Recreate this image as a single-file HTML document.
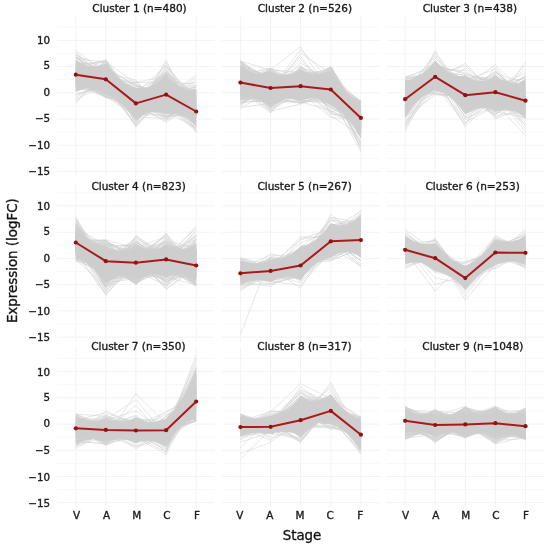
<!DOCTYPE html><html><head><meta charset="utf-8"><style>html,body{margin:0;padding:0;background:#fff;}svg{display:block;}text{font-family:"DejaVu Sans","Liberation Sans",sans-serif;stroke:#1a1a1a;stroke-width:0.35px;}</style></head><body>
<svg width="550" height="547" viewBox="0 0 550 547">
<rect width="550" height="547" fill="#fff"/>
<path d="M57.2 158.3H214.7M57.2 132.1H214.7M57.2 105.9H214.7M57.2 79.6H214.7M57.2 53.4H214.7M57.2 27.2H214.7M221.9 158.3H379.4M221.9 132.1H379.4M221.9 105.9H379.4M221.9 79.6H379.4M221.9 53.4H379.4M221.9 27.2H379.4M386.6 158.3H544M386.6 132.1H544M386.6 105.9H544M386.6 79.6H544M386.6 53.4H544M386.6 27.2H544M57.2 324H214.7M57.2 297.7H214.7M57.2 271.5H214.7M57.2 245.3H214.7M57.2 219.1H214.7M57.2 192.8H214.7M221.9 324H379.4M221.9 297.7H379.4M221.9 271.5H379.4M221.9 245.3H379.4M221.9 219.1H379.4M221.9 192.8H379.4M386.6 324H544M386.6 297.7H544M386.6 271.5H544M386.6 245.3H544M386.6 219.1H544M386.6 192.8H544M57.2 489.6H214.7M57.2 463.4H214.7M57.2 437.2H214.7M57.2 410.9H214.7M57.2 384.7H214.7M57.2 358.5H214.7M221.9 489.6H379.4M221.9 463.4H379.4M221.9 437.2H379.4M221.9 410.9H379.4M221.9 384.7H379.4M221.9 358.5H379.4M386.6 489.6H544M386.6 463.4H544M386.6 437.2H544M386.6 410.9H544M386.6 384.7H544M386.6 358.5H544" stroke="#f8f8f8" stroke-width="1" fill="none"/>
<path d="M57.2 171.4H214.7M57.2 145.2H214.7M57.2 119H214.7M57.2 92.8H214.7M57.2 66.5H214.7M57.2 40.3H214.7M75.8 16V175.7M105.8 16V175.7M135.9 16V175.7M166.1 16V175.7M196.2 16V175.7M221.9 171.4H379.4M221.9 145.2H379.4M221.9 119H379.4M221.9 92.8H379.4M221.9 66.5H379.4M221.9 40.3H379.4M240.4 16V175.7M270.6 16V175.7M300.6 16V175.7M330.8 16V175.7M360.9 16V175.7M386.6 171.4H544M386.6 145.2H544M386.6 119H544M386.6 92.8H544M386.6 66.5H544M386.6 40.3H544M405.1 16V175.7M435.2 16V175.7M465.3 16V175.7M495.4 16V175.7M525.5 16V175.7M57.2 337.1H214.7M57.2 310.9H214.7M57.2 284.6H214.7M57.2 258.4H214.7M57.2 232.2H214.7M57.2 205.9H214.7M75.8 183.5V342M105.8 183.5V342M135.9 183.5V342M166.1 183.5V342M196.2 183.5V342M221.9 337.1H379.4M221.9 310.9H379.4M221.9 284.6H379.4M221.9 258.4H379.4M221.9 232.2H379.4M221.9 205.9H379.4M240.4 183.5V342M270.6 183.5V342M300.6 183.5V342M330.8 183.5V342M360.9 183.5V342M386.6 337.1H544M386.6 310.9H544M386.6 284.6H544M386.6 258.4H544M386.6 232.2H544M386.6 205.9H544M405.1 183.5V342M435.2 183.5V342M465.3 183.5V342M495.4 183.5V342M525.5 183.5V342M57.2 502.7H214.7M57.2 476.5H214.7M57.2 450.3H214.7M57.2 424.1H214.7M57.2 397.8H214.7M57.2 371.6H214.7M75.8 348V507M105.8 348V507M135.9 348V507M166.1 348V507M196.2 348V507M221.9 502.7H379.4M221.9 476.5H379.4M221.9 450.3H379.4M221.9 424.1H379.4M221.9 397.8H379.4M221.9 371.6H379.4M240.4 348V507M270.6 348V507M300.6 348V507M330.8 348V507M360.9 348V507M386.6 502.7H544M386.6 476.5H544M386.6 450.3H544M386.6 424.1H544M386.6 397.8H544M386.6 371.6H544M405.1 348V507M435.2 348V507M465.3 348V507M495.4 348V507M525.5 348V507" stroke="#f2f2f2" stroke-width="1" fill="none"/>
<path d="M75.8 59.6L77.8 61.1L79.8 62.4L81.8 63.5L83.8 64.4L85.8 65.1L87.8 65.7L89.8 66.1L91.8 66.3L93.8 66.4L95.8 66.3L97.8 66L99.8 65.6L101.8 65L103.8 64.2L105.8 63.3L107.9 66.1L109.9 68.7L111.9 71.2L113.9 73.5L115.9 75.6L117.9 77.6L119.9 79.4L121.9 81L123.9 82.4L125.9 83.7L127.9 84.8L129.9 85.7L131.9 86.5L133.9 87L135.9 87.4L138 87.7L140 88L142 88L144 87.9L146 87.8L148 87.2L150 86.5L152 85.7L154 84.7L156 83.4L158 82L160 80.3L162 78.4L164 76.2L166.1 73.8L168.1 76.3L170.1 78.6L172.1 80.7L174.1 82.5L176.1 84.1L178.1 85.5L180.1 86.7L182.1 87.7L184.1 88.5L186.1 89L188.1 89.4L190.1 89.6L192.1 89.5L194.1 89.3L196.2 88.9L196.2 126.6L194.1 124.4L192.1 122.4L190.1 120.5L188.1 118.9L186.1 117.4L184.1 116.2L182.1 115.1L180.1 114.3L178.1 113.7L176.1 113.3L174.1 113.1L172.1 113.1L170.1 113.4L168.1 113.8L166.1 114.5L164 113.4L162 112.6L160 112L158 111.6L156 111.5L154 111.5L152 111.8L150 112.3L148 113L146 113.8L144 114.8L142 115.6L140 117.4L138 118.9L135.9 120.6L133.9 117.6L131.9 114.9L129.9 112.3L127.9 109.9L125.9 107.7L123.9 105.6L121.9 103.8L119.9 102.1L117.9 100.5L115.9 99.2L113.9 98L111.9 97L109.9 96.1L107.9 95.5L105.8 94.9L103.8 93.6L101.8 92.3L99.8 91.3L97.8 90.4L95.8 89.7L93.8 89.1L91.8 88.8L89.8 88.5L87.8 88.5L85.8 88.6L83.8 89L81.8 89.4L79.8 90.1L77.8 90.9L75.8 91.9 Z" fill="#cfcfcf"/>
<path d="M75.8 72.9L105.8 80.8L135.9 102.5L166.1 92.5L196.2 99.3M75.8 95.6L105.8 82.3L135.9 108.8L166.1 97.7L196.2 98.7M75.8 79.4L105.8 76.5L135.9 100.5L166.1 112.7L196.2 116.5M75.8 77.1L105.8 88.5L135.9 118.5L166.1 89.9L196.2 102.8M75.8 71.6L105.8 74.7L135.9 107.5L166.1 104.7L196.2 105.6M75.8 83L105.8 72.1L135.9 111.4L166.1 91.6L196.2 107.1M75.8 71.9L105.8 80.9L135.9 96.8L166.1 85L196.2 98.7M75.8 65.9L105.8 71.4L135.9 110.2L166.1 95.8L196.2 102.9M75.8 67.5L105.8 79.8L135.9 100L166.1 98.1L196.2 103.8M75.8 76L105.8 80.7L135.9 81.1L166.1 110.3L196.2 97.4M75.8 64.6L105.8 62.4L135.9 101.2L166.1 91.1L196.2 100.3M75.8 78.3L105.8 90.6L135.9 97.1L166.1 94.9L196.2 115.3M75.8 71.2L105.8 78.2L135.9 118.4L166.1 101.1L196.2 109.5M75.8 72.9L105.8 71.4L135.9 99.7L166.1 76.2L196.2 120.5M75.8 69.5L105.8 84.4L135.9 94.3L166.1 119.6L196.2 108.4M75.8 81L105.8 85.9L135.9 106.2L166.1 74.2L196.2 98M75.8 72.5L105.8 78L135.9 102.4L166.1 89.5L196.2 100.7M75.8 66.8L105.8 83.2L135.9 98.6L166.1 99.7L196.2 101.3M75.8 82.2L105.8 81.7L135.9 101.8L166.1 93.1L196.2 106.1M75.8 73L105.8 80.6L135.9 99.8L166.1 99.3L196.2 104.1M75.8 89.7L105.8 74.3L135.9 113.7L166.1 90L196.2 107.2M75.8 82.3L105.8 80.7L135.9 106.8L166.1 96.2L196.2 75.3M75.8 78.4L105.8 82.3L135.9 96.7L166.1 105.2L196.2 106.7M75.8 74.4L105.8 78.7L135.9 96.1L166.1 86L196.2 117.4M75.8 70.3L105.8 78.4L135.9 116.5L166.1 100.1L196.2 111.5M75.8 77.1L105.8 97.4L135.9 94L166.1 93.9L196.2 109.2M75.8 76.8L105.8 79.9L135.9 121.1L166.1 91.4L196.2 103.8M75.8 71.3L105.8 78.4L135.9 98.3L166.1 100.3L196.2 101.5M75.8 79L105.8 91.2L135.9 95.9L166.1 102.1L196.2 132.6M75.8 89.3L105.8 90.6L135.9 103L166.1 91.3L196.2 104M75.8 73.5L105.8 94.1L135.9 100.1L166.1 97.9L196.2 114.7M75.8 77.8L105.8 80.1L135.9 107.8L166.1 90.5L196.2 112.5M75.8 56.6L105.8 76.8L135.9 105.6L166.1 97.3L196.2 105.1M75.8 72.5L105.8 75L135.9 105.3L166.1 120.8L196.2 91.7M75.8 77.4L105.8 81.2L135.9 86.4L166.1 93.5L196.2 126.3M75.8 76.8L105.8 75.2L135.9 104.8L166.1 96L196.2 101M75.8 72.7L105.8 60.2L135.9 103L166.1 98.1L196.2 116M75.8 68.5L105.8 72.9L135.9 92.8L166.1 91.8L196.2 109.4M75.8 75.9L105.8 74.4L135.9 120.1L166.1 91L196.2 101.3M75.8 64.6L105.8 84.6L135.9 98.8L166.1 101.1L196.2 89.4M75.8 73.3L105.8 74.8L135.9 108.5L166.1 105.1L196.2 112.3M75.8 76.8L105.8 78L135.9 99.2L166.1 85.7L196.2 113.8M75.8 79.5L105.8 81.4L135.9 100.6L166.1 75.7L196.2 104.2M75.8 79.8L105.8 71.3L135.9 103.6L166.1 100L196.2 108.2M75.8 103.1L105.8 72L135.9 102L166.1 92.9L196.2 112M75.8 66.8L105.8 78.6L135.9 108.8L166.1 89.8L196.2 107.8M75.8 80.1L105.8 77.4L135.9 106.8L166.1 87.4L196.2 98M75.8 81.9L105.8 95.4L135.9 105.6L166.1 93L196.2 98.4M75.8 71.3L105.8 77.7L135.9 110.3L166.1 110.3L196.2 99.6M75.8 73.6L105.8 76.4L135.9 94.1L166.1 79.8L196.2 103.7M75.8 83.7L105.8 74.2L135.9 102.7L166.1 107.2L196.2 102.2M75.8 78L105.8 76.8L135.9 90.4L166.1 104L196.2 101.7M75.8 74.2L105.8 77.6L135.9 102.7L166.1 99.6L196.2 112.4M75.8 76.5L105.8 72.4L135.9 114.2L166.1 93.3L196.2 112.8M75.8 72.8L105.8 84.7L135.9 101L166.1 80.8L196.2 100.9M75.8 76.4L105.8 80.8L135.9 100.6L166.1 99.7L196.2 121.7M75.8 76.6L105.8 85.1L135.9 103.9L166.1 95.9L196.2 103.1M75.8 77.8L105.8 77.7L135.9 98.4L166.1 99.8L196.2 108.8M75.8 71.7L105.8 80.4L135.9 105.6L166.1 104.8L196.2 106.9M75.8 73.6L105.8 82.1L135.9 117.5L166.1 101.3L196.2 100.1M75.8 73.6L105.8 76.6L135.9 106.7L166.1 99.3L196.2 110.6M75.8 83.1L105.8 93.9L135.9 96.6L166.1 96.4L196.2 106M75.8 71.8L105.8 83.3L135.9 105.5L166.1 100.6L196.2 115M75.8 82.4L105.8 62.7L135.9 109.4L166.1 79.5L196.2 107M75.8 80.2L105.8 73.9L135.9 116.4L166.1 82.4L196.2 112M75.8 64.7L105.8 85.9L135.9 109.1L166.1 105.9L196.2 108.8M75.8 76L105.8 86.1L135.9 104.2L166.1 117.3L196.2 95.5M75.8 77.4L105.8 80.1L135.9 112.3L166.1 91L196.2 98.4M75.8 76.7L105.8 78.3L135.9 110.1L166.1 98L196.2 120.6M75.8 88.3L105.8 81.2L135.9 111.9L166.1 92.8L196.2 105.2M75.8 78.6L105.8 87.7L135.9 125L166.1 96.4L196.2 108.2M75.8 72.3L105.8 69.1L135.9 95.9L166.1 97.3L196.2 77.6M75.8 54.3L105.8 74.8L135.9 101.3L166.1 101.5L196.2 111.7M75.8 73.8L105.8 86.3L135.9 106.6L166.1 80.7L196.2 110.2M75.8 84.3L105.8 81.2L135.9 97.1L166.1 88.8L196.2 116.2M75.8 101.2L105.8 74.1L135.9 105L166.1 89.6L196.2 115.3M75.8 80.1L105.8 77L135.9 99L166.1 65.2L196.2 100.6M75.8 70L105.8 78.7L135.9 112.6L166.1 110.5L196.2 115.6M75.8 61.6L105.8 67.9L135.9 104.6L166.1 85.4L196.2 104.7M75.8 75.6L105.8 81.1L135.9 108.9L166.1 99.1L196.2 106.4M75.8 69.7L105.8 74.3L135.9 104.1L166.1 99.5L196.2 91.7M75.8 77.2L105.8 77.1L135.9 100.2L166.1 73.2L196.2 93.1M75.8 71.3L105.8 76.4L135.9 105.2L166.1 78.8L196.2 106.6M75.8 71.7L105.8 76.7L135.9 93.8L166.1 97.3L196.2 105.1M75.8 81.8L105.8 84.4L135.9 95.3L166.1 94.8L196.2 102.9M75.8 77.7L105.8 74.7L135.9 115.8L166.1 86.5L196.2 113M75.8 72.6L105.8 69.8L135.9 98.2L166.1 82.1L196.2 98.5M75.8 69.6L105.8 74L135.9 96.2L166.1 106.9L196.2 95.3M75.8 86.7L105.8 94.5L135.9 105L166.1 95.1L196.2 107.1M75.8 85.7L105.8 79.8L135.9 107.5L166.1 85.3L196.2 107.9M75.8 68.9L105.8 75.6L135.9 99.2L166.1 101.9L196.2 114.2M75.8 75.5L105.8 85L135.9 99L166.1 99.9L196.2 96.2M75.8 72.9L105.8 80.9L135.9 109.1L166.1 107.7L196.2 110.5M75.8 65.5L105.8 83.1L135.9 105.6L166.1 93.6L196.2 112.6M75.8 77L105.8 89.5L135.9 108.3L166.1 92.8L196.2 102.7M75.8 74.7L105.8 83.5L135.9 96L166.1 100.9L196.2 130.6M75.8 75L105.8 84.6L135.9 89.7L166.1 75.7L196.2 107.7M75.8 67.4L105.8 79.8L135.9 104.9L166.1 96.1L196.2 111.2M75.8 80.4L105.8 77.5L135.9 103.1L166.1 80.6L196.2 107.8M75.8 79.7L105.8 66.1L135.9 98.5L166.1 77.3L196.2 113.1M75.8 77.9L105.8 80.2L135.9 100.5L166.1 88.4L196.2 92.4M75.8 74.3L105.8 76.5L135.9 98.2L166.1 88.1L196.2 103.3M75.8 65L105.8 80L135.9 99.6L166.1 96.4L196.2 99.6M75.8 81.5L105.8 81.3L135.9 102.2L166.1 100.6L196.2 100.1M75.8 70.8L105.8 77L135.9 106.7L166.1 101.9L196.2 117.2M75.8 79.5L105.8 75.3L135.9 98.5L166.1 87.5L196.2 113.9M75.8 85.2L105.8 79.9L135.9 104.4L166.1 82L196.2 100.2M75.8 71.3L105.8 87.9L135.9 111.2L166.1 96.3L196.2 112.2M75.8 78.4L105.8 78L135.9 98.8L166.1 113.9L196.2 101.7M75.8 82L105.8 83.7L135.9 108L166.1 86.6L196.2 104.4M75.8 72.6L105.8 82.3L135.9 105.6L166.1 100L196.2 117.4M75.8 88.5L105.8 69.4L135.9 114.9L166.1 90.4L196.2 112.5M75.8 80L105.8 73.4L135.9 107.7L166.1 90.2L196.2 103.1M75.8 74.2L105.8 83.1L135.9 97.9L166.1 103L196.2 111.3M75.8 86.2L105.8 96.9L135.9 109.5L166.1 87.3L196.2 94.7M75.8 78.7L105.8 73.2L135.9 112L166.1 107.4L196.2 108.5M75.8 74.7L105.8 82.3L135.9 117.6L166.1 85.1L196.2 89.6M75.8 79.1L105.8 74L135.9 109.8L166.1 102.7L196.2 117.9M75.8 77.9L105.8 70.2L135.9 108.1L166.1 91.2L196.2 107.7M75.8 64.5L105.8 76.8L135.9 122.8L166.1 87L196.2 91.4M75.8 82.5L105.8 71.2L135.9 108.6L166.1 101.6L196.2 109.7M75.8 76.5L105.8 78.2L135.9 104.8L166.1 98.8L196.2 104.3M75.8 83.1L105.8 81.1L135.9 102.8L166.1 93.7L196.2 101.1M75.8 72.6L105.8 74.3L135.9 105.7L166.1 102.1L196.2 96.7M75.8 74.2L105.8 77.7L135.9 97.9L166.1 80.9L196.2 110.2M75.8 80.4L105.8 98L135.9 95.8L166.1 85.2L196.2 107M75.8 78.3L105.8 74.2L135.9 101.1L166.1 101.1L196.2 111.1M75.8 87.5L105.8 83.8L135.9 102.4L166.1 88.8L196.2 108M75.8 78.1L105.8 75.3L135.9 106.3L166.1 101.1L196.2 106.8M75.8 78.6L105.8 79.2L135.9 99.5L166.1 104.2L196.2 89.4M75.8 88.7L105.8 76.4L135.9 106.4L166.1 89.1L196.2 111.7M75.8 74.9L105.8 79.8L135.9 105.7L166.1 92.4L196.2 92.4M75.8 70L105.8 79.6L135.9 100.1L166.1 84.7L196.2 98.8M75.8 81.7L105.8 71.7L135.9 100.9L166.1 103.4L196.2 110.2M75.8 69.4L105.8 67.9L135.9 85.7L166.1 93L196.2 125.3M75.8 75.8L105.8 96.8L135.9 116.1L166.1 104.3L196.2 109.4M75.8 61.9L105.8 84.5L135.9 103.5L166.1 94.1L196.2 104M75.8 73.5L105.8 74.7L135.9 99L166.1 113.2L196.2 93.2M75.8 81.7L105.8 82.7L135.9 99.4L166.1 93.8L196.2 92.2M75.8 82.2L105.8 81.1L135.9 110.4L166.1 90.2L196.2 111.6M75.8 77.7L105.8 86.1L135.9 109.2L166.1 103.7L196.2 108.6M75.8 80.4L105.8 68.5L135.9 123.9L166.1 99.7L196.2 117.6M75.8 78.1L105.8 73.2L135.9 104L166.1 96.1L196.2 106.4M75.8 71.9L105.8 82.7L135.9 105.9L166.1 100.7L196.2 108M75.8 83.6L105.8 77.1L135.9 105.1L166.1 107.1L196.2 112.7M75.8 61.5L105.8 74.4L135.9 115.6L166.1 76.4L196.2 131.6M75.8 77.4L105.8 73.9L135.9 103L166.1 108.3L196.2 104.4M75.8 77.5L105.8 77.4L135.9 106L166.1 97L196.2 87.6M75.8 65L105.8 84.3L135.9 126.1L166.1 88.2L196.2 102.5M75.8 78.7L105.8 81.7L135.9 107.1L166.1 92.5L196.2 105.4M75.8 77.1L105.8 77.2L135.9 127.2L166.1 92.8L196.2 120M75.8 71.6L105.8 83.9L135.9 108.1L166.1 93.1L196.2 109.1M75.8 76.1L105.8 80.1L135.9 115L166.1 69.9L196.2 111.1M75.8 79.2L105.8 70.7L135.9 99L166.1 87.3L196.2 121.8M75.8 83.5L105.8 96.1L135.9 106.6L166.1 89.9L196.2 99.6M75.8 85.8L105.8 80.9L135.9 102.1L166.1 115.8L196.2 107.1M75.8 67.5L105.8 81.5L135.9 93.2L166.1 93.3L196.2 114M75.8 79L105.8 75L135.9 121.7L166.1 86.4L196.2 102.6M75.8 70.4L105.8 82.8L135.9 109.4L166.1 90.5L196.2 106.7M75.8 90.4L105.8 64.5L135.9 109.6L166.1 98.1L196.2 112.9M75.8 84.7L105.8 80.7L135.9 107.9L166.1 112.6L196.2 108.8M75.8 65.8L105.8 84.9L135.9 99.4L166.1 91.5L196.2 95.8M75.8 82.8L105.8 79.8L135.9 98.1L166.1 79.9L196.2 103.8M75.8 80.2L105.8 76.7L135.9 102.1L166.1 83.1L196.2 114.4M75.8 78.3L105.8 81.5L135.9 103.2L166.1 100.3L196.2 112.5M75.8 77.5L105.8 90.6L135.9 116.4L166.1 110.1L196.2 121.1M75.8 80.8L105.8 79L135.9 103L166.1 92.9L196.2 109.5M75.8 79.2L105.8 64L135.9 101L166.1 100.9L196.2 110.8M75.8 76.3L105.8 82.4L135.9 112.8L166.1 94L196.2 116.8M75.8 91.3L105.8 82.3L135.9 113.3L166.1 96.1L196.2 101.2M75.8 67.4L105.8 77.7L135.9 103.1L166.1 93.9L196.2 113.4M75.8 79L105.8 78.6L135.9 108.9L166.1 85.6L196.2 117.6M75.8 52.1L105.8 80L135.9 88.7L166.1 104.9L196.2 114.2M75.8 71.7L105.8 83.4L135.9 114.4L166.1 94.5L196.2 100.3M75.8 74.9L105.8 85.3L135.9 115.7L166.1 95L196.2 113M75.8 53.6L105.8 87.5L135.9 104.1L166.1 94.8L196.2 107M75.8 74.8L105.8 70.9L135.9 113.6L166.1 78.3L196.2 109.9M75.8 81.4L105.8 70.7L135.9 110.5L166.1 87.2L196.2 91.7M75.8 72.1L105.8 66.7L135.9 103.6L166.1 91.8L196.2 122.1M75.8 55.1L105.8 88.5L135.9 106L166.1 90L196.2 105.6M75.8 69.7L105.8 78.5L135.9 109.1L166.1 99.9L196.2 115.6M75.8 74.1L105.8 67.8L135.9 105.2L166.1 96.1L196.2 114.6M75.8 78.9L105.8 78.9L135.9 102.8L166.1 91.3L196.2 103.8M75.8 75.2L105.8 79L135.9 98.3L166.1 93.4L196.2 113.1M75.8 77L105.8 70.9L135.9 102.1L166.1 91.2L196.2 102.4M75.8 77.1L105.8 67.2L135.9 118.2L166.1 87.3L196.2 112.3M75.8 73.8L105.8 89.4L135.9 102.4L166.1 88.7L196.2 127.2M75.8 72L105.8 74.9L135.9 93.1L166.1 117.3L196.2 105.7M75.8 58.1L105.8 79.4L135.9 104.9L166.1 94.8L196.2 111.9M75.8 86.5L105.8 87L135.9 108.6L166.1 87L196.2 112.9M75.8 73.5L105.8 83.7L135.9 105.2L166.1 94.3L196.2 86.6M75.8 71.1L105.8 84.5L135.9 110.1L166.1 97.2L196.2 112.6M75.8 69.7L105.8 81L135.9 109.7L166.1 113L196.2 119.3M75.8 72.9L105.8 76.6L135.9 113.8L166.1 88.6L196.2 116.2M75.8 81.7L105.8 78.6L135.9 98L166.1 90L196.2 102.4M75.8 72.8L105.8 79.5L135.9 90.1L166.1 89.5L196.2 105.6M75.8 69.2L105.8 76.4L135.9 108.1L166.1 82.8L196.2 100M75.8 80.7L105.8 90.7L135.9 114.4L166.1 60.2L196.2 122.8M75.8 71.6L105.8 72L135.9 107.8L166.1 108.9L196.2 108.7M75.8 70.1L105.8 82.7L135.9 97.5L166.1 94.4L196.2 105.4M75.8 84.1L105.8 76.8L135.9 104.4L166.1 111.3L196.2 110.5M75.8 55.1L105.8 68.3L135.9 113.6L166.1 94.5L196.2 111M75.8 69.7L105.8 79.4L135.9 109.1L166.1 93.5L196.2 116.4M75.8 71.6L105.8 77.7L135.9 91.7L166.1 87.4L196.2 131.5M75.8 78.4L105.8 84.7L135.9 95.7L166.1 95.1L196.2 109.4M75.8 78.7L105.8 79.3L135.9 101.7L166.1 100.6L196.2 105.5M75.8 81L105.8 72.4L135.9 97.1L166.1 90.4L196.2 97.8M75.8 79.9L105.8 90L135.9 82.4L166.1 76.2L196.2 125.7M75.8 67.9L105.8 60L135.9 110L166.1 86L196.2 111.5M75.8 78.4L105.8 86.2L135.9 98.7L166.1 86.1L196.2 106M75.8 87.1L105.8 80.7L135.9 114.6L166.1 106L196.2 106.9M75.8 72L105.8 82.7L135.9 96.1L166.1 93L196.2 105.3M75.8 83.1L105.8 68.3L135.9 103.8L166.1 101.8L196.2 79.9M75.8 77.4L105.8 68.9L135.9 108.8L166.1 82.2L196.2 110.9M75.8 71.6L105.8 80.4L135.9 97.3L166.1 94.7L196.2 106.3M75.8 76.8L105.8 80.5L135.9 100.7L166.1 89.5L196.2 104.3M75.8 76L105.8 73.3L135.9 96.4L166.1 87.5L196.2 113.9M75.8 85.2L105.8 88.6L135.9 95.9L166.1 102.5L196.2 102.3M75.8 80.3L105.8 77.1L135.9 116.7L166.1 97.9L196.2 110.5M75.8 82.4L105.8 76.8L135.9 105.3L166.1 94.9L196.2 113.3M75.8 80.7L105.8 96.4L135.9 104.5L166.1 84.4L196.2 110.7M75.8 80.8L105.8 81.1L135.9 95.1L166.1 104.1L196.2 107.7M75.8 67.9L105.8 90.6L135.9 102.1L166.1 92.1L196.2 119.9M75.8 87.2L105.8 63.8L135.9 108.3L166.1 105.2L196.2 107M75.8 78.2L105.8 95.4L135.9 113.3L166.1 110.2L196.2 113.6M75.8 81.3L105.8 61.5L135.9 83.3L166.1 104.6L196.2 125.1M75.8 70.8L105.8 79.6L135.9 102.1L166.1 92.7L196.2 110.4M75.8 73.6L105.8 77.2L135.9 110L166.1 104L196.2 111.2M75.8 75.2L105.8 78.1L135.9 90.9L166.1 92L196.2 98.8M75.8 74.2L105.8 83.5L135.9 100.5L166.1 82.8L196.2 114.8M75.8 65.2L105.8 70.9L135.9 97.2L166.1 71.6L196.2 98.8M75.8 65.3L105.8 83.5L135.9 102.5L166.1 98.3L196.2 114.6M75.8 75.9L105.8 77.8L135.9 104.9L166.1 95.9L196.2 115.8M75.8 75.3L105.8 72.2L135.9 88.7L166.1 88.1L196.2 107.4M75.8 77.5L105.8 81.1L135.9 96.7L166.1 104.4L196.2 101.7M75.8 76.8L105.8 81.2L135.9 98.8L166.1 99.7L196.2 103.1M75.8 84.1L105.8 72.7L135.9 102.6L166.1 94.3L196.2 102M75.8 76.4L105.8 87.2L135.9 102.8L166.1 92.1L196.2 115.9M75.8 64.6L105.8 77.6L135.9 100.9L166.1 97.5L196.2 115.1M75.8 86.6L105.8 78.5L135.9 101L166.1 95.8L196.2 100.4M75.8 74.9L105.8 78.1L135.9 110.7L166.1 107.9L196.2 99.1M75.8 75.3L105.8 84.5L135.9 105.1L166.1 107.7L196.2 97.2M75.8 72.7L105.8 81.4L135.9 98.7L166.1 98.9L196.2 114.9M75.8 77.5L105.8 82.5L135.9 110.5L166.1 96.8L196.2 111.2M75.8 76.3L105.8 87.7L135.9 108L166.1 95.7L196.2 115.9M75.8 70L105.8 70.7L135.9 108.1L166.1 89L196.2 109.1M75.8 78.8L105.8 69.4L135.9 110.3L166.1 89.2L196.2 119.2M75.8 67L105.8 72.5L135.9 85.7L166.1 92.1L196.2 102.1M75.8 72.6L105.8 87L135.9 100L166.1 96.2L196.2 115.4M75.8 75.7L105.8 86.8L135.9 107.2L166.1 100.9L196.2 121.9M75.8 76.6L105.8 77.3L135.9 101.2L166.1 94.1L196.2 109.5M75.8 65.6L105.8 86.1L135.9 98.3L166.1 81.2L196.2 98M75.8 69L105.8 75.4L135.9 100.3L166.1 86.8L196.2 111.3M75.8 87.6L105.8 74.2L135.9 107.9L166.1 91.6L196.2 110.8M75.8 82.2L105.8 79.1L135.9 109.4L166.1 100.4L196.2 110.6M75.8 78.3L105.8 62.1L135.9 102.2L166.1 100.9L196.2 108.5M75.8 69.9L105.8 94.3L135.9 100.8L166.1 112.3L196.2 127.6M75.8 84.1L105.8 84.4L135.9 94L166.1 91.4L196.2 106.6M75.8 77.2L105.8 88L135.9 99.4L166.1 90.3L196.2 99.5M75.8 83.3L105.8 89.2L135.9 103.9L166.1 72.4L196.2 108.5M75.8 84.7L105.8 79.2L135.9 92.2L166.1 104.4L196.2 105.5M75.8 85.4L105.8 74.2L135.9 90.5L166.1 90.2L196.2 112.1M75.8 84L105.8 76.5L135.9 96.6L166.1 88.7L196.2 112.1M75.8 80.4L105.8 70.8L135.9 96.7L166.1 73.2L196.2 108.1M75.8 82L105.8 83.7L135.9 103.2L166.1 92.2L196.2 121.1M75.8 78.2L105.8 83.9L135.9 100.4L166.1 100.5L196.2 121.5M75.8 73.7L105.8 79.6L135.9 103.3L166.1 88.2L196.2 120.2M75.8 76.8L105.8 80.5L135.9 104L166.1 96.5L196.2 109.8M75.8 76.6L105.8 82.5L135.9 106.4L166.1 82.6L196.2 114.8M75.8 81.7L105.8 79.7L135.9 106.3L166.1 101.9L196.2 128.5M75.8 78.8L105.8 77.4L135.9 83.6L166.1 110.2L196.2 114.9M75.8 84.1L105.8 77.7L135.9 102.2L166.1 90L196.2 120.3M75.8 86L105.8 84.1L135.9 93.1L166.1 97.5L196.2 108.6M75.8 87L105.8 78L135.9 111.4L166.1 78.8L196.2 101.2M75.8 71.8L105.8 77.8L135.9 117.1L166.1 118.3L196.2 98.5M75.8 67.7L105.8 80.8L135.9 102.5L166.1 105.2L196.2 100.4M75.8 80.8L105.8 90.4L135.9 102.1L166.1 119L196.2 95.9M75.8 83.2L105.8 79.4L135.9 106.3L166.1 97.4L196.2 105M75.8 70.3L105.8 86.8L135.9 106.5L166.1 94.2L196.2 106.3M75.8 76.6L105.8 88.2L135.9 94.4L166.1 82.5L196.2 105.6M75.8 72.3L105.8 85.2L135.9 94.2L166.1 98.3L196.2 116.5M75.8 73.5L105.8 79.9L135.9 96.5L166.1 88.8L196.2 110.8M75.8 80.7L105.8 79.2L135.9 98.2L166.1 93.4L196.2 100.1M75.8 68.5L105.8 71L135.9 97.6L166.1 89.7L196.2 111.5M75.8 74.4L105.8 77.4L135.9 104L166.1 88.9L196.2 103.2M75.8 80.5L105.8 85.8L135.9 103.1L166.1 80.8L196.2 105.4M75.8 66.7L105.8 79.1L135.9 105.3L166.1 83.1L196.2 101M75.8 76.7L105.8 69.3L135.9 91L166.1 88.6L196.2 116M75.8 65.6L105.8 73.3L135.9 111.4L166.1 76.1L196.2 106.4M75.8 73.6L105.8 78.4L135.9 99.8L166.1 83.4L196.2 107.7M75.8 71.7L105.8 90.8L135.9 103.4L166.1 97.9L196.2 114.3M75.8 70.5L105.8 78.3L135.9 112.6L166.1 88.7L196.2 97.6M75.8 85.9L105.8 91.7L135.9 109.9L166.1 88.5L196.2 102.1M75.8 66.1L105.8 86.6L135.9 109.3L166.1 83.4L196.2 117.4M75.8 66.1L105.8 92.8L135.9 117.4L166.1 89.6L196.2 117.4M75.8 74.5L105.8 79L135.9 86.1L166.1 104L196.2 93.5M75.8 74.6L105.8 88.5L135.9 113.9L166.1 94.2L196.2 98.6M75.8 72.4L105.8 94L135.9 98.6L166.1 83.7L196.2 97.3M75.8 68.4L105.8 82.3L135.9 103.8L166.1 97L196.2 103.2M75.8 74.1L105.8 75.1L135.9 110.8L166.1 88.1L196.2 108.2M75.8 90.7L105.8 78.6L135.9 100.2L166.1 87.6L196.2 96.1M75.8 75.8L105.8 67L135.9 101.6L166.1 96.9L196.2 113.3M75.8 93.8L105.8 86.5L135.9 106.4L166.1 81.8L196.2 114.5M75.8 79.3L105.8 81.3L135.9 116.5L166.1 99.3L196.2 102.8M75.8 77.8L105.8 89.7L135.9 97.7L166.1 97.8L196.2 106.8M75.8 78.3L105.8 77.4L135.9 102.9L166.1 90L196.2 108.4M75.8 80.9L105.8 68L135.9 105.5L166.1 83.3L196.2 113.8M75.8 80.7L105.8 82.6L135.9 94.4L166.1 82.6L196.2 100.3M75.8 79.5L105.8 65.8L135.9 108.2L166.1 113.2L196.2 97.6M75.8 71.6L105.8 82L135.9 106L166.1 84.5L196.2 104.9M75.8 76.1L105.8 79.2L135.9 104.2L166.1 69.3L196.2 111.9M75.8 81L105.8 96.5L135.9 109.6L166.1 108.3L196.2 118M75.8 69.8L105.8 65.4L135.9 95.2L166.1 92.7L196.2 116.5M75.8 75.5L105.8 90.3L135.9 107L166.1 83.2L196.2 109.8M75.8 79.6L105.8 76.5L135.9 106.9L166.1 87.5L196.2 108.6M75.8 71.2L105.8 80.9L135.9 109.6L166.1 84.8L196.2 100.9M75.8 75.6L105.8 86.6L135.9 103.6L166.1 96.3L196.2 114.6M75.8 58.4L105.8 80.5L135.9 115.1L166.1 99L196.2 113.6M75.8 64.1L105.8 74.3L135.9 103L166.1 100.4L196.2 103.4M75.8 85L105.8 81.1L135.9 104.6L166.1 85L196.2 108.2M75.8 75.2L105.8 77.2L135.9 92.1L166.1 82.8L196.2 108.3M75.8 57.2L105.8 73.8L135.9 105.8L166.1 101.6L196.2 124M75.8 73.9L105.8 80.7L135.9 112.6L166.1 101.8L196.2 110.1M75.8 66.1L105.8 92.4L135.9 102.6L166.1 77.4L196.2 109.4M75.8 75.9L105.8 73.8L135.9 104L166.1 87.4L196.2 82.1M75.8 89.4L105.8 59.6L135.9 99.4L166.1 80.4L196.2 105.6M75.8 64.8L105.8 74.2L135.9 105.4L166.1 91.5L196.2 103.4M75.8 66.6L105.8 74.6L135.9 100.4L166.1 90.4L196.2 107M75.8 77.8L105.8 69.4L135.9 105.3L166.1 93.1L196.2 98.3M75.8 73L105.8 78.9L135.9 110.4L166.1 106.5L196.2 107.6M75.8 70.4L105.8 71.4L135.9 103.7L166.1 91.2L196.2 104.9M75.8 84.5L105.8 91.3L135.9 107.2L166.1 101.1L196.2 104.6M75.8 72.3L105.8 67.9L135.9 95.6L166.1 88.6L196.2 98.2M75.8 72.8L105.8 91L135.9 112.5L166.1 101.3L196.2 111.1M75.8 79.3L105.8 77.4L135.9 114L166.1 100.2L196.2 103.1M75.8 70.4L105.8 78.3L135.9 105.2L166.1 109.5L196.2 111.2M75.8 72.6L105.8 64.5L135.9 107.7L166.1 106.8L196.2 114.7M75.8 88.1L105.8 84.7L135.9 109.7L166.1 89.3L196.2 103.1M75.8 71.6L105.8 76.1L135.9 93.7L166.1 64.8L196.2 117.6M75.8 64.8L105.8 60.9L135.9 114L166.1 107.1L196.2 129.6M75.8 69L105.8 73.3L135.9 108L166.1 94.5L196.2 107.5M75.8 79.5L105.8 84.8L135.9 110L166.1 117.1L196.2 112.2M75.8 71.7L105.8 71.9L135.9 110.5L166.1 85.6L196.2 101.4M75.8 82.1L105.8 72.1L135.9 104L166.1 94.5L196.2 99.1M75.8 57.6L105.8 74.2L135.9 100.7L166.1 100.4L196.2 116.6M75.8 78L105.8 73.3L135.9 104.7L166.1 98.8L196.2 95.2M75.8 89.2L105.8 68.5L135.9 97.3L166.1 101.1L196.2 107.6M75.8 66.8L105.8 93.4L135.9 104.3L166.1 82.9L196.2 111.2M75.8 75.2L105.8 77.3L135.9 102.9L166.1 94.5L196.2 111.7M75.8 80.4L105.8 78.3L135.9 100.1L166.1 88.6L196.2 107.2M75.8 81.6L105.8 88.3L135.9 105.7L166.1 91.2L196.2 110.3M75.8 73.5L105.8 78.7L135.9 100.8L166.1 89L196.2 111.9M75.8 81.2L105.8 84.1L135.9 110.8L166.1 105.1L196.2 91.9M75.8 64.9L105.8 83.7L135.9 110.2L166.1 91.7L196.2 124.1M75.8 81.4L105.8 68.8L135.9 108.9L166.1 95.2L196.2 104.2M75.8 79.1L105.8 72.5L135.9 99.4L166.1 92.6L196.2 96.8M75.8 79.1L105.8 85.6L135.9 107.3L166.1 102.8L196.2 110.4M75.8 67.4L105.8 79.4L135.9 103.4L166.1 90.3L196.2 96.5M75.8 80.9L105.8 82.6L135.9 107.6L166.1 86.8L196.2 118.9M75.8 75.4L105.8 66.6L135.9 97.2L166.1 112.5L196.2 113.7M75.8 88.8L105.8 77.6L135.9 103L166.1 113.4L196.2 106.9M75.8 80L105.8 80L135.9 109.2L166.1 87.3L196.2 104.1M75.8 71.5L105.8 81.2L135.9 105.4L166.1 106.4L196.2 117.4M75.8 73.8L105.8 80.3L135.9 116L166.1 86.4L196.2 92M75.8 76.7L105.8 84.3L135.9 103.1L166.1 86.1L196.2 114.4M75.8 67L105.8 75.7L135.9 111.4L166.1 91L196.2 103.5M75.8 78.3L105.8 79.4L135.9 100.3L166.1 95L196.2 108.1M75.8 63.3L105.8 75.9L135.9 109.4L166.1 90.9L196.2 118.8M75.8 72.3L105.8 73.7L135.9 79.9L166.1 118.1L196.2 101.4M75.8 84.5L105.8 83L135.9 97.7L166.1 93.5L196.2 87M75.8 84.4L105.8 74.8L135.9 98.4L166.1 82.9L196.2 104.8M75.8 83.5L105.8 83.2L135.9 91.4L166.1 88.2L196.2 86.7M75.8 87.6L105.8 83.8L135.9 108.2L166.1 81.2L196.2 84.4M75.8 73.4L105.8 79.4L135.9 96.2L166.1 84.2L196.2 99.2M75.8 68L105.8 74.4L135.9 101L166.1 87.7L196.2 85.4M75.8 77.9L105.8 81.7L135.9 96.7L166.1 103.6L196.2 113.2M75.8 71.6L105.8 84.1L135.9 82.4L166.1 82.3L196.2 116.8M75.8 86.7L105.8 80L135.9 103.7L166.1 99.3L196.2 105.5M75.8 71.5L105.8 85.3L135.9 110.8L166.1 94.7L196.2 126.4M75.8 72.7L105.8 74.5L135.9 104.6L166.1 91.9L196.2 114.8M75.8 84.1L105.8 82.5L135.9 101.7L166.1 93.5L196.2 107.7M75.8 81.9L105.8 86.4L135.9 106.9L166.1 113.2L196.2 105M75.8 76.6L105.8 82.8L135.9 105.5L166.1 82.4L196.2 106.6M75.8 69.2L105.8 65.5L135.9 96.4L166.1 92.1L196.2 109.6M75.8 71.7L105.8 71.3L135.9 106.7L166.1 103.1L196.2 109.1M75.8 73.5L105.8 78L135.9 106.3L166.1 102.9L196.2 103.4M75.8 77.5L105.8 81.6L135.9 110.8L166.1 76.5L196.2 107.7M75.8 72.7L105.8 80.6L135.9 109.1L166.1 90.9L196.2 111M75.8 73.5L105.8 86.9L135.9 94.3L166.1 99.9L196.2 109.9M75.8 65L105.8 88.7L135.9 104.5L166.1 90.9L196.2 107.7M75.8 94.3L105.8 87L135.9 105L166.1 93.4L196.2 119M75.8 73.5L105.8 86L135.9 107.4L166.1 107.6L196.2 96.5M75.8 77.6L105.8 78.6L135.9 90.2L166.1 116.4L196.2 104.5M75.8 77.5L105.8 82.9L135.9 104.5L166.1 110.9L196.2 117.6M75.8 77.1L105.8 68.6L135.9 84.9L166.1 101.4L196.2 114.8M75.8 78.5L105.8 83L135.9 114.5L166.1 81.8L196.2 94.5M75.8 71.6L105.8 77.2L135.9 103.6L166.1 71.4L196.2 109.9M75.8 77.6L105.8 74.1L135.9 118.9L166.1 98.1L196.2 99.5M75.8 76.5L105.8 82.7L135.9 109.2L166.1 85.8L196.2 111.4M75.8 76.1L105.8 80L135.9 112.9L166.1 92.1L196.2 113M75.8 87.3L105.8 80.6L135.9 98.5L166.1 97.6L196.2 96.9M75.8 75.7L105.8 66.5L135.9 111.5L166.1 94.2L196.2 107.7M75.8 76.1L105.8 82.9L135.9 101.5L166.1 86.9L196.2 121.9M75.8 75.4L105.8 95.9L135.9 104.3L166.1 87.6L196.2 118.9M75.8 87L105.8 81.5L135.9 110.1L166.1 96L196.2 108.9M75.8 85.1L105.8 72.2L135.9 114.8L166.1 115.3L196.2 101.7M75.8 81L105.8 87.6L135.9 96L166.1 105.2L196.2 110.4M75.8 73.5L105.8 64.3L135.9 96.9L166.1 103.2L196.2 103M75.8 99.4L105.8 85L135.9 105.3L166.1 79.2L196.2 104.9M75.8 76.2L105.8 78.6L135.9 103.3L166.1 88.3L196.2 105M75.8 80.6L105.8 90.3L135.9 111.2L166.1 90.3L196.2 102.5M75.8 77.8L105.8 82.3L135.9 99L166.1 106.2L196.2 99.2M75.8 76L105.8 79.1L135.9 99.7L166.1 92.2L196.2 100M75.8 82.4L105.8 79.9L135.9 99.8L166.1 86.6L196.2 104.1M75.8 69.7L105.8 86.2L135.9 110.8L166.1 62.5L196.2 110.6M75.8 85.4L105.8 78.9L135.9 102.5L166.1 101.4L196.2 108.9M75.8 80L105.8 84.7L135.9 111.6L166.1 88.4L196.2 114.1M75.8 62L105.8 80.4L135.9 110.7L166.1 89.4L196.2 114M75.8 85.4L105.8 79.3L135.9 109L166.1 99.6L196.2 106.6M75.8 84.4L105.8 89.8L135.9 115.6L166.1 102.4L196.2 95M75.8 78L105.8 74.8L135.9 92.2L166.1 92L196.2 113.4M75.8 74.5L105.8 79.9L135.9 107.2L166.1 94.7L196.2 110.5M75.8 75.8L105.8 73L135.9 98.8L166.1 109.2L196.2 106.2M75.8 75.3L105.8 81L135.9 102.7L166.1 97.3L196.2 99.6M75.8 74.8L105.8 81.6L135.9 97.4L166.1 90.5L196.2 101.7M75.8 77.9L105.8 80.5L135.9 110.2L166.1 93.5L196.2 95.2M75.8 76L105.8 87.1L135.9 108.1L166.1 92.4L196.2 103.7M75.8 72.3L105.8 72.6L135.9 112.9L166.1 91.7L196.2 109.8M75.8 58.1L105.8 62.4L135.9 102.2L166.1 96.2L196.2 109.5M75.8 70.2L105.8 79.5L135.9 112.9L166.1 97.7L196.2 104.6M75.8 74L105.8 82.5L135.9 98.9L166.1 86.8L196.2 111.9M75.8 71.2L105.8 80.6L135.9 102.4L166.1 91.8L196.2 95.3M75.8 71.1L105.8 84.7L135.9 108.1L166.1 72.6L196.2 98.7M75.8 70.1L105.8 89.2L135.9 98L166.1 104.4L196.2 98.1M75.8 67.6L105.8 86.5L135.9 91.5L166.1 103.7L196.2 99M75.8 87.3L105.8 75.5L135.9 112.7L166.1 93.4L196.2 116.7M75.8 73.2L105.8 86.2L135.9 109.5L166.1 101.2L196.2 128.6M75.8 73L105.8 81L135.9 103.9L166.1 92.5L196.2 101M75.8 73.6L105.8 88.1L135.9 97.1L166.1 87.4L196.2 115.1M75.8 72.8L105.8 78.2L135.9 105.5L166.1 122.1L196.2 102.5M75.8 68.1L105.8 79.8L135.9 113.3L166.1 108.7L196.2 111.7M75.8 84.8L105.8 73.3L135.9 106.9L166.1 89.4L196.2 100.3M75.8 63.1L105.8 86.1L135.9 98.9L166.1 116.3L196.2 114M75.8 69.4L105.8 82.3L135.9 101.9L166.1 86.9L196.2 108M75.8 80.7L105.8 76.8L135.9 100.5L166.1 92.4L196.2 107.9M75.8 73.3L105.8 83L135.9 124.6L166.1 73.8L196.2 117.1M75.8 80.1L105.8 78.8L135.9 105.6L166.1 92.5L196.2 105.3M75.8 97.5L105.8 80.8L135.9 107.2L166.1 99.2L196.2 117.7M75.8 75L105.8 75.5L135.9 98.8L166.1 76.2L196.2 105.1M75.8 71.3L105.8 80.8L135.9 103.6L166.1 104.4L196.2 113.8M75.8 75L105.8 85.9L135.9 107.1L166.1 91.3L196.2 102.7M75.8 81.2L105.8 75.8L135.9 108L166.1 96.5L196.2 101.3M75.8 66.8L105.8 83.9L135.9 105.7L166.1 86.9L196.2 110.2M75.8 76.7L105.8 87L135.9 106.5L166.1 67L196.2 113.1M75.8 88.1L105.8 72.1L135.9 102L166.1 86L196.2 115.7M75.8 68.6L105.8 77.8L135.9 101.2L166.1 97.2L196.2 116.5M75.8 83L105.8 86.9L135.9 107.7L166.1 103.7L196.2 91.4M75.8 77.5L105.8 76.1L135.9 117.3L166.1 98.2L196.2 105.8M75.8 75.4L105.8 73.9L135.9 105.2L166.1 91.3L196.2 101.8M75.8 75.6L105.8 72.3L135.9 102.9L166.1 73.4L196.2 114.9M75.8 74.5L105.8 83L135.9 96.8L166.1 101.1L196.2 120.6M75.8 70.4L105.8 71.3L135.9 104.8L166.1 97.1L196.2 102M75.8 67.3L105.8 74.5L135.9 111.5L166.1 66.6L196.2 99.9M75.8 89.3L105.8 81L135.9 95.3L166.1 92.4L196.2 98.2M75.8 50.6L105.8 72.8L135.9 107.9L166.1 87.9L196.2 108.3M75.8 73.2L105.8 82.4L135.9 106.5L166.1 98.9L196.2 118M75.8 83.4L105.8 78.7L135.9 110.1L166.1 96.1L196.2 106.9M75.8 75.8L105.8 73L135.9 102.8L166.1 98.6L196.2 100.3M75.8 75.2L105.8 71.7L135.9 110.5L166.1 89.1L196.2 113.3M75.8 68.1L105.8 69.3L135.9 95.9L166.1 95L196.2 101.4M75.8 79.3L105.8 76L135.9 107.2L166.1 102.1L196.2 103.3M75.8 86.6L105.8 64.1L135.9 98.9L166.1 94.8L196.2 113.9M75.8 65L105.8 68.7L135.9 104.2L166.1 85.3L196.2 123.2M75.8 82.7L105.8 86.5L135.9 100.9L166.1 100.6L196.2 116.7M75.8 67.6L105.8 92.3L135.9 102.3L166.1 100L196.2 104.7M75.8 75.3L105.8 84.9L135.9 101.5L166.1 87.5L196.2 97.3M75.8 67.9L105.8 73.7L135.9 107L166.1 105.2L196.2 103M75.8 78L105.8 80L135.9 104.3L166.1 91.2L196.2 126.4M75.8 74.2L105.8 78.6L135.9 105.3L166.1 75.6L196.2 107.6M75.8 70.6L105.8 89.2L135.9 107.7L166.1 86.9L196.2 117.2" stroke="#cfcfcf" stroke-width="0.5" fill="none" stroke-linejoin="round"/>
<path d="M240.4 64.8L242.5 66.5L244.5 68.1L246.5 69.5L248.5 70.6L250.5 71.6L252.5 72.4L254.5 73L256.5 73.4L258.5 73.6L260.5 73.6L262.5 73.7L264.5 73.1L266.5 72.5L268.5 71.8L270.6 70.8L272.6 72L274.6 73.1L276.6 73.9L278.6 74.5L280.6 74.9L282.6 75.2L284.6 75.2L286.6 75L288.6 74.7L290.6 74.2L292.6 73.6L294.6 72.7L296.6 71.7L298.6 70.6L300.6 69.3L302.7 70.5L304.7 71.5L306.7 72.4L308.7 73.2L310.7 73.7L312.7 74.1L314.7 74.3L316.7 74.4L318.7 74.2L320.7 73.9L322.7 73.4L324.7 72.7L326.7 71.8L328.7 70.6L330.8 69.3L332.8 72.9L334.8 76.2L336.8 79.4L338.8 82.4L340.8 85.2L342.8 87.8L344.8 90.2L346.8 92.6L348.8 94.4L350.8 96.2L352.8 97.9L354.8 99.3L356.8 100.6L358.8 101.6L360.9 102.5L360.9 138.7L358.8 135.1L356.8 131.7L354.8 128.6L352.8 125.6L350.8 122.8L348.8 120.2L346.8 117.8L344.8 115.6L342.8 113.6L340.8 111.7L338.8 110.1L336.8 108.7L334.8 107.4L332.8 106.4L330.8 105.5L328.7 103.9L326.7 102.4L324.7 101.2L322.7 100.2L320.7 99.4L318.7 98.7L316.7 98.3L314.7 98L312.7 98L310.7 98.1L308.7 98.3L306.7 98.7L304.7 99.3L302.7 100.1L300.6 101L298.6 100.2L296.6 99.5L294.6 99L292.6 98.7L290.6 98.6L288.6 98.6L286.6 98.7L284.6 99.1L282.6 99.6L280.6 100.4L278.6 101.3L276.6 102.4L274.6 103.7L272.6 105.3L270.6 107L268.5 105.2L266.5 103.7L264.5 102.3L262.5 101.1L260.5 100.2L258.5 99.4L256.5 98.8L254.5 98.4L252.5 98.2L250.5 98.2L248.5 98.3L246.5 98.7L244.5 99.3L242.5 100L240.4 101 Z" fill="#cfcfcf"/>
<path d="M240.4 78.6L270.6 92L300.6 75.7L330.8 81.8L360.9 126.4M240.4 89.1L270.6 80L300.6 66.1L330.8 86.2L360.9 106.3M240.4 73.4L270.6 72.3L300.6 95.5L330.8 88.1L360.9 124.2M240.4 87.8L270.6 84.2L300.6 85L330.8 96.5L360.9 124.9M240.4 80.2L270.6 95.3L300.6 76.9L330.8 87L360.9 112.2M240.4 87.2L270.6 86.4L300.6 78.7L330.8 92.2L360.9 125.4M240.4 82.5L270.6 101.9L300.6 87.2L330.8 83.4L360.9 121.1M240.4 69.5L270.6 92.9L300.6 82.5L330.8 76.8L360.9 120.6M240.4 81.9L270.6 92.3L300.6 80.7L330.8 97.3L360.9 127.1M240.4 83.8L270.6 88L300.6 81.5L330.8 91.8L360.9 107.2M240.4 77.1L270.6 79.8L300.6 86.2L330.8 83.6L360.9 116.3M240.4 77.2L270.6 107.5L300.6 88.2L330.8 90.3L360.9 125M240.4 79.2L270.6 83.4L300.6 90.6L330.8 82.7L360.9 111.1M240.4 91L270.6 85.1L300.6 80.1L330.8 74.6L360.9 114.2M240.4 81.4L270.6 97.2L300.6 79.5L330.8 72.8L360.9 127.2M240.4 91L270.6 89L300.6 85.9L330.8 81.1L360.9 114.8M240.4 73.7L270.6 90.4L300.6 82.1L330.8 96.4L360.9 120.3M240.4 75.1L270.6 85L300.6 84.1L330.8 78.2L360.9 126M240.4 86.9L270.6 82.9L300.6 92.2L330.8 78.5L360.9 126.7M240.4 82.3L270.6 88L300.6 89.4L330.8 98.6L360.9 128.1M240.4 71.8L270.6 80.9L300.6 85.3L330.8 87.8L360.9 132.8M240.4 62.1L270.6 96.7L300.6 89.7L330.8 79.8L360.9 123.6M240.4 67.6L270.6 101.6L300.6 92.5L330.8 89.9L360.9 128.5M240.4 84.5L270.6 103.7L300.6 87.9L330.8 107.2L360.9 125.1M240.4 82.5L270.6 81.3L300.6 74.2L330.8 69.8L360.9 118M240.4 89L270.6 89.9L300.6 101.8L330.8 110.5L360.9 125.7M240.4 80.9L270.6 93.8L300.6 85.5L330.8 77.2L360.9 117.5M240.4 83.7L270.6 74.5L300.6 81.1L330.8 84.6L360.9 123.5M240.4 89.2L270.6 103.4L300.6 79L330.8 98.4L360.9 116.4M240.4 84.6L270.6 85.8L300.6 90.3L330.8 78.2L360.9 113.2M240.4 75.6L270.6 104.1L300.6 87.7L330.8 84.2L360.9 104.4M240.4 79.5L270.6 86.3L300.6 77.8L330.8 85.9L360.9 131.1M240.4 85.1L270.6 83.7L300.6 81.9L330.8 85.1L360.9 116.1M240.4 79.2L270.6 72L300.6 82L330.8 89.9L360.9 116.8M240.4 92.7L270.6 84.2L300.6 90.1L330.8 83.8L360.9 112.1M240.4 72.2L270.6 97.9L300.6 91.5L330.8 94L360.9 116.2M240.4 65.3L270.6 83.3L300.6 82.5L330.8 81.9L360.9 123.2M240.4 85.7L270.6 73.4L300.6 94.9L330.8 77.4L360.9 118.4M240.4 85L270.6 69.5L300.6 46.7L330.8 96.1L360.9 128.3M240.4 78.8L270.6 82L300.6 69.2L330.8 78.4L360.9 123.9M240.4 84L270.6 88.3L300.6 75.5L330.8 81.9L360.9 114M240.4 75.7L270.6 81.6L300.6 88.6L330.8 99L360.9 124.9M240.4 76L270.6 90.2L300.6 84.9L330.8 81.4L360.9 123.6M240.4 90.7L270.6 87.8L300.6 77.9L330.8 84.5L360.9 124.6M240.4 93.9L270.6 92.5L300.6 82.6L330.8 83.7L360.9 126.2M240.4 86.9L270.6 72.4L300.6 81.2L330.8 74.7L360.9 114.8M240.4 89.9L270.6 88.1L300.6 89.7L330.8 95.7L360.9 118.3M240.4 91.7L270.6 69.1L300.6 85.5L330.8 98.6L360.9 126.2M240.4 80.1L270.6 78.1L300.6 103.1L330.8 74.2L360.9 119.7M240.4 81.4L270.6 85.1L300.6 75.9L330.8 112.4L360.9 101.3M240.4 89.2L270.6 96.7L300.6 90.3L330.8 98.9L360.9 127.6M240.4 60.6L270.6 86.6L300.6 87.9L330.8 88.7L360.9 129.9M240.4 86.7L270.6 96.7L300.6 89.1L330.8 91.7L360.9 121.4M240.4 83.7L270.6 88.9L300.6 76.9L330.8 92.4L360.9 115.7M240.4 84.5L270.6 85.5L300.6 81.1L330.8 79.2L360.9 120.2M240.4 63.5L270.6 78.5L300.6 77.4L330.8 80.4L360.9 120.7M240.4 77L270.6 98L300.6 78.6L330.8 89L360.9 120.2M240.4 87.1L270.6 94.8L300.6 82L330.8 100L360.9 146.4M240.4 92.3L270.6 89.3L300.6 86.1L330.8 85.3L360.9 136.8M240.4 97.6L270.6 75.1L300.6 83L330.8 89.9L360.9 112.4M240.4 86.4L270.6 101.7L300.6 81.5L330.8 88.7L360.9 123.7M240.4 78.2L270.6 97.7L300.6 85L330.8 85.3L360.9 144.5M240.4 90.7L270.6 93L300.6 84.8L330.8 87L360.9 125.5M240.4 71.1L270.6 104.4L300.6 88.5L330.8 84.3L360.9 113.9M240.4 71.8L270.6 90.9L300.6 84.7L330.8 89.4L360.9 131M240.4 86.2L270.6 99.7L300.6 83.1L330.8 89.4L360.9 119.5M240.4 82.6L270.6 84.8L300.6 93.8L330.8 78.3L360.9 115.1M240.4 88.4L270.6 86.1L300.6 87.6L330.8 88.7L360.9 133.4M240.4 73.1L270.6 85.8L300.6 94.9L330.8 86.1L360.9 124.6M240.4 81.6L270.6 92.1L300.6 97.3L330.8 90.6L360.9 127.7M240.4 86.8L270.6 75.7L300.6 100.1L330.8 83.5L360.9 148.4M240.4 86.6L270.6 80.3L300.6 86.1L330.8 91.3L360.9 130.6M240.4 82.8L270.6 85.5L300.6 95.8L330.8 96.2L360.9 113.7M240.4 68.7L270.6 90.3L300.6 84.3L330.8 77.4L360.9 123.7M240.4 89.9L270.6 83.9L300.6 86.5L330.8 88.8L360.9 120.9M240.4 76.4L270.6 91.1L300.6 77.4L330.8 82.4L360.9 128M240.4 78.9L270.6 86.5L300.6 93.6L330.8 89.1L360.9 113.3M240.4 77.5L270.6 96.2L300.6 79.9L330.8 98.1L360.9 131.1M240.4 83.4L270.6 91.2L300.6 78.1L330.8 88.7L360.9 122.4M240.4 86.1L270.6 93.6L300.6 80L330.8 86.2L360.9 129.7M240.4 68.5L270.6 88.6L300.6 92.8L330.8 88.5L360.9 124.4M240.4 90.5L270.6 92.7L300.6 85.9L330.8 91.7L360.9 129.2M240.4 82.9L270.6 88.3L300.6 85.4L330.8 76L360.9 120.7M240.4 87.3L270.6 85.3L300.6 78.6L330.8 95.7L360.9 110M240.4 88.1L270.6 85.8L300.6 87.9L330.8 93.8L360.9 125.6M240.4 92L270.6 87.7L300.6 75L330.8 91.7L360.9 114.6M240.4 79.1L270.6 77.7L300.6 94L330.8 101.3L360.9 116.9M240.4 81.1L270.6 81.5L300.6 83.8L330.8 90.3L360.9 127.6M240.4 79L270.6 83.9L300.6 85.7L330.8 88L360.9 108.6M240.4 81.3L270.6 80.2L300.6 84.1L330.8 78.9L360.9 116.1M240.4 85.5L270.6 86.2L300.6 81.5L330.8 93.4L360.9 101.5M240.4 75.8L270.6 93.3L300.6 95.9L330.8 89.8L360.9 129.6M240.4 79.5L270.6 92.9L300.6 82.2L330.8 87.3L360.9 113.4M240.4 88.5L270.6 81L300.6 82.8L330.8 101.8L360.9 118.8M240.4 87.5L270.6 104.6L300.6 88L330.8 90.7L360.9 121.4M240.4 71.3L270.6 83.1L300.6 89.6L330.8 86.1L360.9 122.1M240.4 83.9L270.6 95.6L300.6 80.2L330.8 88.9L360.9 112.9M240.4 91.1L270.6 82.6L300.6 78.7L330.8 86.1L360.9 121.4M240.4 88.9L270.6 92.1L300.6 85L330.8 92.3L360.9 110M240.4 91L270.6 98L300.6 91.8L330.8 96.8L360.9 142.7M240.4 94.3L270.6 104.3L300.6 86.3L330.8 86.8L360.9 112.4M240.4 82.4L270.6 83.5L300.6 75.4L330.8 87.6L360.9 117.8M240.4 83.3L270.6 97.7L300.6 97.7L330.8 90.5L360.9 103.4M240.4 82.5L270.6 93L300.6 91.9L330.8 89.6L360.9 116.6M240.4 83.7L270.6 97.9L300.6 79.9L330.8 87.9L360.9 115.6M240.4 79.7L270.6 106.8L300.6 67.5L330.8 90L360.9 117.1M240.4 82.7L270.6 70.4L300.6 80.9L330.8 89.7L360.9 132.2M240.4 79.5L270.6 90.9L300.6 80.7L330.8 88.1L360.9 125.5M240.4 84.8L270.6 86.6L300.6 88.7L330.8 98.6L360.9 130.7M240.4 77.6L270.6 84.8L300.6 83.3L330.8 85.7L360.9 110.7M240.4 80.5L270.6 85.9L300.6 77.5L330.8 92.3L360.9 117M240.4 62.8L270.6 95.5L300.6 87.6L330.8 89.9L360.9 118.6M240.4 66.8L270.6 77.2L300.6 80.7L330.8 77.6L360.9 110.6M240.4 85.6L270.6 95.9L300.6 92L330.8 86.2L360.9 123.1M240.4 80.1L270.6 109.6L300.6 92.8L330.8 82.9L360.9 121.1M240.4 76.6L270.6 95.7L300.6 85.9L330.8 84.7L360.9 103.5M240.4 89.9L270.6 92.7L300.6 79.4L330.8 87.3L360.9 119.3M240.4 81.7L270.6 89.4L300.6 70L330.8 113.1L360.9 124.7M240.4 76L270.6 94L300.6 81.9L330.8 84.6L360.9 119M240.4 75.3L270.6 86.3L300.6 82.9L330.8 74.4L360.9 126.1M240.4 84.4L270.6 85.6L300.6 89.8L330.8 88.8L360.9 126.2M240.4 86.6L270.6 87.6L300.6 89.2L330.8 91.2L360.9 115.3M240.4 87.5L270.6 97.8L300.6 82.6L330.8 81.7L360.9 122.2M240.4 68.2L270.6 93.2L300.6 82.4L330.8 87.6L360.9 129.5M240.4 89.6L270.6 89.4L300.6 88L330.8 98.2L360.9 117.3M240.4 80.4L270.6 80L300.6 90.5L330.8 93.5L360.9 115.3M240.4 78.4L270.6 102.4L300.6 82.4L330.8 81.7L360.9 130.4M240.4 95.8L270.6 85.7L300.6 87.4L330.8 95.5L360.9 152.2M240.4 61.8L270.6 86.8L300.6 80.8L330.8 81.9L360.9 120.3M240.4 90.8L270.6 79.8L300.6 93.2L330.8 100.3L360.9 128.6M240.4 103.1L270.6 87.8L300.6 77.9L330.8 84.7L360.9 126.2M240.4 86.4L270.6 92.1L300.6 77.9L330.8 87.9L360.9 125.9M240.4 82.1L270.6 79.7L300.6 78.4L330.8 94.4L360.9 132.8M240.4 94.1L270.6 91.7L300.6 71.1L330.8 89.6L360.9 118M240.4 77.3L270.6 89.5L300.6 75.2L330.8 72.6L360.9 114.5M240.4 70.3L270.6 80.9L300.6 83.9L330.8 76.1L360.9 111M240.4 97.1L270.6 97.4L300.6 74.7L330.8 91L360.9 128.8M240.4 72.6L270.6 95L300.6 53.1L330.8 73.3L360.9 125.4M240.4 72.5L270.6 95.1L300.6 80.8L330.8 84.3L360.9 132.7M240.4 91L270.6 79L300.6 77.6L330.8 91.8L360.9 119.7M240.4 69.6L270.6 107.9L300.6 74.7L330.8 98.5L360.9 127.3M240.4 89.2L270.6 93L300.6 84.6L330.8 86.6L360.9 131.6M240.4 82.4L270.6 99.7L300.6 85.9L330.8 81.2L360.9 107.5M240.4 77.4L270.6 86.4L300.6 81.9L330.8 78L360.9 131.9M240.4 83.7L270.6 82.6L300.6 77.2L330.8 80.9L360.9 115.7M240.4 77.4L270.6 86.8L300.6 92.3L330.8 89L360.9 102.3M240.4 77.8L270.6 79.3L300.6 83.3L330.8 86.2L360.9 114.7M240.4 87.7L270.6 102.3L300.6 95L330.8 75.7L360.9 136.1M240.4 78.6L270.6 75.8L300.6 73.6L330.8 86.7L360.9 113.3M240.4 92.2L270.6 100.6L300.6 89.1L330.8 89.7L360.9 123.2M240.4 78.1L270.6 88.9L300.6 80.4L330.8 107.7L360.9 122.2M240.4 90.9L270.6 94.4L300.6 90.9L330.8 90.5L360.9 114.1M240.4 72.8L270.6 86L300.6 80L330.8 67.3L360.9 110.2M240.4 84.7L270.6 95.5L300.6 90.1L330.8 80.4L360.9 109.3M240.4 70.1L270.6 88.3L300.6 72.7L330.8 80.4L360.9 112.1M240.4 78.1L270.6 89.5L300.6 91.1L330.8 85.6L360.9 116M240.4 89.4L270.6 101.7L300.6 89.9L330.8 91.8L360.9 128.8M240.4 91.2L270.6 87.4L300.6 84L330.8 77.5L360.9 128.1M240.4 83.6L270.6 93.1L300.6 85.9L330.8 82.5L360.9 114.9M240.4 80.9L270.6 87.3L300.6 85.9L330.8 87.4L360.9 113.5M240.4 89.5L270.6 94.6L300.6 81.9L330.8 85L360.9 109.2M240.4 95L270.6 91.4L300.6 91.9L330.8 86.3L360.9 113.3M240.4 78L270.6 102L300.6 80.4L330.8 100.9L360.9 123.8M240.4 81L270.6 91L300.6 84.5L330.8 88.1L360.9 111.7M240.4 75.2L270.6 92.1L300.6 87.8L330.8 75.4L360.9 116.4M240.4 76.4L270.6 93.1L300.6 81.9L330.8 86.1L360.9 103.3M240.4 84.1L270.6 93.8L300.6 82L330.8 82.9L360.9 127.2M240.4 75.7L270.6 79.8L300.6 84.6L330.8 84.4L360.9 102.3M240.4 90.3L270.6 67.8L300.6 100.6L330.8 102.4L360.9 131.3M240.4 65.6L270.6 91.2L300.6 67.6L330.8 79.8L360.9 122.7M240.4 84.9L270.6 76.9L300.6 72.8L330.8 110.7L360.9 124.7M240.4 90.2L270.6 80.3L300.6 89.6L330.8 88.9L360.9 135.7M240.4 87.1L270.6 82.7L300.6 85.5L330.8 88.9L360.9 116.1M240.4 81.3L270.6 90.4L300.6 87.7L330.8 98.6L360.9 120.4M240.4 91.5L270.6 77.2L300.6 87.3L330.8 112.4L360.9 122.1M240.4 88.2L270.6 97.1L300.6 83.1L330.8 85.3L360.9 122.9M240.4 76.7L270.6 92L300.6 88L330.8 84.5L360.9 116.6M240.4 108.5L270.6 90.1L300.6 87.5L330.8 83.7L360.9 115.4M240.4 106.4L270.6 83.6L300.6 88.3L330.8 105.8L360.9 122.3M240.4 93.3L270.6 90.1L300.6 89.5L330.8 83.4L360.9 124.8M240.4 73.6L270.6 94.7L300.6 81.2L330.8 85.7L360.9 124.2M240.4 74.7L270.6 86.1L300.6 76L330.8 79.9L360.9 101.3M240.4 96.3L270.6 75L300.6 84.3L330.8 95.5L360.9 108.3M240.4 93.5L270.6 89.2L300.6 80L330.8 96.1L360.9 111.3M240.4 63.4L270.6 78.4L300.6 87.4L330.8 78L360.9 116.2M240.4 86.4L270.6 69.9L300.6 88L330.8 68L360.9 114.4M240.4 86.2L270.6 87.1L300.6 101.4L330.8 87.2L360.9 129.3M240.4 81.8L270.6 89.1L300.6 82L330.8 75.1L360.9 113.5M240.4 87.2L270.6 100.7L300.6 84.3L330.8 91.8L360.9 132.5M240.4 79L270.6 99.7L300.6 102.3L330.8 94.1L360.9 108.5M240.4 84.5L270.6 91.5L300.6 89.3L330.8 79L360.9 123.3M240.4 86.9L270.6 92.3L300.6 97.7L330.8 75.2L360.9 123.3M240.4 85.3L270.6 83.7L300.6 80.1L330.8 99L360.9 120.1M240.4 85.7L270.6 92.4L300.6 91.1L330.8 83.8L360.9 121.6M240.4 76.6L270.6 91.3L300.6 97.2L330.8 82.9L360.9 101.6M240.4 99.8L270.6 87.7L300.6 90.6L330.8 89.8L360.9 122.1M240.4 71.4L270.6 97.7L300.6 81.8L330.8 85.1L360.9 113M240.4 73.4L270.6 81.7L300.6 79.7L330.8 86.9L360.9 107.3M240.4 84.3L270.6 99.2L300.6 81.2L330.8 96.1L360.9 122.4M240.4 77.1L270.6 94.9L300.6 99L330.8 92.6L360.9 118.5M240.4 86.8L270.6 84.1L300.6 100.3L330.8 103.5L360.9 125.3M240.4 81.5L270.6 102.8L300.6 88.2L330.8 104.8L360.9 131.8M240.4 87.7L270.6 102.8L300.6 78.1L330.8 90.4L360.9 133.2M240.4 89.5L270.6 79.8L300.6 79.5L330.8 91.3L360.9 130.2M240.4 91.2L270.6 88.2L300.6 86.2L330.8 89.8L360.9 121M240.4 92.4L270.6 83.6L300.6 90.8L330.8 90.7L360.9 127.5M240.4 91.5L270.6 96.1L300.6 90.4L330.8 90.7L360.9 115.8M240.4 102L270.6 100.9L300.6 84.1L330.8 80.5L360.9 113M240.4 98.2L270.6 90.4L300.6 93.9L330.8 87.4L360.9 114.1M240.4 86L270.6 87L300.6 95.3L330.8 80.8L360.9 102.9M240.4 88.6L270.6 92.7L300.6 87.3L330.8 76.8L360.9 125.8M240.4 99.1L270.6 101L300.6 91.6L330.8 91L360.9 130.5M240.4 77.1L270.6 93.1L300.6 68.4L330.8 86.9L360.9 121.1M240.4 78.9L270.6 80.6L300.6 86.1L330.8 94.2L360.9 131.2M240.4 86.4L270.6 95.8L300.6 82L330.8 73.3L360.9 109.9M240.4 82.8L270.6 97.2L300.6 90.8L330.8 82.4L360.9 124.4M240.4 82.5L270.6 85.3L300.6 78.8L330.8 82.6L360.9 116.8M240.4 85L270.6 101.2L300.6 88.6L330.8 85.2L360.9 116M240.4 92.9L270.6 90L300.6 85.7L330.8 95.3L360.9 120.2M240.4 75.4L270.6 80.4L300.6 91.2L330.8 81.6L360.9 121.2M240.4 74.5L270.6 94.5L300.6 82.3L330.8 87.9L360.9 108.7M240.4 69.3L270.6 96.2L300.6 95.4L330.8 87.4L360.9 121.2M240.4 66.4L270.6 97.9L300.6 87.5L330.8 80.8L360.9 105.6M240.4 75.6L270.6 108.7L300.6 74.4L330.8 76.6L360.9 107.4M240.4 87.3L270.6 80.7L300.6 91.1L330.8 91.2L360.9 116.5M240.4 76.5L270.6 83.7L300.6 74.5L330.8 86.9L360.9 116.6M240.4 85.8L270.6 95L300.6 88.6L330.8 97.2L360.9 120.5M240.4 73.6L270.6 92.4L300.6 91.4L330.8 73.7L360.9 128.4M240.4 86.2L270.6 87.6L300.6 89.6L330.8 87.8L360.9 117.5M240.4 77.4L270.6 83.9L300.6 77.3L330.8 86.3L360.9 121.8M240.4 81.8L270.6 95.2L300.6 87.7L330.8 91.4L360.9 116.4M240.4 77.5L270.6 86.9L300.6 76.5L330.8 90.2L360.9 113.2M240.4 91.9L270.6 103.5L300.6 92.7L330.8 82.3L360.9 124.3M240.4 84L270.6 92.4L300.6 83.7L330.8 74.8L360.9 110.4M240.4 78.1L270.6 83.6L300.6 87.6L330.8 115.8L360.9 135.2M240.4 81.2L270.6 83.6L300.6 77.2L330.8 94.4L360.9 128.9M240.4 107.4L270.6 103.5L300.6 82.2L330.8 95.1L360.9 105.4M240.4 78.6L270.6 94.3L300.6 91.4L330.8 87.7L360.9 109.4M240.4 60.9L270.6 80.3L300.6 86.2L330.8 85.2L360.9 122.5M240.4 77.6L270.6 87.6L300.6 83.3L330.8 80.5L360.9 129.1M240.4 75.7L270.6 84.5L300.6 86.8L330.8 77.1L360.9 101.4M240.4 93L270.6 94.9L300.6 81.7L330.8 82.2L360.9 123.1M240.4 79.4L270.6 102.8L300.6 66.4L330.8 91.7L360.9 101.2M240.4 79.3L270.6 106.8L300.6 86.8L330.8 77.1L360.9 122.8M240.4 88.4L270.6 85.1L300.6 91.1L330.8 66.6L360.9 117.5M240.4 76.5L270.6 84.3L300.6 83.4L330.8 79.8L360.9 116.8M240.4 82.5L270.6 83.4L300.6 92L330.8 83.3L360.9 125.4M240.4 80.5L270.6 80.6L300.6 94.6L330.8 97.9L360.9 116.9M240.4 84.8L270.6 85.3L300.6 81.5L330.8 87L360.9 115.7M240.4 78.2L270.6 86.6L300.6 82.2L330.8 84.5L360.9 114.5M240.4 95.2L270.6 88.1L300.6 95.6L330.8 78.8L360.9 127.9M240.4 75.3L270.6 81L300.6 96.8L330.8 82.9L360.9 150.3M240.4 82.6L270.6 83.9L300.6 91.1L330.8 94L360.9 123.9M240.4 86.3L270.6 85.4L300.6 92.2L330.8 117.6L360.9 119.3M240.4 87.6L270.6 89.4L300.6 94.9L330.8 70.6L360.9 117.9M240.4 63.5L270.6 93.5L300.6 93.3L330.8 83.2L360.9 101M240.4 88L270.6 93.1L300.6 91.5L330.8 81.4L360.9 108M240.4 87.2L270.6 86.7L300.6 56.4L330.8 96L360.9 120.8M240.4 92.2L270.6 79.1L300.6 88.2L330.8 93.7L360.9 116.8M240.4 81.8L270.6 97.8L300.6 103.2L330.8 98.3L360.9 116.4M240.4 86.8L270.6 97.6L300.6 72.8L330.8 79.9L360.9 134M240.4 76.1L270.6 87.7L300.6 77.6L330.8 88.2L360.9 119.5M240.4 73.9L270.6 86.7L300.6 79.9L330.8 96.5L360.9 112.9M240.4 87.2L270.6 86.8L300.6 83.7L330.8 90.6L360.9 121.3M240.4 74.1L270.6 91.4L300.6 88L330.8 82.1L360.9 121.3M240.4 82.3L270.6 90.8L300.6 84.1L330.8 85L360.9 123.9M240.4 96.6L270.6 95.8L300.6 73.8L330.8 96.5L360.9 118.4M240.4 104.2L270.6 83.2L300.6 90.9L330.8 68.9L360.9 113.1M240.4 93.3L270.6 93L300.6 92.4L330.8 90.4L360.9 107.8M240.4 90.5L270.6 87.8L300.6 80.6L330.8 91.6L360.9 124.4M240.4 77.9L270.6 99.8L300.6 69.8L330.8 91.3L360.9 116.6M240.4 85.9L270.6 87.9L300.6 90.1L330.8 93L360.9 123.2M240.4 92.1L270.6 95.1L300.6 78.1L330.8 84.1L360.9 121.3M240.4 77.7L270.6 94.8L300.6 100.8L330.8 84L360.9 115.5M240.4 88.1L270.6 85.3L300.6 74.8L330.8 78.6L360.9 121.8M240.4 73.7L270.6 96.8L300.6 86.2L330.8 93.4L360.9 101.2M240.4 89.6L270.6 96.8L300.6 81L330.8 80.2L360.9 120.9M240.4 79.3L270.6 91.2L300.6 87.9L330.8 93.7L360.9 122.9M240.4 77.6L270.6 88.1L300.6 87.8L330.8 87.2L360.9 114.5M240.4 65.1L270.6 85.4L300.6 95.7L330.8 95.3L360.9 121.3M240.4 74.3L270.6 93.5L300.6 91.5L330.8 83.3L360.9 121.7M240.4 81.9L270.6 85L300.6 79.1L330.8 93.3L360.9 119.5M240.4 88.9L270.6 96.2L300.6 84.6L330.8 79.9L360.9 120.4M240.4 73.8L270.6 78.4L300.6 93.5L330.8 73.9L360.9 127M240.4 77.7L270.6 90.2L300.6 71.9L330.8 91.3L360.9 121.9M240.4 99.3L270.6 88.7L300.6 83.5L330.8 87.1L360.9 108.6M240.4 84.8L270.6 96.1L300.6 87.1L330.8 101.8L360.9 122.6M240.4 86.1L270.6 83.6L300.6 89.4L330.8 89.2L360.9 120.2M240.4 76.2L270.6 85.1L300.6 79.2L330.8 78.7L360.9 115.6M240.4 72.4L270.6 90.8L300.6 87.6L330.8 81.1L360.9 111.7M240.4 84.4L270.6 86.7L300.6 80.2L330.8 80.6L360.9 120.1M240.4 77.9L270.6 91.3L300.6 91.3L330.8 101.4L360.9 112.6M240.4 69.4L270.6 89.4L300.6 81.5L330.8 101.8L360.9 108.5M240.4 85.5L270.6 84.3L300.6 73.8L330.8 81.7L360.9 120.2M240.4 73.8L270.6 88.9L300.6 81.2L330.8 98.2L360.9 124.9M240.4 90.6L270.6 84.6L300.6 87.2L330.8 95.3L360.9 131.6M240.4 90.1L270.6 85L300.6 94.1L330.8 90.6L360.9 119.5M240.4 60.2L270.6 89L300.6 89.2L330.8 95.5L360.9 123.3M240.4 74.7L270.6 68.2L300.6 83.6L330.8 79.5L360.9 129.2M240.4 65.5L270.6 78.6L300.6 83L330.8 95.1L360.9 117.7M240.4 87.4L270.6 97.9L300.6 79.3L330.8 102.8L360.9 115.1M240.4 89.3L270.6 110.4L300.6 91.4L330.8 74.9L360.9 117.8M240.4 91.6L270.6 82.7L300.6 85.5L330.8 78.2L360.9 120.5M240.4 82.6L270.6 82.5L300.6 76.4L330.8 77L360.9 127M240.4 81.7L270.6 95.3L300.6 82.5L330.8 98.8L360.9 132.4M240.4 73.3L270.6 87.2L300.6 84.7L330.8 100.6L360.9 130.2M240.4 75.1L270.6 68.6L300.6 75.8L330.8 77.8L360.9 119M240.4 86.9L270.6 93L300.6 84.9L330.8 83.8L360.9 114.6M240.4 62.2L270.6 81.8L300.6 97.1L330.8 91.5L360.9 119.6M240.4 67L270.6 84.1L300.6 96.6L330.8 81.6L360.9 127.6M240.4 71.7L270.6 87L300.6 93.4L330.8 88.8L360.9 146.5M240.4 75.6L270.6 87.4L300.6 97.9L330.8 101.5L360.9 119.5M240.4 89.2L270.6 86.4L300.6 86.8L330.8 84.8L360.9 120.1M240.4 77.1L270.6 89.1L300.6 81.9L330.8 70.7L360.9 118M240.4 83L270.6 79.2L300.6 96.7L330.8 79L360.9 118.4M240.4 89.4L270.6 90.9L300.6 73.3L330.8 72.3L360.9 116.7M240.4 94.6L270.6 104L300.6 84.6L330.8 93.6L360.9 114.8M240.4 82.7L270.6 104L300.6 99.4L330.8 95.1L360.9 126.4M240.4 66.3L270.6 88.1L300.6 76.1L330.8 92.3L360.9 117.2M240.4 91.7L270.6 91.6L300.6 81.3L330.8 88.9L360.9 121.4M240.4 90L270.6 96.1L300.6 89.5L330.8 77.8L360.9 124.8M240.4 97.4L270.6 88.3L300.6 88.3L330.8 95.9L360.9 120.1M240.4 78.1L270.6 93.3L300.6 90.4L330.8 88.7L360.9 127.1M240.4 80.2L270.6 110.1L300.6 83.4L330.8 79.7L360.9 114.6M240.4 98.2L270.6 93.1L300.6 81.5L330.8 77L360.9 121.6M240.4 81L270.6 89.2L300.6 93.8L330.8 74.2L360.9 109.7M240.4 83.8L270.6 89.2L300.6 88.8L330.8 97.9L360.9 124.3M240.4 69.6L270.6 89.3L300.6 90.7L330.8 84.5L360.9 112.3M240.4 88.2L270.6 86.8L300.6 73.9L330.8 90.2L360.9 121.4M240.4 76.9L270.6 85.8L300.6 96.5L330.8 89.1L360.9 111.2M240.4 90.2L270.6 101.8L300.6 102.4L330.8 94.6L360.9 127.3M240.4 90.5L270.6 102.7L300.6 94.2L330.8 93.7L360.9 118.8M240.4 85.9L270.6 79.3L300.6 93.4L330.8 101.4L360.9 124.8M240.4 89.5L270.6 90.3L300.6 74.4L330.8 87.2L360.9 118M240.4 70.5L270.6 92.8L300.6 81.4L330.8 78.6L360.9 122.2M240.4 75L270.6 89.3L300.6 85.2L330.8 74.8L360.9 103.1M240.4 87.1L270.6 97.8L300.6 84.3L330.8 79L360.9 112.1M240.4 85.2L270.6 93.4L300.6 62.8L330.8 83L360.9 121.7M240.4 81L270.6 77.2L300.6 79.1L330.8 90.1L360.9 116.2M240.4 78.5L270.6 95.7L300.6 82.6L330.8 88.2L360.9 121.7M240.4 61.5L270.6 86.8L300.6 81.6L330.8 81.6L360.9 133.7M240.4 83.4L270.6 83.8L300.6 82.1L330.8 77.8L360.9 126M240.4 102.5L270.6 100.8L300.6 83L330.8 93.6L360.9 119.1M240.4 83.4L270.6 76.3L300.6 99.1L330.8 66.7L360.9 120.7M240.4 99.9L270.6 90.7L300.6 85L330.8 90.1L360.9 122.6M240.4 83L270.6 78L300.6 88.2L330.8 77L360.9 125.2M240.4 76.7L270.6 89.5L300.6 86.9L330.8 79.9L360.9 112M240.4 75.4L270.6 84.5L300.6 86L330.8 78.5L360.9 129M240.4 82.2L270.6 80.8L300.6 82.5L330.8 84.9L360.9 107.9M240.4 83L270.6 81L300.6 75.7L330.8 73.4L360.9 122.4M240.4 74.2L270.6 94.7L300.6 86.7L330.8 93L360.9 140.6M240.4 80.2L270.6 78.8L300.6 89.8L330.8 83.9L360.9 136.8M240.4 83.9L270.6 75.8L300.6 81.7L330.8 97.8L360.9 124.8M240.4 99.8L270.6 100.2L300.6 88.7L330.8 67.1L360.9 120.7M240.4 89.2L270.6 93.1L300.6 84.4L330.8 99.8L360.9 124M240.4 81.8L270.6 90.1L300.6 83.4L330.8 93.2L360.9 117.3M240.4 71.2L270.6 89.9L300.6 81L330.8 92.1L360.9 117.3M240.4 90.3L270.6 113L300.6 72.6L330.8 91.2L360.9 115.4M240.4 86.5L270.6 94.1L300.6 97.4L330.8 88.7L360.9 127.7M240.4 79.2L270.6 88.6L300.6 81.9L330.8 91.7L360.9 113.9M240.4 90L270.6 82.3L300.6 81L330.8 78.6L360.9 118.9M240.4 72.6L270.6 87.7L300.6 78.5L330.8 86.4L360.9 122.1M240.4 84.9L270.6 86.6L300.6 86.5L330.8 75.4L360.9 120.8M240.4 78.1L270.6 88.8L300.6 83.6L330.8 82.4L360.9 121.6M240.4 86.7L270.6 96.8L300.6 80.3L330.8 83.4L360.9 111.5M240.4 75.8L270.6 96.5L300.6 88.4L330.8 94.3L360.9 121.7M240.4 96L270.6 87.7L300.6 78.4L330.8 90.4L360.9 120.7M240.4 89.4L270.6 81.5L300.6 83.5L330.8 88.2L360.9 115.8M240.4 82.1L270.6 92.2L300.6 76.2L330.8 93.7L360.9 137.3M240.4 80.4L270.6 87.5L300.6 87.9L330.8 73.6L360.9 126.2M240.4 84.9L270.6 88.4L300.6 80.3L330.8 82.9L360.9 124.4M240.4 72.8L270.6 99.8L300.6 90L330.8 92.2L360.9 122.2M240.4 89.6L270.6 100.2L300.6 83.1L330.8 108.9L360.9 118.2M240.4 81.6L270.6 78.4L300.6 89.6L330.8 86L360.9 116.3M240.4 89L270.6 93.4L300.6 95.5L330.8 90.6L360.9 118.2M240.4 73.3L270.6 89.4L300.6 84.8L330.8 114.1L360.9 118.7M240.4 88.7L270.6 79.8L300.6 81.9L330.8 87.7L360.9 117.4M240.4 85.4L270.6 112.2L300.6 83.1L330.8 79L360.9 127M240.4 70.1L270.6 87.6L300.6 89.5L330.8 94.9L360.9 123.6M240.4 87.8L270.6 90.5L300.6 67.5L330.8 76.6L360.9 123.1M240.4 96.7L270.6 83.6L300.6 84.7L330.8 82.8L360.9 122.5M240.4 92L270.6 85.9L300.6 83L330.8 94.5L360.9 116.8M240.4 81.8L270.6 96.6L300.6 84.3L330.8 100.6L360.9 121.8M240.4 78.7L270.6 92.3L300.6 70L330.8 85.8L360.9 121.1M240.4 83.1L270.6 90.6L300.6 90.9L330.8 90L360.9 111.2M240.4 91.6L270.6 88.9L300.6 92.2L330.8 83.8L360.9 119.1M240.4 84.6L270.6 87.4L300.6 85.4L330.8 67.6L360.9 119.3M240.4 79.8L270.6 86.1L300.6 96.2L330.8 73.1L360.9 123.2M240.4 87.3L270.6 84.3L300.6 86.6L330.8 104.7L360.9 115.8M240.4 80.7L270.6 78.9L300.6 82.7L330.8 78.7L360.9 118.1M240.4 89.2L270.6 86.4L300.6 90.2L330.8 97.4L360.9 120.3M240.4 71.2L270.6 96.2L300.6 95.8L330.8 85.3L360.9 109M240.4 92L270.6 87.5L300.6 94.8L330.8 86.5L360.9 102M240.4 90.1L270.6 82.9L300.6 86.2L330.8 81.7L360.9 116.9M240.4 75.3L270.6 89.1L300.6 74.2L330.8 92.4L360.9 118.2M240.4 90L270.6 87.3L300.6 77.7L330.8 82.9L360.9 120.2M240.4 67.7L270.6 89.9L300.6 76.1L330.8 68.4L360.9 121.8M240.4 78.3L270.6 95L300.6 84.8L330.8 91.6L360.9 110.5M240.4 78.8L270.6 79.8L300.6 91.3L330.8 88.8L360.9 116.1M240.4 85L270.6 94.8L300.6 89L330.8 66.3L360.9 117.1M240.4 87.4L270.6 81.9L300.6 82.7L330.8 87.3L360.9 115.6M240.4 96.7L270.6 101.5L300.6 87.2L330.8 85.4L360.9 127.6M240.4 71.1L270.6 79.7L300.6 73L330.8 77.8L360.9 118.9M240.4 91.8L270.6 89.7L300.6 77L330.8 82.6L360.9 121M240.4 75.6L270.6 90.6L300.6 72.7L330.8 78L360.9 116.7M240.4 87L270.6 84L300.6 88.4L330.8 93.2L360.9 131.1M240.4 87.2L270.6 92.9L300.6 80.6L330.8 80.3L360.9 125.1M240.4 83.4L270.6 84.1L300.6 88.3L330.8 86.9L360.9 119.3M240.4 94.5L270.6 87.2L300.6 83.1L330.8 90L360.9 123.9M240.4 76.4L270.6 82.5L300.6 76.4L330.8 93.7L360.9 123.5M240.4 80.2L270.6 93.9L300.6 87.4L330.8 99.6L360.9 119M240.4 87.8L270.6 88.4L300.6 90.9L330.8 80.6L360.9 113.8M240.4 80.4L270.6 89.8L300.6 91.3L330.8 78.3L360.9 123.7M240.4 87.4L270.6 90.6L300.6 78L330.8 80.7L360.9 126.3M240.4 105.3L270.6 81.3L300.6 81.6L330.8 87.6L360.9 109.3M240.4 80.4L270.6 90.1L300.6 92L330.8 92.9L360.9 125.1M240.4 80.1L270.6 108.1L300.6 88.5L330.8 79.5L360.9 130M240.4 72.8L270.6 89L300.6 80.5L330.8 86.5L360.9 110.2M240.4 79.7L270.6 84.7L300.6 94.1L330.8 94.9L360.9 122.2M240.4 84.2L270.6 90.7L300.6 82L330.8 79L360.9 130.9M240.4 87.9L270.6 100.2L300.6 82.7L330.8 100.6L360.9 129.7M240.4 72.3L270.6 90.1L300.6 89.3L330.8 86.5L360.9 119.6M240.4 78.4L270.6 104.5L300.6 89.1L330.8 73.1L360.9 120.9M240.4 76.9L270.6 70L300.6 90.6L330.8 89.2L360.9 119.6M240.4 87L270.6 89.7L300.6 91.5L330.8 77.6L360.9 123.7M240.4 82.2L270.6 90.5L300.6 86.1L330.8 92.5L360.9 114.4M240.4 81.1L270.6 88.5L300.6 87.8L330.8 81.5L360.9 135.1M240.4 80.7L270.6 86.6L300.6 91.7L330.8 76.4L360.9 121.3M240.4 81L270.6 97.8L300.6 102.7L330.8 84.3L360.9 120.5M240.4 80.5L270.6 87.5L300.6 87.8L330.8 80.4L360.9 106.7M240.4 87.1L270.6 83L300.6 84.8L330.8 89.9L360.9 127M240.4 88.5L270.6 93.2L300.6 90.3L330.8 76.8L360.9 115.5M240.4 92.7L270.6 78.5L300.6 98.5L330.8 78.3L360.9 129.1M240.4 83.9L270.6 95.5L300.6 91.4L330.8 98.8L360.9 123.3M240.4 103.2L270.6 88.8L300.6 76.5L330.8 91.5L360.9 118.1M240.4 83.1L270.6 90.5L300.6 82.7L330.8 67.6L360.9 131.3M240.4 90L270.6 87.7L300.6 89.7L330.8 98.2L360.9 117.2M240.4 82.2L270.6 92.8L300.6 82.6L330.8 93.7L360.9 129.1M240.4 76.6L270.6 111.3L300.6 104L330.8 91.9L360.9 112.2M240.4 87.2L270.6 73.4L300.6 85.5L330.8 80.1L360.9 116.4M240.4 87L270.6 91.2L300.6 91.2L330.8 83.7L360.9 112.2M240.4 81.5L270.6 91.5L300.6 77.7L330.8 86.5L360.9 115.1M240.4 81.5L270.6 83.2L300.6 79.7L330.8 82.6L360.9 119.8M240.4 78.8L270.6 97.6L300.6 83.9L330.8 84.7L360.9 122.2M240.4 75.9L270.6 93L300.6 88.9L330.8 91.3L360.9 120.5M240.4 73L270.6 99.5L300.6 87.3L330.8 87.9L360.9 116.6M240.4 86.8L270.6 90.6L300.6 93.8L330.8 80.7L360.9 118.6M240.4 81.2L270.6 82.8L300.6 88.3L330.8 89.9L360.9 120M240.4 76.1L270.6 105.8L300.6 90.5L330.8 83.1L360.9 118.8M240.4 91L270.6 85.9L300.6 59.6L330.8 87.9L360.9 124.6M240.4 85.6L270.6 88L300.6 74.4L330.8 94.4L360.9 122.9M240.4 80.9L270.6 87.1L300.6 87.8L330.8 95.5L360.9 123.1M240.4 102L270.6 88.7L300.6 79.4L330.8 88.1L360.9 109.6M240.4 85L270.6 88.7L300.6 49.9L330.8 79.9L360.9 129M240.4 78.6L270.6 87.1L300.6 82.3L330.8 87.9L360.9 121.1M240.4 78.6L270.6 88.7L300.6 91.1L330.8 87.6L360.9 131.9M240.4 76.4L270.6 100.8L300.6 77.7L330.8 97.4L360.9 122.8M240.4 77.4L270.6 85.3L300.6 84.7L330.8 79.2L360.9 118.1M240.4 62.1L270.6 92.5L300.6 82.9L330.8 84.1L360.9 127.1M240.4 94.7L270.6 87.9L300.6 79.7L330.8 84.2L360.9 124.8M240.4 71.8L270.6 99.1L300.6 85.5L330.8 92.3L360.9 127.4M240.4 80.4L270.6 94.1L300.6 81.9L330.8 91.1L360.9 125.4M240.4 76.8L270.6 83.7L300.6 90.8L330.8 90.4L360.9 118.8M240.4 82L270.6 75.3L300.6 82.8L330.8 84.6L360.9 120.3M240.4 82.3L270.6 89.9L300.6 84.6L330.8 90.6L360.9 113.4M240.4 80.5L270.6 84.1L300.6 103.1L330.8 96L360.9 128.8M240.4 76.2L270.6 94.8L300.6 78.7L330.8 93.8L360.9 122.3M240.4 93L270.6 85.8L300.6 93.1L330.8 80.8L360.9 109.2M240.4 83.9L270.6 94.9L300.6 79.7L330.8 84L360.9 109.5M240.4 82.4L270.6 78.1L300.6 77.3L330.8 91.7L360.9 115.1M240.4 80.9L270.6 91.4L300.6 80.4L330.8 97.7L360.9 123.6M240.4 92.5L270.6 105.4L300.6 89.7L330.8 84.2L360.9 109.3M240.4 79L270.6 87.9L300.6 87.1L330.8 89.1L360.9 130M240.4 82.7L270.6 92.3L300.6 74.8L330.8 86.5L360.9 117.6M240.4 94.9L270.6 101.6L300.6 81.4L330.8 81.7L360.9 107.2M240.4 78.7L270.6 99.5L300.6 81.6L330.8 85.4L360.9 134.2M240.4 84.8L270.6 90.7L300.6 87.5L330.8 91.4L360.9 122M240.4 79.2L270.6 97.5L300.6 82.5L330.8 91.9L360.9 119.2M240.4 79.4L270.6 82.5L300.6 90L330.8 84.2L360.9 129M240.4 82.3L270.6 87.3L300.6 80.6L330.8 92.3L360.9 118.3M240.4 61.1L270.6 69.9L300.6 72.4L330.8 87.9L360.9 121.7M240.4 83L270.6 84.4L300.6 80.9L330.8 89.2L360.9 133.3M240.4 99.3L270.6 89.5L300.6 93.6L330.8 88.8L360.9 128.9M240.4 91.5L270.6 98.7L300.6 84.9L330.8 83.6L360.9 116.6M240.4 74.6L270.6 80.6L300.6 84.9L330.8 86.8L360.9 124.6M240.4 80.2L270.6 91.4L300.6 90.7L330.8 80.6L360.9 120M240.4 90L270.6 102.2L300.6 80.1L330.8 84.4L360.9 102.9M240.4 73.1L270.6 95.2L300.6 103.6L330.8 88.5L360.9 125.4M240.4 79.7L270.6 107.9L300.6 84.7L330.8 82.4L360.9 128M240.4 88.8L270.6 87.7L300.6 77.5L330.8 84.6L360.9 118.2M240.4 85.1L270.6 83.7L300.6 84.6L330.8 93.4L360.9 107.7M240.4 86.8L270.6 86.2L300.6 71.2L330.8 79.6L360.9 124M240.4 84.4L270.6 86.2L300.6 95.2L330.8 90.6L360.9 124.7M240.4 73.8L270.6 100.8L300.6 81L330.8 90.3L360.9 122.6M240.4 98.6L270.6 83.8L300.6 86.6L330.8 91.7L360.9 116.9M240.4 85.4L270.6 86.8L300.6 90.2L330.8 86.1L360.9 118.5M240.4 85.2L270.6 85.1L300.6 89.7L330.8 89.3L360.9 125.1M240.4 83.6L270.6 97.6L300.6 84.2L330.8 89.4L360.9 112.9M240.4 94.7L270.6 86.6L300.6 95.9L330.8 75.1L360.9 129.7M240.4 77.9L270.6 81L300.6 88.6L330.8 83.4L360.9 125.1M240.4 91.8L270.6 93.9L300.6 84.4L330.8 90.3L360.9 132.1M240.4 82.9L270.6 91.1L300.6 93.6L330.8 91.4L360.9 116.3M240.4 85.9L270.6 83.3L300.6 83L330.8 90.2L360.9 125.4M240.4 90.9L270.6 74.5L300.6 78.6L330.8 92.6L360.9 142.6M240.4 91.3L270.6 95.6L300.6 83.6L330.8 82.2L360.9 121.9M240.4 81.8L270.6 83.1L300.6 95.2L330.8 78.8L360.9 124M240.4 88.2L270.6 99.9L300.6 77.7L330.8 93.9L360.9 119.5M240.4 86.7L270.6 96.8L300.6 81L330.8 89.6L360.9 111.5M240.4 81.7L270.6 86.3L300.6 88.6L330.8 83.2L360.9 120M240.4 88.9L270.6 88.5L300.6 76.9L330.8 96.2L360.9 123M240.4 74.5L270.6 79.9L300.6 87.6L330.8 107.1L360.9 110.9M240.4 74.6L270.6 87.3L300.6 93.4L330.8 96.5L360.9 125.3M240.4 86.5L270.6 102.2L300.6 91.4L330.8 80.9L360.9 125.5M240.4 64.1L270.6 94L300.6 88.1L330.8 87.9L360.9 126.8M240.4 79.2L270.6 86.7L300.6 85L330.8 79.9L360.9 114.6M240.4 78.4L270.6 95.5L300.6 76.4L330.8 83.8L360.9 116.9M240.4 82.8L270.6 98.5L300.6 79.1L330.8 81.5L360.9 130.1M240.4 92.9L270.6 77.5L300.6 87.7L330.8 89.8L360.9 122.2M240.4 86.5L270.6 90.9L300.6 88.8L330.8 89.3L360.9 131.1M240.4 79.6L270.6 92.1L300.6 88.3L330.8 94.6L360.9 101.8M240.4 90.1L270.6 77.5L300.6 85.1L330.8 94.9L360.9 120.1M240.4 75.6L270.6 86.8L300.6 90.8L330.8 82.8L360.9 115.9M240.4 104.6L270.6 81.3L300.6 93.5L330.8 94.4L360.9 121.2M240.4 85.5L270.6 84.6L300.6 85.3L330.8 87.5L360.9 116.7M240.4 78.8L270.6 88L300.6 83.5L330.8 91.9L360.9 122M240.4 86L270.6 86L300.6 90.5L330.8 80.7L360.9 116.3" stroke="#cfcfcf" stroke-width="0.5" fill="none" stroke-linejoin="round"/>
<path d="M405.1 79.9L407.2 79.9L409.2 79.8L411.2 79.4L413.2 78.8L415.2 78L417.2 77L419.2 75.8L421.2 74.4L423.2 73L425.2 71.1L427.2 69.3L429.2 67.2L431.2 65L433.2 62.7L435.2 60.2L437.3 62.4L439.3 64.4L441.3 66.3L443.3 68.1L445.3 69.7L447.3 71.1L449.3 72.4L451.3 73.5L453.3 74.4L455.3 75.1L457.3 75.6L459.3 75.9L461.3 76L463.3 75.8L465.3 75.3L467.4 76.8L469.4 78L471.4 79L473.4 79.8L475.4 80.4L477.4 80.8L479.4 81L481.4 80.9L483.4 80.7L485.4 80.3L487.4 79.7L489.4 78.9L491.4 77.9L493.4 76.7L495.4 75.3L497.5 77L499.5 78.5L501.5 79.8L503.5 80.9L505.5 81.8L507.5 82.5L509.5 83.1L511.5 83.4L513.5 83.5L515.5 83.4L517.5 83.2L519.5 82.7L521.5 81.9L523.5 81L525.5 79.9L525.5 119.1L523.5 117.1L521.5 115.4L519.5 113.9L517.5 112.5L515.5 111.5L513.5 110.6L511.5 109.9L509.5 109.4L507.5 109.2L505.5 109.1L503.5 109.2L501.5 109.5L499.5 110L497.5 110.7L495.4 111.5L493.4 110.4L491.4 109.4L489.4 108.6L487.4 108L485.4 107.6L483.4 107.3L481.4 107.3L479.4 107.5L477.4 107.9L475.4 108.4L473.4 109.2L471.4 110.2L469.4 111.4L467.4 112.9L465.3 114.5L463.3 111.5L461.3 108.7L459.3 106.1L457.3 103.8L455.3 101.7L453.3 99.5L451.3 98.1L449.3 96.1L447.3 95.2L445.3 94L443.3 93L441.3 92.2L439.3 91.5L437.3 90.9L435.2 90.4L433.2 91.1L431.2 91.9L429.2 92.8L427.2 93.9L425.2 95.1L423.2 96.5L421.2 98.1L419.2 99.8L417.2 101.7L415.2 103.8L413.2 106.1L411.2 108.7L409.2 111.4L407.2 114.4L405.1 117.6 Z" fill="#cfcfcf"/>
<path d="M405.1 83.6L435.2 67L465.3 83.6L495.4 96L525.5 102.3M405.1 101L435.2 70.1L465.3 93L495.4 86.6L525.5 88.4M405.1 107.2L435.2 74.2L465.3 92.7L495.4 101.3L525.5 90.4M405.1 92.9L435.2 75.2L465.3 106.3L495.4 98.8L525.5 112.9M405.1 94.8L435.2 66.2L465.3 101.4L495.4 99.8L525.5 95.8M405.1 107.5L435.2 70.8L465.3 90.1L495.4 92.6L525.5 104.8M405.1 123L435.2 90.9L465.3 97.3L495.4 98.3L525.5 94.8M405.1 97.6L435.2 88.5L465.3 103.3L495.4 102.8L525.5 106.1M405.1 92.9L435.2 80.5L465.3 109.9L495.4 98.7L525.5 94.9M405.1 84L435.2 70.6L465.3 88.5L495.4 97L525.5 114.1M405.1 96.1L435.2 81.2L465.3 110.7L495.4 96.4L525.5 99.2M405.1 105.1L435.2 78.3L465.3 93.9L495.4 89.6L525.5 91.4M405.1 101.4L435.2 77.4L465.3 86.4L495.4 64.8L525.5 94.8M405.1 109.7L435.2 72.7L465.3 102.6L495.4 88.2L525.5 107.4M405.1 104.7L435.2 71L465.3 75.4L495.4 79.5L525.5 91.5M405.1 100.1L435.2 77L465.3 98.8L495.4 93.6L525.5 65.4M405.1 112.3L435.2 77L465.3 101.5L495.4 100.2L525.5 96.6M405.1 89.5L435.2 86.9L465.3 101.8L495.4 97L525.5 109.7M405.1 92.3L435.2 79.1L465.3 63.3L495.4 95.9L525.5 98.4M405.1 105L435.2 61.8L465.3 105L495.4 89.7L525.5 98.7M405.1 104.2L435.2 78.8L465.3 77.4L495.4 79.4L525.5 109.9M405.1 102L435.2 72.1L465.3 94.5L495.4 89.9L525.5 95.6M405.1 99.1L435.2 77.8L465.3 98.3L495.4 82.7L525.5 91.7M405.1 94.3L435.2 81.8L465.3 93.1L495.4 91.5L525.5 111.4M405.1 101.5L435.2 81L465.3 99.2L495.4 87.1L525.5 89.2M405.1 117L435.2 94.9L465.3 96.4L495.4 91L525.5 77.1M405.1 98.4L435.2 75.6L465.3 95.1L495.4 95L525.5 88.1M405.1 100L435.2 84.4L465.3 89.9L495.4 107L525.5 102.2M405.1 99.3L435.2 74.9L465.3 91.4L495.4 88.6L525.5 111M405.1 105.1L435.2 68.5L465.3 113.5L495.4 101.6L525.5 105.3M405.1 99.5L435.2 70.6L465.3 85.8L495.4 93.1L525.5 98.2M405.1 95.4L435.2 74.3L465.3 65.7L495.4 91.7L525.5 105.7M405.1 101.9L435.2 80.7L465.3 82.3L495.4 97.4L525.5 102.6M405.1 102.8L435.2 72.4L465.3 91.7L495.4 91.9L525.5 101M405.1 93.5L435.2 78.5L465.3 84.2L495.4 108.1L525.5 78.4M405.1 96.5L435.2 66.7L465.3 90.7L495.4 96.1L525.5 90.5M405.1 83.2L435.2 79.3L465.3 89.8L495.4 85.5L525.5 110.6M405.1 77.4L435.2 74.7L465.3 77.1L495.4 84.8L525.5 94.5M405.1 101.7L435.2 68.2L465.3 101.5L495.4 97.6L525.5 95.3M405.1 105.8L435.2 73.5L465.3 98.9L495.4 98.8L525.5 99M405.1 99.2L435.2 63L465.3 93.1L495.4 88.4L525.5 98.2M405.1 92.4L435.2 73.5L465.3 100.3L495.4 92L525.5 103.2M405.1 106.8L435.2 78.3L465.3 87.6L495.4 86.4L525.5 107.7M405.1 101.4L435.2 81.1L465.3 88.5L495.4 96.7L525.5 103.4M405.1 77.3L435.2 72.4L465.3 91.8L495.4 83.5L525.5 85.1M405.1 103.4L435.2 77.1L465.3 94.9L495.4 84.6L525.5 109.1M405.1 93L435.2 77.9L465.3 87.7L495.4 89.6L525.5 122.4M405.1 103.8L435.2 76.8L465.3 99.2L495.4 105.3L525.5 98M405.1 91.9L435.2 73.8L465.3 93L495.4 85.2L525.5 107.8M405.1 95.6L435.2 73.3L465.3 108.9L495.4 96.2L525.5 96M405.1 93.7L435.2 74.4L465.3 92.1L495.4 92.6L525.5 96.3M405.1 105.8L435.2 79L465.3 88.8L495.4 87.8L525.5 93.5M405.1 95.9L435.2 75.4L465.3 96.9L495.4 89.6L525.5 103.4M405.1 98.1L435.2 72.5L465.3 101.3L495.4 81.3L525.5 96M405.1 102.1L435.2 84L465.3 104.1L495.4 85.6L525.5 94.8M405.1 91.7L435.2 83.9L465.3 94.8L495.4 93L525.5 95.6M405.1 101.4L435.2 77.8L465.3 92.7L495.4 90.4L525.5 103.4M405.1 96.5L435.2 82.6L465.3 97.9L495.4 94.6L525.5 96.1M405.1 112.6L435.2 81.4L465.3 88.1L495.4 99.2L525.5 104.3M405.1 84.4L435.2 83.8L465.3 100.5L495.4 98.6L525.5 109.4M405.1 102.3L435.2 66.6L465.3 98.3L495.4 85.8L525.5 105.6M405.1 83.3L435.2 76.9L465.3 90.3L495.4 94.1L525.5 98.7M405.1 98.9L435.2 81.6L465.3 92.2L495.4 90.1L525.5 114M405.1 90.4L435.2 76.9L465.3 104.8L495.4 84.1L525.5 106.8M405.1 95.1L435.2 74.3L465.3 95.8L495.4 91.1L525.5 90.3M405.1 92.2L435.2 70.4L465.3 109.7L495.4 85.7L525.5 100M405.1 107.4L435.2 77.4L465.3 96.6L495.4 94.7L525.5 93M405.1 99.2L435.2 73.5L465.3 100.9L495.4 78.1L525.5 89.7M405.1 90.4L435.2 70.6L465.3 94.8L495.4 93.3L525.5 103.5M405.1 105.1L435.2 75.2L465.3 101.7L495.4 101.5L525.5 100.5M405.1 83.3L435.2 72.8L465.3 100.6L495.4 93.5L525.5 80.8M405.1 100.5L435.2 75.3L465.3 87.5L495.4 99L525.5 113.6M405.1 101.5L435.2 74.7L465.3 103L495.4 97.5L525.5 100.4M405.1 97.4L435.2 74.9L465.3 89.8L495.4 88.3L525.5 72.6M405.1 114.2L435.2 50.6L465.3 103.4L495.4 84.9L525.5 99.4M405.1 96.6L435.2 87.7L465.3 68.1L495.4 90.6L525.5 91.4M405.1 103L435.2 75.9L465.3 92.9L495.4 94L525.5 101.5M405.1 98.1L435.2 79.5L465.3 94.2L495.4 114.9L525.5 92.4M405.1 104.3L435.2 73.6L465.3 93.1L495.4 88.7L525.5 101.7M405.1 88L435.2 82.6L465.3 101.2L495.4 92L525.5 108.5M405.1 105.6L435.2 94L465.3 96.1L495.4 94.6L525.5 97.1M405.1 90.2L435.2 80.5L465.3 84.9L495.4 91.5L525.5 97.6M405.1 102.5L435.2 71.7L465.3 105.3L495.4 83.3L525.5 100.1M405.1 103.7L435.2 79.6L465.3 87.9L495.4 100.5L525.5 79M405.1 94L435.2 69.5L465.3 91.4L495.4 96.6L525.5 100.9M405.1 89.8L435.2 82.4L465.3 81L495.4 84.3L525.5 100.1M405.1 97.2L435.2 76L465.3 127.2L495.4 94.2L525.5 69M405.1 97.8L435.2 92.2L465.3 82.6L495.4 94.5L525.5 95.9M405.1 95.8L435.2 73.3L465.3 101.3L495.4 100.3L525.5 99.9M405.1 105.8L435.2 69.8L465.3 104.2L495.4 85.8L525.5 105.2M405.1 100.8L435.2 80.2L465.3 90.6L495.4 100.5L525.5 102.9M405.1 103.3L435.2 73.6L465.3 96.4L495.4 102.5L525.5 101.3M405.1 103.2L435.2 68.9L465.3 98.6L495.4 91.3L525.5 76.2M405.1 92.6L435.2 74.1L465.3 107.8L495.4 66.9L525.5 103.7M405.1 92L435.2 68.6L465.3 91.2L495.4 98.1L525.5 100.1M405.1 98.2L435.2 78.2L465.3 108.4L495.4 92.2L525.5 90.2M405.1 98.9L435.2 73.8L465.3 85.3L495.4 92.2L525.5 105.3M405.1 101.3L435.2 76.4L465.3 96.2L495.4 113L525.5 97M405.1 97.5L435.2 69.4L465.3 101.8L495.4 99L525.5 103.4M405.1 101.6L435.2 73.4L465.3 96L495.4 84.9L525.5 103.2M405.1 100L435.2 70.4L465.3 99.3L495.4 82.8L525.5 92.2M405.1 102.7L435.2 74.3L465.3 103.8L495.4 101.3L525.5 107.2M405.1 110.4L435.2 73.9L465.3 98.4L495.4 87.3L525.5 101.5M405.1 99.8L435.2 73L465.3 96.9L495.4 99.7L525.5 105.1M405.1 95.4L435.2 93.7L465.3 98L495.4 81.2L525.5 97.7M405.1 103.3L435.2 77.9L465.3 87.3L495.4 111.5L525.5 117.8M405.1 102.5L435.2 76.9L465.3 87.1L495.4 80.8L525.5 99.5M405.1 96.9L435.2 82.4L465.3 96.8L495.4 95.1L525.5 98.6M405.1 125.7L435.2 78.8L465.3 98.7L495.4 94.5L525.5 103.7M405.1 97.1L435.2 77.8L465.3 85.6L495.4 102.3L525.5 118.7M405.1 92.1L435.2 78.5L465.3 94.9L495.4 96.9L525.5 98M405.1 124.4L435.2 67.1L465.3 93.6L495.4 71.6L525.5 97.1M405.1 98.4L435.2 76.6L465.3 105.8L495.4 87.5L525.5 90.5M405.1 107.7L435.2 62.9L465.3 91.8L495.4 88.7L525.5 106.1M405.1 104.7L435.2 79.5L465.3 91L495.4 83.6L525.5 107.7M405.1 89.7L435.2 56.4L465.3 85.9L495.4 95.6L525.5 110.8M405.1 106.5L435.2 75.9L465.3 89.7L495.4 89.4L525.5 102.5M405.1 101.6L435.2 79.5L465.3 88.1L495.4 92L525.5 108.8M405.1 96.1L435.2 73L465.3 97.8L495.4 89L525.5 108.9M405.1 110.3L435.2 63.5L465.3 79.9L495.4 95.5L525.5 95.8M405.1 105.3L435.2 72.6L465.3 104.5L495.4 109.5L525.5 93.4M405.1 102.8L435.2 68.6L465.3 97.9L495.4 96.5L525.5 87.6M405.1 103.4L435.2 80.4L465.3 92.5L495.4 86.8L525.5 95.2M405.1 109.5L435.2 79.2L465.3 92L495.4 84.5L525.5 102.4M405.1 96.5L435.2 86.3L465.3 107.4L495.4 94.6L525.5 76.7M405.1 110.6L435.2 79.5L465.3 104.4L495.4 80.6L525.5 109M405.1 89.7L435.2 68.1L465.3 88.3L495.4 96L525.5 106.4M405.1 96.8L435.2 79.1L465.3 104.9L495.4 95.8L525.5 115.4M405.1 100.3L435.2 73.4L465.3 85.2L495.4 97.3L525.5 102.6M405.1 84.9L435.2 75.6L465.3 99.9L495.4 84.2L525.5 99.2M405.1 87.3L435.2 84.2L465.3 98.3L495.4 87.8L525.5 94.4M405.1 95.5L435.2 77.5L465.3 94.7L495.4 89.3L525.5 103.3M405.1 106.1L435.2 80.4L465.3 80.5L495.4 95.5L525.5 89.1M405.1 106L435.2 74.3L465.3 91L495.4 98.1L525.5 84M405.1 84.8L435.2 76.1L465.3 87.1L495.4 87L525.5 108.2M405.1 103.2L435.2 69.1L465.3 87.5L495.4 94.4L525.5 105.4M405.1 91.2L435.2 68.7L465.3 104.2L495.4 92.8L525.5 103.8M405.1 105.7L435.2 75.9L465.3 109.6L495.4 106.4L525.5 101.6M405.1 93.6L435.2 70.1L465.3 118.2L495.4 106.5L525.5 95.2M405.1 102.9L435.2 76.3L465.3 96.6L495.4 92.3L525.5 106.2M405.1 113.3L435.2 66.6L465.3 99.1L495.4 85.6L525.5 111.1M405.1 100L435.2 75L465.3 104.3L495.4 81.5L525.5 114.5M405.1 95.4L435.2 75.9L465.3 98.2L495.4 91.9L525.5 113.4M405.1 101.2L435.2 81.1L465.3 99L495.4 90.5L525.5 90.9M405.1 101L435.2 61.6L465.3 95.4L495.4 79.7L525.5 108.2M405.1 108.2L435.2 80.3L465.3 96.7L495.4 80.7L525.5 92M405.1 110.2L435.2 74.7L465.3 95.7L495.4 98.3L525.5 94.7M405.1 108.3L435.2 77.4L465.3 84.4L495.4 93.2L525.5 99.1M405.1 94.2L435.2 81.7L465.3 99.4L495.4 96.7L525.5 97.5M405.1 106.8L435.2 77.3L465.3 106.6L495.4 91.7L525.5 98.8M405.1 97L435.2 86.5L465.3 97.8L495.4 102.9L525.5 104.3M405.1 82.2L435.2 73.1L465.3 86L495.4 93.6L525.5 95.5M405.1 95.6L435.2 80.3L465.3 99.7L495.4 102.6L525.5 100.2M405.1 91.4L435.2 68.9L465.3 70.5L495.4 94.7L525.5 97M405.1 95.3L435.2 77.7L465.3 102L495.4 91.1L525.5 98.7M405.1 91L435.2 74.8L465.3 111.2L495.4 102.3L525.5 106.7M405.1 97L435.2 68.4L465.3 95.5L495.4 90.9L525.5 95.9M405.1 107.6L435.2 69.6L465.3 104.8L495.4 78.3L525.5 90.7M405.1 95.1L435.2 78.6L465.3 90.5L495.4 92L525.5 98.7M405.1 102.8L435.2 66.5L465.3 88.8L495.4 80.6L525.5 88.8M405.1 99.1L435.2 75L465.3 107.6L495.4 94.9L525.5 114M405.1 103.1L435.2 78L465.3 91.8L495.4 91.9L525.5 102M405.1 106.9L435.2 82.9L465.3 106.2L495.4 89.5L525.5 97.9M405.1 100.3L435.2 80.8L465.3 92.9L495.4 89.9L525.5 82.6M405.1 97.6L435.2 77.7L465.3 97.3L495.4 97.9L525.5 94.9M405.1 103.4L435.2 72.5L465.3 86.5L495.4 92.5L525.5 98.4M405.1 101.6L435.2 80.5L465.3 93.3L495.4 84.1L525.5 110M405.1 101.8L435.2 74.3L465.3 100L495.4 111.8L525.5 88.8M405.1 110.6L435.2 71L465.3 89.8L495.4 88.2L525.5 103.8M405.1 108L435.2 67.8L465.3 100.9L495.4 102.7L525.5 107M405.1 99L435.2 70.3L465.3 105.1L495.4 93.1L525.5 108.6M405.1 95.5L435.2 73L465.3 117.1L495.4 87.9L525.5 107.4M405.1 105.7L435.2 76.3L465.3 101.7L495.4 101.8L525.5 96.8M405.1 107.1L435.2 74.9L465.3 89.8L495.4 91.5L525.5 95.7M405.1 98.9L435.2 68.7L465.3 101.1L495.4 96.6L525.5 125M405.1 102.2L435.2 83.1L465.3 92.1L495.4 86.4L525.5 107.1M405.1 78L435.2 78.9L465.3 99.2L495.4 95.8L525.5 100.9M405.1 100.8L435.2 77.7L465.3 94.9L495.4 87.5L525.5 97.1M405.1 100.2L435.2 74.1L465.3 103.4L495.4 90.3L525.5 103.3M405.1 93.9L435.2 73.3L465.3 86.2L495.4 89.9L525.5 100.3M405.1 94.3L435.2 77L465.3 94.3L495.4 87L525.5 95.1M405.1 99.5L435.2 77.9L465.3 90.2L495.4 110.7L525.5 107.9M405.1 94.1L435.2 65.7L465.3 72.9L495.4 83.7L525.5 100.7M405.1 91L435.2 64.8L465.3 92.4L495.4 101.5L525.5 112.6M405.1 92.4L435.2 76.7L465.3 95L495.4 91.9L525.5 94.7M405.1 93.5L435.2 68.9L465.3 93.5L495.4 100.3L525.5 95.3M405.1 99L435.2 75.8L465.3 107.8L495.4 90.7L525.5 100.6M405.1 109L435.2 70.6L465.3 91.9L495.4 88.9L525.5 86M405.1 95L435.2 75.2L465.3 96.7L495.4 86.3L525.5 88.4M405.1 92.1L435.2 84.1L465.3 85.1L495.4 103.7L525.5 112.5M405.1 91.9L435.2 67.2L465.3 97.4L495.4 88.7L525.5 103M405.1 97.3L435.2 69L465.3 103.2L495.4 92.9L525.5 98.9M405.1 102.4L435.2 67.1L465.3 90.3L495.4 87.4L525.5 93.9M405.1 97.9L435.2 69.8L465.3 78.5L495.4 87.4L525.5 93.7M405.1 100.6L435.2 92.9L465.3 103.6L495.4 96.4L525.5 105M405.1 96.9L435.2 78.1L465.3 82.8L495.4 89.2L525.5 102.1M405.1 105.6L435.2 70.4L465.3 92L495.4 87.3L525.5 96.9M405.1 111.1L435.2 79.8L465.3 84.5L495.4 101L525.5 84.5M405.1 103.1L435.2 77L465.3 86.2L495.4 98.3L525.5 108.2M405.1 107.3L435.2 82.1L465.3 93.2L495.4 103.4L525.5 91.2M405.1 94.4L435.2 80.1L465.3 90.7L495.4 88.8L525.5 93.1M405.1 99.2L435.2 76L465.3 77.9L495.4 100.5L525.5 74.5M405.1 106L435.2 73.7L465.3 89.5L495.4 84.7L525.5 98.1M405.1 95.7L435.2 75.3L465.3 93.3L495.4 87.4L525.5 106M405.1 98.1L435.2 71.1L465.3 98.7L495.4 89.4L525.5 113.4M405.1 103.5L435.2 77.9L465.3 96.1L495.4 80.6L525.5 106.1M405.1 98.7L435.2 71.9L465.3 99L495.4 88L525.5 117.9M405.1 117.5L435.2 79.2L465.3 93.5L495.4 87.2L525.5 101.3M405.1 107.7L435.2 80.5L465.3 89.9L495.4 109.8L525.5 110.4M405.1 97.5L435.2 70.9L465.3 102.2L495.4 90.4L525.5 117.5M405.1 98.5L435.2 71.8L465.3 88.4L495.4 79.5L525.5 84.2M405.1 111.1L435.2 69.8L465.3 92.2L495.4 82.1L525.5 99.6M405.1 89.7L435.2 70.7L465.3 103.5L495.4 100.9L525.5 95M405.1 108.5L435.2 71.1L465.3 87.6L495.4 103L525.5 101M405.1 99.9L435.2 75.4L465.3 113.6L495.4 96L525.5 106.2M405.1 87.2L435.2 71.8L465.3 98.1L495.4 88.5L525.5 103.2M405.1 96L435.2 69.8L465.3 107.8L495.4 91.7L525.5 82M405.1 84.8L435.2 70.7L465.3 75.2L495.4 99.8L525.5 108.8M405.1 89.9L435.2 85.4L465.3 93.1L495.4 106L525.5 61.8M405.1 81.7L435.2 71.5L465.3 100.2L495.4 90.2L525.5 104.7M405.1 102L435.2 75.8L465.3 96.8L495.4 91.2L525.5 98M405.1 95.4L435.2 73.3L465.3 93.7L495.4 93.7L525.5 104.2M405.1 84.6L435.2 66.3L465.3 93L495.4 87.7L525.5 102.7M405.1 93.9L435.2 74.6L465.3 86.9L495.4 110.3L525.5 109.7M405.1 97.2L435.2 73L465.3 83.8L495.4 92.9L525.5 111.1M405.1 102.3L435.2 69.8L465.3 96.8L495.4 86.4L525.5 96.9M405.1 79.3L435.2 72.5L465.3 99.3L495.4 105.5L525.5 108.5M405.1 96.4L435.2 66.9L465.3 87.8L495.4 95.1L525.5 114.3M405.1 97.8L435.2 73.1L465.3 122.1L495.4 106.6L525.5 113.4M405.1 83.2L435.2 66.2L465.3 113.6L495.4 101.8L525.5 114.7M405.1 92.9L435.2 70.7L465.3 95.7L495.4 89.7L525.5 96.7M405.1 95.2L435.2 72.5L465.3 100.9L495.4 95.2L525.5 90.3M405.1 87.7L435.2 72.4L465.3 84.1L495.4 101.3L525.5 98.6M405.1 99.9L435.2 71.9L465.3 87.2L495.4 82.2L525.5 107.2M405.1 95.5L435.2 81.7L465.3 97.7L495.4 106.6L525.5 85.3M405.1 97.5L435.2 76.6L465.3 100.8L495.4 101.9L525.5 104.3M405.1 85.6L435.2 79.6L465.3 94.3L495.4 81.3L525.5 105.3M405.1 131.1L435.2 76.7L465.3 87.6L495.4 96.9L525.5 111.5M405.1 93.6L435.2 81.2L465.3 97L495.4 98.3L525.5 107.5M405.1 89.9L435.2 71.9L465.3 108.7L495.4 93L525.5 106M405.1 91L435.2 72.7L465.3 94.1L495.4 92.2L525.5 102.2M405.1 126.5L435.2 84.9L465.3 98.4L495.4 87L525.5 91M405.1 104.1L435.2 76.1L465.3 102.2L495.4 100.6L525.5 99.9M405.1 112.7L435.2 77L465.3 108L495.4 106.3L525.5 96.4M405.1 105.2L435.2 69.9L465.3 108.1L495.4 81.9L525.5 105.9M405.1 100L435.2 77.3L465.3 96.3L495.4 88.4L525.5 106.2M405.1 93.2L435.2 70.7L465.3 94.7L495.4 94.3L525.5 85.3M405.1 86.9L435.2 93.1L465.3 97.3L495.4 97.6L525.5 102.6M405.1 96.1L435.2 69.6L465.3 104.8L495.4 83.8L525.5 96M405.1 87.2L435.2 77.5L465.3 88.5L495.4 111.5L525.5 93M405.1 91.3L435.2 76L465.3 91.8L495.4 97.9L525.5 104.7M405.1 89.5L435.2 75.8L465.3 100.6L495.4 114.5L525.5 94.5M405.1 98.9L435.2 75.5L465.3 99.2L495.4 89.4L525.5 105.6M405.1 96.1L435.2 82.1L465.3 96.3L495.4 96.7L525.5 109M405.1 95.7L435.2 64L465.3 92.8L495.4 86.2L525.5 114.4M405.1 89.2L435.2 78.9L465.3 104L495.4 80.8L525.5 101.3M405.1 101.1L435.2 85.3L465.3 100.1L495.4 101.2L525.5 101.6M405.1 107L435.2 68.2L465.3 104.2L495.4 108.8L525.5 111.2M405.1 97.3L435.2 83.5L465.3 101.3L495.4 91.7L525.5 111.6M405.1 94.9L435.2 74.3L465.3 84L495.4 88.1L525.5 85.3M405.1 102.3L435.2 79.4L465.3 105.5L495.4 99L525.5 96.2M405.1 102.4L435.2 68.5L465.3 111.9L495.4 99.4L525.5 100.5M405.1 88.1L435.2 68.3L465.3 83.1L495.4 101.4L525.5 91.7M405.1 95.3L435.2 83.5L465.3 76.9L495.4 94.6L525.5 92.7M405.1 85.6L435.2 72.5L465.3 94.4L495.4 89.3L525.5 93.3M405.1 95.3L435.2 84.5L465.3 81.9L495.4 78.2L525.5 111.9M405.1 102.1L435.2 63.9L465.3 90.1L495.4 93.2L525.5 98.1M405.1 95.7L435.2 78L465.3 111.5L495.4 98.2L525.5 90.1M405.1 86L435.2 70.5L465.3 83.4L495.4 90.6L525.5 92.5M405.1 94.2L435.2 69.2L465.3 96.9L495.4 91.8L525.5 102.9M405.1 101.5L435.2 54.5L465.3 104.2L495.4 88.4L525.5 96.7M405.1 102.7L435.2 73.5L465.3 105.3L495.4 97.5L525.5 91.3M405.1 93.9L435.2 70.8L465.3 95.5L495.4 94.8L525.5 99.9M405.1 100.6L435.2 75.9L465.3 99.5L495.4 91.5L525.5 114.5M405.1 95L435.2 66.5L465.3 91.9L495.4 92L525.5 95.9M405.1 91.4L435.2 66.5L465.3 95.4L495.4 86.1L525.5 109.3M405.1 108.5L435.2 79.7L465.3 88.7L495.4 116.1L525.5 111.5M405.1 86.4L435.2 70.2L465.3 89.2L495.4 103L525.5 135.7M405.1 78.6L435.2 63.6L465.3 97.9L495.4 92.2L525.5 93.1M405.1 112.2L435.2 75.9L465.3 78.7L495.4 92.4L525.5 107.3M405.1 96.2L435.2 83.5L465.3 103.5L495.4 80.3L525.5 85.1M405.1 111.4L435.2 76.6L465.3 85.8L495.4 106.9L525.5 109.7M405.1 104.6L435.2 63.6L465.3 101.1L495.4 95.1L525.5 110.4M405.1 109L435.2 83.4L465.3 94.1L495.4 85.3L525.5 93.7M405.1 89.5L435.2 79L465.3 105.3L495.4 86.9L525.5 92.8M405.1 102.2L435.2 70.1L465.3 96.9L495.4 90.4L525.5 103.9M405.1 93.7L435.2 77.5L465.3 98.4L495.4 94.3L525.5 98.1M405.1 97L435.2 67.7L465.3 103L495.4 99.3L525.5 107.6M405.1 104.4L435.2 67.7L465.3 95.9L495.4 87.5L525.5 82.7M405.1 106.2L435.2 75.5L465.3 85.9L495.4 82.2L525.5 106.7M405.1 106.6L435.2 78.9L465.3 103.4L495.4 94.8L525.5 101.2M405.1 94.4L435.2 86.8L465.3 95.2L495.4 89.2L525.5 95M405.1 115L435.2 71.6L465.3 82.8L495.4 93.2L525.5 95.1M405.1 96.5L435.2 62.5L465.3 91.1L495.4 87.7L525.5 95.5M405.1 83.6L435.2 83.6L465.3 101.4L495.4 75L525.5 92M405.1 102.7L435.2 72L465.3 86.6L495.4 82.3L525.5 106M405.1 86.7L435.2 79.4L465.3 92.1L495.4 89.6L525.5 103.2M405.1 101.5L435.2 73.9L465.3 98.9L495.4 89.9L525.5 97.1M405.1 107.7L435.2 74.2L465.3 87.4L495.4 98.4L525.5 97.3M405.1 106L435.2 76.5L465.3 85.5L495.4 90.1L525.5 108.2M405.1 79.6L435.2 73.4L465.3 93.9L495.4 93.4L525.5 92.1M405.1 109.5L435.2 75.2L465.3 101.9L495.4 89L525.5 101.2M405.1 95.6L435.2 69.6L465.3 106.8L495.4 106.5L525.5 96.6M405.1 99.9L435.2 73.1L465.3 96.6L495.4 82.7L525.5 93.4M405.1 91.4L435.2 75.1L465.3 82.7L495.4 91.7L525.5 110.1M405.1 96.8L435.2 75.1L465.3 103.6L495.4 84.2L525.5 107.3M405.1 90.7L435.2 79.1L465.3 80.4L495.4 92.2L525.5 108.3M405.1 111.7L435.2 85.6L465.3 101.9L495.4 93.6L525.5 107M405.1 95.7L435.2 70.3L465.3 90L495.4 87.3L525.5 104M405.1 94.6L435.2 63.3L465.3 94.7L495.4 95.5L525.5 103.4M405.1 85L435.2 77.8L465.3 83.8L495.4 102.5L525.5 98.3M405.1 101L435.2 86.5L465.3 123.9L495.4 90.4L525.5 96.8M405.1 96.5L435.2 72.8L465.3 104L495.4 94.1L525.5 105.5M405.1 95.7L435.2 74L465.3 84.8L495.4 74.6L525.5 98M405.1 99.2L435.2 83.3L465.3 99.4L495.4 95.6L525.5 98.8M405.1 98.2L435.2 76.4L465.3 112.7L495.4 102.3L525.5 103.3M405.1 101.6L435.2 64.9L465.3 74.2L495.4 82.4L525.5 98.1M405.1 101.3L435.2 81.6L465.3 106.3L495.4 86L525.5 97.4M405.1 128.4L435.2 71.6L465.3 84.5L495.4 95.4L525.5 90.7M405.1 100.9L435.2 88.7L465.3 89.6L495.4 100.4L525.5 90.6M405.1 99.3L435.2 73.8L465.3 82.9L495.4 98.1L525.5 102.8M405.1 93.7L435.2 83.4L465.3 87.7L495.4 89.3L525.5 96.1M405.1 94L435.2 71.2L465.3 90.5L495.4 92.6L525.5 90.8M405.1 91.5L435.2 80.5L465.3 84.7L495.4 92.8L525.5 100.1M405.1 106.9L435.2 73.1L465.3 87.1L495.4 87.6L525.5 125.7M405.1 99.1L435.2 82.1L465.3 86.3L495.4 114.2L525.5 94.5M405.1 97.2L435.2 91.3L465.3 95.1L495.4 93L525.5 132.3M405.1 102.3L435.2 74.3L465.3 103L495.4 90.8L525.5 105M405.1 99L435.2 77.1L465.3 88.2L495.4 101.2L525.5 94.3M405.1 99.6L435.2 58.3L465.3 87.4L495.4 78L525.5 95.1M405.1 104.5L435.2 78.9L465.3 124.7L495.4 73.2L525.5 83.2M405.1 92.9L435.2 80.9L465.3 85.6L495.4 93.5L525.5 93.6M405.1 93.4L435.2 72.9L465.3 91.1L495.4 93.6L525.5 113.5M405.1 95.6L435.2 72.8L465.3 85.1L495.4 83.3L525.5 102.6M405.1 115.6L435.2 88.4L465.3 103.7L495.4 88.6L525.5 95.3M405.1 110.7L435.2 82.3L465.3 94.6L495.4 88.4L525.5 95.7M405.1 103.6L435.2 79.1L465.3 98.6L495.4 78.2L525.5 86.7M405.1 76.8L435.2 67.4L465.3 101L495.4 95.3L525.5 92.7M405.1 91.1L435.2 86.1L465.3 96.1L495.4 98.6L525.5 94.6M405.1 114L435.2 73.1L465.3 96.5L495.4 91.1L525.5 109.7M405.1 98.7L435.2 69.4L465.3 92.3L495.4 97.1L525.5 99.5M405.1 112.7L435.2 70.4L465.3 98.5L495.4 107.4L525.5 97.6M405.1 101.8L435.2 78L465.3 87.3L495.4 92.9L525.5 97.6M405.1 89L435.2 77.2L465.3 93.1L495.4 93.7L525.5 102.2M405.1 99.1L435.2 78.1L465.3 111.9L495.4 87.8L525.5 93.5M405.1 101.7L435.2 66.6L465.3 106.5L495.4 82.6L525.5 98.4M405.1 106L435.2 67.3L465.3 92L495.4 98.7L525.5 101.7M405.1 95.2L435.2 68.1L465.3 117.2L495.4 97.9L525.5 97.9M405.1 101.9L435.2 79L465.3 111.4L495.4 97L525.5 100.8M405.1 99.2L435.2 73.7L465.3 93L495.4 104.8L525.5 105.7M405.1 103.7L435.2 82.7L465.3 92.8L495.4 93.1L525.5 96.6M405.1 94.4L435.2 76.6L465.3 91L495.4 99.2L525.5 79.7M405.1 105.2L435.2 82.8L465.3 93L495.4 99L525.5 97.1M405.1 91.9L435.2 77.8L465.3 92.8L495.4 82.2L525.5 97M405.1 94.6L435.2 72.3L465.3 86.6L495.4 105.6L525.5 78.5M405.1 82.6L435.2 68.4L465.3 83.8L495.4 85.9L525.5 110.3M405.1 90L435.2 73.6L465.3 79L495.4 79.4L525.5 112M405.1 100.4L435.2 68.8L465.3 91.1L495.4 98.2L525.5 100.7M405.1 102.6L435.2 76.3L465.3 86.5L495.4 98.2L525.5 97.5M405.1 103.1L435.2 74.9L465.3 100.5L495.4 92.6L525.5 106.8M405.1 93.4L435.2 77L465.3 96.6L495.4 90.6L525.5 107M405.1 107.1L435.2 85.9L465.3 89.8L495.4 89.9L525.5 100.7M405.1 100.2L435.2 70.2L465.3 96.3L495.4 93.8L525.5 96.2M405.1 97.5L435.2 71.8L465.3 82L495.4 82.7L525.5 109.1M405.1 107.6L435.2 62.7L465.3 103.6L495.4 94.1L525.5 97.3M405.1 104.3L435.2 75.8L465.3 96.2L495.4 89.2L525.5 105.7M405.1 93.9L435.2 80.3L465.3 93.4L495.4 101.2L525.5 91.6M405.1 99.1L435.2 76.9L465.3 93L495.4 101.3L525.5 113.1M405.1 94.2L435.2 72.4L465.3 85.1L495.4 119.1L525.5 105.7M405.1 100.8L435.2 74.9L465.3 86.5L495.4 102.3L525.5 95.1M405.1 95L435.2 85.2L465.3 78.6L495.4 76.5L525.5 106M405.1 91.1L435.2 86L465.3 99.5L495.4 106.8L525.5 103.7M405.1 103.8L435.2 84.5L465.3 102.9L495.4 100.8L525.5 114.2M405.1 98.5L435.2 76.2L465.3 109L495.4 93.2L525.5 114.9M405.1 121.9L435.2 83.9L465.3 95.5L495.4 88.6L525.5 129M405.1 102L435.2 74.8L465.3 85.2L495.4 117.6L525.5 99.8M405.1 91.8L435.2 74.8L465.3 95.2L495.4 91.5L525.5 87.4M405.1 106.1L435.2 86L465.3 94.1L495.4 91.3L525.5 93.2M405.1 86.4L435.2 73L465.3 80.6L495.4 91.4L525.5 91.9M405.1 106L435.2 71.6L465.3 103.9L495.4 86.5L525.5 104.8M405.1 95L435.2 52.5L465.3 91.5L495.4 92L525.5 96.3M405.1 99.8L435.2 71L465.3 93.5L495.4 86.5L525.5 115.4M405.1 82.7L435.2 80.4L465.3 95.7L495.4 94.9L525.5 100.4M405.1 98.4L435.2 74.7L465.3 99.3L495.4 92.6L525.5 102.8M405.1 106.1L435.2 71.8L465.3 88.3L495.4 89.6L525.5 92.9M405.1 102.2L435.2 79.3L465.3 87L495.4 101.5L525.5 100.4M405.1 95.4L435.2 77.7L465.3 97.2L495.4 101L525.5 83.3M405.1 87.9L435.2 81.6L465.3 101.9L495.4 94.8L525.5 104.4M405.1 89.2L435.2 72.7L465.3 86.9L495.4 89.6L525.5 95.7M405.1 86.5L435.2 72.9L465.3 98.5L495.4 96.8L525.5 103.3M405.1 104L435.2 84L465.3 100.8L495.4 96.8L525.5 92.6M405.1 96.9L435.2 82.8L465.3 94.9L495.4 89.2L525.5 102.2M405.1 89.2L435.2 79.9L465.3 96.6L495.4 97.3L525.5 100.9M405.1 91.6L435.2 75.4L465.3 93L495.4 80L525.5 99.3M405.1 79.3L435.2 73.3L465.3 97.9L495.4 90.5L525.5 97.4M405.1 114.9L435.2 74.4L465.3 93L495.4 86.7L525.5 109.2M405.1 90.4L435.2 76.5L465.3 90L495.4 98.8L525.5 80M405.1 90.5L435.2 65.4L465.3 89.1L495.4 87.7L525.5 107.1M405.1 108L435.2 71.6L465.3 90.6L495.4 90.6L525.5 103.2M405.1 98.9L435.2 81.7L465.3 100.2L495.4 103.3L525.5 104.2M405.1 107.7L435.2 81.4L465.3 80.2L495.4 69L525.5 107.5M405.1 92L435.2 77.4L465.3 93L495.4 89.2L525.5 106.9M405.1 99.2L435.2 82.9L465.3 93.9L495.4 96.5L525.5 89.9M405.1 102.2L435.2 79.7L465.3 98.5L495.4 82.9L525.5 78.4M405.1 105.4L435.2 73.6L465.3 109.7L495.4 72L525.5 95.3M405.1 86.8L435.2 73.5L465.3 80.5L495.4 87.5L525.5 103.1M405.1 94.8L435.2 70L465.3 99.4L495.4 91.6L525.5 92.6M405.1 99.1L435.2 69.9L465.3 99L495.4 99.1L525.5 108.8M405.1 99.4L435.2 72.7L465.3 79.8L495.4 91.1L525.5 90.3M405.1 95.7L435.2 84.5L465.3 119.6L495.4 100.8L525.5 99M405.1 88.5L435.2 84.1L465.3 92.7L495.4 106.9L525.5 101.9M405.1 100.8L435.2 81L465.3 98L495.4 91L525.5 105.9M405.1 94.8L435.2 72.6L465.3 103.4L495.4 99L525.5 106.6M405.1 104.2L435.2 64L465.3 98.9L495.4 90.8L525.5 91.9M405.1 120.3L435.2 65.5L465.3 86.9L495.4 92.6L525.5 86.6M405.1 110.3L435.2 72.7L465.3 91.2L495.4 90.5L525.5 111M405.1 87.3L435.2 79.9L465.3 77.7L495.4 93.4L525.5 92.4M405.1 99.6L435.2 75.1L465.3 103.9L495.4 96.4L525.5 98.8M405.1 89.6L435.2 72.9L465.3 89L495.4 83L525.5 100.7M405.1 96.8L435.2 78.7L465.3 95L495.4 99.1L525.5 111.1M405.1 98.8L435.2 72.2L465.3 86.2L495.4 90.2L525.5 100.1M405.1 99.8L435.2 74.1L465.3 92.9L495.4 93.8L525.5 93M405.1 99.1L435.2 78.1L465.3 81.5L495.4 96.9L525.5 91.7M405.1 94.8L435.2 86.1L465.3 88.2L495.4 90.5L525.5 95.2M405.1 99.8L435.2 75.9L465.3 93.7L495.4 106.5L525.5 109.1M405.1 96.9L435.2 85.1L465.3 79.4L495.4 109.5L525.5 95.1M405.1 106.3L435.2 73.2L465.3 103.2L495.4 92.3L525.5 97.2M405.1 105.4L435.2 85.2L465.3 92.2L495.4 102.6L525.5 97.4M405.1 105.8L435.2 84L465.3 94.7L495.4 102.1L525.5 98M405.1 100.6L435.2 67.9L465.3 99.7L495.4 82.5L525.5 97.7M405.1 103.6L435.2 81.6L465.3 84.5L495.4 102.6L525.5 93.6M405.1 82.3L435.2 81.5L465.3 100.5L495.4 89.4L525.5 99.6M405.1 95.5L435.2 68.4L465.3 86.3L495.4 109.7L525.5 96.2M405.1 102L435.2 68.4L465.3 98.7L495.4 91.1L525.5 100.9M405.1 103.8L435.2 76.6L465.3 103.4L495.4 100.3L525.5 90M405.1 91.2L435.2 72L465.3 94L495.4 71.1L525.5 99.5M405.1 89.8L435.2 80.8L465.3 99.6L495.4 100.3L525.5 100.4M405.1 99.6L435.2 71.1L465.3 87.4L495.4 97L525.5 91.4" stroke="#cfcfcf" stroke-width="0.5" fill="none" stroke-linejoin="round"/>
<path d="M75.8 226.2L77.8 228.8L79.8 231.1L81.8 233.3L83.8 235.4L85.8 237.3L87.8 239.1L89.8 240.6L91.8 241.9L93.8 243.1L95.8 244.1L97.8 244.9L99.8 245.4L101.8 245.8L103.8 245.9L105.8 245.9L107.9 247.3L109.9 248.4L111.9 249.4L113.9 250.2L115.9 250.7L117.9 251.1L119.9 251.3L121.9 251.2L123.9 251L125.9 250.6L127.9 250L129.9 249.2L131.9 248.3L133.9 247.2L135.9 245.9L138 247L140 248L142 248.9L144 249.5L146 249.9L148 250.2L150 250.2L152 250.1L154 249.8L156 249.3L158 248.7L160 247.9L162 246.9L164 245.7L166.1 244.3L168.1 245.6L170.1 246.7L172.1 247.6L174.1 248.4L176.1 249L178.1 249.4L180.1 249.6L182.1 249.7L184.1 249.5L186.1 249.2L188.1 248.6L190.1 247.9L192.1 246.9L194.1 245.7L196.2 244.3L196.2 282.1L194.1 280.4L192.1 278.9L190.1 277.6L188.1 276.6L186.1 275.7L184.1 275.1L182.1 274.6L180.1 274.4L178.1 274.3L176.1 274.4L174.1 274.7L172.1 275.2L170.1 275.8L168.1 276.6L166.1 277.5L164 276.5L162 275.6L160 274.9L158 274.4L156 274L154 273.9L152 273.9L150 274.1L148 274.4L146 275L144 275.7L142 276.6L140 277.7L138 279.1L135.9 280.5L133.9 279.4L131.9 278.5L129.9 277.8L127.9 277.2L125.9 276.8L123.9 276.1L121.9 276L119.9 276.6L117.9 277.1L115.9 277.7L113.9 278.4L111.9 279.4L109.9 280.6L107.9 282L105.8 283.6L103.8 280.5L101.8 277.6L99.8 274.9L97.8 272.5L95.8 270.3L93.8 268.2L91.8 266.4L89.8 264.7L87.8 263.3L85.8 262L83.8 260.9L81.8 259.9L79.8 259.1L77.8 258.4L75.8 257.9 Z" fill="#cfcfcf"/>
<path d="M75.8 246.1L105.8 270.8L135.9 273.6L166.1 249.1L196.2 257.9M75.8 236.9L105.8 251.1L135.9 263.4L166.1 257.1L196.2 262M75.8 241.3L105.8 260.2L135.9 259.9L166.1 250.1L196.2 255.1M75.8 250.6L105.8 264.5L135.9 267.5L166.1 263L196.2 268.7M75.8 236L105.8 261L135.9 253.8L166.1 263.9L196.2 259.8M75.8 250.2L105.8 270.2L135.9 274.5L166.1 257.9L196.2 257.7M75.8 242.5L105.8 263.6L135.9 250.5L166.1 285.3L196.2 263.7M75.8 230.1L105.8 260.9L135.9 268.2L166.1 259.4L196.2 270.8M75.8 248.3L105.8 267.2L135.9 263L166.1 268.6L196.2 256.9M75.8 241.5L105.8 240.4L135.9 270.6L166.1 264.6L196.2 253.3M75.8 240.8L105.8 259.5L135.9 253.8L166.1 254.3L196.2 264.7M75.8 235.5L105.8 269.2L135.9 263.3L166.1 242.1L196.2 262.7M75.8 246.3L105.8 255.7L135.9 242.7L166.1 256.6L196.2 267M75.8 245.4L105.8 270.7L135.9 254.5L166.1 257.1L196.2 256.3M75.8 245.9L105.8 257.3L135.9 261.9L166.1 252.4L196.2 265.2M75.8 232.2L105.8 268.3L135.9 268.3L166.1 246.9L196.2 285.7M75.8 240.3L105.8 256L135.9 254L166.1 258.7L196.2 253.1M75.8 248.6L105.8 255L135.9 256.6L166.1 263L196.2 256.8M75.8 228.2L105.8 276.3L135.9 263.6L166.1 248.1L196.2 257.1M75.8 219L105.8 275.2L135.9 271.6L166.1 258.8L196.2 271.9M75.8 239L105.8 260.5L135.9 264.5L166.1 262.7L196.2 262.8M75.8 245L105.8 258.7L135.9 271.6L166.1 259.6L196.2 283.4M75.8 243.1L105.8 264.9L135.9 263.5L166.1 258.3L196.2 260.3M75.8 234.1L105.8 270L135.9 261L166.1 263.7L196.2 257.1M75.8 251.1L105.8 276.1L135.9 264.8L166.1 263.9L196.2 268.5M75.8 234.4L105.8 252.8L135.9 265.2L166.1 253L196.2 276.5M75.8 241.8L105.8 250.4L135.9 261.8L166.1 255.7L196.2 252.1M75.8 244.3L105.8 268.5L135.9 258.1L166.1 251.8L196.2 250.5M75.8 242.4L105.8 271.9L135.9 251.2L166.1 254.3L196.2 255.5M75.8 246L105.8 269.1L135.9 263L166.1 267.1L196.2 261.9M75.8 235.2L105.8 262.5L135.9 252.3L166.1 266.9L196.2 256.7M75.8 249.4L105.8 254.8L135.9 252.1L166.1 256L196.2 269.3M75.8 246L105.8 264.7L135.9 281L166.1 254.2L196.2 253M75.8 240.4L105.8 256.7L135.9 260.7L166.1 252.9L196.2 266.7M75.8 246.8L105.8 251.4L135.9 255L166.1 261.5L196.2 254.7M75.8 242.2L105.8 271L135.9 254L166.1 242.7L196.2 262.4M75.8 233.6L105.8 263.4L135.9 249.6L166.1 265.1L196.2 266M75.8 247.4L105.8 245.3L135.9 261L166.1 261L196.2 253.6M75.8 242.5L105.8 271.7L135.9 256.5L166.1 248.2L196.2 262.2M75.8 238.7L105.8 271L135.9 259.8L166.1 257.8L196.2 261.4M75.8 244.5L105.8 271L135.9 264.3L166.1 251.8L196.2 270.8M75.8 242.1L105.8 279.7L135.9 262.3L166.1 255.7L196.2 250.4M75.8 250.4L105.8 260.7L135.9 269.1L166.1 264.6L196.2 256.3M75.8 240.7L105.8 257.9L135.9 261.6L166.1 259.7L196.2 267M75.8 241.7L105.8 248.6L135.9 252L166.1 271.7L196.2 273.5M75.8 241.9L105.8 276L135.9 268.6L166.1 265.1L196.2 265.7M75.8 243.5L105.8 254.7L135.9 274.2L166.1 255.4L196.2 262.7M75.8 237.1L105.8 260.3L135.9 263.3L166.1 253.6L196.2 264.5M75.8 242.1L105.8 244.9L135.9 262.8L166.1 258.4L196.2 264.7M75.8 238.9L105.8 255.4L135.9 239.5L166.1 271.4L196.2 267.2M75.8 250.4L105.8 258.2L135.9 262L166.1 257.7L196.2 256.1M75.8 250.5L105.8 269.5L135.9 258.4L166.1 267.4L196.2 263.8M75.8 246.4L105.8 264L135.9 249.8L166.1 263.9L196.2 255M75.8 246.8L105.8 269.5L135.9 258.4L166.1 255.2L196.2 265.7M75.8 231.7L105.8 270.2L135.9 262.3L166.1 260.2L196.2 269.3M75.8 244.1L105.8 273.8L135.9 251L166.1 272.7L196.2 264.2M75.8 247.3L105.8 260.7L135.9 267L166.1 262.3L196.2 256.9M75.8 245.4L105.8 271L135.9 280.3L166.1 260.1L196.2 265.1M75.8 243.7L105.8 268L135.9 261.1L166.1 268.3L196.2 262.4M75.8 239.6L105.8 252.4L135.9 256.1L166.1 259.1L196.2 258.7M75.8 247.4L105.8 272L135.9 261.8L166.1 272.8L196.2 265M75.8 239.8L105.8 284.8L135.9 260.4L166.1 263.7L196.2 257.6M75.8 251.9L105.8 249.3L135.9 263.8L166.1 253.6L196.2 264.2M75.8 224.3L105.8 262L135.9 264.2L166.1 260.9L196.2 254.7M75.8 241.5L105.8 272.7L135.9 264.3L166.1 261.6L196.2 282.7M75.8 244.1L105.8 259.4L135.9 272L166.1 256.1L196.2 265.7M75.8 231.1L105.8 260.5L135.9 265.6L166.1 255.3L196.2 262.4M75.8 241.9L105.8 270.4L135.9 249.5L166.1 258.4L196.2 264.1M75.8 241.1L105.8 271.3L135.9 265.9L166.1 250.1L196.2 252.3M75.8 242.6L105.8 265.6L135.9 252.1L166.1 252.6L196.2 278.8M75.8 236L105.8 277.3L135.9 270.6L166.1 266.1L196.2 271.8M75.8 232L105.8 264.9L135.9 247.8L166.1 236.3L196.2 264.9M75.8 240.5L105.8 254.3L135.9 252.7L166.1 262.9L196.2 265.3M75.8 247.2L105.8 249.5L135.9 270.6L166.1 258.5L196.2 269.8M75.8 241.3L105.8 252.7L135.9 264.3L166.1 277.2L196.2 284.8M75.8 247.5L105.8 274.6L135.9 276.1L166.1 274.3L196.2 275.2M75.8 242.6L105.8 271.7L135.9 265.5L166.1 270L196.2 276.7M75.8 238.1L105.8 269.7L135.9 268.9L166.1 262.7L196.2 248.1M75.8 252.2L105.8 265.7L135.9 261L166.1 234L196.2 261.1M75.8 250.2L105.8 261.8L135.9 267L166.1 259.2L196.2 254.7M75.8 246.6L105.8 275.8L135.9 261.9L166.1 263L196.2 266M75.8 247.2L105.8 280.7L135.9 262.7L166.1 262.4L196.2 252.6M75.8 240.4L105.8 267.2L135.9 256.2L166.1 251.3L196.2 247.6M75.8 236.5L105.8 265.9L135.9 261.4L166.1 259.6L196.2 271.2M75.8 249.6L105.8 271.6L135.9 264.8L166.1 251.3L196.2 266.1M75.8 243.9L105.8 270.7L135.9 259.2L166.1 258L196.2 256.8M75.8 245L105.8 290.8L135.9 262.9L166.1 263.7L196.2 282.5M75.8 245.5L105.8 260.3L135.9 268.6L166.1 255.8L196.2 265.5M75.8 240.2L105.8 258.2L135.9 266.3L166.1 268.6L196.2 265M75.8 239L105.8 274.1L135.9 256.7L166.1 253.4L196.2 259.5M75.8 250.6L105.8 252.8L135.9 269.7L166.1 249.3L196.2 265.2M75.8 239.8L105.8 268.1L135.9 260.7L166.1 259.6L196.2 262.7M75.8 237.9L105.8 270.7L135.9 255.3L166.1 261.9L196.2 257.9M75.8 230.8L105.8 268L135.9 261.7L166.1 262.3L196.2 262.8M75.8 239.1L105.8 276.6L135.9 259.7L166.1 255L196.2 268.3M75.8 242.5L105.8 264.8L135.9 270.7L166.1 259.8L196.2 263.4M75.8 239.7L105.8 267.9L135.9 251.2L166.1 250.9L196.2 262.4M75.8 238.8L105.8 270.6L135.9 251.2L166.1 266.4L196.2 245.5M75.8 236.7L105.8 270.2L135.9 252.1L166.1 258.8L196.2 266.3M75.8 260.6L105.8 272.8L135.9 258.6L166.1 243.2L196.2 254.1M75.8 247.3L105.8 262.5L135.9 255.6L166.1 250L196.2 269.4M75.8 236.9L105.8 260.5L135.9 270.3L166.1 265L196.2 261M75.8 252L105.8 269.3L135.9 258.8L166.1 259.1L196.2 268M75.8 245.6L105.8 271.9L135.9 267.2L166.1 253.6L196.2 262.5M75.8 240.4L105.8 267.4L135.9 267.9L166.1 254.9L196.2 261.8M75.8 232.1L105.8 272.6L135.9 267.9L166.1 253.8L196.2 266.6M75.8 252.2L105.8 256L135.9 263.3L166.1 263.3L196.2 260.8M75.8 244L105.8 260.4L135.9 265.7L166.1 254.2L196.2 271.1M75.8 219.9L105.8 259.3L135.9 264.3L166.1 260L196.2 262.7M75.8 243.5L105.8 268.8L135.9 259.7L166.1 262.9L196.2 251.3M75.8 256.5L105.8 269.9L135.9 273.8L166.1 250.8L196.2 256.6M75.8 244.6L105.8 256L135.9 266.2L166.1 248.1L196.2 277.5M75.8 242.3L105.8 279.9L135.9 261.4L166.1 256.1L196.2 254.5M75.8 240.2L105.8 249.8L135.9 269.4L166.1 254.1L196.2 273.4M75.8 238.3L105.8 270.4L135.9 263.4L166.1 248.7L196.2 258.2M75.8 240.7L105.8 262.8L135.9 267.9L166.1 269.8L196.2 285.2M75.8 239.4L105.8 254.9L135.9 258L166.1 247.4L196.2 269.2M75.8 245.3L105.8 262.7L135.9 250.8L166.1 259.6L196.2 261.7M75.8 244.1L105.8 265.6L135.9 269.5L166.1 264.4L196.2 260.8M75.8 240.2L105.8 242.8L135.9 257.5L166.1 264.5L196.2 264.5M75.8 250.2L105.8 264.1L135.9 279.5L166.1 268L196.2 264.3M75.8 234.5L105.8 277.5L135.9 273.9L166.1 278.7L196.2 264.3M75.8 238.5L105.8 274.4L135.9 263L166.1 258.8L196.2 260.6M75.8 242.1L105.8 262.4L135.9 262.3L166.1 242L196.2 261.9M75.8 238.7L105.8 268.6L135.9 250.5L166.1 268.7L196.2 265.5M75.8 249.3L105.8 263L135.9 261.9L166.1 253.4L196.2 261.4M75.8 253.8L105.8 261.6L135.9 270.6L166.1 265.7L196.2 269.1M75.8 237.7L105.8 271.5L135.9 261.8L166.1 260.4L196.2 267.8M75.8 241L105.8 267.9L135.9 266.9L166.1 264L196.2 254.6M75.8 242.3L105.8 267.6L135.9 257L166.1 254.5L196.2 267.6M75.8 235.7L105.8 262.2L135.9 268.3L166.1 260.4L196.2 255.1M75.8 237.1L105.8 254.2L135.9 269.8L166.1 269L196.2 256M75.8 246.4L105.8 267.3L135.9 265.2L166.1 250L196.2 259.9M75.8 230.2L105.8 265.6L135.9 270.9L166.1 267.4L196.2 260.5M75.8 240.4L105.8 260.9L135.9 272.1L166.1 260L196.2 268M75.8 237.4L105.8 270.1L135.9 252L166.1 249L196.2 270.4M75.8 245.3L105.8 274.8L135.9 267L166.1 261.1L196.2 256.3M75.8 241.1L105.8 263.7L135.9 248.8L166.1 265.7L196.2 276.2M75.8 239.3L105.8 261.5L135.9 264.4L166.1 257.1L196.2 252.2M75.8 232.6L105.8 259L135.9 241.6L166.1 270.1L196.2 238.9M75.8 250.9L105.8 251.8L135.9 269.9L166.1 262.5L196.2 265.7M75.8 236.4L105.8 254.3L135.9 260.6L166.1 259.6L196.2 269.5M75.8 245.9L105.8 259.5L135.9 270.4L166.1 258.3L196.2 266.9M75.8 236.4L105.8 274.5L135.9 270.5L166.1 253.5L196.2 279.4M75.8 243.6L105.8 265.3L135.9 260.9L166.1 286L196.2 263.6M75.8 240.6L105.8 254.7L135.9 268.4L166.1 271.1L196.2 264M75.8 229.3L105.8 263.2L135.9 263.6L166.1 255.6L196.2 253.7M75.8 253.1L105.8 251.9L135.9 260.7L166.1 262.8L196.2 255.5M75.8 240.4L105.8 253.8L135.9 263.1L166.1 271L196.2 258.2M75.8 245.2L105.8 257.4L135.9 266.5L166.1 265.1L196.2 261.5M75.8 239.7L105.8 266.2L135.9 273.1L166.1 263.7L196.2 268.7M75.8 249.1L105.8 264.7L135.9 274.9L166.1 276L196.2 269.4M75.8 234.4L105.8 255.2L135.9 259L166.1 253.9L196.2 252.5M75.8 248.4L105.8 263.3L135.9 258.8L166.1 263L196.2 242.5M75.8 241.2L105.8 263.5L135.9 267.6L166.1 268.7L196.2 275.5M75.8 247L105.8 256.9L135.9 247.4L166.1 253.6L196.2 254.5M75.8 235.6L105.8 268.5L135.9 266.3L166.1 255.5L196.2 245.3M75.8 223.6L105.8 273.6L135.9 261.9L166.1 259.8L196.2 246.7M75.8 241.1L105.8 255.6L135.9 252.7L166.1 246.2L196.2 265.1M75.8 242.7L105.8 255.2L135.9 262.9L166.1 266.8L196.2 249.3M75.8 246.2L105.8 275.5L135.9 265.8L166.1 276.8L196.2 256.3M75.8 249.3L105.8 241L135.9 268.8L166.1 260.2L196.2 257.2M75.8 242.8L105.8 267.9L135.9 266.3L166.1 250.5L196.2 264.2M75.8 237.8L105.8 277.1L135.9 262.1L166.1 261.9L196.2 273.4M75.8 237.5L105.8 254.6L135.9 261.4L166.1 263.4L196.2 263.6M75.8 248.8L105.8 267.4L135.9 278.3L166.1 262.2L196.2 265.6M75.8 250.8L105.8 266.4L135.9 252.5L166.1 255.7L196.2 251.3M75.8 236.2L105.8 256.8L135.9 251.8L166.1 267.9L196.2 251.7M75.8 231.6L105.8 255.5L135.9 285.1L166.1 246.8L196.2 259.7M75.8 231L105.8 256.7L135.9 256.9L166.1 261.3L196.2 249.8M75.8 235L105.8 259.9L135.9 269.6L166.1 259.6L196.2 249.9M75.8 240.1L105.8 262.9L135.9 259.9L166.1 254.1L196.2 258.9M75.8 240.6L105.8 262.6L135.9 259.8L166.1 258.2L196.2 261.1M75.8 239.7L105.8 268L135.9 261.4L166.1 254.7L196.2 264.7M75.8 243.3L105.8 271.8L135.9 268.8L166.1 238.6L196.2 264.7M75.8 240.8L105.8 254.9L135.9 270.3L166.1 262.9L196.2 262.3M75.8 241.1L105.8 272.5L135.9 271.8L166.1 255.5L196.2 258.4M75.8 250.3L105.8 261.5L135.9 259.4L166.1 252.4L196.2 263.7M75.8 242.3L105.8 258.8L135.9 266.4L166.1 267.4L196.2 260M75.8 241.9L105.8 267.4L135.9 264L166.1 254L196.2 272.2M75.8 243.5L105.8 261.2L135.9 270.8L166.1 265.1L196.2 259M75.8 244.2L105.8 254.1L135.9 253L166.1 260.7L196.2 258.8M75.8 241.1L105.8 272.4L135.9 264.9L166.1 255.1L196.2 274.3M75.8 249.1L105.8 267L135.9 281.5L166.1 270.8L196.2 270.9M75.8 241L105.8 281.9L135.9 247.1L166.1 257L196.2 278.4M75.8 231.2L105.8 264.7L135.9 264.2L166.1 258.8L196.2 270.6M75.8 241.6L105.8 265L135.9 271.8L166.1 271.2L196.2 267M75.8 234L105.8 261.9L135.9 264.9L166.1 255.6L196.2 252.6M75.8 244.6L105.8 260.5L135.9 262.5L166.1 282.3L196.2 259.9M75.8 251.1L105.8 269.2L135.9 253.9L166.1 258.7L196.2 268.1M75.8 235.5L105.8 286L135.9 254.5L166.1 237.1L196.2 265.7M75.8 240L105.8 267.8L135.9 262L166.1 264.6L196.2 269.4M75.8 247.3L105.8 262.5L135.9 269.7L166.1 260L196.2 257.3M75.8 244.3L105.8 268.8L135.9 265.9L166.1 245.2L196.2 264.3M75.8 245.2L105.8 271.6L135.9 265.3L166.1 256.6L196.2 277.1M75.8 245.7L105.8 269.9L135.9 269.2L166.1 265.1L196.2 268.9M75.8 240.4L105.8 280L135.9 274.5L166.1 267L196.2 237.1M75.8 243.4L105.8 267.5L135.9 257.9L166.1 258.2L196.2 266.8M75.8 240.7L105.8 269.8L135.9 263.2L166.1 257.6L196.2 259.3M75.8 242.2L105.8 269L135.9 261.8L166.1 256L196.2 266.1M75.8 253.3L105.8 260.7L135.9 262L166.1 256.8L196.2 267.4M75.8 242.1L105.8 253.9L135.9 258.8L166.1 256.3L196.2 253.8M75.8 253L105.8 253L135.9 259.6L166.1 259.2L196.2 262.4M75.8 231.9L105.8 255.2L135.9 259.3L166.1 240.9L196.2 263.1M75.8 242.1L105.8 261.9L135.9 267.7L166.1 258.6L196.2 259.3M75.8 255.5L105.8 270.1L135.9 263.5L166.1 267L196.2 267.6M75.8 251.8L105.8 259L135.9 270.4L166.1 262.8L196.2 265.3M75.8 236.7L105.8 263.5L135.9 259.1L166.1 258.7L196.2 252.5M75.8 235.4L105.8 262.3L135.9 267.2L166.1 259.5L196.2 256.2M75.8 233.6L105.8 259.5L135.9 258.9L166.1 263.4L196.2 258.4M75.8 234.9L105.8 259.3L135.9 250.4L166.1 249.8L196.2 268.5M75.8 248.2L105.8 260.4L135.9 269.3L166.1 257.2L196.2 276.7M75.8 239.7L105.8 249.7L135.9 267L166.1 266.5L196.2 266.9M75.8 221.7L105.8 289.6L135.9 267.2L166.1 257.8L196.2 270.7M75.8 246.5L105.8 266.2L135.9 243.7L166.1 275.5L196.2 247.7M75.8 237.1L105.8 269L135.9 262.5L166.1 262.8L196.2 267.3M75.8 245.8L105.8 278.3L135.9 258.8L166.1 264.8L196.2 260.4M75.8 243.6L105.8 256.4L135.9 263.5L166.1 255.3L196.2 252.2M75.8 241.6L105.8 253.5L135.9 265.7L166.1 260.3L196.2 281.3M75.8 243.3L105.8 265.1L135.9 260.7L166.1 274.4L196.2 259.7M75.8 247.8L105.8 261.7L135.9 268.9L166.1 262.7L196.2 265.8M75.8 241.5L105.8 253.5L135.9 253.4L166.1 260.3L196.2 260.9M75.8 229.3L105.8 255.8L135.9 264.7L166.1 257.6L196.2 261.3M75.8 235.7L105.8 276L135.9 270.7L166.1 259.9L196.2 276.2M75.8 240.4L105.8 267.9L135.9 268.4L166.1 275.8L196.2 267.7M75.8 253.3L105.8 255.4L135.9 253.5L166.1 266L196.2 256.8M75.8 237.3L105.8 266L135.9 262.5L166.1 260.5L196.2 272.9M75.8 236.2L105.8 273.3L135.9 256.7L166.1 269.6L196.2 260.4M75.8 238.2L105.8 259.7L135.9 244.3L166.1 261.4L196.2 268.6M75.8 242.8L105.8 261.4L135.9 270.3L166.1 271.4L196.2 262.6M75.8 241.6L105.8 267.2L135.9 264.2L166.1 264L196.2 259.7M75.8 244.9L105.8 275.3L135.9 257.4L166.1 260.1L196.2 269.8M75.8 244.7L105.8 273.2L135.9 262.7L166.1 264.8L196.2 257M75.8 237.2L105.8 241.6L135.9 254L166.1 258.1L196.2 243.1M75.8 234.7L105.8 257.9L135.9 263.9L166.1 261.5L196.2 259.8M75.8 233.8L105.8 284.2L135.9 257L166.1 252.1L196.2 266.9M75.8 247.1L105.8 274.5L135.9 258.7L166.1 262.6L196.2 270.1M75.8 241.2L105.8 254.1L135.9 261.1L166.1 265.3L196.2 262.7M75.8 251.1L105.8 265.6L135.9 252.5L166.1 260.2L196.2 261.9M75.8 250.6L105.8 269.1L135.9 271.1L166.1 263.7L196.2 245M75.8 246.9L105.8 255.6L135.9 253.1L166.1 261.1L196.2 265.6M75.8 236.8L105.8 268.1L135.9 257.3L166.1 261.3L196.2 266.9M75.8 241.1L105.8 269.2L135.9 266.7L166.1 252.7L196.2 263.9M75.8 240.4L105.8 246.6L135.9 262.7L166.1 263.4L196.2 267.5M75.8 251L105.8 263.8L135.9 265.1L166.1 265.4L196.2 265.7M75.8 246.6L105.8 267.3L135.9 260.6L166.1 265.9L196.2 257.5M75.8 246.6L105.8 253.2L135.9 269L166.1 252.1L196.2 259.7M75.8 247.8L105.8 282.4L135.9 260.5L166.1 255.3L196.2 259M75.8 232.7L105.8 259.9L135.9 266.2L166.1 266.1L196.2 261M75.8 245.1L105.8 273.2L135.9 261.2L166.1 258.5L196.2 252.3M75.8 244.1L105.8 263.6L135.9 245.4L166.1 253.7L196.2 256.8M75.8 244.5L105.8 262.2L135.9 263.5L166.1 258.9L196.2 284.1M75.8 255.9L105.8 271.5L135.9 266.5L166.1 263.5L196.2 267.8M75.8 241.1L105.8 274L135.9 254L166.1 283.6L196.2 255.6M75.8 255.9L105.8 262.6L135.9 257.6L166.1 256.1L196.2 269.8M75.8 229.2L105.8 276L135.9 259.9L166.1 263.9L196.2 267.1M75.8 252.9L105.8 263.6L135.9 256.6L166.1 259.3L196.2 256.3M75.8 247L105.8 271.5L135.9 256.9L166.1 264.6L196.2 263.2M75.8 249.5L105.8 254.1L135.9 266.8L166.1 262.1L196.2 268.9M75.8 236.4L105.8 273.4L135.9 252.4L166.1 253.1L196.2 255.1M75.8 233.1L105.8 268.1L135.9 264.3L166.1 254L196.2 270.1M75.8 249.6L105.8 259.4L135.9 263.1L166.1 260.4L196.2 269.1M75.8 234L105.8 275L135.9 260.9L166.1 266.5L196.2 252.3M75.8 244.6L105.8 278.6L135.9 263.1L166.1 253.7L196.2 259.1M75.8 241.8L105.8 275.1L135.9 267.9L166.1 257.4L196.2 268.2M75.8 229L105.8 263.4L135.9 260.2L166.1 267L196.2 264.3M75.8 241.6L105.8 257.9L135.9 260.7L166.1 260.3L196.2 273.4M75.8 243.8L105.8 260.7L135.9 256.2L166.1 275.6L196.2 267.6M75.8 244.8L105.8 267.7L135.9 261.3L166.1 253.8L196.2 264.2M75.8 242.6L105.8 262.8L135.9 257.8L166.1 261.4L196.2 269.9M75.8 244.1L105.8 262.6L135.9 270.7L166.1 260.5L196.2 264.8M75.8 236L105.8 269L135.9 274L166.1 263L196.2 270.4M75.8 239.7L105.8 264.6L135.9 245.1L166.1 255.6L196.2 267.5M75.8 238.9L105.8 253.2L135.9 261.4L166.1 263.3L196.2 275.4M75.8 233.9L105.8 264.7L135.9 270.6L166.1 273.5L196.2 275.1M75.8 237L105.8 272.2L135.9 270.2L166.1 262.4L196.2 264M75.8 241.7L105.8 263.7L135.9 270.3L166.1 254L196.2 261.9M75.8 245.3L105.8 267.2L135.9 281.4L166.1 260.2L196.2 236M75.8 250.4L105.8 243.1L135.9 257.4L166.1 269.3L196.2 251.7M75.8 236.4L105.8 268L135.9 252.4L166.1 258.8L196.2 268.6M75.8 238L105.8 252.6L135.9 265.5L166.1 251.1L196.2 262.5M75.8 244L105.8 260.8L135.9 254.1L166.1 266.4L196.2 240.7M75.8 232.3L105.8 263.8L135.9 265.2L166.1 279.9L196.2 265.3M75.8 245.3L105.8 268L135.9 265.6L166.1 272.9L196.2 278.6M75.8 254.2L105.8 271.7L135.9 266.3L166.1 257.8L196.2 254.5M75.8 233.9L105.8 254.2L135.9 264.9L166.1 259L196.2 272M75.8 244.5L105.8 258.2L135.9 258.3L166.1 251L196.2 262.3M75.8 229.1L105.8 259L135.9 261.1L166.1 279.6L196.2 274.3M75.8 242.6L105.8 261.4L135.9 266.5L166.1 265.5L196.2 272.7M75.8 243.6L105.8 267.1L135.9 260.3L166.1 260L196.2 261M75.8 234.9L105.8 263.4L135.9 266.8L166.1 257.9L196.2 254.5M75.8 240L105.8 266.7L135.9 257.8L166.1 259.8L196.2 270.8M75.8 239.1L105.8 257.4L135.9 269.7L166.1 244.6L196.2 267M75.8 239.3L105.8 265.8L135.9 260.6L166.1 252.7L196.2 250.2M75.8 223.3L105.8 253.2L135.9 268.5L166.1 265.2L196.2 275.4M75.8 224.1L105.8 259.6L135.9 264.1L166.1 265.3L196.2 264.2M75.8 231.4L105.8 275.4L135.9 272L166.1 262.5L196.2 262.4M75.8 250.1L105.8 259.8L135.9 274.8L166.1 258.8L196.2 266.7M75.8 228.9L105.8 278.5L135.9 252.1L166.1 261.1L196.2 261.4M75.8 240.2L105.8 272.5L135.9 260.1L166.1 264.2L196.2 274.1M75.8 253.2L105.8 255.9L135.9 258L166.1 258.6L196.2 274.7M75.8 243.1L105.8 261.2L135.9 260.9L166.1 251.8L196.2 269.2M75.8 242.8L105.8 259.2L135.9 252L166.1 256.6L196.2 248.7M75.8 254.8L105.8 259.1L135.9 266.9L166.1 251.7L196.2 264.7M75.8 228.8L105.8 272L135.9 258.8L166.1 256.9L196.2 262.5M75.8 244.7L105.8 282.3L135.9 263.2L166.1 255.9L196.2 262.3M75.8 232.6L105.8 262.2L135.9 249.1L166.1 254.5L196.2 271M75.8 248.2L105.8 268.1L135.9 268.5L166.1 267.8L196.2 276.4M75.8 232.6L105.8 268.5L135.9 256L166.1 257.1L196.2 272.6M75.8 237.3L105.8 255.5L135.9 264.5L166.1 275.6L196.2 265.9M75.8 247L105.8 267L135.9 265.4L166.1 281.1L196.2 264M75.8 236.1L105.8 261.1L135.9 280.5L166.1 249.2L196.2 274.4M75.8 244L105.8 259.4L135.9 258.2L166.1 261.7L196.2 263.1M75.8 237.2L105.8 273.3L135.9 263.1L166.1 258.2L196.2 259.7M75.8 252.1L105.8 256.6L135.9 260.4L166.1 281.9L196.2 270.6M75.8 241L105.8 272.1L135.9 245.5L166.1 261.1L196.2 256.3M75.8 241.9L105.8 252.7L135.9 272.5L166.1 259.7L196.2 261.3M75.8 238.1L105.8 265.6L135.9 268.2L166.1 250.5L196.2 257.7M75.8 246.9L105.8 264.7L135.9 283.3L166.1 259.9L196.2 254.7M75.8 241.7L105.8 270.3L135.9 257.4L166.1 259.3L196.2 249M75.8 236.7L105.8 251.9L135.9 253.7L166.1 260.2L196.2 275.7M75.8 245.3L105.8 262.8L135.9 266.2L166.1 255.2L196.2 258.8M75.8 227.7L105.8 273.6L135.9 260.7L166.1 257.6L196.2 283.5M75.8 233.4L105.8 262.5L135.9 263.3L166.1 256.7L196.2 272.4M75.8 231.6L105.8 260.6L135.9 259.8L166.1 262.6L196.2 250.6M75.8 244.5L105.8 268.9L135.9 261.2L166.1 262.3L196.2 267.4M75.8 246.5L105.8 256.4L135.9 245.2L166.1 262.8L196.2 258.2M75.8 237L105.8 263.1L135.9 267.8L166.1 266.2L196.2 257.6M75.8 224.2L105.8 277.3L135.9 259.8L166.1 263.1L196.2 270.7M75.8 255.8L105.8 266.5L135.9 263.7L166.1 257.7L196.2 261.5M75.8 238.6L105.8 265.7L135.9 243.9L166.1 269.3L196.2 264.8M75.8 242.2L105.8 243.4L135.9 265.4L166.1 254.4L196.2 255.6M75.8 237.9L105.8 254.9L135.9 261.9L166.1 265.4L196.2 262M75.8 260.9L105.8 265.9L135.9 259.7L166.1 263.7L196.2 254.6M75.8 243L105.8 263L135.9 284.2L166.1 260L196.2 252.8M75.8 248.5L105.8 267L135.9 260.5L166.1 261.3L196.2 269M75.8 255.6L105.8 240.8L135.9 258.9L166.1 257L196.2 261M75.8 239.6L105.8 258.5L135.9 269.4L166.1 267.1L196.2 268.2M75.8 248.4L105.8 272.6L135.9 261.6L166.1 262L196.2 263.7M75.8 240L105.8 254.5L135.9 262.5L166.1 263.9L196.2 270.8M75.8 244.6L105.8 270.1L135.9 258.8L166.1 263.1L196.2 255.9M75.8 236.8L105.8 268.3L135.9 261.4L166.1 262.3L196.2 252M75.8 254.6L105.8 263L135.9 267.7L166.1 263.4L196.2 268.4M75.8 234.9L105.8 261.7L135.9 280.6L166.1 259.8L196.2 248M75.8 248.7L105.8 272.6L135.9 247.8L166.1 265L196.2 244.9M75.8 250L105.8 273.4L135.9 270.8L166.1 245.4L196.2 252.9M75.8 236.3L105.8 273.5L135.9 258L166.1 259L196.2 261M75.8 237.7L105.8 263.6L135.9 264.8L166.1 265.2L196.2 258.9M75.8 233.9L105.8 267.7L135.9 265.1L166.1 261.9L196.2 278.4M75.8 245.2L105.8 260.7L135.9 257.2L166.1 275.7L196.2 253.9M75.8 237.6L105.8 270.3L135.9 250.9L166.1 254.1L196.2 272.7M75.8 225.9L105.8 277L135.9 243.9L166.1 261.9L196.2 267.5M75.8 235.2L105.8 263.2L135.9 246.5L166.1 255.7L196.2 271.1M75.8 244L105.8 273L135.9 261.9L166.1 256.6L196.2 261.2M75.8 235.2L105.8 267L135.9 257.3L166.1 250.9L196.2 273.3M75.8 232.9L105.8 259.2L135.9 269.6L166.1 269.8L196.2 262.1M75.8 231.6L105.8 260.2L135.9 261.3L166.1 262.1L196.2 268.6M75.8 244.1L105.8 271.3L135.9 251.9L166.1 254.9L196.2 252.6M75.8 259.7L105.8 286.7L135.9 273.7L166.1 259.9L196.2 268.1M75.8 224.4L105.8 263.4L135.9 252.8L166.1 273.2L196.2 276.4M75.8 243.1L105.8 275.3L135.9 257.8L166.1 266.3L196.2 258.2M75.8 243.8L105.8 294.4L135.9 264.1L166.1 265.9L196.2 265.2M75.8 228.5L105.8 244.8L135.9 264.4L166.1 262L196.2 265.5M75.8 254.2L105.8 263.1L135.9 265.2L166.1 255L196.2 266.3M75.8 232.9L105.8 262.4L135.9 257L166.1 251.1L196.2 266.1M75.8 240.5L105.8 262.4L135.9 256.7L166.1 264.2L196.2 259.3M75.8 237L105.8 254.9L135.9 264.6L166.1 265.9L196.2 260.5M75.8 240.7L105.8 272.9L135.9 262.6L166.1 261.1L196.2 260.9M75.8 242.1L105.8 266.6L135.9 264.9L166.1 256.1L196.2 277M75.8 234.3L105.8 263.9L135.9 257.9L166.1 247.2L196.2 261.6M75.8 236.5L105.8 263.9L135.9 249L166.1 266.6L196.2 260.2M75.8 240.8L105.8 280L135.9 276.3L166.1 264.5L196.2 254.5M75.8 247.9L105.8 267.6L135.9 257L166.1 262.3L196.2 267.2M75.8 240.2L105.8 268.7L135.9 262.7L166.1 269L196.2 269.7M75.8 236.2L105.8 268.7L135.9 256.8L166.1 266.8L196.2 273M75.8 239.2L105.8 268.7L135.9 260L166.1 249.5L196.2 261.1M75.8 247.4L105.8 260.5L135.9 269.5L166.1 254.4L196.2 258.8M75.8 247.6L105.8 286.6L135.9 268.1L166.1 263.5L196.2 254.6M75.8 240.6L105.8 256.5L135.9 261.7L166.1 253.3L196.2 266.2M75.8 237.4L105.8 264.7L135.9 266L166.1 258.2L196.2 269M75.8 246.7L105.8 263.7L135.9 256.3L166.1 262L196.2 254.4M75.8 220.8L105.8 271.1L135.9 252.9L166.1 264.6L196.2 267.2M75.8 241.2L105.8 263.2L135.9 258.6L166.1 264.2L196.2 274.5M75.8 256.5L105.8 269.2L135.9 263.9L166.1 264.1L196.2 273.3M75.8 244L105.8 259.6L135.9 266.3L166.1 265.4L196.2 260.5M75.8 237.5L105.8 259.8L135.9 268.5L166.1 265.6L196.2 261.1M75.8 243.3L105.8 262.5L135.9 279.4L166.1 262.7L196.2 271.3M75.8 257L105.8 269.7L135.9 275.9L166.1 277.5L196.2 257.3M75.8 239.3L105.8 264.8L135.9 256.6L166.1 273.5L196.2 249.1M75.8 248.7L105.8 274.1L135.9 262.9L166.1 267.4L196.2 254.8M75.8 245.5L105.8 261.3L135.9 279.2L166.1 255L196.2 257.6M75.8 242.6L105.8 250.6L135.9 264.5L166.1 258.8L196.2 236.5M75.8 229.5L105.8 276.7L135.9 268.9L166.1 256.6L196.2 262.6M75.8 241.1L105.8 259.6L135.9 259.7L166.1 255.5L196.2 269M75.8 237L105.8 264L135.9 262.9L166.1 258.1L196.2 259.7M75.8 236.4L105.8 256L135.9 264.1L166.1 264.1L196.2 255.4M75.8 248.3L105.8 260.6L135.9 273.7L166.1 256.5L196.2 259.4M75.8 242.6L105.8 267.9L135.9 281.1L166.1 252.5L196.2 277.3M75.8 230.9L105.8 266.4L135.9 265L166.1 253.4L196.2 266.1M75.8 236.6L105.8 258.3L135.9 267.5L166.1 262.9L196.2 262.4M75.8 236.4L105.8 262.6L135.9 267.9L166.1 265.5L196.2 286.6M75.8 243.1L105.8 262.9L135.9 284.6L166.1 257.8L196.2 286.1M75.8 238.5L105.8 265.3L135.9 255.2L166.1 254.2L196.2 266.8M75.8 250.2L105.8 258.9L135.9 263.4L166.1 255.8L196.2 265.3M75.8 238.5L105.8 264L135.9 266.1L166.1 263.2L196.2 257M75.8 247.2L105.8 270.8L135.9 270.3L166.1 270L196.2 259M75.8 240.9L105.8 276.6L135.9 252.2L166.1 255.7L196.2 266M75.8 253.6L105.8 270.1L135.9 259.2L166.1 269L196.2 269.5M75.8 234L105.8 260.5L135.9 255.9L166.1 289.6L196.2 266.8M75.8 246.8L105.8 270.4L135.9 261.2L166.1 270L196.2 256.8M75.8 237.5L105.8 270.8L135.9 253.6L166.1 255.1L196.2 256.8M75.8 228L105.8 272.1L135.9 275.6L166.1 256.2L196.2 253.3M75.8 246.8L105.8 276.6L135.9 254.9L166.1 261.6L196.2 263M75.8 246.8L105.8 262.9L135.9 264.2L166.1 245L196.2 265.7M75.8 232.6L105.8 263.7L135.9 274.7L166.1 261.8L196.2 262.5M75.8 236.1L105.8 263.1L135.9 270.7L166.1 270.9L196.2 268.9M75.8 249.3L105.8 256L135.9 261.2L166.1 263.5L196.2 265.3M75.8 242.8L105.8 260.1L135.9 275.8L166.1 264.1L196.2 268.2M75.8 238.2L105.8 264.2L135.9 261.9L166.1 253.7L196.2 257.7M75.8 243.1L105.8 274.3L135.9 276.7L166.1 267.7L196.2 263.7M75.8 245.8L105.8 258.4L135.9 261.4L166.1 256.7L196.2 276.4M75.8 244.1L105.8 265.1L135.9 260.1L166.1 258.2L196.2 231.7M75.8 247.5L105.8 269.4L135.9 265.7L166.1 266.2L196.2 252.1M75.8 235.4L105.8 259.7L135.9 252.4L166.1 263.7L196.2 257.8M75.8 243L105.8 269.5L135.9 272.6L166.1 260.1L196.2 267M75.8 259.4L105.8 264.4L135.9 255.6L166.1 265.5L196.2 249.3M75.8 244.1L105.8 265L135.9 255.2L166.1 267.8L196.2 251.4M75.8 240.7L105.8 275.9L135.9 265.4L166.1 277.4L196.2 252.8M75.8 248.9L105.8 255.7L135.9 257.6L166.1 259.9L196.2 258.2M75.8 246.3L105.8 268.6L135.9 258.3L166.1 259.5L196.2 263.8M75.8 238.6L105.8 262.9L135.9 257.9L166.1 265.7L196.2 272.9M75.8 243.8L105.8 255.4L135.9 252.9L166.1 262.8L196.2 257.9M75.8 242.6L105.8 270.6L135.9 262.3L166.1 260.4L196.2 262.9M75.8 237.8L105.8 247.5L135.9 268.8L166.1 253.5L196.2 258.6M75.8 231.9L105.8 263.4L135.9 279.1L166.1 262.8L196.2 256.7M75.8 230.7L105.8 265.8L135.9 252.3L166.1 255.7L196.2 253.1M75.8 240.2L105.8 258.2L135.9 263.6L166.1 268.4L196.2 260.5M75.8 238L105.8 267L135.9 255.9L166.1 257.3L196.2 274.5M75.8 242.6L105.8 265.7L135.9 269.8L166.1 255.4L196.2 265.2M75.8 240.5L105.8 261.6L135.9 264.8L166.1 271.4L196.2 262.4M75.8 237.6L105.8 267.5L135.9 269.3L166.1 256.3L196.2 228.1M75.8 242.9L105.8 266.9L135.9 267L166.1 259.6L196.2 262.3M75.8 235.6L105.8 273.4L135.9 258L166.1 256.4L196.2 257.6M75.8 255.8L105.8 256.2L135.9 269.5L166.1 246.3L196.2 270M75.8 243.1L105.8 259.5L135.9 270.9L166.1 253.9L196.2 263.1M75.8 231.7L105.8 261.1L135.9 268.1L166.1 259.1L196.2 243.8M75.8 226.4L105.8 258.3L135.9 271.2L166.1 269.6L196.2 243M75.8 250.5L105.8 264.4L135.9 258.5L166.1 260.5L196.2 257.2M75.8 240.4L105.8 263.3L135.9 260.2L166.1 254.3L196.2 264.3M75.8 246.4L105.8 266.9L135.9 270.5L166.1 257.6L196.2 268.2M75.8 244.4L105.8 278.3L135.9 262L166.1 256.3L196.2 263.7M75.8 252.3L105.8 267.6L135.9 267.3L166.1 265.4L196.2 264.7M75.8 230.6L105.8 287.2L135.9 258.4L166.1 266.1L196.2 261.2M75.8 239.3L105.8 278.9L135.9 264L166.1 269.4L196.2 280.8M75.8 247.6L105.8 261.1L135.9 266.5L166.1 268.3L196.2 265.7M75.8 243.2L105.8 282.2L135.9 255.6L166.1 266.1L196.2 256.9M75.8 245.1L105.8 259.1L135.9 264.1L166.1 257.9L196.2 258.7M75.8 241.7L105.8 266L135.9 271.3L166.1 275.1L196.2 267.9M75.8 239.8L105.8 265.2L135.9 237.4L166.1 260.1L196.2 270.7M75.8 240.4L105.8 259.9L135.9 269.4L166.1 257.5L196.2 261.2M75.8 246.6L105.8 273.2L135.9 263.9L166.1 260.4L196.2 268.5M75.8 236.5L105.8 264.5L135.9 271.9L166.1 265.7L196.2 274.5M75.8 237.5L105.8 286.7L135.9 262.4L166.1 260.6L196.2 273.1M75.8 251.1L105.8 272.6L135.9 272.7L166.1 259.8L196.2 255.5M75.8 238.3L105.8 261L135.9 282.4L166.1 241.9L196.2 266.6M75.8 229.9L105.8 268.8L135.9 264.2L166.1 265.3L196.2 264.2M75.8 232.9L105.8 266.6L135.9 259.7L166.1 271.5L196.2 262.1M75.8 237.7L105.8 274.5L135.9 264L166.1 255L196.2 258.7M75.8 237.7L105.8 270L135.9 272.8L166.1 260.9L196.2 256.9M75.8 238.5L105.8 259.4L135.9 259.8L166.1 247.9L196.2 262.3M75.8 244.2L105.8 254.4L135.9 266.7L166.1 264.2L196.2 251M75.8 240.8L105.8 239.8L135.9 248.3L166.1 249.8L196.2 264.2M75.8 238L105.8 266.9L135.9 259L166.1 256.1L196.2 255.7M75.8 244.6L105.8 276.2L135.9 255.3L166.1 263.7L196.2 275.1M75.8 242.2L105.8 277L135.9 265.1L166.1 265.8L196.2 253.3M75.8 237.7L105.8 274.7L135.9 258.6L166.1 272.1L196.2 270.2M75.8 236L105.8 258.4L135.9 255.6L166.1 260.2L196.2 275.7M75.8 236.4L105.8 262.4L135.9 272L166.1 271.6L196.2 252.4M75.8 244.7L105.8 251.2L135.9 270.5L166.1 248.8L196.2 269.4M75.8 241.4L105.8 276.7L135.9 271.2L166.1 266.6L196.2 260.2M75.8 229.7L105.8 255.1L135.9 266L166.1 260.5L196.2 268.7M75.8 249L105.8 267.7L135.9 270.8L166.1 269L196.2 268.2M75.8 245.6L105.8 263L135.9 283.7L166.1 268L196.2 273.9M75.8 240.9L105.8 240.2L135.9 275.1L166.1 249.5L196.2 260M75.8 235.1L105.8 246.3L135.9 244.8L166.1 259.5L196.2 254.8M75.8 225.3L105.8 262.2L135.9 264.1L166.1 272.5L196.2 264.7M75.8 233.1L105.8 258.7L135.9 266.1L166.1 244.5L196.2 258.9M75.8 252.1L105.8 264.7L135.9 263.8L166.1 270.3L196.2 257.6M75.8 247.6L105.8 264L135.9 269.5L166.1 255L196.2 268.2M75.8 238.9L105.8 251.6L135.9 255.3L166.1 269L196.2 239.4M75.8 244.8L105.8 268.2L135.9 261L166.1 264.7L196.2 264.6M75.8 245.8L105.8 252.5L135.9 262.1L166.1 254.8L196.2 254.4M75.8 237.2L105.8 246.2L135.9 269L166.1 266.9L196.2 267.5M75.8 260.3L105.8 250.2L135.9 266L166.1 261.8L196.2 263.2M75.8 245.6L105.8 267.3L135.9 259L166.1 265.9L196.2 260.8M75.8 234L105.8 256.6L135.9 263.4L166.1 261.4L196.2 265.2M75.8 231.6L105.8 268.9L135.9 271.3L166.1 261.4L196.2 263M75.8 239.2L105.8 260.2L135.9 261.4L166.1 269.8L196.2 265.1M75.8 241.4L105.8 268.9L135.9 271.8L166.1 261.1L196.2 246.5M75.8 239.7L105.8 262.6L135.9 256.1L166.1 257.3L196.2 272.5M75.8 238L105.8 271.8L135.9 271.6L166.1 266.1L196.2 268.2M75.8 234.4L105.8 272.9L135.9 265.3L166.1 267.6L196.2 244.1M75.8 245.6L105.8 263.3L135.9 240.6L166.1 254.9L196.2 258.5M75.8 258.2L105.8 251L135.9 275.2L166.1 261.7L196.2 262.7M75.8 242.8L105.8 257L135.9 270.4L166.1 270.1L196.2 270.9M75.8 240.8L105.8 261.5L135.9 265.6L166.1 262.8L196.2 256.9M75.8 239.3L105.8 249L135.9 261.9L166.1 254L196.2 257.6M75.8 245L105.8 283.1L135.9 278.4L166.1 260.6L196.2 274.1M75.8 236.8L105.8 268.6L135.9 269.5L166.1 272L196.2 252.6M75.8 242.1L105.8 267L135.9 261.3L166.1 269.6L196.2 258.7M75.8 258.2L105.8 259.8L135.9 269.5L166.1 263L196.2 260.5M75.8 235.4L105.8 264.5L135.9 254.3L166.1 262.8L196.2 268.8M75.8 249.3L105.8 254.2L135.9 264L166.1 262.1L196.2 256.7M75.8 255.9L105.8 271.9L135.9 261.7L166.1 259.9L196.2 274.5M75.8 232.1L105.8 263.7L135.9 267.5L166.1 265.2L196.2 251M75.8 240.7L105.8 253.8L135.9 260.9L166.1 265.9L196.2 254.4M75.8 251.2L105.8 253.1L135.9 256.2L166.1 261.7L196.2 262.7M75.8 242.4L105.8 279L135.9 262L166.1 258.3L196.2 262.8M75.8 245.2L105.8 265.6L135.9 263.4L166.1 260.9L196.2 263.4M75.8 230.3L105.8 269.3L135.9 236.4L166.1 253.6L196.2 270.2M75.8 246.8L105.8 272.1L135.9 267.8L166.1 254.7L196.2 269.6M75.8 247.4L105.8 279L135.9 263.3L166.1 239.8L196.2 262.2M75.8 258.6L105.8 265.7L135.9 255.5L166.1 262.6L196.2 272.8M75.8 250.8L105.8 263.7L135.9 265.6L166.1 262.7L196.2 267.8M75.8 243.4L105.8 249.1L135.9 257.4L166.1 262.2L196.2 268.1M75.8 238.9L105.8 261.3L135.9 262.3L166.1 260.4L196.2 262.3M75.8 240.6L105.8 257.7L135.9 252.5L166.1 253.9L196.2 252.7M75.8 239L105.8 266.4L135.9 269.4L166.1 270.8L196.2 266.3M75.8 246.4L105.8 259.3L135.9 254.1L166.1 257.8L196.2 255.4M75.8 247.9L105.8 269.2L135.9 271.6L166.1 269.2L196.2 255.8M75.8 248.1L105.8 258.7L135.9 249.4L166.1 254.2L196.2 260.7M75.8 245.5L105.8 266.2L135.9 264L166.1 256.5L196.2 253.2M75.8 248.3L105.8 264.2L135.9 266.5L166.1 263.8L196.2 258.5M75.8 259.1L105.8 274.1L135.9 266.8L166.1 255.3L196.2 266.4M75.8 243.1L105.8 266.4L135.9 241.5L166.1 261L196.2 262.6M75.8 238.5L105.8 263.8L135.9 258.8L166.1 262.6L196.2 249.7M75.8 242.5L105.8 257.4L135.9 262.6L166.1 260L196.2 269.5M75.8 242.8L105.8 259.8L135.9 252.1L166.1 268.9L196.2 262.5M75.8 237.9L105.8 256L135.9 265.3L166.1 247.8L196.2 259.4M75.8 245.3L105.8 268.6L135.9 254.5L166.1 255.8L196.2 262.9M75.8 249.2L105.8 253.5L135.9 257L166.1 271.3L196.2 258.1M75.8 240.7L105.8 256.8L135.9 273.7L166.1 262.3L196.2 266M75.8 229.7L105.8 253.1L135.9 255.3L166.1 266L196.2 262.7M75.8 242.8L105.8 268.6L135.9 262.9L166.1 261.1L196.2 277.5M75.8 245.6L105.8 258.9L135.9 256.5L166.1 262.5L196.2 252.4M75.8 241.1L105.8 258.4L135.9 260.8L166.1 250.2L196.2 264.5M75.8 229.8L105.8 261.6L135.9 279.7L166.1 266.1L196.2 256.2M75.8 246.2L105.8 263.9L135.9 261L166.1 258.7L196.2 253M75.8 247.4L105.8 249.3L135.9 252.2L166.1 266.3L196.2 270.9M75.8 241.2L105.8 265.2L135.9 266.9L166.1 257.4L196.2 275M75.8 236L105.8 262.4L135.9 269.1L166.1 257.9L196.2 265.1M75.8 254.3L105.8 268.5L135.9 262.6L166.1 263.6L196.2 262.3M75.8 240.1L105.8 268.9L135.9 249.1L166.1 262L196.2 258.7M75.8 247.3L105.8 276.7L135.9 268.7L166.1 266L196.2 274.3M75.8 233.9L105.8 266.1L135.9 259.1L166.1 270.3L196.2 247M75.8 227.1L105.8 264.3L135.9 276.5L166.1 252L196.2 269.5M75.8 254.7L105.8 258.9L135.9 254.9L166.1 261.5L196.2 260.8M75.8 245.2L105.8 257.4L135.9 266.5L166.1 259.2L196.2 262.8M75.8 243.5L105.8 273.2L135.9 254.9L166.1 263.8L196.2 265.5M75.8 241.2L105.8 274.8L135.9 264.3L166.1 266.7L196.2 255.2M75.8 231.8L105.8 262L135.9 250.9L166.1 264.9L196.2 265.5M75.8 247.5L105.8 267.4L135.9 255.5L166.1 264.8L196.2 253.3M75.8 246.1L105.8 270.4L135.9 253.4L166.1 260.3L196.2 263.1M75.8 243.7L105.8 262.1L135.9 267.5L166.1 257.7L196.2 277.9M75.8 240.7L105.8 267.8L135.9 266L166.1 255.4L196.2 250.1M75.8 242.3L105.8 268.5L135.9 263.7L166.1 267L196.2 248.2M75.8 240.5L105.8 266.7L135.9 255.2L166.1 268.2L196.2 284M75.8 230.2L105.8 276.2L135.9 269.8L166.1 270.5L196.2 257.7M75.8 258.5L105.8 275.4L135.9 269.5L166.1 258.5L196.2 262M75.8 241.2L105.8 267.8L135.9 267.9L166.1 267.2L196.2 271.3M75.8 241.3L105.8 260.6L135.9 256.1L166.1 271.2L196.2 271.1M75.8 251.6L105.8 295.6L135.9 254.8L166.1 269.4L196.2 267.4M75.8 250.2L105.8 271.7L135.9 270.8L166.1 267.2L196.2 261M75.8 235.1L105.8 260.3L135.9 258.4L166.1 265.2L196.2 256.7M75.8 241L105.8 273.4L135.9 266.9L166.1 261.8L196.2 249.2M75.8 242.1L105.8 263L135.9 264.1L166.1 264.6L196.2 265.9M75.8 242.4L105.8 259.7L135.9 261.9L166.1 259.5L196.2 261.3M75.8 240.6L105.8 264.8L135.9 268.1L166.1 253.9L196.2 257.8M75.8 243.2L105.8 266.7L135.9 253.1L166.1 270.9L196.2 268.8M75.8 244.8L105.8 275.6L135.9 258.4L166.1 265.3L196.2 253.9M75.8 237L105.8 255L135.9 277.1L166.1 249.2L196.2 269.9M75.8 255L105.8 258.8L135.9 262.8L166.1 268.3L196.2 257M75.8 247.9L105.8 265.4L135.9 262.2L166.1 259.8L196.2 261.1M75.8 234.8L105.8 262.5L135.9 262.3L166.1 267.8L196.2 256.7M75.8 249.6L105.8 272.3L135.9 259.8L166.1 264.5L196.2 250.8M75.8 241.2L105.8 263.2L135.9 258.6L166.1 257.2L196.2 269.4M75.8 237.8L105.8 265.6L135.9 261.3L166.1 262.5L196.2 269.1M75.8 246.8L105.8 270L135.9 264.3L166.1 254.1L196.2 263.7M75.8 239.6L105.8 268.4L135.9 260.5L166.1 287.2L196.2 239.1M75.8 237.8L105.8 264.9L135.9 254L166.1 261.3L196.2 281M75.8 240.5L105.8 265.8L135.9 267.6L166.1 260.3L196.2 263.3M75.8 241.5L105.8 274.7L135.9 267.3L166.1 266.6L196.2 256.6M75.8 242L105.8 277.9L135.9 261.9L166.1 265.9L196.2 255.6M75.8 240.4L105.8 259.1L135.9 261.1L166.1 263.3L196.2 258.7M75.8 239.9L105.8 275.9L135.9 264L166.1 255.6L196.2 257.6M75.8 238.9L105.8 264.9L135.9 262.9L166.1 260.4L196.2 259.7M75.8 243L105.8 266.1L135.9 258.9L166.1 262.9L196.2 256.9M75.8 244.8L105.8 276.1L135.9 264.4L166.1 263.6L196.2 273.3M75.8 229.7L105.8 269.9L135.9 273.5L166.1 267.7L196.2 268.7M75.8 243.7L105.8 253.2L135.9 266.3L166.1 260.9L196.2 257.7M75.8 244.3L105.8 259.8L135.9 260.2L166.1 252.4L196.2 259.3M75.8 243.2L105.8 267.4L135.9 258.8L166.1 250L196.2 261.5M75.8 249L105.8 277.9L135.9 255.7L166.1 258.2L196.2 240.6M75.8 242.5L105.8 266.7L135.9 272.8L166.1 259.2L196.2 272M75.8 244.3L105.8 275.9L135.9 253.3L166.1 263.9L196.2 261.3M75.8 238.4L105.8 265.9L135.9 283.4L166.1 263.8L196.2 250.9M75.8 258.8L105.8 264.7L135.9 263.5L166.1 249L196.2 273.5M75.8 243.7L105.8 270.5L135.9 268.4L166.1 261.9L196.2 267.5M75.8 243.1L105.8 260.7L135.9 282.8L166.1 252.4L196.2 260.8M75.8 253.3L105.8 259.4L135.9 258.9L166.1 261.1L196.2 254.8M75.8 250.7L105.8 274.9L135.9 263.8L166.1 268.8L196.2 245M75.8 244.4L105.8 270L135.9 264.7L166.1 252.4L196.2 270.7M75.8 235.3L105.8 260.5L135.9 264.4L166.1 269.9L196.2 271M75.8 239.1L105.8 270.4L135.9 259.6L166.1 265.3L196.2 243.2M75.8 239.5L105.8 271.3L135.9 269.5L166.1 257.8L196.2 251.9M75.8 245.8L105.8 242.2L135.9 255.5L166.1 274.1L196.2 277.9M75.8 239.8L105.8 262.9L135.9 265.9L166.1 267.4L196.2 257.1M75.8 243.8L105.8 257.8L135.9 257.2L166.1 275.3L196.2 259.7M75.8 236.1L105.8 264.5L135.9 266.1L166.1 257.9L196.2 253.5M75.8 250.1L105.8 261.1L135.9 254.9L166.1 262.1L196.2 250.4M75.8 241.6L105.8 257L135.9 274.2L166.1 253.2L196.2 254.4M75.8 256.8L105.8 259.7L135.9 254.4L166.1 261.5L196.2 275.4M75.8 245.6L105.8 265.1L135.9 259.1L166.1 256.1L196.2 271.8M75.8 240.2L105.8 265.7L135.9 262.3L166.1 257.2L196.2 265.7M75.8 245.6L105.8 278.6L135.9 270.5L166.1 261.1L196.2 270.3M75.8 241.1L105.8 261L135.9 260.7L166.1 263.3L196.2 255.3M75.8 249.4L105.8 252.5L135.9 261.2L166.1 267.7L196.2 253M75.8 239.2L105.8 271.4L135.9 265.6L166.1 267.8L196.2 259.6M75.8 239.1L105.8 267.6L135.9 271.8L166.1 284.8L196.2 254.1M75.8 251L105.8 262.3L135.9 264.2L166.1 269.4L196.2 283M75.8 246.3L105.8 254.6L135.9 281.4L166.1 263.9L196.2 269.8M75.8 237.9L105.8 267.6L135.9 263.1L166.1 257.8L196.2 272.3M75.8 248.9L105.8 269L135.9 255.4L166.1 267.8L196.2 268.8M75.8 241.5L105.8 269L135.9 271.4L166.1 269.4L196.2 261.9M75.8 233.6L105.8 270.3L135.9 257L166.1 258.3L196.2 262.5M75.8 239.1L105.8 266.3L135.9 260L166.1 257.5L196.2 268.2M75.8 257.4L105.8 272.8L135.9 268.1L166.1 262.5L196.2 248.8M75.8 243.6L105.8 265.8L135.9 262.9L166.1 261.2L196.2 256.2M75.8 246.7L105.8 270.7L135.9 269L166.1 248.3L196.2 261.7M75.8 237.5L105.8 255.4L135.9 254.9L166.1 256.7L196.2 272.9M75.8 252.2L105.8 271.2L135.9 271.4L166.1 253.3L196.2 260.8M75.8 234.1L105.8 262.9L135.9 250.7L166.1 269.9L196.2 273.9M75.8 234.3L105.8 267.2L135.9 256L166.1 267.8L196.2 265.1M75.8 232.6L105.8 272.6L135.9 270.7L166.1 260.5L196.2 263.3M75.8 248L105.8 264.9L135.9 262.3L166.1 269.4L196.2 261.2M75.8 252.7L105.8 248.3L135.9 254.7L166.1 275.2L196.2 258M75.8 241.3L105.8 273L135.9 255.2L166.1 260.9L196.2 266.7M75.8 249.1L105.8 277.2L135.9 273.1L166.1 257.9L196.2 262.1M75.8 242.2L105.8 270.6L135.9 250.6L166.1 264.4L196.2 251.1M75.8 236.8L105.8 265.2L135.9 270.1L166.1 262.5L196.2 277.7M75.8 241.3L105.8 266.2L135.9 259L166.1 268.7L196.2 257.5M75.8 225.2L105.8 266.4L135.9 268.8L166.1 256.5L196.2 235.3M75.8 249.1L105.8 281L135.9 253.2L166.1 264.9L196.2 260.7M75.8 249.7L105.8 266.4L135.9 269.3L166.1 280.4L196.2 257.8M75.8 241.9L105.8 267.7L135.9 264.2L166.1 272.2L196.2 273.6M75.8 243.6L105.8 252.8L135.9 256.6L166.1 272.7L196.2 255.7M75.8 247.8L105.8 257.9L135.9 277.4L166.1 272.2L196.2 256.7M75.8 234.3L105.8 269.5L135.9 266.3L166.1 257.8L196.2 251.4M75.8 241.9L105.8 254.8L135.9 247.3L166.1 258.5L196.2 260.7M75.8 244.8L105.8 271.7L135.9 261.7L166.1 260.5L196.2 277M75.8 222.6L105.8 263.2L135.9 258L166.1 261.2L196.2 250.6M75.8 244.2L105.8 265.1L135.9 268.4L166.1 263.7L196.2 255.1M75.8 242L105.8 260.3L135.9 269.8L166.1 255.2L196.2 263.9M75.8 254.9L105.8 261.9L135.9 263L166.1 272.1L196.2 265.2M75.8 236.5L105.8 266L135.9 266.5L166.1 250.1L196.2 265.7M75.8 243.6L105.8 266.4L135.9 262.2L166.1 261.6L196.2 268.2M75.8 251.3L105.8 262.8L135.9 261.4L166.1 262.5L196.2 269.5M75.8 244.6L105.8 261.6L135.9 263.9L166.1 263.8L196.2 263.7M75.8 260L105.8 244L135.9 269.9L166.1 258.3L196.2 262.8M75.8 245.9L105.8 257.3L135.9 273.1L166.1 252.4L196.2 260.5M75.8 239.4L105.8 270.8L135.9 275.5L166.1 262.1L196.2 274.2M75.8 231.9L105.8 292L135.9 250.3L166.1 260.5L196.2 271.6M75.8 254.5L105.8 269.9L135.9 260.2L166.1 277.2L196.2 262.5M75.8 234L105.8 288.4L135.9 259.1L166.1 263.9L196.2 257M75.8 230.5L105.8 268L135.9 272.7L166.1 274L196.2 263.3M75.8 243.5L105.8 269.6L135.9 265L166.1 260.3L196.2 273.7M75.8 240.6L105.8 265.9L135.9 281.4L166.1 263.2L196.2 260M75.8 244.3L105.8 263.5L135.9 266.5L166.1 257.1L196.2 270.4M75.8 240.6L105.8 265L135.9 259.7L166.1 258.3L196.2 256.5M75.8 245.2L105.8 256.9L135.9 245.2L166.1 261.7L196.2 261.2M75.8 231.6L105.8 257.7L135.9 265.7L166.1 273.8L196.2 270.9M75.8 243.7L105.8 269.1L135.9 275.7L166.1 253.6L196.2 269.1M75.8 247.4L105.8 262.5L135.9 273.6L166.1 260.4L196.2 274.7M75.8 246.6L105.8 271.8L135.9 257.4L166.1 257.8L196.2 264.4M75.8 239.4L105.8 276.5L135.9 259.5L166.1 261.7L196.2 265.9M75.8 230.1L105.8 272.1L135.9 260.5L166.1 255.6L196.2 265.3M75.8 251.8L105.8 276.1L135.9 270.7L166.1 262.6L196.2 270.5M75.8 241.1L105.8 255.5L135.9 269.3L166.1 260.4L196.2 269.3M75.8 244.1L105.8 271.4L135.9 266.5L166.1 258.5L196.2 260.2M75.8 245.3L105.8 261.7L135.9 261.9L166.1 251.8L196.2 261.1M75.8 224.9L105.8 261.8L135.9 253.7L166.1 251L196.2 264.2M75.8 240L105.8 273.3L135.9 258.4L166.1 272.4L196.2 266.8M75.8 239.5L105.8 264.1L135.9 264.4L166.1 262.6L196.2 265.5M75.8 241.8L105.8 262.9L135.9 270.9L166.1 264.4L196.2 260.4M75.8 231.4L105.8 259.7L135.9 262.4L166.1 252.5L196.2 253.6M75.8 248.9L105.8 261.6L135.9 274.5L166.1 260L196.2 283.4M75.8 237.3L105.8 277.5L135.9 264.7L166.1 266.8L196.2 273.6M75.8 237.5L105.8 250.6L135.9 264.9L166.1 266L196.2 258.9M75.8 241.1L105.8 268.1L135.9 253.4L166.1 255.5L196.2 271.1M75.8 236.1L105.8 274.4L135.9 256.9L166.1 256.3L196.2 263.2M75.8 242.9L105.8 271.3L135.9 281.9L166.1 250.3L196.2 269.7M75.8 245.6L105.8 257.9L135.9 263.8L166.1 272.6L196.2 254.5M75.8 247.5L105.8 276.5L135.9 256.8L166.1 246.7L196.2 246.5M75.8 237.1L105.8 264.9L135.9 264.6L166.1 271.1L196.2 266.8M75.8 247.5L105.8 268.4L135.9 263.4L166.1 259.8L196.2 253.9M75.8 231.7L105.8 273.8L135.9 261.4L166.1 259.1L196.2 271.9M75.8 248.9L105.8 251.2L135.9 276.5L166.1 264.1L196.2 261.9M75.8 235.1L105.8 264.9L135.9 269.7L166.1 256.7L196.2 265.4M75.8 244L105.8 266.3L135.9 262.4L166.1 262.2L196.2 277.1M75.8 250L105.8 261.2L135.9 266.8L166.1 265.3L196.2 229.9M75.8 240.7L105.8 277.7L135.9 262.5L166.1 261.2L196.2 264.9M75.8 235.4L105.8 272.7L135.9 268.3L166.1 260.3L196.2 258.3M75.8 245.1L105.8 267.8L135.9 270.9L166.1 244.3L196.2 259.3M75.8 228.9L105.8 261.7L135.9 252.6L166.1 252.8L196.2 281.2M75.8 249.4L105.8 274L135.9 257.6L166.1 259.1L196.2 260.9M75.8 244.3L105.8 262.8L135.9 266.4L166.1 250.2L196.2 263.6M75.8 249L105.8 260.7L135.9 275.6L166.1 270.5L196.2 273.9M75.8 237.8L105.8 247.3L135.9 270.9L166.1 260.7L196.2 250.1M75.8 227.1L105.8 264.4L135.9 249.8L166.1 261.6L196.2 268.9M75.8 244L105.8 263.7L135.9 254.6L166.1 240.9L196.2 267.3M75.8 242.3L105.8 262.2L135.9 259.9L166.1 264.3L196.2 284.5M75.8 242.9L105.8 269.3L135.9 267.2L166.1 266.6L196.2 285.4M75.8 237.5L105.8 264.9L135.9 261.6L166.1 263.6L196.2 257.8M75.8 241.3L105.8 267.4L135.9 272.6L166.1 255.5L196.2 253M75.8 244.8L105.8 268L135.9 258.6L166.1 269.1L196.2 251.2M75.8 234L105.8 267.1L135.9 263.9L166.1 265.2L196.2 271M75.8 239.3L105.8 263.4L135.9 269.8L166.1 237.5L196.2 281M75.8 230.5L105.8 267L135.9 267.8L166.1 267.5L196.2 250.4M75.8 241.3L105.8 259.4L135.9 257.7L166.1 255.4L196.2 251.6M75.8 242.6L105.8 281.3L135.9 267L166.1 276.8L196.2 276.6M75.8 240.7L105.8 275.6L135.9 267.6L166.1 244.2L196.2 253.9M75.8 242.6L105.8 270.5L135.9 256.1L166.1 259.2L196.2 248.3M75.8 241.8L105.8 256.6L135.9 264.3L166.1 261.2L196.2 268M75.8 242.7L105.8 267.8L135.9 258.1L166.1 255.4L196.2 263.8M75.8 252.9L105.8 280.1L135.9 259.2L166.1 254.6L196.2 250.2M75.8 238.5L105.8 274.4L135.9 258L166.1 263.1L196.2 269.2M75.8 254L105.8 277.5L135.9 263.6L166.1 259.8L196.2 284.6M75.8 244.7L105.8 248.5L135.9 258.8L166.1 259.3L196.2 263.9M75.8 243.2L105.8 270.3L135.9 278.2L166.1 261.9L196.2 257.9M75.8 245.8L105.8 270.4L135.9 268.2L166.1 254.8L196.2 254.9M75.8 241.6L105.8 247.6L135.9 268.4L166.1 253.8L196.2 265.7M75.8 247.4L105.8 267.3L135.9 256.2L166.1 268.4L196.2 272.4M75.8 245.5L105.8 263.1L135.9 269.9L166.1 255.9L196.2 268.6M75.8 243.1L105.8 257.1L135.9 259L166.1 259.5L196.2 265.8M75.8 234.7L105.8 279.2L135.9 264.5L166.1 268L196.2 274.8M75.8 239.7L105.8 262.3L135.9 264.8L166.1 265.1L196.2 267.9M75.8 243.2L105.8 263.5L135.9 268.4L166.1 254.7L196.2 269.8M75.8 248L105.8 260L135.9 282.8L166.1 260.5L196.2 245.1M75.8 237.3L105.8 252.8L135.9 268.2L166.1 255.2L196.2 261.8M75.8 253.2L105.8 293.2L135.9 265.9L166.1 269.3L196.2 273.7M75.8 246.7L105.8 266.5L135.9 264.9L166.1 259.3L196.2 255.8M75.8 238.3L105.8 261.3L135.9 262.2L166.1 257.3L196.2 254.4M75.8 236.7L105.8 259.1L135.9 266.4L166.1 265.8L196.2 271.2M75.8 235.4L105.8 270.2L135.9 265.6L166.1 255.3L196.2 271.7M75.8 223.5L105.8 258.3L135.9 257.5L166.1 256.3L196.2 260.6M75.8 244.4L105.8 256.8L135.9 261.9L166.1 264.1L196.2 233.5M75.8 246.1L105.8 259.5L135.9 278.7L166.1 262.1L196.2 258.4M75.8 234.8L105.8 256L135.9 262.1L166.1 255.5L196.2 256.6M75.8 248L105.8 258.2L135.9 261.3L166.1 254.3L196.2 267.2M75.8 242.8L105.8 287.3L135.9 235.3L166.1 258.8L196.2 268M75.8 233.7L105.8 268.3L135.9 256.5L166.1 258L196.2 275.4M75.8 239.9L105.8 259.6L135.9 259.2L166.1 257.8L196.2 261.9M75.8 257.5L105.8 271.6L135.9 269.3L166.1 267.3L196.2 259.8M75.8 246.5L105.8 259.9L135.9 259.9L166.1 245.8L196.2 254.4M75.8 242.4L105.8 260.2L135.9 262L166.1 272.3L196.2 273.3M75.8 241.9L105.8 284.8L135.9 258.2L166.1 265.9L196.2 264.2M75.8 248.5L105.8 274.1L135.9 252.9L166.1 263.7L196.2 269.8M75.8 252.2L105.8 264.7L135.9 266.1L166.1 263.8L196.2 271.5M75.8 247.4L105.8 262.9L135.9 260L166.1 265.5L196.2 258.9M75.8 238.1L105.8 264.4L135.9 265.2L166.1 257.2L196.2 260.9M75.8 241.3L105.8 278.9L135.9 238.5L166.1 254.4L196.2 261.3M75.8 249.3L105.8 261.9L135.9 268.9L166.1 251.5L196.2 250.9M75.8 256.2L105.8 275.2L135.9 268.4L166.1 266.1L196.2 263.2M75.8 237.1L105.8 274.1L135.9 247.7L166.1 282.4L196.2 264.9M75.8 242L105.8 263.3L135.9 242.8L166.1 255.6L196.2 274.1M75.8 236L105.8 257.5L135.9 254.6L166.1 251.1L196.2 262M75.8 240.7L105.8 257.5L135.9 247.8L166.1 255.9L196.2 254.3M75.8 253.3L105.8 272.7L135.9 257.2L166.1 235.2L196.2 265.2M75.8 240.2L105.8 270.7L135.9 258.8L166.1 253.7L196.2 239.1M75.8 238L105.8 255.4L135.9 266.8L166.1 257.2L196.2 273M75.8 237.8L105.8 262.7L135.9 264.4L166.1 266.7L196.2 263.2M75.8 234.6L105.8 251.5L135.9 268.3L166.1 261.4L196.2 260.3M75.8 239.6L105.8 267.6L135.9 264.4L166.1 257.8L196.2 285.6M75.8 245.3L105.8 265.5L135.9 264.3L166.1 232.9L196.2 283.9M75.8 250.2L105.8 268.4L135.9 262.3L166.1 261.1L196.2 267.1M75.8 244.6L105.8 261.2L135.9 268.9L166.1 266.2L196.2 272.1M75.8 244.9L105.8 244.6L135.9 246.9L166.1 261L196.2 263.1M75.8 241.5L105.8 255.3L135.9 265.1L166.1 259.4L196.2 226.2M75.8 242.7L105.8 274.8L135.9 252.2L166.1 258.7L196.2 253.6M75.8 243L105.8 261.9L135.9 260.6L166.1 256.1L196.2 253.5M75.8 244.2L105.8 240.6L135.9 259.2L166.1 261.2L196.2 267.6M75.8 248.2L105.8 263.6L135.9 250.9L166.1 267.4L196.2 275.8M75.8 229.3L105.8 273.6L135.9 257.2L166.1 257.4L196.2 245.6M75.8 217.2L105.8 269.6L135.9 253.3L166.1 255.7L196.2 265M75.8 240.8L105.8 261.1L135.9 278.9L166.1 258.5L196.2 273.3M75.8 249.6L105.8 265.8L135.9 264.8L166.1 258.8L196.2 269.8M75.8 243.8L105.8 250.6L135.9 261.5L166.1 255.5L196.2 267.4M75.8 243.6L105.8 268.3L135.9 266.7L166.1 269.2L196.2 269.5M75.8 238L105.8 275.3L135.9 251.8L166.1 263.8L196.2 263.4M75.8 235.5L105.8 249.8L135.9 257L166.1 255.3L196.2 272.2M75.8 241.8L105.8 252.4L135.9 256.7L166.1 276L196.2 265.1M75.8 236L105.8 256.4L135.9 270.8L166.1 264.9L196.2 284.3M75.8 230.6L105.8 255.3L135.9 274.3L166.1 246.5L196.2 251.8M75.8 243.5L105.8 264.3L135.9 260.4L166.1 262.1L196.2 273.7M75.8 245.2L105.8 281.6L135.9 252.1L166.1 270.8L196.2 278.3M75.8 246.9L105.8 269.9L135.9 255.2L166.1 262.5L196.2 277M75.8 238L105.8 254.7L135.9 269.7L166.1 263.8L196.2 262.1M75.8 243.7L105.8 269L135.9 266.1L166.1 270.3L196.2 254.7M75.8 226.4L105.8 271.8L135.9 265.8L166.1 258.7L196.2 272.1M75.8 245.5L105.8 269.8L135.9 266.8L166.1 264L196.2 261.5M75.8 246.3L105.8 258.3L135.9 265.6L166.1 250.5L196.2 267.8M75.8 242.1L105.8 244.6L135.9 251.5L166.1 241.4L196.2 247.5M75.8 254.5L105.8 277.5L135.9 271.6L166.1 267.8L196.2 273.5M75.8 234.7L105.8 269.4L135.9 263.1L166.1 253.8L196.2 270.2M75.8 244.8L105.8 269.9L135.9 270.2L166.1 260.3L196.2 260.8M75.8 241.2L105.8 270L135.9 258.2L166.1 288.4L196.2 266.5M75.8 246L105.8 274.7L135.9 269.7L166.1 257.8L196.2 263.4M75.8 250.4L105.8 275.8L135.9 268.9L166.1 252.1L196.2 253.4M75.8 236.7L105.8 271.6L135.9 255.3L166.1 260.1L196.2 283.8M75.8 218.1L105.8 272.5L135.9 256.2L166.1 269.1L196.2 254.6M75.8 239.2L105.8 280.6L135.9 253L166.1 258.1L196.2 265.3M75.8 244.7L105.8 257.1L135.9 258L166.1 260.1L196.2 264.4M75.8 245.7L105.8 265.2L135.9 267.5L166.1 253.8L196.2 254.6" stroke="#cfcfcf" stroke-width="0.5" fill="none" stroke-linejoin="round"/>
<path d="M240.4 260.9L242.5 261.7L244.5 262.4L246.5 262.9L248.5 263.3L250.5 263.6L252.5 263.7L254.5 263.7L256.5 263.6L258.5 263.4L260.5 263L262.5 262.5L264.5 261.9L266.5 261.2L268.5 260.4L270.6 259.4L272.6 259.4L274.6 259.3L276.6 259.1L278.6 258.8L280.6 258.5L282.6 258L284.6 257.3L286.6 256.5L288.6 255.6L290.6 254.5L292.6 253.2L294.6 251.7L296.6 250L298.6 248L300.6 245.9L302.7 245.6L304.7 245.2L306.7 244.7L308.7 243.9L310.7 242.9L312.7 241.8L314.7 240.5L316.7 239L318.7 237.3L320.7 235.4L322.7 233.3L324.7 231.1L326.7 228.7L328.7 226L330.8 223.2L332.8 223.9L334.8 224.5L336.8 224.9L338.8 225.2L340.8 225.2L342.8 225.1L344.8 224.8L346.8 224.3L348.8 223.6L350.8 222.6L352.8 221.4L354.8 220L356.8 218.3L358.8 216.4L360.9 214.2L360.9 257.9L358.8 256.3L356.8 255L354.8 253.9L352.8 253.1L350.8 252.5L348.8 252.1L346.8 252L344.8 252.1L342.8 252.4L340.8 252.9L338.8 253.6L336.8 254.4L334.8 255.4L332.8 256.6L330.8 257.9L328.7 258.1L326.7 258.5L324.7 259.1L322.7 259.9L320.7 260.8L318.7 262L316.7 263.1L314.7 264.8L312.7 266.5L310.7 268.4L308.7 270.4L306.7 272.7L304.7 275.1L302.7 277.7L300.6 280.5L298.6 279.4L296.6 278.5L294.6 277.7L292.6 277.3L290.6 277L288.6 276.8L286.6 276.9L284.6 277.1L282.6 277.5L280.6 278L278.6 278.6L276.6 279.3L274.6 280.2L272.6 281.1L270.6 282.1L268.5 281.4L266.5 280.9L264.5 280.5L262.5 280.2L260.5 280L258.5 279.9L256.5 280L254.5 280.2L252.5 280.5L250.5 280.9L248.5 281.5L246.5 282.2L244.5 283L242.5 284L240.4 285.1 Z" fill="#cfcfcf"/>
<path d="M240.4 268.4L270.6 261.5L300.6 258.8L330.8 238.3L360.9 225.1M240.4 274.3L270.6 277.2L300.6 268.9L330.8 251.8L360.9 240.4M240.4 278.6L270.6 274.1L300.6 264.8L330.8 248.2L360.9 265.7M240.4 280.4L270.6 274.6L300.6 265.8L330.8 237.8L360.9 238.2M240.4 277.6L270.6 268L300.6 251.5L330.8 233.1L360.9 246.3M240.4 271.9L270.6 271.9L300.6 259.1L330.8 254.4L360.9 221.7M240.4 276.8L270.6 260.3L300.6 254.9L330.8 227.2L360.9 238.2M240.4 271L270.6 269.6L300.6 259.4L330.8 229L360.9 231.6M240.4 275.8L270.6 274.2L300.6 264L330.8 242.3L360.9 241.4M240.4 267.8L270.6 271.3L300.6 264.8L330.8 231.1L360.9 238.4M240.4 268.2L270.6 271.1L300.6 274.2L330.8 238L360.9 236M240.4 275.5L270.6 268.5L300.6 272.1L330.8 235.5L360.9 244.6M240.4 276.8L270.6 272.2L300.6 266.9L330.8 250.7L360.9 236.1M240.4 258L270.6 267.6L300.6 260.5L330.8 228.6L360.9 233.6M240.4 271.6L270.6 268.9L300.6 268.1L330.8 248L360.9 239.8M240.4 272.4L270.6 269.1L300.6 276L330.8 237.5L360.9 243.8M240.4 275.6L270.6 272.5L300.6 263L330.8 238.4L360.9 236.8M240.4 282.1L270.6 267.9L300.6 236.8L330.8 237.8L360.9 234.7M240.4 268.5L270.6 270.5L300.6 261.7L330.8 236.4L360.9 251.4M240.4 275.8L270.6 262.9L300.6 249L330.8 235.7L360.9 230.1M240.4 268.7L270.6 268.4L300.6 256.7L330.8 225.3L360.9 218.9M240.4 283.8L270.6 268.3L300.6 257L330.8 234L360.9 234.9M240.4 278.7L270.6 272.9L300.6 267.5L330.8 242.2L360.9 224.4M240.4 263.4L270.6 266.4L300.6 260.9L330.8 237.5L360.9 232.5M240.4 274.4L270.6 270.1L300.6 252.5L330.8 233.6L360.9 233.3M240.4 280.1L270.6 264.7L300.6 252.9L330.8 232.1L360.9 242.5M240.4 272.9L270.6 272.2L300.6 266.9L330.8 224.5L360.9 223.3M240.4 261.7L270.6 266.7L300.6 266.6L330.8 227.5L360.9 219M240.4 271.2L270.6 271.8L300.6 264.7L330.8 242.8L360.9 240.9M240.4 274.9L270.6 271.7L300.6 253.6L330.8 248.3L360.9 233.9M240.4 265.9L270.6 280.2L300.6 258.9L330.8 242.6L360.9 238.1M240.4 268L270.6 276L300.6 265.6L330.8 242.9L360.9 209.7M240.4 277.2L270.6 253.4L300.6 262.5L330.8 242.5L360.9 234.3M240.4 274.1L270.6 275.6L300.6 264.3L330.8 243.3L360.9 246.2M240.4 268.5L270.6 259.7L300.6 261.3L330.8 243.5L360.9 236.3M240.4 272.6L270.6 272.1L300.6 259.3L330.8 239L360.9 241.7M240.4 268.8L270.6 265.9L300.6 250.5L330.8 253.7L360.9 241.8M240.4 276.8L270.6 270.1L300.6 267.1L330.8 244L360.9 238.5M240.4 283.9L270.6 275.4L300.6 266L330.8 238.7L360.9 251.9M240.4 277.7L270.6 276.1L300.6 276.6L330.8 241.5L360.9 241.9M240.4 289L270.6 275.1L300.6 272.1L330.8 236L360.9 245.8M240.4 271.1L270.6 270.9L300.6 251.2L330.8 249.6L360.9 237.2M240.4 265.9L270.6 263.7L300.6 263.9L330.8 248.5L360.9 238.1M240.4 279.6L270.6 271.7L300.6 266.5L330.8 240L360.9 240.7M240.4 270.6L270.6 258.1L300.6 259.2L330.8 240.5L360.9 243.4M240.4 270.8L270.6 273.4L300.6 263.5L330.8 230.9L360.9 244.9M240.4 270.9L270.6 266.4L300.6 269.7L330.8 237.9L360.9 241.4M240.4 273.3L270.6 267.9L300.6 266.8L330.8 233.6L360.9 236M240.4 269.4L270.6 273.3L300.6 247.8L330.8 223.7L360.9 232.9M240.4 272.5L270.6 264.7L300.6 265.7L330.8 239.4L360.9 236.9M240.4 278L270.6 281.1L300.6 285.6L330.8 251.5L360.9 243.7M240.4 268.7L270.6 273.2L300.6 254.8L330.8 245.2L360.9 250.3M240.4 278.8L270.6 274.4L300.6 261.5L330.8 235.3L360.9 226.4M240.4 269.4L270.6 272.5L300.6 271.2L330.8 245.4L360.9 218.6M240.4 277.2L270.6 272.7L300.6 266.2L330.8 235.7L360.9 250.6M240.4 266.6L270.6 281L300.6 267.7L330.8 232.2L360.9 243.8M240.4 289.1L270.6 270.7L300.6 271L330.8 248.7L360.9 240.9M240.4 276.6L270.6 270.4L300.6 262.7L330.8 232.6L360.9 234.8M240.4 265L270.6 269.9L300.6 253.2L330.8 236.8L360.9 239M240.4 269.8L270.6 271.3L300.6 266.3L330.8 234.3L360.9 238.7M240.4 281.4L270.6 274.9L300.6 269.1L330.8 238L360.9 231M240.4 260.5L270.6 275.2L300.6 238.7L330.8 229.4L360.9 233.9M240.4 267.6L270.6 273.4L300.6 265.4L330.8 232.7L360.9 238.5M240.4 266.1L270.6 266L300.6 271.9L330.8 243.1L360.9 231.1M240.4 277.9L270.6 257.4L300.6 271.5L330.8 243.9L360.9 231.7M240.4 269.1L270.6 267.1L300.6 251.2L330.8 248.9L360.9 255.2M240.4 276.8L270.6 268.9L300.6 288.1L330.8 240.9L360.9 229.3M240.4 275.2L270.6 264.1L300.6 261.9L330.8 234L360.9 226.2M240.4 276.4L270.6 266.1L300.6 257.2L330.8 217.7L360.9 233.1M240.4 259.8L270.6 281L300.6 274.1L330.8 217.2L360.9 223M240.4 267.8L270.6 268.4L300.6 254.5L330.8 237.4L360.9 248.3M240.4 280L270.6 263.2L300.6 263.6L330.8 260.9L360.9 248M240.4 285.2L270.6 274.6L300.6 271.3L330.8 214.2L360.9 239.1M240.4 274.4L270.6 275.5L300.6 260.9L330.8 247.3L360.9 236.1M240.4 271.7L270.6 263.9L300.6 259.9L330.8 239.6L360.9 233.4M240.4 266.5L270.6 268.5L300.6 261.7L330.8 232.6L360.9 233.1M240.4 268.3L270.6 265.8L300.6 253.7L330.8 226.7L360.9 233.8M240.4 269.5L270.6 283.6L300.6 274.3L330.8 238L360.9 222M240.4 274.7L270.6 270.2L300.6 267.7L330.8 232.6L360.9 240.3M240.4 261.2L270.6 268.6L300.6 263.1L330.8 246.5L360.9 242.6M240.4 272.4L270.6 268.9L300.6 266.4L330.8 233L360.9 243.3M240.4 281.6L270.6 286.6L300.6 261.6L330.8 239.1L360.9 230.6M240.4 259L270.6 272.8L300.6 266.1L330.8 246.7L360.9 225.1M240.4 272.9L270.6 268L300.6 269L330.8 246.5L360.9 233.5M240.4 275.5L270.6 269.3L300.6 256.1L330.8 240.6L360.9 236.3M240.4 264.4L270.6 265.4L300.6 277.4L330.8 234L360.9 219.8M240.4 279.3L270.6 268L300.6 260.1L330.8 227.8L360.9 244.1M240.4 280.7L270.6 268.5L300.6 255.7L330.8 242.9L360.9 221M240.4 270.7L270.6 269.6L300.6 263.9L330.8 244.4L360.9 240.1M240.4 273.8L270.6 273.2L300.6 263.5L330.8 237.9L360.9 229.6M240.4 273.3L270.6 270.4L300.6 266.7L330.8 226.9L360.9 227.6M240.4 271.2L270.6 271.2L300.6 255.7L330.8 231.7L360.9 235.8M240.4 279.6L270.6 268.8L300.6 261.1L330.8 246.8L360.9 225.3M240.4 258.9L270.6 267.2L300.6 258L330.8 235.6L360.9 239.9M240.4 273.7L270.6 261.8L300.6 259.9L330.8 242.7L360.9 243.1M240.4 278.3L270.6 266.1L300.6 260.9L330.8 227.2L360.9 227.4M240.4 284.2L270.6 262.6L300.6 263.4L330.8 246.5L360.9 226.1M240.4 275.8L270.6 273.1L300.6 261.1L330.8 252.6L360.9 232.3M240.4 273.3L270.6 262.3L300.6 254.1L330.8 239.8L360.9 226.2M240.4 275L270.6 272.2L300.6 266.1L330.8 248.4L360.9 240.4M240.4 270.7L270.6 268.6L300.6 257L330.8 238.5L360.9 213.2M240.4 276.2L270.6 285.1L300.6 274.1L330.8 244.9L360.9 239.4M240.4 261.2L270.6 265.8L300.6 263.5L330.8 236.4L360.9 243.9M240.4 277.1L270.6 267.3L300.6 249.3L330.8 231.5L360.9 227.5M240.4 276.5L270.6 273.6L300.6 255.2L330.8 245.4L360.9 235.7M240.4 270.6L270.6 265.8L300.6 258.2L330.8 230.8L360.9 235.3M240.4 277.9L270.6 273.5L300.6 269.4L330.8 232.5L360.9 245.3M240.4 262.2L270.6 269.5L300.6 265.9L330.8 240.4L360.9 227.4M240.4 272.1L270.6 270.7L300.6 254.7L330.8 236.3L360.9 237.9M240.4 275.1L270.6 266L300.6 257.8L330.8 238.9L360.9 241M240.4 273L270.6 271.1L300.6 263.3L330.8 244.7L360.9 237.1M240.4 263.1L270.6 281.7L300.6 257.9L330.8 232.9L360.9 242M240.4 270.8L270.6 278.2L300.6 264.4L330.8 236.6L360.9 222.7M240.4 265.8L270.6 264.8L300.6 262.4L330.8 236.2L360.9 235.2M240.4 278.8L270.6 269.6L300.6 259.7L330.8 237.1L360.9 234.6M240.4 278.9L270.6 275.3L300.6 262.5L330.8 240.7L360.9 227.7M240.4 275.2L270.6 274.7L300.6 263.2L330.8 246.1L360.9 237.9M240.4 281.4L270.6 271.5L300.6 260.7L330.8 243.4L360.9 249.4M240.4 272.5L270.6 266.8L300.6 264.5L330.8 251.6L360.9 238.1M240.4 273L270.6 263.2L300.6 259.9L330.8 259.9L360.9 249.4M240.4 272.8L270.6 264.4L300.6 265.1L330.8 247.5L360.9 217.6M240.4 269.9L270.6 274.2L300.6 261.8L330.8 239.3L360.9 242.5M240.4 273.6L270.6 275.5L300.6 263.4L330.8 239.2L360.9 260.8M240.4 273.6L270.6 269.1L300.6 255.8L330.8 235.9L360.9 235.9M240.4 268.3L270.6 270.3L300.6 261.6L330.8 243L360.9 235M240.4 274.8L270.6 277.9L300.6 265.4L330.8 245.8L360.9 240.2M240.4 270.6L270.6 264.9L300.6 239.8L330.8 233.7L360.9 237.4M240.4 269.8L270.6 273.2L300.6 265.4L330.8 228.6L360.9 243.5M240.4 260.9L270.6 276.5L300.6 271.8L330.8 236.6L360.9 248.7M240.4 268.2L270.6 266.6L300.6 253.1L330.8 246.7L360.9 236.5M240.4 278.4L270.6 267.5L300.6 263.6L330.8 226.2L360.9 240.1M240.4 268.3L270.6 269.3L300.6 260.5L330.8 229.6L360.9 211.2M240.4 272.4L270.6 270.9L300.6 259.3L330.8 243.1L360.9 227.1M240.4 271.1L270.6 274.4L300.6 262.9L330.8 252.1L360.9 246.8M240.4 276.8L270.6 269.5L300.6 257.6L330.8 243.3L360.9 227.6M240.4 269.4L270.6 273.2L300.6 265.6L330.8 236.1L360.9 231.9M240.4 277.9L270.6 272.5L300.6 269.9L330.8 245.1L360.9 244.7M240.4 275.2L270.6 271.7L300.6 256.6L330.8 241L360.9 239.9M240.4 263L270.6 272.6L300.6 264.8L330.8 252L360.9 233.5M240.4 279.9L270.6 276.8L300.6 258.2L330.8 238.4L360.9 235.4M240.4 277.5L270.6 270.2L300.6 252.6L330.8 235.4L360.9 240.1M240.4 279.6L270.6 268.3L300.6 263.7L330.8 244.7L360.9 229.6M240.4 263.7L270.6 267.5L300.6 256.9L330.8 236.3L360.9 230.4M240.4 279.7L270.6 275.8L300.6 256.6L330.8 242.3L360.9 219.6M240.4 266.6L270.6 278L300.6 263.2L330.8 250.5L360.9 239.5M240.4 272.7L270.6 269.9L300.6 255.1L330.8 249.6L360.9 245.2M240.4 275.2L270.6 273.8L300.6 271.2L330.8 242.8L360.9 229.6M240.4 271L270.6 270.9L300.6 266.1L330.8 237.1L360.9 237.4M240.4 278.6L270.6 278.3L300.6 259.9L330.8 249.8L360.9 219.7M240.4 274.5L270.6 270.7L300.6 266.7L330.8 242.7L360.9 221.2M240.4 268.8L270.6 270.9L300.6 255.4L330.8 232.7L360.9 234.4M240.4 269.2L270.6 266.4L300.6 263.3L330.8 233.7L360.9 232.4M240.4 277.7L270.6 269.7L300.6 265L330.8 236.4L360.9 240.9M240.4 271.9L270.6 275L300.6 269L330.8 236.9L360.9 221.9M240.4 266.3L270.6 265.6L300.6 265.5L330.8 243.8L360.9 237.6M240.4 264.9L270.6 270.8L300.6 249.1L330.8 253.5L360.9 233.4M240.4 267.3L270.6 263.2L300.6 250.7L330.8 241.3L360.9 222M240.4 266.4L270.6 273L300.6 269.2L330.8 235.6L360.9 238M240.4 268.9L270.6 261.6L300.6 267.5L330.8 239.4L360.9 234.5M240.4 278.9L270.6 263.9L300.6 281.5L330.8 247L360.9 242.1M240.4 270.9L270.6 267.9L300.6 264L330.8 257.2L360.9 246.9M240.4 274.3L270.6 273.8L300.6 254.6L330.8 243.1L360.9 252.6M240.4 271L270.6 276.5L300.6 253.2L330.8 238L360.9 225.6M240.4 272.4L270.6 261.8L300.6 264.6L330.8 247.4L360.9 235.2M240.4 279.3L270.6 273.5L300.6 270.3L330.8 238.7L360.9 229.5M240.4 268.1L270.6 268.7L300.6 259.8L330.8 244.2L360.9 235.9M240.4 276L270.6 271.6L300.6 276.5L330.8 243.6L360.9 237.3M240.4 269.7L270.6 280L300.6 254.4L330.8 244.9L360.9 237.7M240.4 270.1L270.6 272.8L300.6 262.1L330.8 243.1L360.9 241.2M240.4 275.6L270.6 257.4L300.6 262L330.8 237.9L360.9 237.7M240.4 280.1L270.6 268.8L300.6 273.7L330.8 238.2L360.9 249.4M240.4 274.5L270.6 272.3L300.6 261.6L330.8 251.6L360.9 230.5M240.4 287.1L270.6 272L300.6 250.6L330.8 248.8L360.9 237.2M240.4 270.7L270.6 262.6L300.6 276.5L330.8 237.8L360.9 229.7M240.4 275.3L270.6 270L300.6 249.2L330.8 255L360.9 231.5M240.4 271.7L270.6 273.6L300.6 266.7L330.8 239.7L360.9 246.1M240.4 284.9L270.6 283.6L300.6 276.5L330.8 237.6L360.9 250.2M240.4 272.4L270.6 269.9L300.6 251.3L330.8 240.7L360.9 267M240.4 267.4L270.6 269.6L300.6 253.3L330.8 250.6L360.9 220.5M240.4 272.5L270.6 272.3L300.6 271.8L330.8 232.5L360.9 240.1M240.4 276.4L270.6 271.1L300.6 255.2L330.8 233.5L360.9 228.8M240.4 271.3L270.6 269L300.6 266.3L330.8 239.5L360.9 237.6M240.4 270.6L270.6 266.6L300.6 263.5L330.8 225.9L360.9 227.7M240.4 275.3L270.6 273.2L300.6 272.1L330.8 242.4L360.9 222.3M240.4 263.6L270.6 274.5L300.6 261.6L330.8 236L360.9 260.9M240.4 274.1L270.6 269.9L300.6 261.7L330.8 249.8L360.9 234.6M240.4 281.1L270.6 280.6L300.6 268.1L330.8 243.3L360.9 226.4M240.4 267.7L270.6 255.4L300.6 254.8L330.8 227.5L360.9 230.9M240.4 273.6L270.6 272.5L300.6 276.8L330.8 255.1L360.9 231.6M240.4 269.5L270.6 274.3L300.6 261.7L330.8 228.8L360.9 233M240.4 269.6L270.6 262.2L300.6 270.3L330.8 237.9L360.9 229.7M240.4 277.7L270.6 278.6L300.6 268L330.8 231.2L360.9 237.8M240.4 283.8L270.6 266.4L300.6 263.8L330.8 246.2L360.9 244.6M240.4 281.2L270.6 272.9L300.6 256.9L330.8 240.4L360.9 265.2M240.4 264L270.6 267.6L300.6 253.8L330.8 231.5L360.9 241.4M240.4 276.5L270.6 274.6L300.6 267.2L330.8 245.2L360.9 226.8M240.4 271.4L270.6 279.2L300.6 278.1L330.8 238.5L360.9 239.6M240.4 274.2L270.6 276.6L300.6 266.7L330.8 241.2L360.9 233.5M240.4 263.7L270.6 263.4L300.6 259.2L330.8 255.1L360.9 221.4M240.4 261.9L270.6 269.6L300.6 265.1L330.8 240.9L360.9 229.9M240.4 272.3L270.6 276.9L300.6 277.9L330.8 246.9L360.9 236.1M240.4 270.9L270.6 278.4L300.6 267.5L330.8 240.9L360.9 234.8M240.4 275.6L270.6 270.9L300.6 256.7L330.8 241.4L360.9 232.4M240.4 271.6L270.6 271.7L300.6 254.2L330.8 238.5L360.9 260.8M240.4 275.5L270.6 273.4L300.6 283.1L330.8 249.9L360.9 229.4M240.4 273.5L270.6 269.5L300.6 265.3L330.8 239.1L360.9 236.6M240.4 275.6L270.6 275.1L300.6 263L330.8 229.4L360.9 242.5M240.4 270.3L270.6 272.9L300.6 266.8L330.8 240.1L360.9 222.4M240.4 269.3L270.6 264.9L300.6 272L330.8 227.1L360.9 231.1M240.4 267.8L270.6 272.3L300.6 263L330.8 243.5L360.9 229.1M240.4 270.2L270.6 263.2L300.6 261.9L330.8 246.7L360.9 221.2M240.4 272.1L270.6 275.2L300.6 261.7L330.8 242.5L360.9 235M240.4 278.3L270.6 274.7L300.6 263.1L330.8 241.2L360.9 228.3M240.4 277.1L270.6 274.1L300.6 260L330.8 247.8L360.9 231.7M240.4 263.8L270.6 266.1L300.6 249.6L330.8 241.1L360.9 231.1M240.4 269.9L270.6 265.4L300.6 266.7L330.8 231.4L360.9 240.2M240.4 270L270.6 276L300.6 263.2L330.8 244.4L360.9 215M240.4 275.5L270.6 268.6L300.6 257.4L330.8 251.2L360.9 225.7M240.4 262.8L270.6 275.7L300.6 256.5L330.8 230.7L360.9 220.9M240.4 271.3L270.6 276.2L300.6 265.9L330.8 244.8L360.9 235.8M240.4 278.2L270.6 268.9L300.6 263.3L330.8 224.5L360.9 237.9M240.4 271L270.6 273.4L300.6 265.4L330.8 243.5L360.9 242.5M240.4 269.5L270.6 272.4L300.6 258.2L330.8 230.9L360.9 242.4M240.4 272L270.6 264.2L300.6 256.9L330.8 228.5L360.9 228.2M240.4 268.7L270.6 274.7L300.6 273L330.8 254.5L360.9 240.1M240.4 274.9L270.6 272.4L300.6 265.2L330.8 248.3L360.9 226.2M240.4 275.5L270.6 271.4L300.6 255.8L330.8 243.6L360.9 224.9M240.4 271.6L270.6 270.1L300.6 259.3L330.8 244.5L360.9 232.4M240.4 271.8L270.6 278.1L300.6 269.7L330.8 240.2L360.9 247.3M240.4 279.5L270.6 260.9L300.6 267.9L330.8 233.8L360.9 241.8M240.4 262.4L270.6 276.6L300.6 257.9L330.8 240.1L360.9 241M240.4 269.5L270.6 273L300.6 260.2L330.8 235.4L360.9 248.2M240.4 283.4L270.6 269.2L300.6 265.9L330.8 238.9L360.9 223.9M240.4 271.1L270.6 272L300.6 262.2L330.8 241.2L360.9 236.9M240.4 259.9L270.6 269.1L300.6 266.9L330.8 254L360.9 244.1M240.4 257.9L270.6 264.8L300.6 269.5L330.8 239.5L360.9 238.1M240.4 271.6L270.6 263.4L300.6 248.1L330.8 235.9L360.9 222.3M240.4 269.7L270.6 261.2L300.6 264.9L330.8 252L360.9 240.2M240.4 270.2L270.6 270.8L300.6 268.8L330.8 242.2L360.9 243.6M240.4 266.3L270.6 277.2L300.6 270.1L330.8 242.3L360.9 252.2M240.4 260.9L270.6 268.9L300.6 257.3L330.8 235.8L360.9 241M240.4 278.2L270.6 277.6L300.6 272.7L330.8 231.9L360.9 234.6M240.4 270.4L270.6 271L300.6 269.1L330.8 240.3L360.9 243.2M240.4 279.1L270.6 271.4L300.6 260.4L330.8 247.9L360.9 242.4M240.4 271.1L270.6 261.8L300.6 271.8L330.8 235.1L360.9 264M240.4 278L270.6 267.3L300.6 268.2L330.8 244.7L360.9 234.9M240.4 270.7L270.6 271.4L300.6 247.3L330.8 247.5L360.9 235.8M240.4 280.7L270.6 266.4L300.6 253.5L330.8 233.1L360.9 245.1M240.4 269.3L270.6 258.9L300.6 259.7L330.8 238.3L360.9 234.3M240.4 275.8L270.6 275.5L300.6 264.7L330.8 244.6L360.9 240.6M240.4 275L270.6 272.7L300.6 263.9L330.8 242.2L360.9 229.8M240.4 274.9L270.6 268.5L300.6 272.1L330.8 245.1L360.9 237.9M240.4 286.9L270.6 261.5L300.6 260.2L330.8 251.6L360.9 212.7M240.4 270.4L270.6 270.5L300.6 278.5L330.8 245L360.9 241.4M240.4 268.9L270.6 272.8L300.6 264.3L330.8 236.9L360.9 226.6M240.4 268L270.6 273L300.6 254L330.8 246.1L360.9 233.2M240.4 276.8L270.6 275.4L300.6 262.7L330.8 220.6L360.9 229.1M240.4 278L270.6 270.3L300.6 253.2L330.8 220.2L360.9 223.3M240.4 273.2L270.6 268.6L300.6 260.9L330.8 258.9L360.9 244.9M240.4 263.8L270.6 271.5L300.6 242.8L330.8 231.6L360.9 229.6M240.4 271.7L270.6 278.5L300.6 260.2L330.8 234.5L360.9 222.1M240.4 278.7L270.6 263.1L300.6 271.3L330.8 237.9L360.9 222.2M240.4 272.5L270.6 271.8L300.6 260.6L330.8 259.4L360.9 244.1M240.4 291.1L270.6 270.4L300.6 266.5L330.8 238.4L360.9 236.1M240.4 280.4L270.6 276.4L300.6 264.8L330.8 234.3L360.9 239.7M240.4 275.2L270.6 269.6L300.6 279.5L330.8 238.2L360.9 236.1M240.4 273.7L270.6 279.7L300.6 254L330.8 245.4L360.9 227.1M240.5 334.4L270.6 256L300.7 262.4L330.8 240.3L360.9 242.3" stroke="#cfcfcf" stroke-width="0.5" fill="none" stroke-linejoin="round"/>
<path d="M405.1 235.3L407.2 236.9L409.2 238.3L411.2 239.6L413.2 240.7L415.2 241.6L417.2 242.4L419.2 243.1L421.2 243.9L423.2 243.9L425.2 244.1L427.2 244.2L429.2 244.1L431.2 243.8L433.2 243.4L435.2 242.8L437.3 245.4L439.3 247.8L441.3 250L443.3 252.1L445.3 254L447.3 255.8L449.3 257.4L451.3 259L453.3 260.8L455.3 261.4L457.3 262.4L459.3 263.3L461.3 264.2L463.3 264.9L465.3 265.5L467.4 264.7L469.4 263.7L471.4 262.7L473.4 261.5L475.4 260.2L477.4 258.8L479.4 257.2L481.4 255.5L483.4 253.7L485.4 251.7L487.4 249.6L489.4 247.4L491.4 245L493.4 242.5L495.4 239.8L497.5 240.5L499.5 241L501.5 241.5L503.5 241.8L505.5 241.9L507.5 242L509.5 241.9L511.5 241.6L513.5 241.2L515.5 240.6L517.5 239.9L519.5 239L521.5 237.9L523.5 236.7L525.5 235.3L525.5 265.5L523.5 264.3L521.5 263.4L519.5 262.7L517.5 262.1L515.5 261.6L513.5 261.2L511.5 260.8L509.5 261L507.5 260.8L505.5 261.8L503.5 262.3L501.5 262.8L499.5 263.1L497.5 264L495.4 264.7L493.4 266.1L491.4 266.9L489.4 267.9L487.4 268.9L485.4 270.2L483.4 271.5L481.4 273L479.4 274.6L477.4 276.4L475.4 278.3L473.4 280.3L471.4 282.4L469.4 284.7L467.4 287.1L465.3 289.6L463.3 287.5L461.3 285.5L459.3 283.6L457.3 281.8L455.3 280.1L453.3 278.6L451.3 277.1L449.3 276L447.3 274.9L445.3 273.9L443.3 273.1L441.3 272.4L439.3 272L437.3 271.6L435.2 271.5L433.2 269.9L431.2 268.5L429.2 267.2L427.2 266.1L425.2 264.7L423.2 263.1L421.2 262.2L419.2 262.4L417.2 262.2L415.2 262.6L413.2 262.4L411.2 262.7L409.2 263L407.2 263.4L405.1 264 Z" fill="#cfcfcf"/>
<path d="M405.1 250.5L435.2 259.9L465.3 284.1L495.4 254.6L525.5 257M405.1 249L435.2 252.6L465.3 277.3L495.4 251.5L525.5 248.9M405.1 247.6L435.2 261.8L465.3 273.6L495.4 251.2L525.5 252.4M405.1 262.2L435.2 253.3L465.3 277.4L495.4 263.5L525.5 251M405.1 250.6L435.2 250.2L465.3 277.3L495.4 249.6L525.5 253M405.1 264.1L435.2 257.9L465.3 277.2L495.4 260.2L525.5 250.5M405.1 251.2L435.2 254.2L465.3 279.7L495.4 247L525.5 242.5M405.1 246.8L435.2 247.8L465.3 275L495.4 251.2L525.5 259.8M405.1 243.1L435.2 241L465.3 284.5L495.4 249.1L525.5 247.3M405.1 257.3L435.2 259.4L465.3 283.7L495.4 248.3L525.5 248.6M405.1 244.1L435.2 253.7L465.3 268.6L495.4 258.4L525.5 251.9M405.1 254.3L435.2 256L465.3 274.6L495.4 263.5L525.5 259.9M405.1 240.2L435.2 250.5L465.3 277.9L495.4 257.5L525.5 243.7M405.1 247.1L435.2 260.8L465.3 264L495.4 251.7L525.5 242.6M405.1 253.6L435.2 259.2L465.3 279L495.4 249.2L525.5 264.5M405.1 248.4L435.2 258.6L465.3 281.3L495.4 264L525.5 249.2M405.1 248.4L435.2 256.7L465.3 277L495.4 254.9L525.5 251.5M405.1 249.1L435.2 272.5L465.3 276.6L495.4 252.2L525.5 253.6M405.1 250.8L435.2 256.8L465.3 281.8L495.4 267.5L525.5 250.7M405.1 259L435.2 248.2L465.3 274.2L495.4 253.7L525.5 255.6M405.1 245.6L435.2 254.2L465.3 274.6L495.4 256.2L525.5 243.4M405.1 261.1L435.2 261.8L465.3 284.2L495.4 255.1L525.5 256.4M405.1 248.7L435.2 261.9L465.3 280.5L495.4 243.5L525.5 245.6M405.1 247.4L435.2 265.1L465.3 275L495.4 254.3L525.5 249.8M405.1 252.5L435.2 261.2L465.3 277.5L495.4 257.3L525.5 249.4M405.1 252.7L435.2 256.2L465.3 273.7L495.4 251.6L525.5 249.7M405.1 246.6L435.2 261.2L465.3 281.1L495.4 254.5L525.5 243.3M405.1 247L435.2 249.5L465.3 270.1L495.4 255.5L525.5 244.9M405.1 248.3L435.2 257.4L465.3 270.6L495.4 258.1L525.5 250.1M405.1 251.6L435.2 259.9L465.3 274.2L495.4 248.6L525.5 253.1M405.1 260.1L435.2 256.1L465.3 274.3L495.4 238.8L525.5 250.4M405.1 248L435.2 257L465.3 284.7L495.4 254.4L525.5 244M405.1 244.6L435.2 252.5L465.3 280.3L495.4 264.5L525.5 247.6M405.1 246.3L435.2 262.9L465.3 279.4L495.4 255.1L525.5 254.6M405.1 253.6L435.2 243.8L465.3 281.2L495.4 248.6L525.5 245.1M405.1 252.5L435.2 256.7L465.3 276.7L495.4 258.3L525.5 253.2M405.1 243.1L435.2 261.6L465.3 272.4L495.4 245.6L525.5 261.8M405.1 244.4L435.2 269L465.3 276.9L495.4 249.9L525.5 249.4M405.1 255.1L435.2 260.6L465.3 268.9L495.4 254.1L525.5 258.9M405.1 247.6L435.2 265.6L465.3 277.4L495.4 252.2L525.5 237.2M405.1 259.2L435.2 238.3L465.3 280.7L495.4 235.3L525.5 251.9M405.1 250.7L435.2 256.6L465.3 277.1L495.4 253.9L525.5 251.6M405.1 248.7L435.2 260.9L465.3 271.1L495.4 256L525.5 258.5M405.1 248.4L435.2 259.1L465.3 262.6L495.4 250.4L525.5 248.3M405.1 249.5L435.2 255.7L465.3 276.3L495.4 250.6L525.5 244.6M405.1 239.6L435.2 254.4L465.3 279.8L495.4 253.1L525.5 250.8M405.1 249.2L435.2 250L465.3 282.2L495.4 249.3L525.5 249.2M405.1 248.6L435.2 243.8L465.3 272.3L495.4 255L525.5 251.6M405.1 242L435.2 250.9L465.3 273.1L495.4 268.5L525.5 251.9M405.1 256.6L435.2 256.3L465.3 277.1L495.4 256L525.5 267.1M405.1 255.6L435.2 260.6L465.3 269.1L495.4 248L525.5 253.2M405.1 251.8L435.2 254.5L465.3 271.8L495.4 257.6L525.5 255.6M405.1 247.3L435.2 259.9L465.3 270.3L495.4 236.8L525.5 250M405.1 252.3L435.2 260.2L465.3 276.1L495.4 250.5L525.5 242.7M405.1 259.6L435.2 249.1L465.3 278.5L495.4 249.5L525.5 266.5M405.1 252.3L435.2 260.1L465.3 271.8L495.4 257.2L525.5 253.1M405.1 254.5L435.2 250.3L465.3 278.3L495.4 253.5L525.5 243.9M405.1 249.6L435.2 259.9L465.3 275L495.4 254.8L525.5 250M405.1 239.1L435.2 257.7L465.3 281.8L495.4 253.4L525.5 242.5M405.1 250.5L435.2 252.2L465.3 286.3L495.4 249.5L525.5 249.6M405.1 245.4L435.2 262.5L465.3 278.9L495.4 250.3L525.5 237.4M405.1 248.3L435.2 254.4L465.3 273.9L495.4 248.9L525.5 253.6M405.1 251.4L435.2 261.1L465.3 271.2L495.4 245.4L525.5 240.6M405.1 243.7L435.2 253.1L465.3 272.3L495.4 256.3L525.5 243.5M405.1 244.8L435.2 256.5L465.3 275.5L495.4 240L525.5 246.9M405.1 250.5L435.2 259.1L465.3 275.3L495.4 252.8L525.5 246.4M405.1 251.3L435.2 291.1L465.3 260.9L495.4 255.3L525.5 242.1M405.1 250.2L435.2 254L465.3 287.1L495.4 249.3L525.5 253.8M405.1 249.7L435.2 251L465.3 300.1L495.4 264L525.5 244.1M405.1 251.1L435.2 259.7L465.3 275.5L495.4 247L525.5 251.2M405.1 268.5L435.2 255.6L465.3 279L495.4 255.7L525.5 241M405.1 236.1L435.2 263.3L465.3 276.2L495.4 238.3L525.5 253.8M405.1 234.7L435.2 252.3L465.3 276L495.4 254.5L525.5 245.1M405.1 249.8L435.2 270.4L465.3 283L495.4 244.6L525.5 241.1M405.1 255.3L435.2 259.1L465.3 276L495.4 258.4L525.5 251.6M405.1 256.6L435.2 253.1L465.3 284.3L495.4 252.5L525.5 252.8M405.1 241.3L435.2 256.9L465.3 282.8L495.4 247.5L525.5 247.8M405.1 254.9L435.2 241.3L465.3 279.5L495.4 248.2L525.5 254.3M405.1 243.3L435.2 260L465.3 273.5L495.4 258.4L525.5 248.4M405.1 251.9L435.2 256L465.3 276.8L495.4 251.7L525.5 249M405.1 247.2L435.2 266.2L465.3 270.9L495.4 257.5L525.5 252.6M405.1 252.9L435.2 262.7L465.3 283.3L495.4 259.4L525.5 257.2M405.1 253.2L435.2 269.6L465.3 274.1L495.4 256.8L525.5 253.9M405.1 249.8L435.2 250.8L465.3 280.9L495.4 245.2L525.5 235.5M405.1 253.8L435.2 255.1L465.3 279.8L495.4 251.5L525.5 259.3M405.1 245.5L435.2 284.6L465.3 275.4L495.4 252.5L525.5 245.5M405.1 251.5L435.2 256.1L465.3 281L495.4 256.5L525.5 257.9M405.1 243.2L435.2 256.5L465.3 278.1L495.4 242.6L525.5 243M405.1 254.3L435.2 253.9L465.3 276.2L495.4 253.1L525.5 251M405.1 251.6L435.2 250.9L465.3 275.1L495.4 260.6L525.5 255.9M405.1 244.4L435.2 255.4L465.3 278.5L495.4 258.3L525.5 258M405.1 242.7L435.2 259.2L465.3 284.1L495.4 256.3L525.5 267.5M405.1 231.3L435.2 258.8L465.3 273.4L495.4 252.9L525.5 251.5M405.1 245.5L435.2 258.9L465.3 282.8L495.4 238.5L525.5 247M405.1 248.3L435.2 247.4L465.3 281L495.4 246.7L525.5 256.7M405.1 260.9L435.2 263.7L465.3 279.7L495.4 249.4L525.5 257.9M405.1 258.6L435.2 260.5L465.3 275.2L495.4 245.9L525.5 242.8M405.1 256.5L435.2 264.3L465.3 274.8L495.4 252.6L525.5 255M405.1 259.5L435.2 246.1L465.3 281.8L495.4 255.3L525.5 259.7M405.1 251.1L435.2 256.5L465.3 281.3L495.4 240.1L525.5 244.1M405.1 247.8L435.2 270.7L465.3 276.6L495.4 247L525.5 242.5M405.1 254.5L435.2 264.4L465.3 278.2L495.4 257.4L525.5 247.3M405.1 253.1L435.2 250.2L465.3 267.8L495.4 254.4L525.5 252.1M405.1 252.5L435.2 258L465.3 293.1L495.4 259.1L525.5 249.8M405.1 247.7L435.2 256.2L465.3 275.6L495.4 252.9L525.5 250.8M405.1 243.1L435.2 257L465.3 280.5L495.4 256.3L525.5 248.1M405.1 253.3L435.2 252.6L465.3 276.6L495.4 249.8L525.5 253.2M405.1 260.7L435.2 262.2L465.3 280.4L495.4 240.6L525.5 247.2M405.1 243.2L435.2 264.5L465.3 277.9L495.4 248.4L525.5 255.7M405.1 243.3L435.2 258.4L465.3 281.2L495.4 256.7L525.5 257.2M405.1 246.1L435.2 262.2L465.3 283.4L495.4 255.8L525.5 251M405.1 252.2L435.2 239.8L465.3 281.5L495.4 254L525.5 248.6M405.1 247.7L435.2 254.8L465.3 279.4L495.4 251.2L525.5 239.6M405.1 249.9L435.2 260L465.3 280.5L495.4 254L525.5 262.2M405.1 249.4L435.2 261L465.3 276.9L495.4 254.7L525.5 252M405.1 262.3L435.2 257.4L465.3 278.8L495.4 246.8L525.5 241.2M405.1 248.5L435.2 260.4L465.3 268.3L495.4 242.8L525.5 254.4M405.1 243.2L435.2 249.6L465.3 267L495.4 254.2L525.5 245.6M405.1 265.5L435.2 258.9L465.3 277.8L495.4 256.9L525.5 252M405.1 254.3L435.2 267.4L465.3 279.5L495.4 258.9L525.5 248.5M405.1 252.8L435.2 250.4L465.3 282.5L495.4 264.3L525.5 236.3M405.1 250.3L435.2 261.8L465.3 274.2L495.4 259.3L525.5 252.3M405.1 252.6L435.2 255.3L465.3 278.5L495.4 247L525.5 255M405.1 254.8L435.2 250.4L465.3 282.5L495.4 254.7L525.5 229.3M405.1 246.6L435.2 250.2L465.3 271L495.4 253.5L525.5 266.2M405.1 254.2L435.2 246.5L465.3 276.4L495.4 247L525.5 252.7M405.1 243.8L435.2 253.3L465.3 283.7L495.4 251L525.5 247.9M405.1 260.3L435.2 250.4L465.3 277.6L495.4 255.5L525.5 248M405.1 244.6L435.2 254.8L465.3 280.7L495.4 247.8L525.5 252.6M405.1 248L435.2 247.2L465.3 289.3L495.4 260.6L525.5 259.4M405.1 254.2L435.2 253.3L465.3 277.4L495.4 250.5L525.5 249.9M405.1 246.9L435.2 261.6L465.3 272L495.4 247.1L525.5 247.3M405.1 247.3L435.2 261.4L465.3 262.4L495.4 254.2L525.5 257.7M405.1 252.8L435.2 251.2L465.3 274.8L495.4 254.3L525.5 241M405.1 248.1L435.2 250.8L465.3 281.3L495.4 259.5L525.5 255.3M405.1 247.4L435.2 252.6L465.3 283.8L495.4 253.3L525.5 261.5M405.1 251.8L435.2 253.1L465.3 279.1L495.4 257.1L525.5 231.3M405.1 238.2L435.2 255.5L465.3 274.9L495.4 251.2L525.5 249.9M405.1 249.5L435.2 251.6L465.3 270L495.4 257.7L525.5 248.2M405.1 245.9L435.2 264.9L465.3 272.1L495.4 257.2L525.5 263.9M405.1 251.9L435.2 264.3L465.3 280.6L495.4 251.8L525.5 244.7M405.1 247.7L435.2 255.1L465.3 278L495.4 252.4L525.5 249M405.1 241.4L435.2 251.9L465.3 279L495.4 254L525.5 259.1M405.1 248.1L435.2 254.6L465.3 282L495.4 242.7L525.5 240.1M405.1 248.8L435.2 268.2L465.3 283.3L495.4 247.1L525.5 268.5M405.1 253.5L435.2 252.2L465.3 286L495.4 255.2L525.5 249M405.1 245.4L435.2 256L465.3 278.1L495.4 252.9L525.5 254M405.1 241.8L435.2 254.8L465.3 282.7L495.4 249L525.5 251.3M405.1 233.3L435.2 253.8L465.3 285.3L495.4 253.7L525.5 233.3M405.1 250L435.2 256L465.3 282.2L495.4 255.1L525.5 248.7M405.1 249.5L435.2 266.1L465.3 273.1L495.4 258.3L525.5 250.9M405.1 262.9L435.2 256.4L465.3 271.8L495.4 247.4L525.5 258.5M405.1 252.2L435.2 266.6L465.3 272.8L495.4 252.8L525.5 247.1M405.1 241.1L435.2 246.3L465.3 275.1L495.4 251.9L525.5 243.3M405.1 248.5L435.2 261.2L465.3 272.5L495.4 256.4L525.5 253.8M405.1 253.9L435.2 256.1L465.3 284.1L495.4 258.5L525.5 245.4M405.1 256.6L435.2 261.4L465.3 284.9L495.4 242.3L525.5 251.3M405.1 251.1L435.2 257.3L465.3 278.8L495.4 258L525.5 243.5M405.1 244.2L435.2 278L465.3 283.6L495.4 248L525.5 243.2M405.1 246.3L435.2 259.6L465.3 274.8L495.4 247.9L525.5 253.1M405.1 259.1L435.2 256.4L465.3 277.5L495.4 252.5L525.5 250.5M405.1 258.1L435.2 258.8L465.3 280.8L495.4 260.9L525.5 255.3M405.1 247.6L435.2 257.4L465.3 273.6L495.4 253.4L525.5 250.6M405.1 258.3L435.2 260.4L465.3 272.1L495.4 249.1L525.5 248M405.1 250.9L435.2 266.1L465.3 271L495.4 249.1L525.5 246.7M405.1 245.7L435.2 257.9L465.3 276.9L495.4 255.5L525.5 249.6M405.1 247.2L435.2 259.9L465.3 282.2L495.4 256L525.5 252.3M405.1 249.2L435.2 257.9L465.3 275.6L495.4 246.4L525.5 245.6M405.1 267L435.2 255L465.3 280.3L495.4 252.7L525.5 240.5M405.1 244.8L435.2 257.1L465.3 271.4L495.4 254L525.5 245.4M405.1 248.4L435.2 258.1L465.3 279.6L495.4 252.7L525.5 251M405.1 245.3L435.2 251.4L465.3 284.2L495.4 257.2L525.5 256M405.1 250.3L435.2 257.2L465.3 276.4L495.4 246.2L525.5 244.3M405.1 243.3L435.2 256.3L465.3 274.8L495.4 247.3L525.5 261.3M405.1 255.6L435.2 258.9L465.3 280.4L495.4 259.9L525.5 247.7M405.1 250.9L435.2 259.7L465.3 274.8L495.4 257.7L525.5 256.4M405.1 256.1L435.2 252L465.3 279L495.4 264.5L525.5 257M405.1 251.4L435.2 257.1L465.3 275.3L495.4 247.2L525.5 245.3M405.1 252.1L435.2 265.1L465.3 272.2L495.4 251.3L525.5 254M405.1 253.2L435.2 261.7L465.3 281L495.4 257.4L525.5 253.2M405.1 255.8L435.2 249.4L465.3 296.6L495.4 255.7L525.5 248.7M405.1 257L435.2 253.6L465.3 277L495.4 250.2L525.5 251.4M405.1 255.1L435.2 245.8L465.3 280.6L495.4 264.7L525.5 246.2M405.1 256.8L435.2 260.1L465.3 290.5L495.4 256.4L525.5 235.2M405.1 252.1L435.2 259.5L465.3 278.1L495.4 245.9L525.5 261.5M405.1 243.6L435.2 245.5L465.3 267.4L495.4 252.4L525.5 247.3M405.1 256.7L435.2 255L465.3 277.9L495.4 251.1L525.5 243.4M405.1 247.7L435.2 255.3L465.3 272.3L495.4 256.4L525.5 254.6M405.1 248.1L435.2 257.1L465.3 273.1L495.4 248.1L525.5 253.7M405.1 251.9L435.2 247.9L465.3 280.4L495.4 249.3L525.5 250.6M405.1 256.1L435.2 257.8L465.3 279.7L495.4 253.6L525.5 251.8M405.1 244.9L435.2 266.3L465.3 281.2L495.4 258.4L525.5 251.5M405.1 248.6L435.2 260.5L465.3 278.6L495.4 255.1L525.5 254.1M405.1 259.4L435.2 260.2L465.3 276.8L495.4 252.6L525.5 251.6M405.1 246.7L435.2 262.1L465.3 277.2L495.4 250.5L525.5 250.6M405.1 249.4L435.2 247.8L465.3 290.1L495.4 254.7L525.5 236.6M405.1 247.4L435.2 264.3L465.3 273L495.4 253.8L525.5 244.6M405.1 255.1L435.2 261.1L465.3 282.7L495.4 246.7L525.5 248.1M405.1 252.6L435.2 262.4L465.3 274.6L495.4 249.1L525.5 256.2M405.1 251.2L435.2 255.5L465.3 278.1L495.4 264.5L525.5 250.6M405.1 249.7L435.2 250.6L465.3 281.9L495.4 261.1L525.5 254.5M405.1 238.4L435.2 248.8L465.3 271L495.4 253.3L525.5 258.4M405.1 244.8L435.2 254.4L465.3 271L495.4 248.7L525.5 233.3M405.1 256.1L435.2 265L465.3 280.1L495.4 258.1L525.5 255.2M405.1 251.4L435.2 255.5L465.3 272.3L495.4 262.3L525.5 258.3M405.1 252.5L435.2 261L465.3 270.8L495.4 244.4L525.5 248.7M405.1 249.4L435.2 264.8L465.3 271.8L495.4 258.4L525.5 248.6M405.1 245.7L435.2 255.5L465.3 280.7L495.4 242.3L525.5 253.9M405.1 246.7L435.2 249.6L465.3 284.1L495.4 250.5L525.5 244.7M405.1 251.3L435.2 260.9L465.3 277.9L495.4 245L525.5 242.8M405.1 242.9L435.2 254.1L465.3 282L495.4 252.1L525.5 251.8M405.1 251L435.2 260.8L465.3 280.1L495.4 240L525.5 257.6M405.1 252.8L435.2 269.8L465.3 279.1L495.4 255.6L525.5 242.9M405.1 248L435.2 250L465.3 272.4L495.4 266.5L525.5 241.4M405.1 260.3L435.2 261.6L465.3 272.1L495.4 256.2L525.5 260.7M405.1 249L435.2 252L465.3 270.9L495.4 247.1L525.5 253.7M405.1 251.4L435.2 254.9L465.3 277.2L495.4 244.5L525.5 261.6M405.1 255.4L435.2 267.9L465.3 273.9L495.4 247.2L525.5 253.7M405.1 254.3L435.2 262.5L465.3 284.5L495.4 255L525.5 239.6M405.1 229.3L435.2 251.7L465.3 275.3L495.4 259.8L525.5 240.1M405.1 256.2L435.2 264.5L465.3 283L495.4 255.7L525.5 245.3M405.1 244.7L435.2 258.4L465.3 273.6L495.4 251.6L525.5 258.8M405.1 248L435.2 258.4L465.3 286.6L495.4 251.6L525.5 253.1M405.1 256.1L435.2 252.1L465.3 280L495.4 251.3L525.5 246.6M405.1 241.8L435.2 254.9L465.3 276.6L495.4 252.4L525.5 239.8M405.1 252.5L435.2 256.6L465.3 277L495.4 260.2L525.5 259.4M405.1 240.9L435.2 255.3L465.3 277.1L495.4 248.6L525.5 251.8M405.1 251.1L435.2 263L465.3 277.1L495.4 254.8L525.5 264.3M405.1 241L435.2 263.6L465.3 278.7L495.4 257.2L525.5 243.2M405.1 241.5L435.2 250.1L465.3 282.3L495.4 258.3L525.5 253.5M405.1 245.8L435.2 262.1L465.3 271.4L495.4 249.8L525.5 241.6M405.1 253.2L435.2 247.8L465.3 282.8L495.4 248.4L525.5 256.6M405.1 244.5L435.2 266.6L465.3 276L495.4 254.1L525.5 258.5M405.1 260.7L435.2 253.6L465.3 274L495.4 247.9L525.5 255.4M405.1 248.8L435.2 267.6L465.3 284.2L495.4 260.8L525.5 256.6M405.1 251.7L435.2 261.6L465.3 274.9L495.4 252.7L525.5 255.2M405.1 249.8L435.2 257L465.3 281.2L495.4 247.5L525.5 253.3M405.1 253L435.2 260.3L465.3 288.4L495.4 248.1L525.5 249.9M405.1 260.7L435.2 249L465.3 274.2L495.4 246.6L525.5 254.1M405.1 260.9L435.2 262.3L465.3 277.9L495.4 251.5L525.5 254M405.1 246.6L435.2 250.6L465.3 274.1L495.4 250.1L525.5 244.5M405.1 248.8L435.2 253L465.3 283.9L495.4 258.5L525.5 249.5M405.1 243.2L435.2 255.4L465.3 270.8L495.4 251.5L525.5 254.8M405.1 245.1L435.2 257.8L465.3 273.5L495.4 249.1L525.5 254.4M405.1 255.7L435.2 263L465.3 283.4L495.4 254.7L525.5 249.9M405.1 238.5L435.2 263.8L465.3 277L495.4 254.7L525.5 252.9M405.1 251.4L435.2 244.9L465.3 283.2L495.4 260.7L525.5 256.1M405.1 252L435.2 260.2L465.3 275.2L495.4 251L525.5 243.5M405.1 248.6L435.2 239.8L465.3 277.4L495.4 256.6L525.5 250.7M405.1 236.6L435.2 255.7L465.3 282.9L495.4 246L525.5 248.4M405.1 246L435.2 253.2L465.3 273.5L495.4 255.8L525.5 248.1M405.1 246.4L435.2 258L465.3 277.2L495.4 247L525.5 249.2M405.1 251.2L435.2 258.4L465.3 273.6L495.4 258.3L525.5 241" stroke="#cfcfcf" stroke-width="0.5" fill="none" stroke-linejoin="round"/>
<path d="M75.8 415.4L77.8 416.6L79.8 417.7L81.8 418.6L83.8 419.4L85.8 420L87.8 420.5L89.8 420.8L91.8 420.9L93.8 420.9L95.8 420.8L97.8 420.6L99.8 420.2L101.8 419.7L103.8 419.1L105.8 418.4L107.9 419.2L109.9 419.9L111.9 420.5L113.9 420.9L115.9 421.2L117.9 421.4L119.9 421.5L121.9 421.4L123.9 421.2L125.9 420.9L127.9 420.4L129.9 419.7L131.9 418.9L133.9 418L135.9 416.9L138 418L140 419L142 419.8L144 420.5L146 421.1L148 421.5L150 421.7L152 421.9L154 421.8L156 421.6L158 421.3L160 420.8L162 420.2L164 419.4L166.1 418.4L168.1 416.3L170.1 414.1L172.1 411.9L174.1 410.2L176.1 407.1L178.1 404.4L180.1 401.6L182.1 398.6L184.1 395.4L186.1 391.9L188.1 388.2L190.1 384.2L192.1 379.8L194.1 375.2L196.2 370.1L196.2 419.9L194.1 419.9L192.1 420.3L190.1 421L188.1 422L186.1 423.3L184.1 424.7L182.1 425.3L180.1 427.4L178.1 430.1L176.1 431.7L174.1 435.1L172.1 438L170.1 441.2L168.1 444.1L166.1 447.1L164 445.8L162 444.7L160 443.7L158 442.9L156 442.3L154 441.5L152 441.5L150 441.3L148 441.1L146 441.3L144 441.6L142 441L140 441.6L138 442.2L135.9 443.1L133.9 442.2L131.9 441.4L129.9 440.5L127.9 439.8L125.9 439.4L123.9 439.5L121.9 439.1L119.9 439L117.9 439.5L115.9 439.6L113.9 440L111.9 440.5L109.9 441L107.9 441.7L105.8 442.5L103.8 441.7L101.8 441L99.8 440.4L97.8 440L95.8 439.6L93.8 438.8L91.8 439L89.8 439.4L87.8 439.6L85.8 439.9L83.8 440.4L81.8 441.1L79.8 441.9L77.8 442.9L75.8 444 Z" fill="#cfcfcf"/>
<path d="M75.8 442.1L105.8 424.9L135.9 439.9L166.1 432.3L196.2 389.6M75.8 431.3L105.8 419.8L135.9 423.4L166.1 440.5L196.2 396.7M75.8 432.7L105.8 439.8L135.9 427.5L166.1 427.1L196.2 402.5M75.8 440.7L105.8 423.7L135.9 424.9L166.1 432.4L196.2 392.4M75.8 426.9L105.8 438.2L135.9 432.2L166.1 426.6L196.2 393.6M75.8 438.8L105.8 429.1L135.9 435.9L166.1 437.5L196.2 406.5M75.8 439.5L105.8 433.2L135.9 436.6L166.1 438L196.2 412M75.8 426.3L105.8 430.1L135.9 427.8L166.1 442.1L196.2 393.6M75.8 414.4L105.8 427.1L135.9 426.4L166.1 423.2L196.2 390.4M75.8 423.9L105.8 426.5L135.9 432L166.1 443.2L196.2 402.2M75.8 430.9L105.8 426.7L135.9 432.1L166.1 430.1L196.2 402.1M75.8 427.5L105.8 428.9L135.9 427.5L166.1 434.3L196.2 402M75.8 434.9L105.8 425.6L135.9 434.1L166.1 427.5L196.2 402.8M75.8 435.6L105.8 430.1L135.9 405.3L166.1 439.5L196.2 390.1M75.8 431.5L105.8 431L135.9 427.3L166.1 433L196.2 400.7M75.8 423.6L105.8 425.7L135.9 427.3L166.1 437.7L196.2 378.8M75.8 432.2L105.8 420.2L135.9 433.5L166.1 429.6L196.2 379.5M75.8 428.2L105.8 438.1L135.9 428.3L166.1 435.3L196.2 391.3M75.8 430.9L105.8 429.1L135.9 423.9L166.1 439.1L196.2 395.8M75.8 426.1L105.8 442L135.9 432.3L166.1 444.3L196.2 400.2M75.8 425.3L105.8 437.5L135.9 425.7L166.1 429L196.2 383.3M75.8 418.6L105.8 436.1L135.9 435.2L166.1 429.7L196.2 393.1M75.8 438.4L105.8 428.8L135.9 433.9L166.1 429.5L196.2 370.2M75.8 433.5L105.8 439.4L135.9 439.9L166.1 435.1L196.2 390.3M75.8 433.3L105.8 425.5L135.9 434L166.1 433.9L196.2 386.9M75.8 435.2L105.8 425.7L135.9 427.3L166.1 440.3L196.2 385.4M75.8 426.8L105.8 435.3L135.9 434.7L166.1 434.7L196.2 406.3M75.8 428.7L105.8 427.9L135.9 419.2L166.1 420.2L196.2 402.3M75.8 420.1L105.8 417.8L135.9 422L166.1 432.9L196.2 384.4M75.8 423.7L105.8 425.2L135.9 420.2L166.1 430.2L196.2 421M75.8 429L105.8 429.6L135.9 421.9L166.1 430.8L196.2 405.3M75.8 433.5L105.8 428.8L135.9 424.7L166.1 432.7L196.2 420.7M75.8 427.6L105.8 427.6L135.9 427.3L166.1 427.5L196.2 400.4M75.8 440.6L105.8 433.6L135.9 440.3L166.1 432.9L196.2 400.3M75.8 436.2L105.8 430L135.9 428.5L166.1 434.1L196.2 386.7M75.8 421.6L105.8 427.4L135.9 432.8L166.1 434.1L196.2 404M75.8 424.7L105.8 435.1L135.9 427.1L166.1 427.8L196.2 396.9M75.8 423.8L105.8 432.1L135.9 437.1L166.1 428L196.2 386.7M75.8 429.5L105.8 425.4L135.9 433.3L166.1 435.5L196.2 405.7M75.8 425.9L105.8 430L135.9 420.3L166.1 426.9L196.2 392.4M75.8 433.9L105.8 435.9L135.9 429.9L166.1 429.5L196.2 377.9M75.8 421.5L105.8 434.7L135.9 422.8L166.1 431.9L196.2 411.1M75.8 418.3L105.8 430.9L135.9 427.6L166.1 431.4L196.2 397.3M75.8 429.7L105.8 434.8L135.9 432.9L166.1 431.4L196.2 383.1M75.8 428.8L105.8 433.8L135.9 428.3L166.1 432.3L196.2 406.5M75.8 430.1L105.8 421.1L135.9 430.7L166.1 436.5L196.2 384.6M75.8 440.7L105.8 426.1L135.9 436.7L166.1 436.2L196.2 411.7M75.8 432.6L105.8 423.3L135.9 426.2L166.1 433.2L196.2 410.2M75.8 438.5L105.8 433.2L135.9 438.5L166.1 426.7L196.2 393.5M75.8 440.9L105.8 444L135.9 429.4L166.1 435.7L196.2 376.2M75.8 432.4L105.8 434.5L135.9 429.1L166.1 433.6L196.2 396.8M75.8 437.7L105.8 429.6L135.9 425.1L166.1 435.5L196.2 387M75.8 436.7L105.8 427.7L135.9 431.4L166.1 435L196.2 386.4M75.8 429.1L105.8 425.6L135.9 424.2L166.1 428.5L196.2 362.6M75.8 431.1L105.8 431.2L135.9 425.7L166.1 430.2L196.2 382.2M75.8 436.6L105.8 428.2L135.9 427.4L166.1 429.2L196.2 390.9M75.8 434.9L105.8 438.8L135.9 432.3L166.1 429.1L196.2 393.6M75.8 433.2L105.8 428.1L135.9 422.2L166.1 433.2L196.2 405.2M75.8 424.2L105.8 430.8L135.9 424.6L166.1 412.7L196.2 393.2M75.8 429.1L105.8 421.8L135.9 433.9L166.1 433.2L196.2 390.3M75.8 422.7L105.8 423.1L135.9 430.5L166.1 439.1L196.2 380.5M75.8 428.4L105.8 431.8L135.9 430.8L166.1 432.3L196.2 402.8M75.8 430.2L105.8 425.5L135.9 435.2L166.1 427.3L196.2 395.5M75.8 432.7L105.8 438.2L135.9 438L166.1 440.3L196.2 397.4M75.8 431.6L105.8 427.2L135.9 429.1L166.1 432L196.2 399.8M75.8 415.9L105.8 434.4L135.9 418.4L166.1 422.9L196.2 387.7M75.8 414.1L105.8 425.6L135.9 421.2L166.1 429.8L196.2 381M75.8 433.9L105.8 438.2L135.9 436.9L166.1 429.8L196.2 389.1M75.8 427.7L105.8 427.4L135.9 426.6L166.1 442.6L196.2 392.2M75.8 429.8L105.8 423.2L135.9 428.5L166.1 440L196.2 399.8M75.8 420L105.8 432.8L135.9 427.5L166.1 430.2L196.2 420.3M75.8 430.1L105.8 431.8L135.9 425.2L166.1 438.4L196.2 391.3M75.8 431.9L105.8 436.3L135.9 439L166.1 434.6L196.2 405.7M75.8 435L105.8 430L135.9 424.9L166.1 432.4L196.2 401.2M75.8 427.9L105.8 429.3L135.9 448.6L166.1 433.7L196.2 408.2M75.8 435.8L105.8 432.8L135.9 422.8L166.1 438.3L196.2 413.9M75.8 432.5L105.8 418.5L135.9 428.5L166.1 436.8L196.2 382.5M75.8 428.1L105.8 422L135.9 427.5L166.1 437.9L196.2 391.1M75.8 420.5L105.8 428.6L135.9 432.3L166.1 426.2L196.2 386.9M75.8 424.8L105.8 424L135.9 427.1L166.1 432L196.2 397.8M75.8 434.7L105.8 432.4L135.9 428.3L166.1 433.7L196.2 381.2M75.8 427.9L105.8 420.7L135.9 433.1L166.1 431.9L196.2 383.1M75.8 436.4L105.8 433.6L135.9 436.9L166.1 435.2L196.2 395.5M75.8 432.4L105.8 435.6L135.9 438.8L166.1 439.3L196.2 380.4M75.8 429.3L105.8 436.6L135.9 423.4L166.1 444.3L196.2 396.9M75.8 425.4L105.8 435.2L135.9 424.8L166.1 452.7L196.2 373.8M75.8 443.6L105.8 434.8L135.9 431.3L166.1 444.4L196.2 392.8M75.8 426.9L105.8 420.8L135.9 425.2L166.1 426.8L196.2 385.1M75.8 431.1L105.8 433.1L135.9 430.5L166.1 425.7L196.2 384M75.8 437.5L105.8 428.5L135.9 428.6L166.1 430.5L196.2 390.4M75.8 414.2L105.8 432.4L135.9 434.8L166.1 438.9L196.2 386.3M75.8 424.3L105.8 432.8L135.9 430.4L166.1 433.7L196.2 397M75.8 432.7L105.8 426L135.9 425.8L166.1 439.8L196.2 400.1M75.8 425.3L105.8 429.2L135.9 432.8L166.1 432L196.2 388.1M75.8 427.6L105.8 434.4L135.9 424.6L166.1 432.5L196.2 398.6M75.8 442L105.8 430.3L135.9 432.1L166.1 435.1L196.2 375.1M75.8 429.5L105.8 423.1L135.9 436L166.1 429.7L196.2 408.9M75.8 417.9L105.8 425.7L135.9 431.2L166.1 440.7L196.2 407.3M75.8 431.8L105.8 420L135.9 411.1L166.1 432.2L196.2 394.3M75.8 436.4L105.8 434.1L135.9 427.2L166.1 428.5L196.2 417.8M75.8 427.1L105.8 433.4L135.9 440.4L166.1 428.3L196.2 391.2M75.8 430.2L105.8 418.6L135.9 430.9L166.1 440.6L196.2 407.8M75.8 425.1L105.8 427.4L135.9 434L166.1 410.9L196.2 400.6M75.8 420L105.8 434L135.9 439.9L166.1 430.3L196.2 421M75.8 424.1L105.8 429.1L135.9 434L166.1 428.2L196.2 388.5M75.8 422L105.8 435.4L135.9 434L166.1 444.6L196.2 393.9M75.8 435.4L105.8 431.2L135.9 435.5L166.1 442L196.2 398.2M75.8 423.4L105.8 433.6L135.9 426.9L166.1 433.8L196.2 398.9M75.8 431L105.8 430.5L135.9 439.2L166.1 435.1L196.2 390.3M75.8 428.8L105.8 430.6L135.9 433.2L166.1 438.5L196.2 378.2M75.8 423.4L105.8 429.1L135.9 438.8L166.1 434.1L196.2 386.5M75.8 422.3L105.8 436.6L135.9 437L166.1 428.3L196.2 366.4M75.8 427.2L105.8 434.5L135.9 419.5L166.1 428.5L196.2 387.4M75.8 419.9L105.8 431.7L135.9 428.3L166.1 431.4L196.2 395.1M75.8 433.1L105.8 423.2L135.9 426.9L166.1 429.2L196.2 399.3M75.8 439.3L105.8 431.7L135.9 429.9L166.1 433.7L196.2 403M75.8 425.3L105.8 424.5L135.9 427.9L166.1 414.6L196.2 401M75.8 427.5L105.8 427.3L135.9 438.6L166.1 420.7L196.2 396.8M75.8 437L105.8 424.7L135.9 429.5L166.1 430.8L196.2 404.8M75.8 423.1L105.8 423.2L135.9 438.7L166.1 416.5L196.2 398.3M75.8 427L105.8 444.7L135.9 429.7L166.1 418.7L196.2 375.3M75.8 430.1L105.8 430.1L135.9 419.8L166.1 430.9L196.2 411.6M75.8 423.8L105.8 433.4L135.9 426.7L166.1 432.4L196.2 413.9M75.8 430.1L105.8 430.1L135.9 432.4L166.1 424.2L196.2 411.9M75.8 423L105.8 432.6L135.9 429.7L166.1 431.6L196.2 386.9M75.8 431.4L105.8 431.7L135.9 420.9L166.1 432L196.2 415.3M75.8 423.4L105.8 440.4L135.9 432.9L166.1 427.6L196.2 401.3M75.8 437.2L105.8 417.9L135.9 426.3L166.1 437.3L196.2 409.9M75.8 423.5L105.8 425.1L135.9 426L166.1 428.2L196.2 404.3M75.8 436.4L105.8 410.9L135.9 424.3L166.1 426.1L196.2 376.8M75.8 429.6L105.8 430.6L135.9 429.2L166.1 438.6L196.2 391.6M75.8 420.3L105.8 429L135.9 433.1L166.1 431.4L196.2 375.7M75.8 430L105.8 429.6L135.9 442.3L166.1 430.6L196.2 399.5M75.8 424L105.8 429.9L135.9 434L166.1 446L196.2 406.2M75.8 445.6L105.8 436.9L135.9 440.6L166.1 431.1L196.2 397.3M75.8 427.8L105.8 414.8L135.9 434L166.1 427.4L196.2 391.6M75.8 448.6L105.8 431.2L135.9 436.9L166.1 430.5L196.2 389M75.8 430.4L105.8 433.1L135.9 434.5L166.1 430.9L196.2 404.9M75.8 427.4L105.8 431.5L135.9 427.3L166.1 425.6L196.2 393M75.8 431.5L105.8 423.2L135.9 427.5L166.1 428.6L196.2 377.2M75.8 428.3L105.8 430.4L135.9 430.6L166.1 423.2L196.2 386M75.8 446.3L105.8 430.9L135.9 433.7L166.1 434.2L196.2 378M75.8 419.9L105.8 424L135.9 420.6L166.1 428.2L196.2 390.5M75.8 430.4L105.8 430.1L135.9 428.5L166.1 430L196.2 393.2M75.8 431.8L105.8 425.2L135.9 423.8L166.1 428.5L196.2 395.2M75.8 423.5L105.8 433.5L135.9 436.4L166.1 424.5L196.2 408.4M75.8 422.9L105.8 434.6L135.9 433.6L166.1 425.2L196.2 392.2M75.8 436.3L105.8 425L135.9 434.6L166.1 436L196.2 391.9M75.8 434.9L105.8 426.2L135.9 429.4L166.1 425.2L196.2 406.5M75.8 431.2L105.8 431.1L135.9 436.8L166.1 431.4L196.2 377.3M75.8 430.5L105.8 420.4L135.9 432.5L166.1 429.2L196.2 376.2M75.8 429.2L105.8 434.1L135.9 431.3L166.1 424.4L196.2 399.9M75.8 422.7L105.8 435.9L135.9 432.5L166.1 437L196.2 390.1M75.8 427.7L105.8 429.3L135.9 441.8L166.1 429.7L196.2 407.1M75.8 413.9L105.8 416.5L135.9 439.6L166.1 434L196.2 392.1M75.8 435.4L105.8 427.6L135.9 447.4L166.1 431.5L196.2 400.6M75.8 431.8L105.8 431.6L135.9 432.8L166.1 437.1L196.2 407.1M75.8 436.1L105.8 434L135.9 434.3L166.1 434.3L196.2 404.2M75.8 437.2L105.8 438.8L135.9 431.2L166.1 428.9L196.2 393.6M75.8 430.5L105.8 429.9L135.9 433.4L166.1 435.9L196.2 388.3M75.8 431L105.8 433.9L135.9 432L166.1 429.3L196.2 407.2M75.8 433.8L105.8 432.7L135.9 436.2L166.1 430.4L196.2 405.4M75.8 444.3L105.8 428.6L135.9 431.5L166.1 425.4L196.2 387.6M75.8 434.2L105.8 432.5L135.9 427.1L166.1 427.2L196.2 387M75.8 433.4L105.8 424.9L135.9 419.8L166.1 432.7L196.2 394.2M75.8 428.5L105.8 430.4L135.9 426.1L166.1 429.1L196.2 368.9M75.8 445.2L105.8 421.5L135.9 423L166.1 434.1L196.2 377.6M75.8 426.8L105.8 433L135.9 434.8L166.1 420.7L196.2 396.5M75.8 429.4L105.8 424.6L135.9 435L166.1 433.4L196.2 407.6M75.8 422.2L105.8 427.1L135.9 427.8L166.1 442.2L196.2 388M75.8 447.4L105.8 414.6L135.9 430.6L166.1 429.8L196.2 413.3M75.8 425.8L105.8 430.7L135.9 436.3L166.1 431.3L196.2 398M75.8 426.9L105.8 429.6L135.9 427L166.1 432.5L196.2 396.8M75.8 438.1L105.8 429.4L135.9 442.8L166.1 433.8L196.2 398.1M75.8 423.3L105.8 431.5L135.9 428.7L166.1 424.6L196.2 385.5M75.8 436.1L105.8 426.9L135.9 439.7L166.1 429.8L196.2 404.8M75.8 430L105.8 430L135.9 443.1L166.1 426.1L196.2 388M75.8 422.5L105.8 432.6L135.9 429.2L166.1 440.9L196.2 403.6M75.8 431.9L105.8 435.4L135.9 430.9L166.1 433.6L196.2 399.9M75.8 427.8L105.8 433.2L135.9 429.5L166.1 443.1L196.2 396.3M75.8 426.7L105.8 422.3L135.9 433.4L166.1 432.1L196.2 398.1M75.8 418.2L105.8 424.6L135.9 427L166.1 431.7L196.2 387.9M75.8 423.5L105.8 431.9L135.9 433.7L166.1 435.5L196.2 405.8M75.8 434L105.8 430.2L135.9 427.7L166.1 444.5L196.2 405.9M75.8 423.9L105.8 423.6L135.9 426L166.1 426.9L196.2 375.1M75.8 434.1L105.8 427.6L135.9 434.2L166.1 436.9L196.2 379.5M75.8 430.7L105.8 435.4L135.9 433.8L166.1 438.3L196.2 370.7M75.8 425.2L105.8 424.6L135.9 436.1L166.1 431.7L196.2 400.7M75.8 432.4L105.8 436.3L135.9 424.6L166.1 429.8L196.2 374.6M75.8 425.9L105.8 430.6L135.9 431.2L166.1 435.8L196.2 387.4M75.8 435.6L105.8 436L135.9 421.8L166.1 444.4L196.2 377.2M75.8 430.6L105.8 444.8L135.9 434.1L166.1 430L196.2 398.9M75.8 432.2L105.8 427L135.9 438.4L166.1 437L196.2 420.1M75.8 418L105.8 443.5L135.9 437.3L166.1 454.6L196.2 395.1M75.8 425.5L105.8 423.8L135.9 430.8L166.1 429.4L196.2 392.3M75.8 435.7L105.8 435.8L135.9 424.7L166.1 432.4L196.2 410.4M75.8 433.2L105.8 429.7L135.9 435.1L166.1 437.4L196.2 384.8M75.8 426.9L105.8 429.8L135.9 433.8L166.1 434.3L196.2 410.6M75.8 422.4L105.8 424.2L135.9 429.6L166.1 421.9L196.2 402.5M75.8 433.4L105.8 424.7L135.9 432.9L166.1 433.8L196.2 396.5M75.8 431.4L105.8 438.5L135.9 430L166.1 428.4L196.2 385.5M75.8 423.9L105.8 428L135.9 427L166.1 440.2L196.2 387.3M75.8 435.4L105.8 428.8L135.9 429L166.1 434.8L196.2 358.8M75.8 425L105.8 430L135.9 437.5L166.1 436.2L196.2 397.5M75.8 428.8L105.8 422.1L135.9 424.8L166.1 431.6L196.2 384.9M75.8 416.9L105.8 433.1L135.9 439.6L166.1 425.9L196.2 398.9M75.8 429.7L105.8 425.5L135.9 438.8L166.1 440.6L196.2 397M75.8 422.4L105.8 431.6L135.9 438.2L166.1 421.4L196.2 379.4M75.8 432.9L105.8 423.6L135.9 426.5L166.1 431.2L196.2 403.7M75.8 442L105.8 443.3L135.9 427.8L166.1 447.2L196.2 410.3M75.8 426.7L105.8 426.6L135.9 434.9L166.1 448.9L196.2 397.1M75.8 419.6L105.8 436L135.9 446.3L166.1 438.2L196.2 400.3M75.8 420.1L105.8 412.7L135.9 423.3L166.1 438.3L196.2 367.6M75.8 426.2L105.8 430.6L135.9 436.7L166.1 429.7L196.2 377.7M75.8 428.4L105.8 429.1L135.9 434.9L166.1 436.8L196.2 393.2M75.8 426.9L105.8 426.8L135.9 431.8L166.1 432.3L196.2 377.8M75.8 431.9L105.8 430.5L135.9 431.7L166.1 426.4L196.2 402.9M75.8 426.9L105.8 419.6L135.9 399.5L166.1 435L196.2 377.1M75.8 422.2L105.8 431.8L135.9 431.3L166.1 427.3L196.2 413.3M75.8 436.1L105.8 429.7L135.9 427.1L166.1 422.4L196.2 406.5M75.8 439.7L105.8 427L135.9 420.7L166.1 432.4L196.2 396.9M75.8 429.5L105.8 420.1L135.9 429.2L166.1 434.4L196.2 381.3M75.8 433.9L105.8 431.9L135.9 433L166.1 434.9L196.2 392M75.8 424.1L105.8 432.5L135.9 433.5L166.1 426.7L196.2 394.2M75.8 418.5L105.8 427.7L135.9 431.5L166.1 433.7L196.2 388.2M75.8 422.8L105.8 433.9L135.9 438.6L166.1 429.2L196.2 399.9M75.8 434.8L105.8 437.4L135.9 423.6L166.1 427.7L196.2 405.2M75.8 427.7L105.8 433.7L135.9 425.8L166.1 432.8L196.2 388.8M75.8 427.6L105.8 434.6L135.9 433.1L166.1 433.3L196.2 397.2M75.8 424.2L105.8 426.5L135.9 427.5L166.1 434.9L196.2 396.2M75.8 427.8L105.8 420.7L135.9 436.9L166.1 438.5L196.2 401.1M75.8 432.5L105.8 436L135.9 420L166.1 432.6L196.2 411.7M75.8 422.5L105.8 433.8L135.9 425.2L166.1 443.5L196.2 392.3M75.8 432.2L105.8 443L135.9 424.4L166.1 431.3L196.2 396.4M75.8 428.5L105.8 430L135.9 426.2L166.1 424.1L196.2 382.2M75.8 431.7L105.8 443.6L135.9 418.7L166.1 432.9L196.2 404.2M75.8 430.3L105.8 431.5L135.9 431.5L166.1 436.5L196.2 407.7M75.8 432.4L105.8 431.7L135.9 426.1L166.1 424.7L196.2 406M75.8 425.2L105.8 430.5L135.9 431.7L166.1 440.7L196.2 383.3M75.8 427.8L105.8 428.7L135.9 434.9L166.1 425.4L196.2 384M75.8 422.1L105.8 433.9L135.9 422.2L166.1 433.3L196.2 396.7M75.8 426.8L105.8 433.9L135.9 431.2L166.1 442.6L196.2 395.3M75.8 430.8L105.8 426.7L135.9 428.7L166.1 431.7L196.2 396.6M75.8 430.4L105.8 433.9L135.9 428.5L166.1 437.2L196.2 402.2M75.8 430.2L105.8 433.5L135.9 435.7L166.1 429.4L196.2 391.6M75.8 430.6L105.8 427.9L135.9 428L166.1 427.1L196.2 392.5M75.8 432.9L105.8 436.1L135.9 421.2L166.1 425.7L196.2 396.6M75.8 423.5L105.8 429.4L135.9 435.8L166.1 439L196.2 400.8M75.8 436.1L105.8 439.9L135.9 429.9L166.1 438.4L196.2 390.5M75.8 437.8L105.8 432.4L135.9 434.6L166.1 424.8L196.2 390.1M75.8 436L105.8 428.6L135.9 425.3L166.1 441.5L196.2 388.7M75.8 427.3L105.8 427.2L135.9 436.4L166.1 427.9L196.2 390.6M75.8 427.7L105.8 433.9L135.9 440.5L166.1 416L196.2 396M75.8 431L105.8 426.7L135.9 432.4L166.1 437.3L196.2 391.3M75.8 433.2L105.8 431.2L135.9 428L166.1 432.2L196.2 395.3M75.8 427.3L105.8 421.7L135.9 432.7L166.1 431.7L196.2 385.7M75.8 430.1L105.8 425.4L135.9 426.8L166.1 448.8L196.2 391.6M75.8 423.9L105.8 432.2L135.9 427.7L166.1 431.1L196.2 391.9M75.8 441.6L105.8 435.2L135.9 436.4L166.1 427.2L196.2 376.4M75.8 430.7L105.8 436.9L135.9 430.5L166.1 442.7L196.2 380.7M75.8 435L105.8 434.9L135.9 434.6L166.1 430.5L196.2 386.5M75.8 435L105.8 416.5L135.9 421.2L166.1 433.9L196.2 399.9M75.8 429L105.8 417.1L135.9 436.3L166.1 427L196.2 405.8M75.8 430.5L105.8 435.2L135.9 431.4L166.1 429.4L196.2 408.7M75.8 428.3L105.8 427.9L135.9 436.1L166.1 435L196.2 398.1M75.8 425.1L105.8 428.4L135.9 427.8L166.1 434.6L196.2 395.5M75.8 429.1L105.8 434.7L135.9 428.7L166.1 429.5L196.2 380.5M75.8 416.5L105.8 429.1L135.9 420.8L166.1 434.4L196.2 408.3M75.8 440.2L105.8 425.9L135.9 426.2L166.1 430L196.2 395.9M75.8 442.2L105.8 436.2L135.9 426.6L166.1 444.5L196.2 387.2M75.8 434.2L105.8 428.6L135.9 432L166.1 440.2L196.2 394.2M75.8 422.4L105.8 434.4L135.9 436.1L166.1 431.5L196.2 401.3M75.8 440.8L105.8 433.3L135.9 431.9L166.1 439.7L196.2 409.6M75.8 421.4L105.8 425.4L135.9 425.3L166.1 428.7L196.2 399.7M75.8 430.9L105.8 428.9L135.9 425.7L166.1 439.7L196.2 392.6M75.8 425L105.8 428.6L135.9 433.1L166.1 450.8L196.2 402.2M75.8 428.8L105.8 442.1L135.9 427.4L166.1 428.8L196.2 393.2M75.8 424.1L105.8 428.5L135.9 432.7L166.1 444.2L196.2 388.7M75.8 418.6L105.8 420L135.9 425.7L166.1 425.8L196.2 387M75.8 432.6L105.8 429.9L135.9 429.3L166.1 433.7L196.2 389.7M75.8 423L105.8 425.4L135.9 435.7L166.1 452.4L196.2 368M75.8 432.4L105.8 434.1L135.9 425.9L166.1 441.8L196.2 401.7M75.8 427.9L105.8 432.6L135.9 424.4L166.1 433.7L196.2 397.3M75.8 431.3L105.8 435L135.9 429.4L166.1 430.8L196.2 401.3M75.8 429L105.8 430.8L135.9 427.7L166.1 429.9L196.2 399.4M75.8 427.2L105.8 434.8L135.9 429.3L166.1 436.1L196.2 376M75.8 422.3L105.8 437.6L135.9 393.7L166.1 423.3L196.2 399M75.8 429.1L105.8 438.1L135.9 438.7L166.1 428.8L196.2 381.6M75.8 425.2L105.8 445.5L135.9 431.5L166.1 441.9L196.2 405.2M75.8 438.7L105.8 432.5L135.9 419.8L166.1 438.6L196.2 399.7M75.8 426.6L105.8 437.8L135.9 426.4L166.1 432.9L196.2 391.5M75.8 435.2L105.8 425.6L135.9 424.8L166.1 434.7L196.2 392.5M75.8 424.1L105.8 426.8L135.9 433.3L166.1 432.7L196.2 393M75.8 427L105.8 427.9L135.9 414.9L166.1 436.7L196.2 374.7M75.8 427.2L105.8 425.9L135.9 429.1L166.1 436.2L196.2 372M75.8 425.7L105.8 443L135.9 423L166.1 436.2L196.2 391.3M75.8 428.7L105.8 434.8L135.9 427.7L166.1 437.1L196.2 407.9M75.8 432.6L105.8 426.1L135.9 422.6L166.1 437.8L196.2 387.7M75.8 434.1L105.8 434.2L135.9 424L166.1 434.1L196.2 392.9M75.8 428.4L105.8 426L135.9 432.9L166.1 426.8L196.2 390.4M75.8 426.3L105.8 436.2L135.9 424.6L166.1 433.2L196.2 408.6M75.8 437L105.8 434.4L135.9 433.9L166.1 424.6L196.2 391.7M75.8 434.6L105.8 431.8L135.9 426.3L166.1 440.5L196.2 399.6M75.8 436.9L105.8 432.6L135.9 435.1L166.1 434.6L196.2 419.6M75.8 429.6L105.8 426.1L135.9 429.5L166.1 431.4L196.2 404.3M75.8 418.7L105.8 429.9L135.9 424L166.1 430.6L196.2 396.3M75.8 425.7L105.8 426.1L135.9 428.8L166.1 435.6L196.2 395M75.8 429.5L105.8 424.9L135.9 426.8L166.1 428L196.2 399.7M75.8 434.2L105.8 429.1L135.9 435.2L166.1 422.7L196.2 421.4M75.8 419.1L105.8 421.2L135.9 419.7L166.1 430.1L196.2 400.8M75.8 423.7L105.8 436.7L135.9 425.1L166.1 430L196.2 385M75.8 433.6L105.8 438.2L135.9 425L166.1 435.2L196.2 386.6M75.8 433.5L105.8 432.8L135.9 425.9L166.1 436.6L196.2 389M75.8 415L105.8 438.3L135.9 428.8L166.1 436.7L196.2 393.6M75.8 430L105.8 432.5L135.9 425.3L166.1 429.1L196.2 401.4M75.8 429.7L105.8 422.3L135.9 428.9L166.1 434.1L196.2 396.8M75.8 425L105.8 429.7L135.9 430.3L166.1 434.7L196.2 416.5M75.8 428.1L105.8 434.8L135.9 427.9L166.1 434.3L196.2 391.3M75.8 435.5L105.8 429.7L135.9 429.6L166.1 440.7L196.2 397.9M75.8 424.3L105.8 435.8L135.9 418.7L166.1 428.6L196.2 392.4M75.8 445.2L105.8 428L135.9 427.6L166.1 435.6L196.2 397.7M75.8 420.9L105.8 425.6L135.9 430.1L166.1 434.1L196.2 396.1M75.8 436.9L105.8 425.5L135.9 431.1L166.1 430.5L196.2 409.2M75.8 430.4L105.8 440.3L135.9 428.9L166.1 436.2L196.2 400.7M75.8 422.7L105.8 424.2L135.9 416.2L166.1 438.2L196.2 389.1M75.8 435.3L105.8 429.8L135.9 425.8L166.1 431.7L196.2 400.2M75.8 414.6L105.8 428.8L135.9 432.4L166.1 432.9L196.2 400.7M75.8 425.4L105.8 432.2L135.9 425.2L166.1 428.1L196.2 404.1M75.8 424.6L105.8 431.8L135.9 436.1L166.1 427.4L196.2 398.1M75.8 432.4L105.8 421.4L135.9 436.3L166.1 434.4L196.2 406.9M75.8 428.3L105.8 427.7L135.9 437.2L166.1 432.2L196.2 411M75.8 433L105.8 421.5L135.9 439.8L166.1 423L196.2 397.2M75.8 430.7L105.8 435.4L135.9 438.4L166.1 429.9L196.2 405M75.8 435.4L105.8 428.1L135.9 424.2L166.1 436L196.2 399.1M75.8 435.4L105.8 425.9L135.9 429.4L166.1 429.1L196.2 398M75.8 440L105.8 418.1L135.9 431.2L166.1 429.8L196.2 399.6M75.8 425L105.8 430.9L135.9 431L166.1 441.3L196.2 380.9M75.8 427L105.8 431.4L135.9 437.5L166.1 422L196.2 379.5M75.8 426.7L105.8 424.6L135.9 421.6L166.1 426.9L196.2 393M75.8 431.4L105.8 439L135.9 427.8L166.1 433.7L196.2 380.8M75.8 420L105.8 433L135.9 429.3L166.1 429.3L196.2 419.8M75.8 435.4L105.8 430.1L135.9 428.3L166.1 436.4L196.2 395.9M75.8 431.1L105.8 432.1L135.9 430L166.1 437.8L196.2 379.4M75.8 428.8L105.8 425.8L135.9 445.2L166.1 432.2L196.2 391.7M75.8 435.6L105.8 424.2L135.9 442.3L166.1 432.8L196.2 355M75.8 429.1L105.8 430.5L135.9 439.2L166.1 439.7L196.2 387.9M75.8 427.5L105.8 422.1L135.9 422.1L166.1 435.3L196.2 414.4M75.8 428L105.8 431.6L135.9 431.6L166.1 433.3L196.2 395.8M75.8 437.8L105.8 434.3L135.9 440.3L166.1 435.9L196.2 390M75.8 437.2L105.8 434.9L135.9 438.3L166.1 434.7L196.2 373.7" stroke="#cfcfcf" stroke-width="0.5" fill="none" stroke-linejoin="round"/>
<path d="M240.4 415.4L242.5 416.2L244.5 416.8L246.5 417.4L248.5 417.8L250.5 418.3L252.5 419.1L254.5 418.9L256.5 418.7L258.5 418.4L260.5 418.1L262.5 417.7L264.5 417.3L266.5 416.8L268.5 416.1L270.6 415.4L272.6 414.9L274.6 414.3L276.6 413.8L278.6 413.2L280.6 412.5L282.6 411.7L284.6 410.7L286.6 409.7L288.6 408.4L290.6 406.9L292.6 405.2L294.6 403.3L296.6 401.1L298.6 398.6L300.6 395.8L302.7 397.2L304.7 398.4L306.7 399.3L308.7 399.9L310.7 400.4L312.7 400.6L314.7 400.5L316.7 400.3L318.7 399.9L320.7 399.3L322.7 398.6L324.7 397.7L326.7 396.7L328.7 395.5L330.8 394.3L332.8 397L334.8 399.6L336.8 402L338.8 404.3L340.8 406.4L342.8 408.3L344.8 410.1L346.8 411.8L348.8 413.2L350.8 414.5L352.8 415.6L354.8 416.6L356.8 417.4L358.8 418L360.9 418.4L360.9 450.1L358.8 447.2L356.8 444.5L354.8 441.9L352.8 439.6L350.8 437.4L348.8 435.1L346.8 433L344.8 431.8L342.8 430.3L340.8 428.9L338.8 427.7L336.8 426.6L334.8 425.7L332.8 425L330.8 424.4L328.7 424.2L326.7 424L324.7 424L322.7 424.1L320.7 423.5L318.7 422.6L316.7 424.5L314.7 425.5L312.7 426.2L310.7 428.4L308.7 429.8L306.7 431.5L304.7 433.4L302.7 435.6L300.6 438L298.6 436.3L296.6 434.9L294.6 433.8L292.6 433L290.6 432.4L288.6 432L286.6 431.9L284.6 431.9L282.6 432.1L280.6 431.8L278.6 432.7L276.6 432.1L274.6 432.5L272.6 433.7L270.6 433.7L268.5 433.2L266.5 433.6L264.5 433.4L262.5 433L260.5 432.8L258.5 432.7L256.5 432.7L254.5 432.7L252.5 432.9L250.5 433.2L248.5 433.7L246.5 434.2L244.5 434.8L242.5 435.6L240.4 436.5 Z" fill="#cfcfcf"/>
<path d="M240.4 426.7L270.6 424.9L300.6 415.6L330.8 414.5L360.9 428.3M240.4 427.8L270.6 422.1L300.6 421.5L330.8 403.4L360.9 441M240.4 434.9L270.6 427.9L300.6 422.1L330.8 399.8L360.9 439.1M240.4 432.8L270.6 417.2L300.6 407.2L330.8 408L360.9 432.5M240.4 426.2L270.6 432.4L300.6 401L330.8 405.1L360.9 440.4M240.4 423.4L270.6 431.3L300.6 424.1L330.8 415.7L360.9 422.2M240.4 433.4L270.6 429.5L300.6 407.8L330.8 414.8L360.9 437.1M240.4 432L270.6 420.9L300.6 419.7L330.8 385.2L360.9 438.3M240.4 428L270.6 428.3L300.6 426.5L330.8 411.4L360.9 435.6M240.4 422L270.6 423.1L300.6 426.2L330.8 405L360.9 437.6M240.4 425.8L270.6 422.8L300.6 417.6L330.8 412.5L360.9 440.2M240.4 432.3L270.6 426L300.6 409.9L330.8 406.8L360.9 433.7M240.4 420.4L270.6 422L300.6 392.7L330.8 409.6L360.9 433.7M240.4 425.1L270.6 431.5L300.6 425.3L330.8 417.2L360.9 438.1M240.4 427.1L270.6 428.4L300.6 409.1L330.8 410.8L360.9 437M240.4 422.4L270.6 426.2L300.6 425.7L330.8 407.3L360.9 422.7M240.4 423.2L270.6 426.6L300.6 417.4L330.8 402.8L360.9 428.1M240.4 430.4L270.6 422.2L300.6 416.9L330.8 422L360.9 435.7M240.4 420.8L270.6 426.6L300.6 405.4L330.8 400.3L360.9 440.2M240.4 425.6L270.6 424.5L300.6 415.4L330.8 409.9L360.9 431.6M240.4 419.8L270.6 425.2L300.6 426.8L330.8 405.1L360.9 438.6M240.4 423.3L270.6 426.6L300.6 410.7L330.8 388.2L360.9 440.7M240.4 425.7L270.6 430.9L300.6 416.6L330.8 411.5L360.9 426.5M240.4 421L270.6 426.4L300.6 406.9L330.8 414.5L360.9 423.8M240.4 426.8L270.6 414.6L300.6 413.8L330.8 407.1L360.9 428M240.4 426.4L270.6 423L300.6 402.9L330.8 409.3L360.9 436.5M240.4 420.6L270.6 425L300.6 434.2L330.8 397.8L360.9 426M240.4 428.2L270.6 423.8L300.6 421.4L330.8 412.3L360.9 427.8M240.4 426.6L270.6 431.9L300.6 426L330.8 406.5L360.9 428M240.4 419.6L270.6 425.2L300.6 392.8L330.8 406.3L360.9 437.7M240.4 424L270.6 419.5L300.6 391.1L330.8 404.9L360.9 425.7M240.4 418.7L270.6 426.2L300.6 427.7L330.8 417L360.9 438.9M240.4 429.7L270.6 430.7L300.6 417.2L330.8 407.6L360.9 432.5M240.4 428.6L270.6 425.9L300.6 419.1L330.8 400.6L360.9 433.7M240.4 419.5L270.6 424.6L300.6 413.9L330.8 412.2L360.9 422.4M240.4 423L270.6 433L300.6 427.9L330.8 406.5L360.9 437.1M240.4 423.2L270.6 421L300.6 419.9L330.8 421.6L360.9 427.2M240.4 428.3L270.6 427.7L300.6 401L330.8 415.1L360.9 431.2M240.4 425.3L270.6 420.7L300.6 417L330.8 411L360.9 430.6M240.4 435.6L270.6 427.1L300.6 416.4L330.8 411.7L360.9 441.3M240.4 426.2L270.6 433.7L300.6 422.1L330.8 403L360.9 434.6M240.4 432.2L270.6 421.3L300.6 422.3L330.8 409.4L360.9 434.8M240.4 426.9L270.6 427.8L300.6 427.7L330.8 401.7L360.9 440.6M240.4 430.7L270.6 419.5L300.6 425L330.8 411.8L360.9 434.6M240.4 424.5L270.6 425.8L300.6 404.9L330.8 409.3L360.9 431.6M240.4 425.9L270.6 426.2L300.6 439.1L330.8 404.8L360.9 430.9M240.4 414.6L270.6 425.7L300.6 420.3L330.8 409.6L360.9 440.3M240.4 426.5L270.6 423.1L300.6 417.3L330.8 410.3L360.9 428M240.4 426.1L270.6 420.7L300.6 410.7L330.8 413.6L360.9 426.5M240.4 425L270.6 425.3L300.6 425.2L330.8 405.5L360.9 437.9M240.4 429L270.6 430.2L300.6 411.7L330.8 416.2L360.9 434.9M240.4 427L270.6 431.4L300.6 403.1L330.8 411.9L360.9 429.6M240.4 424.7L270.6 423.9L300.6 414.2L330.8 413.6L360.9 442.6M240.4 426.4L270.6 421.7L300.6 424.1L330.8 400.6L360.9 426.2M240.4 423.5L270.6 426.8L300.6 401.9L330.8 407.1L360.9 432.9M240.4 430.4L270.6 413.1L300.6 412.9L330.8 399.3L360.9 449.9M240.4 427.5L270.6 427.2L300.6 411.5L330.8 423.1L360.9 426.5M240.4 429.1L270.6 427.9L300.6 403.7L330.8 401.2L360.9 433.4M240.4 431.5L270.6 426.9L300.6 415.7L330.8 408.4L360.9 433.9M240.4 430.1L270.6 421.5L300.6 423.7L330.8 402.9L360.9 445.5M240.4 426.3L270.6 431.2L300.6 422.5L330.8 411.7L360.9 426.1M240.4 431.1L270.6 422.2L300.6 412.5L330.8 429L360.9 428.9M240.4 422.5L270.6 428.2L300.6 428.1L330.8 413.3L360.9 434.8M240.4 424.5L270.6 422.3L300.6 410.8L330.8 407.6L360.9 433.7M240.4 423.5L270.6 421.3L300.6 427.3L330.8 414.6L360.9 448.6M240.4 424.3L270.6 428L300.6 423.3L330.8 414.8L360.9 439M240.4 429.7L270.6 425.8L300.6 416.4L330.8 416L360.9 421.7M240.4 424.8L270.6 419.3L300.6 422.6L330.8 402.5L360.9 442.6M240.4 423L270.6 422.1L300.6 392.9L330.8 411L360.9 434.6M240.4 431L270.6 429.5L300.6 415L330.8 414.2L360.9 431.8M240.4 428L270.6 429.5L300.6 441.4L330.8 403.3L360.9 439.6M240.4 427.2L270.6 420.6L300.6 422.8L330.8 413.8L360.9 435.4M240.4 427.1L270.6 424.5L300.6 412.3L330.8 410.7L360.9 444.6M240.4 424.4L270.6 422.3L300.6 415.5L330.8 409.6L360.9 439.9M240.4 419.4L270.6 425.3L300.6 408.1L330.8 416.2L360.9 428.9M240.4 439.6L270.6 422.3L300.6 420.7L330.8 407.6L360.9 449.1M240.4 425L270.6 424L300.6 406.9L330.8 408.5L360.9 439.1M240.4 426.9L270.6 425.5L300.6 425.1L330.8 404.6L360.9 440.1M240.4 432.2L270.6 424.3L300.6 414.1L330.8 410.8L360.9 439.3M240.4 426.4L270.6 423L300.6 427.6L330.8 418.7L360.9 431.3M240.4 422.8L270.6 429.9L300.6 416.9L330.8 415.9L360.9 428.5M240.4 423.5L270.6 424L300.6 417.7L330.8 414.7L360.9 437.7M240.4 424.6L270.6 431L300.6 421.3L330.8 417L360.9 430.4M240.4 426.5L270.6 431.5L300.6 401L330.8 409.5L360.9 437.7M240.4 433.2L270.6 425.8L300.6 420.2L330.8 408.1L360.9 423.1M240.4 430.4L270.6 428.5L300.6 421.5L330.8 403.3L360.9 436.5M240.4 423.8L270.6 417.4L300.6 419.3L330.8 396.1L360.9 447.6M240.4 432.7L270.6 426.2L300.6 426.7L330.8 395.1L360.9 443.2M240.4 428L270.6 422L300.6 423.5L330.8 406.9L360.9 435.9M240.4 424.3L270.6 426.4L300.6 429.5L330.8 412.2L360.9 431.3M240.4 421.1L270.6 420.8L300.6 416.6L330.8 395.1L360.9 419.7M240.4 422.2L270.6 421.6L300.6 412.9L330.8 415.5L360.9 424.7M240.4 425.8L270.6 427.5L300.6 408.8L330.8 411.1L360.9 441.9M240.4 459.1L270.6 429.3L300.6 422.3L330.8 413.6L360.9 438.6M240.4 427.4L270.6 427.5L300.6 418.7L330.8 403.1L360.9 432.2M240.4 419.8L270.6 423.2L300.6 414.4L330.8 399.7L360.9 437M240.4 427.6L270.6 422.8L300.6 412.2L330.8 409L360.9 429.8M240.4 426.5L270.6 427.2L300.6 408.5L330.8 414.7L360.9 434.2M240.4 429.1L270.6 412L300.6 383.7L330.8 398.7L360.9 438.2M240.4 427.3L270.6 419.5L300.6 407.3L330.8 420L360.9 436.8M240.4 422.1L270.6 425.4L300.6 417.1L330.8 403.7L360.9 425.5M240.4 431.7L270.6 422.6L300.6 401.3L330.8 407.9L360.9 429.1M240.4 431.8L270.6 421.1L300.6 409.7L330.8 402.9L360.9 437.2M240.4 429L270.6 430L300.6 404.8L330.8 425.1L360.9 426.4M240.4 425.9L270.6 418.8L300.6 415.7L330.8 406.7L360.9 431.3M240.4 423.7L270.6 427.7L300.6 421.1L330.8 406.2L360.9 432M240.4 422.9L270.6 427.8L300.6 419.5L330.8 421.8L360.9 439.1M240.4 422.4L270.6 426.1L300.6 424.2L330.8 417.4L360.9 436.1M240.4 425.9L270.6 426L300.6 418.9L330.8 404.6L360.9 435.9M240.4 428.7L270.6 423.3L300.6 424.5L330.8 419.2L360.9 451.2M240.4 425.1L270.6 421.8L300.6 406.4L330.8 406.9L360.9 431M240.4 428L270.6 428.8L300.6 424.8L330.8 411.8L360.9 426.7M240.4 427.2L270.6 429.9L300.6 414.2L330.8 416.2L360.9 434M240.4 418.5L270.6 432.9L300.6 422.1L330.8 411.2L360.9 434M240.4 430.9L270.6 429.2L300.6 427.7L330.8 402.2L360.9 452.3M240.4 420L270.6 436.9L300.6 404.2L330.8 409.9L360.9 445.1M240.4 428.7L270.6 427.3L300.6 405.4L330.8 409.7L360.9 436.9M240.4 422.7L270.6 428.2L300.6 422.4L330.8 382.2L360.9 436.3M240.4 420.2L270.6 423.6L300.6 413.9L330.8 398.7L360.9 416.9M240.4 432.1L270.6 427.9L300.6 433.2L330.8 409.8L360.9 437.7M240.4 421.1L270.6 417.5L300.6 426L330.8 402.3L360.9 432.8M240.4 453.5L270.6 442.5L300.6 418.7L330.8 391.2L360.9 434.2M240.4 436.2L270.6 419.3L300.6 413.6L330.8 412.8L360.9 434.6M240.4 423.7L270.6 423L300.6 420.3L330.8 411.4L360.9 433.8M240.4 414.8L270.6 425.7L300.6 412.7L330.8 421.8L360.9 428.6M240.4 425.3L270.6 429.6L300.6 416.1L330.8 398.8L360.9 435M240.4 422.7L270.6 425.5L300.6 422.4L330.8 406L360.9 436M240.4 428.1L270.6 430.6L300.6 428.8L330.8 402.8L360.9 431.4M240.4 419.4L270.6 424.1L300.6 407.2L330.8 412.7L360.9 428.2M240.4 424.6L270.6 422.1L300.6 412.3L330.8 412.6L360.9 431.9M240.4 421.3L270.6 428L300.6 417.9L330.8 411.1L360.9 438.5M240.4 427.5L270.6 427.3L300.6 421.8L330.8 419L360.9 423.3M240.4 426.1L270.6 425.7L300.6 419.9L330.8 412.9L360.9 436.6M240.4 431.3L270.6 421.1L300.6 421.2L330.8 400.7L360.9 428.8M240.4 423.6L270.6 425.8L300.6 407.1L330.8 405.6L360.9 425.7M240.4 428L270.6 421.1L300.6 417.7L330.8 397.2L360.9 436.8M240.4 420.1L270.6 422.4L300.6 424.9L330.8 409.7L360.9 443.6M240.4 422.2L270.6 420.6L300.6 407.3L330.8 409.2L360.9 426.6M240.4 434.2L270.6 421L300.6 423.6L330.8 407L360.9 434M240.4 423.7L270.6 428.7L300.6 410.8L330.8 427.3L360.9 418M240.4 435.2L270.6 432.9L300.6 418.2L330.8 409.6L360.9 428.1M240.4 421.1L270.6 416.6L300.6 418.3L330.8 413.8L360.9 436.2M240.4 420.8L270.6 420.9L300.6 418.2L330.8 404.7L360.9 446.6M240.4 436.8L270.6 428.3L300.6 398.5L330.8 399.8L360.9 431.9M240.4 425.1L270.6 429L300.6 420.7L330.8 418.8L360.9 451.5M240.4 431.2L270.6 419.9L300.6 399.8L330.8 407.4L360.9 437.3M240.4 434.4L270.6 423.9L300.6 402.2L330.8 416.3L360.9 436.6M240.4 419.8L270.6 420.3L300.6 413.6L330.8 406.7L360.9 428.6M240.4 423.8L270.6 418.1L300.6 417.6L330.8 417.4L360.9 438.9M240.4 427L270.6 431.5L300.6 419L330.8 411.7L360.9 436.5M240.4 423.2L270.6 424.4L300.6 420.5L330.8 407.9L360.9 432M240.4 422.1L270.6 426.8L300.6 423.5L330.8 396.7L360.9 438.1M240.4 424.1L270.6 427L300.6 410.3L330.8 410.9L360.9 426.9M240.4 421.3L270.6 419.8L300.6 415.6L330.8 402.5L360.9 441.8M240.4 424.1L270.6 425.6L300.6 413.6L330.8 409.9L360.9 435.1M240.4 430.8L270.6 430.8L300.6 407L330.8 406.6L360.9 423.6M240.4 418.6L270.6 421.8L300.6 413.8L330.8 426.9L360.9 438M240.4 429.7L270.6 419.9L300.6 421.7L330.8 407.5L360.9 437.6M240.4 426.7L270.6 420.5L300.6 427.1L330.8 427.8L360.9 417.5M240.4 422.6L270.6 426.3L300.6 411.9L330.8 416.3L360.9 440M240.4 428.4L270.6 429.1L300.6 425.4L330.8 409.6L360.9 432.5M240.4 419.6L270.6 422.5L300.6 389.7L330.8 402.2L360.9 433.8M240.4 431.2L270.6 426.1L300.6 411.5L330.8 411.3L360.9 434M240.4 424.6L270.6 424L300.6 397.1L330.8 417L360.9 426.2M240.4 426.4L270.6 423.7L300.6 419.5L330.8 418.3L360.9 434.2M240.4 422.2L270.6 419.5L300.6 418L330.8 410.9L360.9 434.5M240.4 422.7L270.6 414.2L300.6 407.8L330.8 413.4L360.9 430.8M240.4 422.1L270.6 426.6L300.6 427.1L330.8 394.4L360.9 432.9M240.4 430.7L270.6 423.7L300.6 420.8L330.8 413L360.9 441.3M240.4 426.9L270.6 428.9L300.6 414.6L330.8 400.7L360.9 434.1M240.4 418.3L270.6 421.4L300.6 403.8L330.8 410L360.9 440.4M240.4 427.9L270.6 426.1L300.6 421.6L330.8 428.3L360.9 429.1M240.4 433.1L270.6 431L300.6 418.1L330.8 408L360.9 444.8M240.4 447.8L270.6 418.4L300.6 414.9L330.8 411.4L360.9 437.3M240.4 426.9L270.6 430.9L300.6 406L330.8 409.9L360.9 421.8M240.4 429.1L270.6 428.5L300.6 418.3L330.8 401.3L360.9 450.2M240.4 417.9L270.6 431.6L300.6 425.3L330.8 418.8L360.9 431.2M240.4 423.7L270.6 428L300.6 401.6L330.8 406.7L360.9 441M240.4 420.7L270.6 422.3L300.6 422.9L330.8 404.5L360.9 425.6M240.4 423.1L270.6 428.3L300.6 423.8L330.8 404.4L360.9 436.5M240.4 428.2L270.6 418.7L300.6 411.9L330.8 407.9L360.9 430.7M240.4 424.6L270.6 430L300.6 414.3L330.8 402.1L360.9 436M240.4 425.4L270.6 425.1L300.6 405.4L330.8 408.4L360.9 445.5M240.4 425.5L270.6 422L300.6 419.6L330.8 401.5L360.9 441.6M240.4 427.2L270.6 427.9L300.6 399.2L330.8 401.4L360.9 433.1M240.4 427.3L270.6 430.8L300.6 421.8L330.8 399.1L360.9 429.1M240.4 427L270.6 440.6L300.6 411.2L330.8 406.7L360.9 433.7M240.4 426.9L270.6 421.7L300.6 402.9L330.8 409L360.9 432.8M240.4 426.9L270.6 416.7L300.6 419.8L330.8 402.3L360.9 430.1M240.4 425.2L270.6 422.8L300.6 407.6L330.8 403.2L360.9 430.6M240.4 427.1L270.6 424.1L300.6 406.4L330.8 412.3L360.9 450.3M240.4 430.3L270.6 423.9L300.6 424.3L330.8 407.5L360.9 435M240.4 422.3L270.6 427.5L300.6 440.3L330.8 404.5L360.9 436.9M240.4 432.5L270.6 421L300.6 413.3L330.8 414.6L360.9 430.3M240.4 417.6L270.6 421.5L300.6 422L330.8 410.8L360.9 435.4M240.4 427.3L270.6 410.9L300.6 414.3L330.8 417.3L360.9 432.1M240.4 425.6L270.6 426.7L300.6 427.5L330.8 414.5L360.9 428.9M240.4 427.9L270.6 428.1L300.6 422.7L330.8 416L360.9 432.3M240.4 427.3L270.6 423.1L300.6 417.4L330.8 410.8L360.9 445.5M240.4 422L270.6 426.2L300.6 426.4L330.8 414.2L360.9 435.2M240.4 434.6L270.6 421.4L300.6 419.1L330.8 414.9L360.9 433.4M240.4 425L270.6 425.7L300.6 403.9L330.8 406.5L360.9 432.5M240.4 434.5L270.6 426.7L300.6 423.8L330.8 401.1L360.9 431.6M240.4 431.4L270.6 423.4L300.6 430.2L330.8 416L360.9 428.4M240.4 428L270.6 423.1L300.6 425.3L330.8 406.7L360.9 438.5M240.4 426.9L270.6 425.6L300.6 406.8L330.8 416.7L360.9 431.2M240.4 432.2L270.6 418.1L300.6 414.4L330.8 416.5L360.9 440.3M240.4 422.8L270.6 421.3L300.6 413.5L330.8 413.5L360.9 437.5M240.4 421.1L270.6 426.4L300.6 416.5L330.8 397.7L360.9 430.4M240.4 429.2L270.6 423L300.6 413.5L330.8 408.9L360.9 435.9M240.4 425.3L270.6 424.4L300.6 414.2L330.8 411.2L360.9 429.1M240.4 414.2L270.6 422.7L300.6 427.3L330.8 409.6L360.9 453.5M240.4 421.6L270.6 423.2L300.6 424L330.8 411.3L360.9 421.6M240.4 425L270.6 416.4L300.6 413.9L330.8 420.9L360.9 433.6M240.4 428.2L270.6 424.1L300.6 417.4L330.8 399.4L360.9 445.1M240.4 423.6L270.6 428.4L300.6 432L330.8 407.1L360.9 434.9M240.4 429.6L270.6 424L300.6 406.2L330.8 406.1L360.9 428.4M240.4 424.8L270.6 429.5L300.6 386.7L330.8 410.2L360.9 428.5M240.4 423.8L270.6 427L300.6 424.4L330.8 398.5L360.9 436.6M240.4 430.2L270.6 429.6L300.6 428.8L330.8 411.1L360.9 426.7M240.4 416.1L270.6 422.1L300.6 419.8L330.8 411.1L360.9 436.7M240.4 413.9L270.6 431L300.6 427.3L330.8 410.3L360.9 437.8M240.4 428.1L270.6 424.7L300.6 423.1L330.8 412.2L360.9 427.5M240.4 428.1L270.6 428.6L300.6 418.1L330.8 407.5L360.9 439.8M240.4 418.8L270.6 426.5L300.6 428.7L330.8 410.9L360.9 437.5M240.4 421.6L270.6 432.9L300.6 415.9L330.8 412.2L360.9 429M240.4 425.4L270.6 424.3L300.6 428.3L330.8 405L360.9 417.6M240.4 424L270.6 424.5L300.6 423L330.8 413.2L360.9 430.7M240.4 420L270.6 429.6L300.6 421.7L330.8 402.9L360.9 429.2M240.4 442.1L270.6 432.3L300.6 428.1L330.8 404.7L360.9 438M240.4 424.8L270.6 429.6L300.6 430.5L330.8 410.6L360.9 432.5M240.4 429.5L270.6 422L300.6 442.5L330.8 402.1L360.9 427.8M240.4 436.7L270.6 424.9L300.6 405.7L330.8 408.9L360.9 438M240.4 427.3L270.6 417.1L300.6 415.2L330.8 399.7L360.9 432.5M240.4 428L270.6 431.3L300.6 412.9L330.8 408.7L360.9 427.1M240.4 425.7L270.6 426.8L300.6 421.2L330.8 402.3L360.9 438.3M240.4 429L270.6 431.4L300.6 422.7L330.8 407.6L360.9 436.1M240.4 432.7L270.6 419.5L300.6 428.8L330.8 416.8L360.9 435.5M240.4 422.1L270.6 429.8L300.6 401L330.8 407.5L360.9 429.3M240.4 418.4L270.6 423.5L300.6 410.5L330.8 402.3L360.9 435.5M240.4 423.6L270.6 425.2L300.6 420.4L330.8 415.1L360.9 439.4M240.4 438.8L270.6 428.5L300.6 417.2L330.8 414L360.9 448.9M240.4 421L270.6 438.8L300.6 426.8L330.8 409.6L360.9 443.9M240.4 426.4L270.6 425.9L300.6 422.2L330.8 409.4L360.9 440.3M240.4 423.4L270.6 429L300.6 407.1L330.8 423.7L360.9 436M240.4 423.7L270.6 424L300.6 413.4L330.8 409.2L360.9 417.6M240.4 422L270.6 422.3L300.6 407.7L330.8 411.2L360.9 431.5M240.4 431.6L270.6 420.9L300.6 421.4L330.8 421.1L360.9 437.5M240.4 422.9L270.6 427.9L300.6 415.1L330.8 417.6L360.9 430.3M240.4 428L270.6 429.6L300.6 404.4L330.8 414.6L360.9 434.8M240.4 426L270.6 428.6L300.6 427.8L330.8 407.2L360.9 435.2M240.4 426.6L270.6 423.6L300.6 440.3L330.8 410.8L360.9 445.4M240.4 431.4L270.6 427.4L300.6 413.1L330.8 414.4L360.9 434.9M240.4 434.4L270.6 422.3L300.6 426.3L330.8 415L360.9 425.4M240.4 425.5L270.6 433.6L300.6 402.6L330.8 411.1L360.9 429.8M240.4 422.3L270.6 427L300.6 418.9L330.8 411.2L360.9 437.5M240.4 427.2L270.6 426L300.6 414.1L330.8 421.4L360.9 439.3M240.4 421.7L270.6 411.4L300.6 412.1L330.8 398.2L360.9 427.3M240.4 423.6L270.6 432.7L300.6 429.7L330.8 408.1L360.9 434.4M240.4 421.3L270.6 417.9L300.6 414L330.8 422.5L360.9 429.8M240.4 426.4L270.6 423.5L300.6 401.1L330.8 407.6L360.9 429.5M240.4 432.7L270.6 424L300.6 396L330.8 399.5L360.9 435.8M240.4 428.2L270.6 416.1L300.6 428.3L330.8 415.6L360.9 440.1M240.4 426.1L270.6 424.9L300.6 413.5L330.8 410.2L360.9 434.4M240.4 427.6L270.6 426L300.6 411.6L330.8 403.3L360.9 438.4M240.4 427.5L270.6 420L300.6 415.6L330.8 408.8L360.9 418.9M240.4 423L270.6 428.7L300.6 420.2L330.8 408.7L360.9 438.2M240.4 426.7L270.6 426.6L300.6 428.8L330.8 406.2L360.9 434.7M240.4 431.5L270.6 425.9L300.6 416.4L330.8 418.5L360.9 432.2M240.4 432.3L270.6 419.5L300.6 411.8L330.8 405.5L360.9 421.6M240.4 420.5L270.6 426.9L300.6 412L330.8 410L360.9 432.9M240.4 424.7L270.6 417.6L300.6 442.1L330.8 406.4L360.9 450.1M240.4 418.1L270.6 421.8L300.6 418.8L330.8 413.6L360.9 424.2M240.4 423.1L270.6 418.6L300.6 408.6L330.8 407.9L360.9 437.4M240.4 422.3L270.6 425.6L300.6 421.7L330.8 415.4L360.9 433.8M240.4 428.1L270.6 427.1L300.6 419.7L330.8 422.2L360.9 439.3M240.4 428.7L270.6 422.5L300.6 403.3L330.8 413.7L360.9 437.4M240.4 430.5L270.6 427.7L300.6 396.9L330.8 405.1L360.9 430.1M240.4 428.6L270.6 426.7L300.6 405.7L330.8 405.8L360.9 438M240.4 428.2L270.6 427L300.6 428.5L330.8 407.9L360.9 422.1M240.4 427.5L270.6 431L300.6 425.6L330.8 402.5L360.9 443.4M240.4 424.7L270.6 418.2L300.6 423.7L330.8 399.8L360.9 431.1M240.4 418.8L270.6 429.5L300.6 423.1L330.8 398.2L360.9 432.1M240.4 428.8L270.6 419.1L300.6 408.9L330.8 410.3L360.9 433.6M240.4 435.6L270.6 420.7L300.6 422.4L330.8 411.9L360.9 431.4M240.4 420.8L270.6 423.7L300.6 418.3L330.8 411L360.9 439.8M240.4 424L270.6 424.3L300.6 395.7L330.8 409.8L360.9 433.9M240.4 427.7L270.6 428.9L300.6 424.4L330.8 407.3L360.9 430.5M240.4 429L270.6 421.2L300.6 414L330.8 403.7L360.9 432.5M240.4 430.8L270.6 426.4L300.6 424.6L330.8 416.7L360.9 454.6M240.4 427.6L270.6 419L300.6 418.7L330.8 409.4L360.9 432.8M240.4 424.2L270.6 426.5L300.6 413.5L330.8 415.2L360.9 436.7M240.4 421.5L270.6 432.3L300.6 422.1L330.8 410.4L360.9 432.4M240.4 426L270.6 423.9L300.6 426.7L330.8 425.6L360.9 439.5M240.4 422.9L270.6 433.4L300.6 437.8L330.8 404.3L360.9 437.9M240.4 419.9L270.6 424.3L300.6 422L330.8 411.8L360.9 416.9M240.4 434.3L270.6 418.7L300.6 406.7L330.8 409.8L360.9 438.8M240.4 424.5L270.6 419.3L300.6 418.9L330.8 404L360.9 427.1M240.4 423.9L270.6 426.2L300.6 413L330.8 406.9L360.9 417.3M240.4 419.3L270.6 424L300.6 408.1L330.8 409.2L360.9 424.4M240.4 427.2L270.6 425.4L300.6 408.7L330.8 415.4L360.9 436.9M240.4 423.9L270.6 426.4L300.6 423.3L330.8 402.4L360.9 425.9M240.4 428.2L270.6 431.3L300.6 417.2L330.8 407.7L360.9 433.1M240.4 415L270.6 425.7L300.6 419.2L330.8 410.2L360.9 421.3M240.4 428.6L270.6 417.5L300.6 421.2L330.8 407.7L360.9 439.7M240.4 434.8L270.6 422.2L300.6 416.3L330.8 403L360.9 435.4M240.4 426.9L270.6 419.7L300.6 416.8L330.8 411L360.9 436.8M240.4 430.8L270.6 418.5L300.6 405.9L330.8 409.3L360.9 431M240.4 424.1L270.6 422.3L300.6 414.7L330.8 412.4L360.9 434.4M240.4 420.7L270.6 426.3L300.6 409.7L330.8 409.6L360.9 428.6M240.4 417.9L270.6 423.7L300.6 425.8L330.8 426.7L360.9 432.6M240.4 434.9L270.6 418L300.6 427.3L330.8 407.5L360.9 448M240.4 414.6L270.6 427.4L300.6 420.6L330.8 417.3L360.9 423.5M240.4 427.7L270.6 419.7L300.6 419.1L330.8 415.6L360.9 432.4M240.4 429.5L270.6 420.3L300.6 417.1L330.8 413.7L360.9 436.3M240.4 427.1L270.6 424.4L300.6 399.5L330.8 409L360.9 441.7M240.4 424.2L270.6 428.4L300.6 414.3L330.8 414.8L360.9 423.7" stroke="#cfcfcf" stroke-width="0.5" fill="none" stroke-linejoin="round"/>
<path d="M405.1 409.3L407.2 410.5L409.2 411.6L411.2 412.5L413.2 413.3L415.2 414L417.2 414.7L419.2 415L421.2 415.2L423.2 415.4L425.2 415.4L427.2 415.4L429.2 415.2L431.2 414.8L433.2 414.4L435.2 413.9L437.3 414.5L439.3 415.1L441.3 415.5L443.3 415.8L445.3 415.9L447.3 416L449.3 415.9L451.3 415.8L453.3 415.4L455.3 415L457.3 414.4L459.3 413.7L461.3 412.9L463.3 412L465.3 410.9L467.4 411.8L469.4 412.6L471.4 413.2L473.4 413.8L475.4 414.2L477.4 414.5L479.4 414.7L481.4 414.7L483.4 414.6L485.4 414.3L487.4 413.9L489.4 413.4L491.4 412.7L493.4 411.9L495.4 410.9L497.5 412L499.5 412.9L501.5 413.7L503.5 414.4L505.5 414.9L507.5 415.3L509.5 415.5L511.5 415.6L513.5 415.5L515.5 415.3L517.5 415L519.5 414.6L521.5 414L523.5 413.2L525.5 412.4L525.5 438L523.5 437L521.5 436.2L519.5 435.5L517.5 434.9L515.5 434.5L513.5 434.2L511.5 434.1L509.5 434.1L507.5 434.2L505.5 434.4L503.5 434.9L501.5 435.4L499.5 436.1L497.5 437L495.4 438L493.4 436.8L491.4 435.7L489.4 434.9L487.4 434.1L485.4 433.5L483.4 432.7L481.4 432.1L479.4 432.1L477.4 432L475.4 432.1L473.4 432.6L471.4 433.2L469.4 433.7L467.4 434.3L465.3 435L463.3 434.2L461.3 433.5L459.3 433L457.3 432.6L455.3 431.9L453.3 431.3L451.3 431.4L449.3 432.1L447.3 432.5L445.3 432.9L443.3 433.4L441.3 434L439.3 434.7L437.3 435.5L435.2 436.5L433.2 435.4L431.2 434.5L429.2 433.7L427.2 433L425.2 432.4L423.2 431.9L421.2 431.6L419.2 431.4L417.2 431.3L415.2 431.3L413.2 431.5L411.2 431.8L409.2 432.2L407.2 432.8L405.1 433.5 Z" fill="#cfcfcf"/>
<path d="M405.1 421.3L435.2 419.4L465.3 423.9L495.4 417.5L525.5 420.3M405.1 408.6L435.2 424.3L465.3 429.7L495.4 421.7L525.5 423.5M405.1 428L435.2 423.3L465.3 422.7L495.4 425.8L525.5 423.5M405.1 416.4L435.2 425.8L465.3 416L495.4 425.2L525.5 425.6M405.1 422.7L435.2 419.5L465.3 416.6L495.4 416.7L525.5 430.5M405.1 424.4L435.2 425.1L465.3 423.2L495.4 424.3L525.5 422.9M405.1 426.6L435.2 418.8L465.3 425.3L495.4 428.2L525.5 416.6M405.1 423.6L435.2 433.4L465.3 417.5L495.4 424.8L525.5 425.5M405.1 418L435.2 427.3L465.3 420.8L495.4 421.6L525.5 421.9M405.1 415.4L435.2 423.2L465.3 423.6L495.4 426.9L525.5 425.7M405.1 422.4L435.2 433.7L465.3 407.4L495.4 426.7L525.5 428M405.1 422L435.2 423.8L465.3 423.6L495.4 420.4L525.5 426.8M405.1 416.6L435.2 425.9L465.3 424.4L495.4 429.5L525.5 432.9M405.1 423L435.2 430.4L465.3 418.2L495.4 427.8L525.5 425.8M405.1 417.3L435.2 427.1L465.3 421.8L495.4 422.1L525.5 427.8M405.1 429.7L435.2 426L465.3 415.2L495.4 417.4L525.5 427.2M405.1 423L435.2 424.1L465.3 421.9L495.4 422.9L525.5 422.8M405.1 410.3L435.2 427.9L465.3 426.5L495.4 418.9L525.5 427M405.1 421.7L435.2 426.7L465.3 423.2L495.4 426.4L525.5 420.3M405.1 418.7L435.2 428L465.3 421.8L495.4 419.9L525.5 420.2M405.1 413.2L435.2 428.3L465.3 425.5L495.4 427.8L525.5 407.8M405.1 422.8L435.2 425.3L465.3 419.2L495.4 419.6L525.5 422.1M405.1 429.4L435.2 423.5L465.3 425.1L495.4 429.3L525.5 424M405.1 427.1L435.2 425.6L465.3 422.3L495.4 417.6L525.5 431.2M405.1 411.9L435.2 426.8L465.3 414.7L495.4 434.1L525.5 423M405.1 418.7L435.2 431.4L465.3 417.1L495.4 418.8L525.5 421.8M405.1 423.2L435.2 428.5L465.3 432.7L495.4 421.1L525.5 421.5M405.1 417.7L435.2 429.3L465.3 424.7L495.4 433.7L525.5 419.6M405.1 419.9L435.2 425.7L465.3 426.2L495.4 429.8L525.5 425.3M405.1 418.5L435.2 423.4L465.3 423.7L495.4 419.6L525.5 421.7M405.1 413.1L435.2 427.9L465.3 421.3L495.4 421.9L525.5 422.3M405.1 419.1L435.2 439.7L465.3 426.4L495.4 422.4L525.5 417.8M405.1 415.6L435.2 423.8L465.3 423.2L495.4 431.3L525.5 428.3M405.1 421.5L435.2 426.2L465.3 423.9L495.4 420.7L525.5 433M405.1 417.5L435.2 426.4L465.3 421.7L495.4 430.4L525.5 427.9M405.1 420.9L435.2 431.9L465.3 420.4L495.4 417.7L525.5 425.2M405.1 418L435.2 435.1L465.3 423.5L495.4 434L525.5 433.1M405.1 414.8L435.2 429.6L465.3 426.2L495.4 425.9L525.5 415.3M405.1 420.7L435.2 425.9L465.3 422.4L495.4 419.3L525.5 434.3M405.1 419.4L435.2 420.7L465.3 427.9L495.4 418.7L525.5 426M405.1 416.6L435.2 421.5L465.3 423.6L495.4 422.1L525.5 430.9M405.1 438.6L435.2 433.9L465.3 418.2L495.4 417.9L525.5 439.2M405.1 425.4L435.2 432.2L465.3 424.1L495.4 428.2L525.5 421.6M405.1 422.9L435.2 419.1L465.3 415.5L495.4 430.2L525.5 428.9M405.1 421.2L435.2 426.4L465.3 426.2L495.4 415L525.5 424.6M405.1 420.4L435.2 426.6L465.3 420.8L495.4 428.1L525.5 419.9M405.1 418.4L435.2 414.7L465.3 426.3L495.4 427L525.5 420.5M405.1 420.1L435.2 430.1L465.3 423L495.4 424.2L525.5 439.1M405.1 415.4L435.2 428.2L465.3 419.9L495.4 420.9L525.5 426.6M405.1 428.8L435.2 421.7L465.3 422L495.4 430.3L525.5 426.7M405.1 421.8L435.2 424.2L465.3 425.8L495.4 433.6L525.5 421.2M405.1 420.9L435.2 421.4L465.3 422.7L495.4 420.8L525.5 417.7M405.1 423.3L435.2 421.6L465.3 425.7L495.4 408.7L525.5 424.2M405.1 421.2L435.2 427.9L465.3 427.7L495.4 420.1L525.5 426.4M405.1 437.7L435.2 425.2L465.3 421.1L495.4 429.3L525.5 428.4M405.1 407.9L435.2 431.5L465.3 425.5L495.4 420.9L525.5 431.4M405.1 428L435.2 429.7L465.3 421.2L495.4 423.6L525.5 425.8M405.1 429.2L435.2 421.6L465.3 424.6L495.4 426.2L525.5 421.7M405.1 415.5L435.2 426.7L465.3 429.3L495.4 426L525.5 422.9M405.1 406.8L435.2 421.4L465.3 437.3L495.4 426.6L525.5 424.7M405.1 413.6L435.2 426.9L465.3 415.2L495.4 429.6L525.5 438.3M405.1 437.2L435.2 428L465.3 419.8L495.4 418.9L525.5 420.8M405.1 418.9L435.2 426.9L465.3 422.4L495.4 417.8L525.5 417.1M405.1 421.2L435.2 431.1L465.3 423.7L495.4 435.2L525.5 423.7M405.1 416.9L435.2 423.5L465.3 417.7L495.4 421.1L525.5 419.4M405.1 418.5L435.2 429.3L465.3 427.1L495.4 428L525.5 426.9M405.1 420.7L435.2 426.7L465.3 422.3L495.4 407.2L525.5 430.4M405.1 427L435.2 427.1L465.3 418.6L495.4 428.6L525.5 431.1M405.1 417.2L435.2 416.7L465.3 414.4L495.4 412.9L525.5 429.6M405.1 418.9L435.2 429.5L465.3 418L495.4 426.9L525.5 421.1M405.1 412L435.2 417.9L465.3 422.9L495.4 426.9L525.5 426.9M405.1 417L435.2 426.8L465.3 412.9L495.4 419.4L525.5 420.1M405.1 435L435.2 424.4L465.3 427.3L495.4 422.7L525.5 425.7M405.1 415.2L435.2 415.6L465.3 419.1L495.4 423.3L525.5 430.1M405.1 425.4L435.2 423.8L465.3 427.5L495.4 428.3L525.5 426.3M405.1 422L435.2 419.6L465.3 427.4L495.4 424.3L525.5 419.9M405.1 421.8L435.2 422L465.3 421.1L495.4 431.1L525.5 433.2M405.1 422.8L435.2 429.4L465.3 423.1L495.4 421.5L525.5 425.7M405.1 417.7L435.2 428.9L465.3 423.3L495.4 426.2L525.5 426.4M405.1 421L435.2 425.7L465.3 419.2L495.4 416.7L525.5 427.7M405.1 424.4L435.2 416.8L465.3 416.7L495.4 418.3L525.5 438.6M405.1 432.6L435.2 410.4L465.3 422L495.4 418.7L525.5 418.1M405.1 416.2L435.2 428L465.3 418L495.4 423.9L525.5 427.4M405.1 424L435.2 422.8L465.3 424.6L495.4 421.8L525.5 428M405.1 414.5L435.2 419.3L465.3 417.6L495.4 422.2L525.5 427.6M405.1 420.5L435.2 430.7L465.3 428.2L495.4 418.7L525.5 426M405.1 411.5L435.2 426.2L465.3 424.4L495.4 417.5L525.5 421.4M405.1 418.4L435.2 420.5L465.3 432.8L495.4 415.6L525.5 418.5M405.1 428.4L435.2 420.3L465.3 408.8L495.4 421.4L525.5 423.6M405.1 426.1L435.2 422.1L465.3 423.8L495.4 423.8L525.5 421.2M405.1 431L435.2 429.7L465.3 431.5L495.4 420.1L525.5 426.6M405.1 422.6L435.2 422L465.3 418.3L495.4 424.4L525.5 431.1M405.1 416.6L435.2 422.3L465.3 427.3L495.4 425.1L525.5 422.3M405.1 426.5L435.2 430.8L465.3 427.1L495.4 416L525.5 426.9M405.1 423.6L435.2 429.8L465.3 429.3L495.4 425.7L525.5 427.7M405.1 417.4L435.2 425.6L465.3 431.2L495.4 425.1L525.5 422.3M405.1 411.6L435.2 428.5L465.3 408.5L495.4 422.1L525.5 425.3M405.1 426.2L435.2 425.2L465.3 422.1L495.4 421.9L525.5 427.3M405.1 431.4L435.2 426.1L465.3 419.3L495.4 425L525.5 428.4M405.1 422.8L435.2 421.4L465.3 420.6L495.4 429.2L525.5 421.1M405.1 412.9L435.2 423.4L465.3 421.3L495.4 419.2L525.5 423.9M405.1 422.2L435.2 417.3L465.3 422.5L495.4 425.8L525.5 429.3M405.1 432.5L435.2 421L465.3 422.9L495.4 423.6L525.5 432.6M405.1 431.8L435.2 423.2L465.3 420.7L495.4 427.3L525.5 429.2M405.1 422.3L435.2 430L465.3 416.8L495.4 424.1L525.5 434.2M405.1 424.6L435.2 422.7L465.3 422.2L495.4 418.4L525.5 424.3M405.1 423.9L435.2 416.5L465.3 425.5L495.4 434.2L525.5 433.2M405.1 421.4L435.2 426.5L465.3 424.4L495.4 419.8L525.5 425.1M405.1 417.9L435.2 424.9L465.3 420.1L495.4 422.3L525.5 415.7M405.1 421.2L435.2 430.6L465.3 427.8L495.4 428.3L525.5 423.7M405.1 422.3L435.2 428.5L465.3 430.7L495.4 429.1L525.5 434.5M405.1 420.3L435.2 421.8L465.3 429.5L495.4 418.1L525.5 420.7M405.1 425L435.2 420L465.3 428.8L495.4 406.7L525.5 417.5M405.1 414.8L435.2 426L465.3 419.3L495.4 427L525.5 432.1M405.1 419.2L435.2 424.8L465.3 423.2L495.4 427L525.5 414.4M405.1 422.5L435.2 422.4L465.3 421.6L495.4 426.7L525.5 423.6M405.1 420L435.2 419.4L465.3 421.4L495.4 426L525.5 431.8M405.1 420.7L435.2 439.3L465.3 420L495.4 419.6L525.5 409.9M405.1 417.6L435.2 428.6L465.3 429L495.4 424.8L525.5 422.8M405.1 428.9L435.2 414.5L465.3 425.1L495.4 432L525.5 416.6M405.1 416.9L435.2 431.7L465.3 425.7L495.4 419.2L525.5 437.2M405.1 424.5L435.2 425.3L465.3 432.8L495.4 410.3L525.5 429.5M405.1 426.9L435.2 431.5L465.3 421.7L495.4 423.1L525.5 421.2M405.1 421.1L435.2 434L465.3 420.3L495.4 417.3L525.5 418.4M405.1 424.3L435.2 424.4L465.3 418.6L495.4 432.2L525.5 433.3M405.1 422.5L435.2 428.5L465.3 408.2L495.4 428.4L525.5 427.5M405.1 424.8L435.2 426.8L465.3 424.2L495.4 420.8L525.5 422.6M405.1 416.5L435.2 415.3L465.3 421L495.4 431.1L525.5 419.7M405.1 418.3L435.2 423.7L465.3 425.4L495.4 423.9L525.5 425.2M405.1 422.5L435.2 424.5L465.3 424.1L495.4 428.2L525.5 428.1M405.1 421.4L435.2 423.2L465.3 421.3L495.4 434.2L525.5 426.4M405.1 419.3L435.2 425.7L465.3 425.9L495.4 422.2L525.5 425M405.1 411.4L435.2 428.4L465.3 421L495.4 431.1L525.5 423.2M405.1 420.7L435.2 431.7L465.3 423L495.4 416.8L525.5 424M405.1 421.7L435.2 412.8L465.3 424.7L495.4 428.1L525.5 425.9M405.1 413.4L435.2 423.1L465.3 422.6L495.4 419.8L525.5 416.6M405.1 434.8L435.2 412.1L465.3 425.2L495.4 427L525.5 421.3M405.1 422.6L435.2 434.4L465.3 420.7L495.4 426.2L525.5 421.2M405.1 423.1L435.2 425.5L465.3 417.2L495.4 420.2L525.5 431.7M405.1 424.9L435.2 421.7L465.3 422.6L495.4 424.9L525.5 432.1M405.1 427.2L435.2 409.3L465.3 436.1L495.4 422.7L525.5 419.8M405.1 418.6L435.2 423.6L465.3 434.6L495.4 427L525.5 408.2M405.1 419.9L435.2 423.2L465.3 421.3L495.4 417.4L525.5 420.6M405.1 412.2L435.2 424.8L465.3 418.6L495.4 427.2L525.5 421.9M405.1 407L435.2 428.3L465.3 414.1L495.4 428.3L525.5 426.4M405.1 415L435.2 430L465.3 416.8L495.4 424.8L525.5 421.7M405.1 422.8L435.2 425.6L465.3 407L495.4 416.9L525.5 421.4M405.1 407.7L435.2 429.3L465.3 428.7L495.4 414.8L525.5 416.7M405.1 423L435.2 429.8L465.3 431.9L495.4 432L525.5 424.6M405.1 427.3L435.2 412.3L465.3 418.4L495.4 424.4L525.5 436.6M405.1 436.7L435.2 427.1L465.3 418.9L495.4 409.8L525.5 424.3M405.1 419.8L435.2 421.6L465.3 418.7L495.4 429.6L525.5 424.4M405.1 425.1L435.2 422.8L465.3 420.6L495.4 430.9L525.5 427.3M405.1 419.2L435.2 426.8L465.3 424.8L495.4 420L525.5 438.8M405.1 422.2L435.2 422.7L465.3 425.4L495.4 429.1L525.5 427.9M405.1 413.1L435.2 421.5L465.3 421.1L495.4 426.7L525.5 422.4M405.1 413.9L435.2 422.1L465.3 421.8L495.4 416.2L525.5 419M405.1 422.5L435.2 422.4L465.3 418.1L495.4 424L525.5 424.4M405.1 428.7L435.2 423.2L465.3 423L495.4 421.2L525.5 431.1M405.1 414.5L435.2 421.5L465.3 417.9L495.4 426.8L525.5 432.1M405.1 420.1L435.2 418.9L465.3 412.4L495.4 424L525.5 420.6M405.1 427.3L435.2 421.7L465.3 424.1L495.4 424.9L525.5 428M405.1 421.3L435.2 428.7L465.3 427.2L495.4 426L525.5 424.7M405.1 420.8L435.2 421.3L465.3 421.8L495.4 418.7L525.5 426.2M405.1 422.1L435.2 430.3L465.3 420L495.4 422.1L525.5 426.4M405.1 421.1L435.2 429.2L465.3 423.9L495.4 428.4L525.5 419.9M405.1 425.5L435.2 429.5L465.3 429.3L495.4 434.6L525.5 433.1M405.1 421L435.2 421.4L465.3 424.1L495.4 426.5L525.5 420.2M405.1 427L435.2 422.8L465.3 431.4L495.4 423.7L525.5 431.9M405.1 417.8L435.2 422.6L465.3 420.2L495.4 422.4L525.5 422.5M405.1 420.9L435.2 425.7L465.3 420.2L495.4 427.4L525.5 429M405.1 424.6L435.2 429.8L465.3 428.7L495.4 418L525.5 435M405.1 432L435.2 428.4L465.3 416.4L495.4 428.7L525.5 427.4M405.1 419.8L435.2 427.2L465.3 426.2L495.4 432.5L525.5 421M405.1 422.1L435.2 430.8L465.3 419.7L495.4 432.5L525.5 417.6M405.1 425.9L435.2 426.1L465.3 428.2L495.4 429.6L525.5 430.1M405.1 420.9L435.2 425.7L465.3 423.6L495.4 419.5L525.5 418.3M405.1 426.3L435.2 424.9L465.3 437.1L495.4 423.5L525.5 409.2M405.1 413.6L435.2 421.1L465.3 426L495.4 432.8L525.5 428.7M405.1 417.4L435.2 424.6L465.3 422L495.4 419.2L525.5 410.3M405.1 427.5L435.2 417.3L465.3 416.1L495.4 426.2L525.5 423.3M405.1 423.5L435.2 417.9L465.3 422.4L495.4 425.9L525.5 420.3M405.1 425.1L435.2 418.8L465.3 427.5L495.4 412.7L525.5 425.8M405.1 419.6L435.2 423.3L465.3 418.3L495.4 416.9L525.5 421.9M405.1 420.8L435.2 418.2L465.3 424.3L495.4 424.3L525.5 418.5M405.1 419.1L435.2 426.3L465.3 437.5L495.4 427.2L525.5 427.5M405.1 424.6L435.2 424.4L465.3 420.4L495.4 416.7L525.5 408.9M405.1 422.2L435.2 423.9L465.3 416.3L495.4 426.8L525.5 419.4M405.1 434.1L435.2 427.9L465.3 424.4L495.4 421.7L525.5 425.9M405.1 408.1L435.2 434L465.3 423.5L495.4 427.8L525.5 422.9M405.1 423.8L435.2 432.2L465.3 425.8L495.4 423L525.5 434.4M405.1 414.4L435.2 421.3L465.3 421.2L495.4 424.4L525.5 422.4M405.1 439L435.2 425.6L465.3 422L495.4 422.1L525.5 428.8M405.1 418.8L435.2 428.1L465.3 425.4L495.4 428.6L525.5 428.7M405.1 416.1L435.2 425.9L465.3 418.7L495.4 426.8L525.5 426M405.1 424.9L435.2 422.2L465.3 426.2L495.4 429.6L525.5 427.7M405.1 417.4L435.2 423.5L465.3 428.4L495.4 426.8L525.5 419.3M405.1 419L435.2 424.6L465.3 419.2L495.4 423.7L525.5 422.6M405.1 415.5L435.2 426.1L465.3 412.4L495.4 410.1L525.5 423.3M405.1 421.4L435.2 425.3L465.3 419.2L495.4 428L525.5 419.2M405.1 427.5L435.2 431L465.3 420L495.4 442.6L525.5 411.7M405.1 416.8L435.2 430.7L465.3 421.2L495.4 422.5L525.5 422.9M405.1 421.6L435.2 425.3L465.3 422.1L495.4 430.8L525.5 424.7M405.1 416.5L435.2 425.1L465.3 423.4L495.4 424.2L525.5 428.3M405.1 420L435.2 434.4L465.3 425.2L495.4 419.8L525.5 419.3M405.1 424.8L435.2 424.7L465.3 422.6L495.4 431.8L525.5 428.6M405.1 411.5L435.2 422.7L465.3 416.4L495.4 427.6L525.5 428.1M405.1 416.7L435.2 418.5L465.3 423.8L495.4 427.2L525.5 427.6M405.1 432.9L435.2 425.7L465.3 422.8L495.4 427.1L525.5 428.9M405.1 419.6L435.2 431.6L465.3 428.3L495.4 432.2L525.5 420.6M405.1 417.1L435.2 425.5L465.3 425.1L495.4 424.1L525.5 418.2M405.1 421.2L435.2 418.6L465.3 426.3L495.4 431.2L525.5 434M405.1 422.6L435.2 428.7L465.3 409.8L495.4 431.7L525.5 427.3M405.1 428L435.2 427.3L465.3 429.1L495.4 433.5L525.5 413.3M405.1 420.8L435.2 424L465.3 420.6L495.4 433L525.5 429M405.1 419.9L435.2 421.3L465.3 428.9L495.4 427.5L525.5 425.5M405.1 417.5L435.2 424.6L465.3 421.6L495.4 419.4L525.5 425M405.1 422.6L435.2 417.7L465.3 419.8L495.4 417.8L525.5 425.1M405.1 421.7L435.2 423.3L465.3 428.5L495.4 424.6L525.5 421.8M405.1 424.4L435.2 420.2L465.3 425.8L495.4 428.3L525.5 426.4M405.1 425.8L435.2 424.1L465.3 420.5L495.4 427.1L525.5 421M405.1 416.6L435.2 418L465.3 426L495.4 422.9L525.5 420.6M405.1 422.2L435.2 426.4L465.3 421.9L495.4 439.3L525.5 424.2M405.1 416L435.2 426.8L465.3 416L495.4 420.7L525.5 436.4M405.1 420.2L435.2 425.7L465.3 425.6L495.4 426.7L525.5 414.8M405.1 422.8L435.2 422.7L465.3 420.6L495.4 418.7L525.5 418.8M405.1 421.6L435.2 425.9L465.3 428.7L495.4 419L525.5 431.4M405.1 416L435.2 427.8L465.3 422.6L495.4 428.3L525.5 425.8M405.1 416.1L435.2 415.3L465.3 427.2L495.4 424.6L525.5 424.4M405.1 428.9L435.2 424.3L465.3 421.6L495.4 431.4L525.5 409.2M405.1 417.6L435.2 423.1L465.3 421.9L495.4 412.3L525.5 414.5M405.1 417.1L435.2 421.1L465.3 421.2L495.4 426L525.5 424.5M405.1 428.6L435.2 418.8L465.3 426.5L495.4 436L525.5 429.5M405.1 421.1L435.2 423.3L465.3 414.6L495.4 426.1L525.5 419.5M405.1 418.1L435.2 423.4L465.3 422L495.4 424.5L525.5 431.8M405.1 426.4L435.2 423.8L465.3 420.6L495.4 420.8L525.5 426.7M405.1 417.2L435.2 423.6L465.3 429.6L495.4 430.1L525.5 427.6M405.1 422.4L435.2 410L465.3 429.9L495.4 418.1L525.5 421.3M405.1 424.1L435.2 422.1L465.3 423.6L495.4 419.3L525.5 433M405.1 423.7L435.2 425.2L465.3 427.5L495.4 424.1L525.5 435.3M405.1 420.3L435.2 427.5L465.3 421.6L495.4 419.6L525.5 420.9M405.1 419.1L435.2 421.6L465.3 420.7L495.4 421.8L525.5 428.4M405.1 431L435.2 424.9L465.3 419.8L495.4 423.4L525.5 423.7M405.1 415.8L435.2 420.2L465.3 425.5L495.4 424.7L525.5 423.5M405.1 422.1L435.2 426.5L465.3 423.6L495.4 427.8L525.5 420.3M405.1 424.1L435.2 432.6L465.3 422.4L495.4 426.8L525.5 424.5M405.1 417.1L435.2 419.9L465.3 423.1L495.4 423.6L525.5 425.2M405.1 418.2L435.2 419.7L465.3 423.6L495.4 426.1L525.5 422.6M405.1 424.3L435.2 414.4L465.3 425.8L495.4 415.9L525.5 431.5M405.1 418.3L435.2 441.6L465.3 423.8L495.4 427.6L525.5 423.1M405.1 419.7L435.2 425.7L465.3 427.6L495.4 423.5L525.5 429.2M405.1 425.2L435.2 420.9L465.3 423.1L495.4 421.9L525.5 430.4M405.1 418.6L435.2 421.1L465.3 422.9L495.4 425.1L525.5 424.5M405.1 419.6L435.2 420.3L465.3 420.4L495.4 419.2L525.5 415.1M405.1 422.7L435.2 428.3L465.3 425.8L495.4 430.5L525.5 431.3M405.1 438L435.2 427.6L465.3 408.4L495.4 422.5L525.5 431.3M405.1 417.6L435.2 428.5L465.3 423.5L495.4 422.1L525.5 421.3M405.1 421.4L435.2 426.1L465.3 421.8L495.4 422L525.5 422.7M405.1 421.8L435.2 433.6L465.3 422.8L495.4 418.1L525.5 421.7M405.1 417L435.2 425.3L465.3 419.7L495.4 435.2L525.5 427.8M405.1 420.4L435.2 426.2L465.3 417.2L495.4 423.5L525.5 429.1M405.1 417.2L435.2 420.3L465.3 424.6L495.4 424.3L525.5 424.6M405.1 417.1L435.2 434.5L465.3 423.5L495.4 422.7L525.5 429.1M405.1 418.8L435.2 437L465.3 421.3L495.4 428.4L525.5 433.4M405.1 417.8L435.2 429.7L465.3 416.9L495.4 420.1L525.5 420.6M405.1 426.5L435.2 423.2L465.3 423L495.4 428.1L525.5 424.8M405.1 412.5L435.2 427.6L465.3 415.8L495.4 416.5L525.5 426M405.1 418.7L435.2 424L465.3 409.1L495.4 428.6L525.5 424.2M405.1 419.7L435.2 425.8L465.3 417.1L495.4 431.1L525.5 417.8M405.1 419.2L435.2 432.7L465.3 418.3L495.4 415.9L525.5 419.6M405.1 424.9L435.2 428.4L465.3 419.6L495.4 421.8L525.5 422.8M405.1 426.2L435.2 416.9L465.3 423.9L495.4 419.6L525.5 419.3M405.1 416.6L435.2 421.8L465.3 423L495.4 431.6L525.5 421M405.1 424.3L435.2 426.3L465.3 429.3L495.4 425.3L525.5 439.4M405.1 425L435.2 422.1L465.3 411.8L495.4 432.6L525.5 418M405.1 419.5L435.2 429L465.3 425.6L495.4 427.6L525.5 424.4M405.1 417.1L435.2 417.8L465.3 433L495.4 428.3L525.5 424.1M405.1 421.9L435.2 424.5L465.3 424.4L495.4 426.4L525.5 424.5M405.1 421.3L435.2 423.2L465.3 416.3L495.4 426.4L525.5 425.7M405.1 425.9L435.2 418.6L465.3 433.9L495.4 426.5L525.5 423.3M405.1 423L435.2 420.3L465.3 426.1L495.4 433.5L525.5 417.7M405.1 411.1L435.2 421.5L465.3 418.5L495.4 425.9L525.5 420.9M405.1 422.9L435.2 427.7L465.3 426.4L495.4 424.8L525.5 418.6M405.1 419.5L435.2 428.5L465.3 425.4L495.4 432.3L525.5 427.7M405.1 418.7L435.2 423.8L465.3 415.8L495.4 425.7L525.5 421.8M405.1 418.1L435.2 430.8L465.3 417.1L495.4 426.5L525.5 430.6M405.1 427.2L435.2 421.4L465.3 428L495.4 423.3L525.5 427.1M405.1 422L435.2 417.7L465.3 432.5L495.4 426.5L525.5 418.5M405.1 419.4L435.2 428L465.3 420.6L495.4 427.3L525.5 427M405.1 423.9L435.2 420.5L465.3 421.2L495.4 418.2L525.5 418.5M405.1 426.4L435.2 430.1L465.3 425.7L495.4 423.7L525.5 420.8M405.1 422.5L435.2 422.2L465.3 414.1L495.4 425.1L525.5 423.8M405.1 419.5L435.2 428L465.3 415.2L495.4 411.2L525.5 422.1M405.1 422.6L435.2 429.9L465.3 421.8L495.4 413L525.5 434.5M405.1 426.4L435.2 427L465.3 424.6L495.4 426.8L525.5 424.4M405.1 420.3L435.2 427.4L465.3 424.7L495.4 425.7L525.5 419M405.1 420.6L435.2 427.7L465.3 421.1L495.4 428.1L525.5 424.6M405.1 420.7L435.2 422.5L465.3 423.6L495.4 424.6L525.5 415.3M405.1 415.5L435.2 417.2L465.3 424.8L495.4 421.8L525.5 429.4M405.1 421.1L435.2 431.4L465.3 414.5L495.4 425.8L525.5 421.1M405.1 427.6L435.2 424.6L465.3 423.3L495.4 420.9L525.5 427.5M405.1 425.1L435.2 438.8L465.3 423.5L495.4 427.3L525.5 422.6M405.1 427.4L435.2 421L465.3 435.4L495.4 422L525.5 412.2M405.1 428.4L435.2 426.8L465.3 423.2L495.4 428.8L525.5 414.5M405.1 431.3L435.2 432.3L465.3 419.8L495.4 423.8L525.5 422.9M405.1 415.4L435.2 418.7L465.3 427.3L495.4 427.6L525.5 421.2M405.1 426.2L435.2 424.7L465.3 425.3L495.4 423.4L525.5 423.7M405.1 422.4L435.2 422.5L465.3 416.4L495.4 434.2L525.5 424M405.1 425.3L435.2 428.1L465.3 421.3L495.4 423.5L525.5 425.1M405.1 427.5L435.2 437.9L465.3 418L495.4 415.3L525.5 413.1M405.1 425.1L435.2 425.9L465.3 425.8L495.4 423.1L525.5 430.2M405.1 417.3L435.2 422.3L465.3 422.7L495.4 423L525.5 428.9M405.1 415.1L435.2 423.3L465.3 418.7L495.4 430.6L525.5 421.3M405.1 412.9L435.2 423.5L465.3 416.3L495.4 419.8L525.5 423.1M405.1 423.9L435.2 430.4L465.3 420.8L495.4 426.6L525.5 438.8M405.1 424.9L435.2 411.1L465.3 413.4L495.4 430.7L525.5 430.3M405.1 419.8L435.2 422.9L465.3 426.6L495.4 426.2L525.5 432.7M405.1 422.2L435.2 418.2L465.3 427.4L495.4 427.9L525.5 419.8M405.1 421.8L435.2 427.2L465.3 423L495.4 430.4L525.5 428M405.1 421.8L435.2 425.2L465.3 419.2L495.4 421.7L525.5 422.7M405.1 419.3L435.2 419.9L465.3 423.4L495.4 421.7L525.5 428.2M405.1 422.4L435.2 427.7L465.3 413.8L495.4 422.2L525.5 419M405.1 424.8L435.2 420.9L465.3 422.3L495.4 425.9L525.5 415.7M405.1 415.1L435.2 422.6L465.3 423.8L495.4 425.9L525.5 423.7M405.1 412.2L435.2 427.6L465.3 431.6L495.4 417.3L525.5 418.1M405.1 427.6L435.2 426.5L465.3 423.3L495.4 427.1L525.5 431.3M405.1 414.1L435.2 425.4L465.3 417L495.4 426.9L525.5 417.4M405.1 421.5L435.2 427.3L465.3 426.1L495.4 423.8L525.5 430.4M405.1 417.6L435.2 430.4L465.3 430L495.4 419.4L525.5 425.8M405.1 423.3L435.2 429L465.3 426.7L495.4 426L525.5 432M405.1 426.4L435.2 412.5L465.3 427.4L495.4 425.2L525.5 423.3M405.1 419.3L435.2 430.1L465.3 425.1L495.4 421.2L525.5 423.7M405.1 417.4L435.2 420.1L465.3 426L495.4 422.1L525.5 421.9M405.1 432.6L435.2 425.4L465.3 421.6L495.4 427.3L525.5 425M405.1 414.7L435.2 425L465.3 425.1L495.4 427.7L525.5 418.6M405.1 420.6L435.2 431L465.3 422.2L495.4 423.8L525.5 424.2M405.1 424.5L435.2 417.3L465.3 426.6L495.4 420.3L525.5 426.4M405.1 413.5L435.2 421.7L465.3 419L495.4 421.3L525.5 427.5M405.1 422.8L435.2 421.9L465.3 435.2L495.4 428.1L525.5 422.7M405.1 425.7L435.2 426.7L465.3 422L495.4 409.1L525.5 423.5M405.1 419.2L435.2 418L465.3 425.7L495.4 430.1L525.5 430M405.1 426.6L435.2 426.9L465.3 423.8L495.4 427.7L525.5 431.4M405.1 420.5L435.2 432.7L465.3 414.6L495.4 420.2L525.5 438.8M405.1 419.2L435.2 420.7L465.3 424.1L495.4 416.8L525.5 425.5M405.1 428.1L435.2 425.3L465.3 424.7L495.4 417.8L525.5 429.9M405.1 419.4L435.2 418.4L465.3 424.6L495.4 423.6L525.5 423.5M405.1 419.6L435.2 421.3L465.3 422.1L495.4 414.6L525.5 428M405.1 420.9L435.2 424.9L465.3 425.3L495.4 421.4L525.5 427.5M405.1 417.7L435.2 434.1L465.3 428.7L495.4 427.6L525.5 421.1M405.1 423.7L435.2 414.7L465.3 422.9L495.4 419.4L525.5 428.8M405.1 420L435.2 430L465.3 419.6L495.4 422.5L525.5 425.8M405.1 414.6L435.2 427.2L465.3 413.5L495.4 418.8L525.5 415.9M405.1 414.8L435.2 421.4L465.3 421L495.4 421.7L525.5 424.8M405.1 416.4L435.2 430.5L465.3 416.5L495.4 427.6L525.5 422.5M405.1 425.3L435.2 427.1L465.3 421L495.4 424.8L525.5 421.7M405.1 418.2L435.2 432.3L465.3 430.6L495.4 431.7L525.5 423.6M405.1 426.5L435.2 425.9L465.3 415.2L495.4 429L525.5 431.5M405.1 423.1L435.2 429L465.3 418.8L495.4 428.5L525.5 428.2M405.1 417.9L435.2 421.2L465.3 435.1L495.4 429.1L525.5 418.7M405.1 428.3L435.2 428.4L465.3 420.3L495.4 419.6L525.5 424.5M405.1 426.1L435.2 426.2L465.3 424.6L495.4 425.1L525.5 412.6M405.1 413.4L435.2 424.1L465.3 420.4L495.4 419L525.5 424.4M405.1 429.1L435.2 424.1L465.3 422L495.4 428.4L525.5 423.3M405.1 417.4L435.2 419.7L465.3 427.3L495.4 425.6L525.5 424.9M405.1 421.3L435.2 423.9L465.3 421.6L495.4 420.9L525.5 424.9M405.1 419.6L435.2 428L465.3 415.9L495.4 425.8L525.5 427.3M405.1 423.2L435.2 431.2L465.3 416.1L495.4 422.3L525.5 418.5M405.1 419.9L435.2 426L465.3 415.5L495.4 419.5L525.5 431.4M405.1 423.1L435.2 427.2L465.3 425.4L495.4 409.5L525.5 429.3M405.1 406.3L435.2 422L465.3 426.3L495.4 426.4L525.5 420.2M405.1 421.6L435.2 417.7L465.3 424.3L495.4 425.8L525.5 420.4M405.1 418.8L435.2 426.4L465.3 421.8L495.4 417.9L525.5 422.5M405.1 418.7L435.2 419.6L465.3 425.3L495.4 419.4L525.5 425.9M405.1 419.3L435.2 422.2L465.3 420.6L495.4 428.1L525.5 424.2M405.1 412.2L435.2 427.1L465.3 423.9L495.4 430.2L525.5 425M405.1 422.6L435.2 425.2L465.3 429.1L495.4 417.6L525.5 420.4M405.1 423.4L435.2 426.6L465.3 417L495.4 420.3L525.5 435.2M405.1 423.8L435.2 426.7L465.3 412.3L495.4 421.3L525.5 430.5M405.1 416.3L435.2 425.7L465.3 419L495.4 429.9L525.5 415.8M405.1 419.8L435.2 426.8L465.3 420.6L495.4 422.1L525.5 421.1M405.1 422.7L435.2 426.2L465.3 421.4L495.4 426.6L525.5 425.2M405.1 415.2L435.2 420.6L465.3 426.6L495.4 423.2L525.5 426.4M405.1 438.1L435.2 428L465.3 427.6L495.4 432.5L525.5 427.9M405.1 422.1L435.2 427.5L465.3 424.4L495.4 420.1L525.5 427M405.1 424.5L435.2 420.2L465.3 429.1L495.4 429.7L525.5 423.9M405.1 423.6L435.2 428.9L465.3 414.9L495.4 420.3L525.5 434.7M405.1 410.4L435.2 411.4L465.3 426.2L495.4 422.6L525.5 424.9M405.1 418.7L435.2 419.4L465.3 419.1L495.4 436.2L525.5 422.9M405.1 425.1L435.2 425.8L465.3 421.5L495.4 433.3L525.5 428.3M405.1 419.6L435.2 427.8L465.3 426.7L495.4 425.4L525.5 436.9M405.1 417.5L435.2 424.8L465.3 430.9L495.4 423.6L525.5 438.2M405.1 423.1L435.2 426.4L465.3 427.9L495.4 424.4L525.5 437.2M405.1 422.5L435.2 421L465.3 419.4L495.4 416.9L525.5 425.3M405.1 416.2L435.2 416.1L465.3 427.7L495.4 425.6L525.5 422.1M405.1 422.4L435.2 434.1L465.3 431.8L495.4 432.4L525.5 418.6M405.1 429.2L435.2 427.4L465.3 422.9L495.4 437.6L525.5 423.8M405.1 422.2L435.2 421.2L465.3 425.8L495.4 432.1L525.5 432M405.1 423.7L435.2 428.2L465.3 425.6L495.4 423.4L525.5 423.2M405.1 427.1L435.2 426L465.3 424.1L495.4 419.4L525.5 421.7M405.1 424.2L435.2 422.5L465.3 416.7L495.4 428.5L525.5 421.9M405.1 415.7L435.2 425.3L465.3 408.1L495.4 433.8L525.5 427.2M405.1 422.1L435.2 427.2L465.3 413.9L495.4 417.7L525.5 424.9M405.1 430.8L435.2 430.4L465.3 420.6L495.4 427.4L525.5 423.7M405.1 425.4L435.2 429.5L465.3 427.2L495.4 418.3L525.5 420.6M405.1 430.1L435.2 425.9L465.3 427.2L495.4 429.6L525.5 419.8M405.1 417.6L435.2 427.5L465.3 424.2L495.4 418L525.5 425M405.1 420.9L435.2 422.3L465.3 426.3L495.4 421.6L525.5 418.9M405.1 436.4L435.2 421.7L465.3 430.9L495.4 422.4L525.5 424.8M405.1 423.3L435.2 423.9L465.3 421.4L495.4 423.9L525.5 426.5M405.1 425.4L435.2 423.1L465.3 418.9L495.4 425.2L525.5 427.5M405.1 421.4L435.2 411.6L465.3 424.3L495.4 436.1L525.5 420.1M405.1 427L435.2 413.5L465.3 430L495.4 431.6L525.5 426.7M405.1 426.3L435.2 432.9L465.3 420.1L495.4 429.6L525.5 431.7M405.1 422L435.2 416L465.3 422L495.4 424.5L525.5 424.3M405.1 418.7L435.2 425.3L465.3 419L495.4 423.1L525.5 416.6M405.1 407.2L435.2 427.5L465.3 410.7L495.4 420.3L525.5 425.2M405.1 417.6L435.2 418.4L465.3 417.8L495.4 410.2L525.5 421.2M405.1 422.9L435.2 423.3L465.3 425.8L495.4 430.1L525.5 425.3M405.1 430.8L435.2 429.6L465.3 425.7L495.4 421.7L525.5 439.5M405.1 423L435.2 426.5L465.3 424L495.4 418.6L525.5 422.9M405.1 421.6L435.2 429.8L465.3 428.4L495.4 421.2L525.5 424.1M405.1 420.9L435.2 430L465.3 409.5L495.4 422.5L525.5 426.4M405.1 420L435.2 427.5L465.3 428L495.4 435.5L525.5 424.8M405.1 420L435.2 423.8L465.3 424.1L495.4 432.6L525.5 422.6M405.1 421L435.2 427.5L465.3 429.8L495.4 425.9L525.5 422.9M405.1 427.1L435.2 423.2L465.3 430.9L495.4 418.7L525.5 432.3M405.1 417.1L435.2 418.4L465.3 424.7L495.4 414.3L525.5 421M405.1 418.2L435.2 432.2L465.3 426.2L495.4 419.4L525.5 425.6M405.1 420.3L435.2 422L465.3 421.4L495.4 425.2L525.5 420.6M405.1 422.4L435.2 424.2L465.3 426.4L495.4 433.3L525.5 437.8M405.1 421.4L435.2 426.5L465.3 423.5L495.4 430.9L525.5 419.7M405.1 421.1L435.2 417.1L465.3 421.4L495.4 416.7L525.5 422.7M405.1 422.9L435.2 424.1L465.3 421.4L495.4 416.3L525.5 434.8M405.1 424L435.2 425L465.3 416.5L495.4 419.7L525.5 416.8M405.1 422.4L435.2 426L465.3 423.2L495.4 424.9L525.5 431.4M405.1 419L435.2 424.3L465.3 435.7L495.4 416.3L525.5 413.8M405.1 427.4L435.2 423.7L465.3 414.2L495.4 423L525.5 425.8M405.1 422.6L435.2 423.2L465.3 417.9L495.4 408.9L525.5 422.2M405.1 424.1L435.2 431.8L465.3 429.6L495.4 432.5L525.5 424.6M405.1 421.9L435.2 421.3L465.3 425.1L495.4 424.6L525.5 434.1M405.1 422.8L435.2 435.9L465.3 419.8L495.4 420.1L525.5 421.5M405.1 410.6L435.2 417.4L465.3 424.9L495.4 427L525.5 437.2M405.1 421.6L435.2 432.5L465.3 423.6L495.4 423.8L525.5 423.6M405.1 427.5L435.2 422L465.3 418.8L495.4 423.1L525.5 427.7M405.1 420.2L435.2 426.7L465.3 419.5L495.4 432.7L525.5 422.7M405.1 415L435.2 425.9L465.3 417.1L495.4 417.1L525.5 420M405.1 414.9L435.2 421.1L465.3 424.7L495.4 433.5L525.5 424.9M405.1 419.4L435.2 418.7L465.3 432.9L495.4 422.9L525.5 409.1M405.1 420.8L435.2 420.4L465.3 423.9L495.4 419.6L525.5 426M405.1 415.9L435.2 426.8L465.3 425.4L495.4 422.6L525.5 424.1M405.1 416.9L435.2 424.9L465.3 422.9L495.4 429L525.5 433.3M405.1 417.4L435.2 429.4L465.3 420.4L495.4 419L525.5 419M405.1 419L435.2 424.2L465.3 431.7L495.4 419.3L525.5 426.9M405.1 424.1L435.2 423.6L465.3 426.6L495.4 419.7L525.5 417.4M405.1 418.1L435.2 421.2L465.3 412.3L495.4 420.1L525.5 417.6M405.1 419.8L435.2 423.4L465.3 426.2L495.4 424.2L525.5 419M405.1 411.8L435.2 428L465.3 424.7L495.4 418.3L525.5 438.1M405.1 420.3L435.2 428.6L465.3 428.6L495.4 426.2L525.5 428M405.1 422.5L435.2 422.4L465.3 415.4L495.4 425.9L525.5 430.4M405.1 418L435.2 418.6L465.3 418.5L495.4 421.7L525.5 434.3M405.1 418.2L435.2 426.7L465.3 418.6L495.4 422L525.5 423M405.1 418.3L435.2 420.5L465.3 424.6L495.4 424.9L525.5 423.5M405.1 429.1L435.2 427.5L465.3 437.3L495.4 419.4L525.5 427.8M405.1 427.5L435.2 423.9L465.3 423.2L495.4 420.1L525.5 422.7M405.1 418.9L435.2 420.3L465.3 422.5L495.4 421.1L525.5 427.7M405.1 428L435.2 429.6L465.3 425.8L495.4 427L525.5 429.3M405.1 421.4L435.2 426.2L465.3 422.2L495.4 440.3L525.5 438.7M405.1 419.8L435.2 426.3L465.3 421.4L495.4 414.9L525.5 421.5M405.1 420.1L435.2 415.1L465.3 416.1L495.4 424.9L525.5 423.9M405.1 414L435.2 424L465.3 427.6L495.4 424.6L525.5 419.2M405.1 417.6L435.2 425.2L465.3 418.7L495.4 424.9L525.5 420.8M405.1 423.3L435.2 419L465.3 420L495.4 418.6L525.5 421.7M405.1 434.3L435.2 428.8L465.3 425.3L495.4 429.3L525.5 421M405.1 431.7L435.2 423.5L465.3 424L495.4 425.9L525.5 427.7M405.1 420.2L435.2 424.2L465.3 428.2L495.4 424.2L525.5 425.7M405.1 420.2L435.2 423.7L465.3 426.6L495.4 416.2L525.5 418.6M405.1 422L435.2 420.9L465.3 424.8L495.4 429.7L525.5 428.6M405.1 418.8L435.2 425.5L465.3 421.3L495.4 424.9L525.5 412.7M405.1 425.1L435.2 440.7L465.3 422.2L495.4 428.2L525.5 426.6M405.1 420.2L435.2 421L465.3 414L495.4 421.6L525.5 415.1M405.1 417.2L435.2 423.2L465.3 428.8L495.4 420.7L525.5 426M405.1 421.1L435.2 419.9L465.3 416.6L495.4 426.9L525.5 418.9M405.1 423.8L435.2 428.9L465.3 428L495.4 425.6L525.5 428.2M405.1 423.6L435.2 424.7L465.3 425.6L495.4 439.9L525.5 427.5M405.1 417.1L435.2 421.4L465.3 423.8L495.4 430.3L525.5 423.2M405.1 419.9L435.2 427.1L465.3 427.4L495.4 423.3L525.5 426.3M405.1 419.3L435.2 427.1L465.3 421.3L495.4 427.7L525.5 411M405.1 420L435.2 429L465.3 416.2L495.4 438.2L525.5 434M405.1 422.1L435.2 417.6L465.3 420.7L495.4 424.7L525.5 423.7M405.1 423L435.2 428.1L465.3 426.4L495.4 416.9L525.5 430M405.1 426.3L435.2 434.9L465.3 423.7L495.4 420L525.5 425.5M405.1 423.9L435.2 426.1L465.3 429.5L495.4 415.6L525.5 426.8M405.1 424.3L435.2 421.9L465.3 418.7L495.4 414.8L525.5 430.7M405.1 421.3L435.2 428.3L465.3 416.3L495.4 435.4L525.5 421.9M405.1 423L435.2 429.5L465.3 426.2L495.4 426.4L525.5 421.7M405.1 418.6L435.2 428.1L465.3 427.6L495.4 422.4L525.5 424.7M405.1 420.7L435.2 427.6L465.3 427.6L495.4 422.9L525.5 435M405.1 413.5L435.2 413.3L465.3 430.5L495.4 421.9L525.5 426M405.1 413.1L435.2 431.3L465.3 428.8L495.4 430L525.5 432.6M405.1 418L435.2 421.8L465.3 418.5L495.4 414.3L525.5 429.5M405.1 419.6L435.2 427.8L465.3 427L495.4 431.6L525.5 439.3M405.1 425.6L435.2 425.1L465.3 423.1L495.4 422.4L525.5 419.5M405.1 425.1L435.2 421.7L465.3 422.2L495.4 426.2L525.5 427.6M405.1 426L435.2 422.8L465.3 435L495.4 421.5L525.5 417.4M405.1 418.4L435.2 425.7L465.3 423.2L495.4 423.3L525.5 411.8M405.1 436.3L435.2 428.5L465.3 426.1L495.4 428.6L525.5 424.6M405.1 417.4L435.2 423.2L465.3 412.2L495.4 431L525.5 422.8M405.1 416.7L435.2 420.4L465.3 424.4L495.4 420.5L525.5 421.7M405.1 417.4L435.2 430.9L465.3 415.8L495.4 427.7L525.5 430.4M405.1 415.6L435.2 427.6L465.3 425.4L495.4 430.1L525.5 417.4M405.1 421.9L435.2 421.8L465.3 421.3L495.4 414.6L525.5 413.1M405.1 430.2L435.2 422.6L465.3 421.6L495.4 431.3L525.5 430.7M405.1 423.5L435.2 424.2L465.3 429.9L495.4 424.2L525.5 436.3M405.1 434.4L435.2 420.1L465.3 427.6L495.4 435.2L525.5 424.9M405.1 424.6L435.2 431.2L465.3 428.9L495.4 420.7L525.5 423.5M405.1 417L435.2 430.9L465.3 428.2L495.4 424.2L525.5 431.8M405.1 422.3L435.2 428.5L465.3 420.9L495.4 424.4L525.5 421.8M405.1 429.9L435.2 422.8L465.3 426.9L495.4 428.3L525.5 414.3M405.1 433.3L435.2 424.5L465.3 424.1L495.4 415.9L525.5 435.7M405.1 423.7L435.2 423.4L465.3 427.8L495.4 424.5L525.5 426.7M405.1 419.8L435.2 427.4L465.3 416.2L495.4 425.2L525.5 419.8M405.1 420.5L435.2 425.4L465.3 418.4L495.4 430.8L525.5 424.3M405.1 423.8L435.2 429.9L465.3 425L495.4 424.4L525.5 430.6M405.1 415L435.2 415.4L465.3 414.7L495.4 431.2L525.5 427.8M405.1 417.2L435.2 441.1L465.3 419.9L495.4 407.4L525.5 432.4M405.1 417.6L435.2 429.8L465.3 425.9L495.4 422.1L525.5 416.9M405.1 421.8L435.2 424.3L465.3 420L495.4 429.7L525.5 420.5M405.1 426.3L435.2 422.7L465.3 416.9L495.4 417.3L525.5 424.4M405.1 419.5L435.2 427.9L465.3 418.3L495.4 420.7L525.5 424.7M405.1 419.2L435.2 420.5L465.3 425.8L495.4 428.1L525.5 434.7M405.1 423.2L435.2 429.5L465.3 423.8L495.4 429.7L525.5 431.3M405.1 425.2L435.2 425L465.3 420.1L495.4 427.9L525.5 429M405.1 423.5L435.2 426.8L465.3 420.5L495.4 419.1L525.5 426.1M405.1 419.8L435.2 435.6L465.3 415.6L495.4 423.3L525.5 426.2M405.1 421.3L435.2 420.9L465.3 426.8L495.4 410.7L525.5 418.2M405.1 420.1L435.2 434.3L465.3 425.4L495.4 424L525.5 431.4M405.1 423.1L435.2 425.8L465.3 423.9L495.4 424L525.5 426.4M405.1 426.5L435.2 430L465.3 418.2L495.4 421.7L525.5 420.7M405.1 418.9L435.2 423L465.3 420.7L495.4 425L525.5 426.9M405.1 426.3L435.2 425.9L465.3 417.7L495.4 423.5L525.5 420.5M405.1 425.6L435.2 424.6L465.3 416.2L495.4 415.1L525.5 425.9M405.1 417.5L435.2 425.1L465.3 424.4L495.4 423.2L525.5 422.3M405.1 425.6L435.2 424.1L465.3 429.6L495.4 432.9L525.5 420.4M405.1 421.4L435.2 434.9L465.3 427.1L495.4 428.9L525.5 409.6M405.1 420.2L435.2 431.9L465.3 416.1L495.4 432.1L525.5 418.5M405.1 420.1L435.2 418.2L465.3 422.2L495.4 418.2L525.5 421.3M405.1 425.9L435.2 422.1L465.3 419.6L495.4 425.6L525.5 420.7M405.1 420.1L435.2 426.9L465.3 419.2L495.4 418.2L525.5 427.4M405.1 432.3L435.2 427.6L465.3 422.2L495.4 430.4L525.5 429.2M405.1 423.5L435.2 421.1L465.3 423.3L495.4 418.3L525.5 425.5M405.1 415.5L435.2 428.4L465.3 424.6L495.4 420.9L525.5 425.8M405.1 424.8L435.2 427L465.3 427.1L495.4 430.7L525.5 429.9M405.1 406.6L435.2 427.2L465.3 421.3L495.4 425.3L525.5 424.2M405.1 424.4L435.2 426.3L465.3 419.1L495.4 422.4L525.5 425.8M405.1 421.9L435.2 426.9L465.3 416.5L495.4 421.1L525.5 422.4M405.1 418.6L435.2 428L465.3 414.3L495.4 428.9L525.5 418.1M405.1 424.6L435.2 424.2L465.3 425.6L495.4 424.3L525.5 418.5M405.1 420.6L435.2 419.5L465.3 427.1L495.4 417L525.5 422.2M405.1 420.5L435.2 419.4L465.3 414L495.4 422L525.5 416.6M405.1 418.1L435.2 430.6L465.3 422L495.4 418.6L525.5 426.6M405.1 417.7L435.2 421.1L465.3 427.5L495.4 424L525.5 417.1M405.1 420.7L435.2 429L465.3 421.6L495.4 435.8L525.5 421.1M405.1 416.5L435.2 419.5L465.3 418.7L495.4 419.2L525.5 428.3M405.1 421.6L435.2 424.2L465.3 421.8L495.4 422L525.5 422.9M405.1 419.3L435.2 429.6L465.3 426.8L495.4 422L525.5 430.4M405.1 416.2L435.2 421.2L465.3 420.9L495.4 423.3L525.5 430.6M405.1 418.4L435.2 431.2L465.3 429.8L495.4 426.3L525.5 427.3M405.1 417.9L435.2 442.5L465.3 422.1L495.4 424.4L525.5 423.4M405.1 422.8L435.2 425.3L465.3 422.5L495.4 414.8L525.5 428.2M405.1 419.6L435.2 432.4L465.3 418.6L495.4 425.4L525.5 425.4M405.1 423.7L435.2 430.6L465.3 417.9L495.4 434L525.5 420.9M405.1 429.9L435.2 420.6L465.3 421.4L495.4 422.6L525.5 426.6M405.1 419.6L435.2 424L465.3 428.3L495.4 428.1L525.5 421M405.1 426.2L435.2 427.6L465.3 416.3L495.4 428.9L525.5 423.9M405.1 424.3L435.2 435L465.3 412.2L495.4 426.7L525.5 429.5M405.1 417.6L435.2 421.8L465.3 411.7L495.4 431.8L525.5 429.2M405.1 417.8L435.2 430.1L465.3 426.5L495.4 426.8L525.5 427.1M405.1 429.4L435.2 429.1L465.3 422.2L495.4 433.8L525.5 425.7M405.1 423.1L435.2 422L465.3 435.4L495.4 419L525.5 423.9M405.1 425.4L435.2 422.7L465.3 417L495.4 427.1L525.5 430.2M405.1 415.6L435.2 425.3L465.3 424.7L495.4 420.3L525.5 427.9M405.1 421.1L435.2 414L465.3 421.9L495.4 424.7L525.5 426M405.1 418.3L435.2 437.4L465.3 422.2L495.4 418.6L525.5 436.8M405.1 424.8L435.2 424.7L465.3 432.6L495.4 425.8L525.5 423.7M405.1 421.2L435.2 427.8L465.3 415.7L495.4 423.6L525.5 427.2M405.1 422.9L435.2 421.3L465.3 423.2L495.4 427.9L525.5 414.3M405.1 420.4L435.2 427.7L465.3 422.7L495.4 428.8L525.5 423.4M405.1 420.2L435.2 428.2L465.3 410.5L495.4 425.4L525.5 438.1M405.1 424.3L435.2 426L465.3 429.5L495.4 431.4L525.5 424.5M405.1 423.4L435.2 427.4L465.3 408.1L495.4 443.6L525.5 428.5M405.1 426.9L435.2 424.8L465.3 418.3L495.4 421.3L525.5 425.7M405.1 417.6L435.2 428.3L465.3 418.7L495.4 423L525.5 411M405.1 417.3L435.2 425.2L465.3 432.8L495.4 427.9L525.5 430.6M405.1 428.5L435.2 426.6L465.3 425.1L495.4 426.9L525.5 419.6M405.1 414.8L435.2 424.5L465.3 427.6L495.4 429.6L525.5 417.6M405.1 428.1L435.2 421.7L465.3 419.3L495.4 441.3L525.5 420.6M405.1 430.5L435.2 419.3L465.3 427.7L495.4 429.3L525.5 421.3M405.1 423.2L435.2 425.9L465.3 420L495.4 425.8L525.5 427.1M405.1 423.8L435.2 426.7L465.3 413.7L495.4 410.7L525.5 421.6M405.1 423.6L435.2 425.4L465.3 428.8L495.4 427.8L525.5 421.5M405.1 418L435.2 428.8L465.3 425.6L495.4 421.2L525.5 424M405.1 425.7L435.2 411.1L465.3 418.4L495.4 420.1L525.5 414.8M405.1 421.4L435.2 422L465.3 409.6L495.4 423.6L525.5 422M405.1 416.3L435.2 423.5L465.3 423.9L495.4 412.1L525.5 428.9M405.1 425.8L435.2 419.4L465.3 421.5L495.4 433.8L525.5 427.9M405.1 415.3L435.2 419.7L465.3 428.2L495.4 419.2L525.5 422.5M405.1 426.7L435.2 422.5L465.3 419.5L495.4 429.8L525.5 426.9M405.1 411.3L435.2 425.7L465.3 424.2L495.4 425L525.5 420.4M405.1 419.9L435.2 431.9L465.3 418.6L495.4 428.9L525.5 426.4M405.1 424.8L435.2 421.8L465.3 418L495.4 419.6L525.5 428.5M405.1 415.8L435.2 420.7L465.3 419.3L495.4 429.8L525.5 421.2M405.1 419.9L435.2 425.2L465.3 424.8L495.4 430.3L525.5 435.5M405.1 417.8L435.2 426.5L465.3 427.1L495.4 431.4L525.5 427.4M405.1 418.7L435.2 421.7L465.3 421.9L495.4 417.8L525.5 439M405.1 418.3L435.2 422.9L465.3 425.4L495.4 413.8L525.5 416.5M405.1 419L435.2 426.7L465.3 416.8L495.4 417.4L525.5 419.1M405.1 423.3L435.2 429.3L465.3 421.3L495.4 428.2L525.5 427.8M405.1 422L435.2 414.8L465.3 421.3L495.4 431.8L525.5 419.8M405.1 422.1L435.2 425.3L465.3 425L495.4 410.4L525.5 427.7M405.1 418.7L435.2 423.4L465.3 423.4L495.4 424L525.5 427.5M405.1 420.4L435.2 426.8L465.3 420.6L495.4 424.2L525.5 426.1M405.1 424.4L435.2 425.5L465.3 425L495.4 426.8L525.5 436.8M405.1 422.8L435.2 421.9L465.3 421L495.4 425.1L525.5 421.9M405.1 426.6L435.2 421L465.3 424.7L495.4 442.2L525.5 418M405.1 414.7L435.2 424.2L465.3 429.2L495.4 438.5L525.5 421.8M405.1 432.5L435.2 419.9L465.3 423.5L495.4 425.3L525.5 417.2M405.1 416.3L435.2 424.4L465.3 423.6L495.4 436.7L525.5 422.6M405.1 425.4L435.2 423.7L465.3 422.4L495.4 420.2L525.5 426.1M405.1 410.9L435.2 426L465.3 420.9L495.4 413.5L525.5 434.1M405.1 422.4L435.2 421.8L465.3 425.3L495.4 428.2L525.5 429.4M405.1 429.6L435.2 422.2L465.3 423.2L495.4 432.2L525.5 423.2M405.1 410.5L435.2 430.1L465.3 424.1L495.4 437.9L525.5 431.8M405.1 421.9L435.2 424.9L465.3 424.8L495.4 423.3L525.5 412M405.1 424.3L435.2 417.9L465.3 422.5L495.4 415.6L525.5 426.8M405.1 417.1L435.2 421.7L465.3 424.1L495.4 433.5L525.5 421.9M405.1 417.1L435.2 427.8L465.3 421.7L495.4 420.9L525.5 426.3M405.1 424.2L435.2 419.8L465.3 416.5L495.4 427.9L525.5 425.7M405.1 418.5L435.2 423.9L465.3 416.3L495.4 408.4L525.5 420.8M405.1 428.1L435.2 425.7L465.3 422.7L495.4 422.4L525.5 419.7M405.1 427L435.2 409.7L465.3 422.2L495.4 427.9L525.5 426.1M405.1 424.2L435.2 428.9L465.3 430.1L495.4 426.6L525.5 421.6M405.1 424.8L435.2 424.6L465.3 421.9L495.4 430.4L525.5 424.4M405.1 420.8L435.2 419.8L465.3 431L495.4 415.1L525.5 423.8M405.1 419.2L435.2 422.5L465.3 419.2L495.4 420.1L525.5 437.5M405.1 429.4L435.2 426.5L465.3 420.6L495.4 423.2L525.5 428.1M405.1 420.2L435.2 428.7L465.3 421.8L495.4 434.5L525.5 428.7M405.1 419.8L435.2 424.6L465.3 422.6L495.4 432.9L525.5 425.5M405.1 414.4L435.2 422.4L465.3 420L495.4 424.5L525.5 432.2M405.1 423L435.2 428L465.3 417.8L495.4 421.9L525.5 422.4M405.1 416.6L435.2 424.8L465.3 425.1L495.4 430.3L525.5 434.2M405.1 419.5L435.2 428.3L465.3 423L495.4 423.3L525.5 421M405.1 419L435.2 425.2L465.3 426.5L495.4 415.8L525.5 429.2M405.1 416.5L435.2 429.5L465.3 428.4L495.4 429.5L525.5 429.2M405.1 424.8L435.2 425.6L465.3 423.6L495.4 408.8L525.5 420.9M405.1 411.5L435.2 428.8L465.3 418.8L495.4 423.1L525.5 426.2M405.1 415.6L435.2 420.5L465.3 427.8L495.4 422.5L525.5 428.3M405.1 425.3L435.2 425.3L465.3 415.8L495.4 434.7L525.5 422.2M405.1 414.6L435.2 418.9L465.3 424.7L495.4 421.1L525.5 425.4M405.1 416.8L435.2 423.6L465.3 424.8L495.4 426.4L525.5 415.6M405.1 425L435.2 430.1L465.3 419.8L495.4 425.5L525.5 414.4M405.1 422.3L435.2 425.3L465.3 425.1L495.4 424.4L525.5 427.1M405.1 418.1L435.2 424L465.3 417.8L495.4 423.7L525.5 423.5M405.1 421.9L435.2 420.4L465.3 424.3L495.4 422.4L525.5 428M405.1 422.2L435.2 427.4L465.3 423L495.4 424.4L525.5 420.7M405.1 431.7L435.2 419.4L465.3 428.9L495.4 426.4L525.5 427.9M405.1 407.3L435.2 425.9L465.3 420.6L495.4 430.6L525.5 429.5M405.1 425.2L435.2 426L465.3 416.5L495.4 421.3L525.5 408.5M405.1 420.8L435.2 431.6L465.3 417.2L495.4 416.3L525.5 422.8M405.1 422.5L435.2 422.8L465.3 420L495.4 407L525.5 428.3M405.1 423L435.2 417.6L465.3 422.2L495.4 424.4L525.5 419.6M405.1 435.8L435.2 420.1L465.3 426.2L495.4 428.3L525.5 425M405.1 417.7L435.2 420L465.3 423.4L495.4 418.8L525.5 421.3M405.1 425.6L435.2 428.7L465.3 423L495.4 434.4L525.5 435.6M405.1 422.1L435.2 440.2L465.3 424.7L495.4 424.1L525.5 426.8M405.1 423.5L435.2 442.1L465.3 420.7L495.4 425.1L525.5 431.5M405.1 428.5L435.2 426.6L465.3 422.9L495.4 419.4L525.5 425.7M405.1 415.5L435.2 422.8L465.3 419.5L495.4 421.3L525.5 416.7M405.1 423.3L435.2 430.7L465.3 422.5L495.4 424.6L525.5 429.5M405.1 422.3L435.2 418.7L465.3 423.6L495.4 427L525.5 428.4M405.1 421.2L435.2 427.5L465.3 429.7L495.4 423.5L525.5 427.9M405.1 416.7L435.2 429.4L465.3 432.3L495.4 424.3L525.5 427.5M405.1 426.6L435.2 433L465.3 419.8L495.4 430L525.5 414.7M405.1 414L435.2 429.3L465.3 425.9L495.4 427.3L525.5 420.7M405.1 425.6L435.2 427.5L465.3 422.2L495.4 422.7L525.5 418.9M405.1 413.4L435.2 417.3L465.3 438L495.4 415L525.5 425M405.1 425L435.2 422.6L465.3 419.2L495.4 428.9L525.5 421.8M405.1 422.1L435.2 427.7L465.3 423.9L495.4 433.1L525.5 421.9M405.1 417.4L435.2 428L465.3 424.7L495.4 424.3L525.5 428.9M405.1 420.5L435.2 426.2L465.3 433.1L495.4 429.2L525.5 424.6M405.1 409.5L435.2 423.7L465.3 426.4L495.4 432.3L525.5 422.5M405.1 421.3L435.2 422.3L465.3 420.7L495.4 423.8L525.5 422.5M405.1 428.8L435.2 414.7L465.3 423.4L495.4 425.7L525.5 422.6M405.1 427.3L435.2 421.8L465.3 428.7L495.4 423.7L525.5 419M405.1 408.4L435.2 417.8L465.3 424L495.4 431.8L525.5 423.2M405.1 427.8L435.2 420.5L465.3 423L495.4 422.3L525.5 423.2M405.1 419.6L435.2 428.6L465.3 423.4L495.4 414.8L525.5 421.2M405.1 417.7L435.2 420.9L465.3 424.8L495.4 415.4L525.5 420.1M405.1 416.4L435.2 419.5L465.3 422.1L495.4 428.5L525.5 427.3M405.1 422.6L435.2 419.2L465.3 423.7L495.4 416.2L525.5 427.3M405.1 414.3L435.2 432.1L465.3 428.5L495.4 421.2L525.5 418.2M405.1 429.9L435.2 429.4L465.3 419.4L495.4 419.1L525.5 424M405.1 427L435.2 427.1L465.3 412.7L495.4 418.7L525.5 425.7M405.1 419L435.2 420.9L465.3 422L495.4 419.9L525.5 428.6M405.1 422.6L435.2 427.9L465.3 420.6L495.4 424L525.5 438.9M405.1 422.4L435.2 423.8L465.3 422.6L495.4 421.9L525.5 428.9M405.1 413.3L435.2 428.1L465.3 419.5L495.4 418.9L525.5 417.4M405.1 424.1L435.2 425.4L465.3 422.2L495.4 443.1L525.5 426.9M405.1 424.3L435.2 440.2L465.3 421.9L495.4 430.8L525.5 432.6M405.1 423.1L435.2 424.8L465.3 424L495.4 424.5L525.5 421.9M405.1 431.2L435.2 422.1L465.3 419.6L495.4 414.5L525.5 439.2M405.1 420.7L435.2 422.4L465.3 422.7L495.4 426.1L525.5 430.6M405.1 427.6L435.2 428.7L465.3 424.5L495.4 428.7L525.5 424.7M405.1 423.5L435.2 431.7L465.3 424.1L495.4 421.9L525.5 429.4M405.1 424.4L435.2 426.7L465.3 425L495.4 423.1L525.5 429.1M405.1 416.6L435.2 429.9L465.3 424.9L495.4 430.5L525.5 417.5M405.1 408.6L435.2 423.4L465.3 427.9L495.4 427.3L525.5 423.7M405.1 420.6L435.2 428.3L465.3 419.8L495.4 423.6L525.5 427.1M405.1 418.6L435.2 421.7L465.3 422.7L495.4 434.8L525.5 420.1M405.1 407.5L435.2 419.9L465.3 425.9L495.4 421.5L525.5 412.3M405.1 413.9L435.2 425.7L465.3 424.9L495.4 422.4L525.5 423.7M405.1 424.3L435.2 419.2L465.3 427.8L495.4 430.6L525.5 422.7M405.1 421.7L435.2 430.1L465.3 418.4L495.4 439.5L525.5 428.1M405.1 422.1L435.2 426.2L465.3 416.8L495.4 421.1L525.5 438.5M405.1 416.9L435.2 416.5L465.3 406.3L495.4 427.7L525.5 424M405.1 429.4L435.2 428.5L465.3 415.8L495.4 419.5L525.5 423.4M405.1 412L435.2 423.9L465.3 417.8L495.4 430.7L525.5 430.7M405.1 421.7L435.2 420L465.3 415.4L495.4 423.2L525.5 423.6M405.1 421.4L435.2 411.8L465.3 420L495.4 416L525.5 420.1M405.1 416.4L435.2 420.9L465.3 420.5L495.4 432.5L525.5 425.9M405.1 420.3L435.2 420.5L465.3 421.4L495.4 422.3L525.5 429.1M405.1 414.6L435.2 426.3L465.3 429.8L495.4 425.4L525.5 422.7M405.1 424.5L435.2 425.4L465.3 434.1L495.4 427L525.5 421.9M405.1 430.8L435.2 429.9L465.3 422.5L495.4 422.9L525.5 429M405.1 418.8L435.2 425.4L465.3 432.2L495.4 427.5L525.5 434.5M405.1 422L435.2 421.9L465.3 419.2L495.4 421.2L525.5 434.2M405.1 420.3L435.2 424L465.3 428.6L495.4 418.7L525.5 423.8M405.1 419.7L435.2 426.7L465.3 427.5L495.4 435.6L525.5 420.8M405.1 424.3L435.2 430.2L465.3 419.5L495.4 427.8L525.5 422M405.1 418.1L435.2 426.5L465.3 428.1L495.4 424.1L525.5 424.3M405.1 422.8L435.2 420.5L465.3 418.2L495.4 424.1L525.5 433M405.1 422L435.2 422.8L465.3 430.9L495.4 422.6L525.5 422M405.1 432.1L435.2 428.2L465.3 429.2L495.4 431.6L525.5 414.7M405.1 415.5L435.2 427.7L465.3 426.4L495.4 417.7L525.5 421.2M405.1 422.9L435.2 424L465.3 418.3L495.4 420.8L525.5 422.1M405.1 417.4L435.2 423.4L465.3 427.1L495.4 423L525.5 426.2M405.1 428.9L435.2 430.5L465.3 419.7L495.4 420.8L525.5 410.6M405.1 421.6L435.2 416.5L465.3 419.5L495.4 427.4L525.5 436.6M405.1 420.5L435.2 429.8L465.3 425.9L495.4 430.6L525.5 423.2M405.1 434.9L435.2 433.4L465.3 414.7L495.4 417.3L525.5 421M405.1 430.8L435.2 430.5L465.3 427.2L495.4 427.4L525.5 418.3M405.1 421.5L435.2 423.7L465.3 408.3L495.4 413.7L525.5 423.6M405.1 425.9L435.2 431.3L465.3 422.5L495.4 419.7L525.5 429.7M405.1 423.7L435.2 425.9L465.3 428.7L495.4 421.2L525.5 419.2M405.1 427.6L435.2 427.1L465.3 421.1L495.4 422.6L525.5 427.6M405.1 423.4L435.2 425.8L465.3 422.8L495.4 423.3L525.5 426.9M405.1 418.3L435.2 424.5L465.3 417.5L495.4 421.2L525.5 419.6M405.1 431.1L435.2 425.2L465.3 424.1L495.4 424.7L525.5 418.3M405.1 410.6L435.2 426.2L465.3 427.1L495.4 428.9L525.5 437.6M405.1 418.2L435.2 429.6L465.3 429.7L495.4 430.9L525.5 411.3M405.1 424.1L435.2 426.5L465.3 411.8L495.4 428L525.5 431.2M405.1 416L435.2 416.1L465.3 423.5L495.4 434.6L525.5 418.8M405.1 423.1L435.2 421.8L465.3 421.6L495.4 421.5L525.5 424.7M405.1 424L435.2 427.1L465.3 420.9L495.4 436.1L525.5 429.4M405.1 421.5L435.2 423.9L465.3 426.6L495.4 411L525.5 421.8M405.1 419.4L435.2 427.1L465.3 430.8L495.4 431.1L525.5 426.7M405.1 417.9L435.2 430.6L465.3 420.9L495.4 432.8L525.5 425.1M405.1 418.1L435.2 430.4L465.3 428.5L495.4 427.3L525.5 425.4M405.1 419.5L435.2 424L465.3 420.5L495.4 413.5L525.5 426.1M405.1 423.1L435.2 424.2L465.3 421.9L495.4 423.9L525.5 413.5M405.1 423.7L435.2 424.9L465.3 431.3L495.4 421L525.5 435.9M405.1 435.6L435.2 426.9L465.3 418.5L495.4 418.5L525.5 419.8M405.1 416.7L435.2 426.4L465.3 406.7L495.4 431.3L525.5 431.2M405.1 438.9L435.2 423.1L465.3 429L495.4 423.2L525.5 428.4M405.1 415.7L435.2 426.3L465.3 428.4L495.4 414.9L525.5 415.6M405.1 431L435.2 424.6L465.3 419.2L495.4 417.2L525.5 427.3M405.1 422.6L435.2 421.7L465.3 416.4L495.4 425.8L525.5 427.5M405.1 425.3L435.2 424.1L465.3 417.9L495.4 430.8L525.5 430M405.1 424L435.2 422.9L465.3 421.1L495.4 426.2L525.5 426.8M405.1 424.3L435.2 427.7L465.3 429.8L495.4 416.4L525.5 422.6M405.1 425.3L435.2 426.4L465.3 422.7L495.4 418.1L525.5 434.2M405.1 417.2L435.2 427.6L465.3 423.8L495.4 423L525.5 426.9M405.1 422.7L435.2 422.8L465.3 422.8L495.4 425.1L525.5 424.6M405.1 426.5L435.2 423L465.3 425.1L495.4 423.4L525.5 420.5M405.1 420.9L435.2 431.7L465.3 420.9L495.4 434.7L525.5 422.3M405.1 423.7L435.2 426.7L465.3 426.1L495.4 423.4L525.5 419.8M405.1 422.7L435.2 432.2L465.3 436.4L495.4 422.3L525.5 421.5M405.1 424.2L435.2 427.5L465.3 416L495.4 438.9L525.5 433.4M405.1 417.1L435.2 413.6L465.3 414.9L495.4 429.1L525.5 416.7M405.1 416.2L435.2 429.9L465.3 418.5L495.4 424.6L525.5 419.6M405.1 419.5L435.2 423.9L465.3 425.2L495.4 429.9L525.5 430.3M405.1 420.4L435.2 428.5L465.3 419.5L495.4 424L525.5 422.7M405.1 424.3L435.2 420.4L465.3 422.1L495.4 420.1L525.5 429.7M405.1 417.4L435.2 429.9L465.3 424.2L495.4 425.7L525.5 427.3M405.1 426.1L435.2 423.5L465.3 418.9L495.4 428.5L525.5 435.2M405.1 417.9L435.2 423.5L465.3 425.3L495.4 429.1L525.5 423.9M405.1 426.9L435.2 420.5L465.3 429.9L495.4 429.1L525.5 429.3M405.1 428.7L435.2 414.7L465.3 424.3L495.4 425.1L525.5 423.6M405.1 412.9L435.2 422.4L465.3 414.4L495.4 429.8L525.5 429.1M405.1 427.2L435.2 433.9L465.3 423.6L495.4 428.6L525.5 430.1M405.1 418.6L435.2 425.9L465.3 415.9L495.4 419.3L525.5 428.9M405.1 417L435.2 425.4L465.3 421.6L495.4 429.1L525.5 422.6M405.1 422.1L435.2 429.2L465.3 424.8L495.4 425.1L525.5 427.4M405.1 422.5L435.2 431.4L465.3 416.6L495.4 431.3L525.5 422.7M405.1 418.3L435.2 426L465.3 426.4L495.4 420L525.5 418.5M405.1 414.9L435.2 423.9L465.3 431.5L495.4 433.5L525.5 427.6M405.1 423.6L435.2 431.6L465.3 424.2L495.4 425.7L525.5 427.6M405.1 421.4L435.2 421.9L465.3 424.8L495.4 408.3L525.5 423.6M405.1 418.3L435.2 431L465.3 428.9L495.4 425.9L525.5 433.5M405.1 414.9L435.2 427.4L465.3 423.6L495.4 429.7L525.5 419.1M405.1 425.3L435.2 421.6L465.3 425.4L495.4 413.8L525.5 432.5M405.1 419L435.2 421.7L465.3 424.5L495.4 429.2L525.5 425.4M405.1 418.4L435.2 416.5L465.3 431.6L495.4 427.6L525.5 425.6M405.1 409.1L435.2 424.4L465.3 419.8L495.4 419.3L525.5 420.8M405.1 423.2L435.2 417.9L465.3 416.9L495.4 408.1L525.5 425.7M405.1 417.6L435.2 424.5L465.3 417.8L495.4 432.5L525.5 420.8M405.1 415.3L435.2 423.6L465.3 426.1L495.4 433.4L525.5 428.7M405.1 426.8L435.2 422.3L465.3 420.5L495.4 421.2L525.5 425.9M405.1 417.8L435.2 426.9L465.3 420.5L495.4 433.3L525.5 429.1M405.1 418.1L435.2 424.8L465.3 416.3L495.4 419L525.5 424.1M405.1 418L435.2 423.4L465.3 424.7L495.4 436.2L525.5 437.6M405.1 421.4L435.2 431.6L465.3 426.7L495.4 428.3L525.5 426.4M405.1 430.2L435.2 424.7L465.3 422.6L495.4 420L525.5 421.5M405.1 412.8L435.2 425.6L465.3 419.4L495.4 428L525.5 418.1M405.1 414.9L435.2 433.7L465.3 421.3L495.4 422.8L525.5 425.6M405.1 423.3L435.2 428.7L465.3 417L495.4 428.8L525.5 421.1M405.1 412.3L435.2 419L465.3 424.1L495.4 421.4L525.5 416.6M405.1 429.3L435.2 422.7L465.3 421.7L495.4 426.1L525.5 427.7M405.1 415.8L435.2 420.9L465.3 422.5L495.4 430.5L525.5 417.6M405.1 426.6L435.2 422.1L465.3 418.6L495.4 430.2L525.5 422.8M405.1 420.2L435.2 421.1L465.3 423.1L495.4 420.9L525.5 418.7M405.1 419.5L435.2 422.1L465.3 421.6L495.4 422.6L525.5 427.1M405.1 419L435.2 427.1L465.3 431.9L495.4 434.7L525.5 423M405.1 424.7L435.2 427.4L465.3 426.5L495.4 429.3L525.5 421.6M405.1 421.5L435.2 426L465.3 432.1L495.4 418.2L525.5 423.5M405.1 418.5L435.2 410.7L465.3 425.4L495.4 422.2L525.5 433.5M405.1 425.4L435.2 427.1L465.3 423.6L495.4 418.7L525.5 418.8M405.1 418.5L435.2 425L465.3 416.5L495.4 415.8L525.5 425.1M405.1 416.3L435.2 415.6L465.3 427.1L495.4 426.7L525.5 428.4M405.1 417.2L435.2 425.8L465.3 422.8L495.4 423.6L525.5 418.6M405.1 415.5L435.2 427.7L465.3 425.1L495.4 425.5L525.5 428.7M405.1 408L435.2 415.5L465.3 422.6L495.4 414.2L525.5 419.4M405.1 419.1L435.2 419.2L465.3 423.6L495.4 413.2L525.5 414.2M405.1 426L435.2 425.3L465.3 413.3L495.4 426.2L525.5 426.1M405.1 424.5L435.2 425.7L465.3 420.5L495.4 427.4L525.5 423.4M405.1 422.4L435.2 419.1L465.3 423.8L495.4 428.3L525.5 425.3M405.1 424.6L435.2 427.6L465.3 421.3L495.4 420.7L525.5 425.7M405.1 420.4L435.2 427.9L465.3 422.6L495.4 423.3L525.5 427.2M405.1 419.5L435.2 418.8L465.3 436.8L495.4 426.7L525.5 429.1M405.1 426.5L435.2 428.6L465.3 428.4L495.4 427.6L525.5 420.3M405.1 420.7L435.2 432.2L465.3 422.8L495.4 418.4L525.5 423.8M405.1 416.6L435.2 423.1L465.3 420.2L495.4 427L525.5 426.3M405.1 422.1L435.2 429.4L465.3 423.1L495.4 424.7L525.5 418.9M405.1 422.8L435.2 430.5L465.3 418.3L495.4 423.4L525.5 426.8M405.1 429.7L435.2 418L465.3 432.4L495.4 413.5L525.5 427.4M405.1 426.6L435.2 433.9L465.3 418.8L495.4 425.3L525.5 426.4M405.1 415.3L435.2 423.8L465.3 424.3L495.4 422.3L525.5 422.7M405.1 426.1L435.2 425.4L465.3 425.4L495.4 417.5L525.5 417.8M405.1 433.9L435.2 417.7L465.3 423.3L495.4 417.7L525.5 432.9M405.1 429.1L435.2 438.3L465.3 426.1L495.4 428.6L525.5 435.3M405.1 420.3L435.2 429.8L465.3 425.2L495.4 431.5L525.5 423.9M405.1 419.2L435.2 418.4L465.3 421.1L495.4 429.8L525.5 428.3M405.1 419.3L435.2 422.7L465.3 431.1L495.4 423.7L525.5 429.8M405.1 416.9L435.2 421.6L465.3 420.8L495.4 424.1L525.5 425.2M405.1 417.4L435.2 427.5L465.3 424.4L495.4 424.5L525.5 426M405.1 422.5L435.2 425.6L465.3 424.9L495.4 435.2L525.5 420.7M405.1 412.3L435.2 429.5L465.3 420.4L495.4 426.1L525.5 421.9M405.1 421.7L435.2 425.5L465.3 426.8L495.4 418.3L525.5 420.9M405.1 421.8L435.2 421.2L465.3 436.8L495.4 425.4L525.5 426.5M405.1 422.6L435.2 424.6L465.3 426.7L495.4 413.6L525.5 426.6M405.1 417.5L435.2 430.9L465.3 429.8L495.4 427L525.5 430.3M405.1 416.7L435.2 421.1L465.3 416.7L495.4 424.8L525.5 419.5M405.1 418.2L435.2 426.9L465.3 419.4L495.4 426.4L525.5 427.5M405.1 413.2L435.2 425.2L465.3 424.2L495.4 425.9L525.5 420.1M405.1 416.3L435.2 421.7L465.3 419.6L495.4 415.1L525.5 420.1M405.1 423.7L435.2 428L465.3 413L495.4 422.3L525.5 427.9M405.1 429.3L435.2 426.6L465.3 428.7L495.4 424.7L525.5 415.3M405.1 425.7L435.2 428.4L465.3 423.1L495.4 430L525.5 424.4M405.1 427L435.2 419L465.3 421.4L495.4 420.8L525.5 428.3M405.1 423L435.2 420.7L465.3 430.3L495.4 429.1L525.5 420.7M405.1 422.4L435.2 431.5L465.3 420.3L495.4 426.3L525.5 423.8M405.1 422.6L435.2 425.6L465.3 430.2L495.4 421.6L525.5 421.8M405.1 424L435.2 418L465.3 421.6L495.4 419.8L525.5 435.9M405.1 408.9L435.2 427.2L465.3 425.9L495.4 414.6L525.5 432.4M405.1 415.9L435.2 422.5L465.3 418.3L495.4 431.6L525.5 431.7M405.1 425.5L435.2 424.9L465.3 435.7L495.4 424.8L525.5 430M405.1 416.4L435.2 412.5L465.3 425.2L495.4 425.9L525.5 427.2M405.1 414.9L435.2 431.8L465.3 424.2L495.4 426.1L525.5 419.2M405.1 425.8L435.2 422.2L465.3 417.6L495.4 425.9L525.5 425.5M405.1 415.6L435.2 429.1L465.3 421.4L495.4 425.1L525.5 422.4M405.1 418.4L435.2 426.7L465.3 429L495.4 422.4L525.5 425.5M405.1 419.2L435.2 425.5L465.3 426.7L495.4 431.3L525.5 429.6M405.1 417.2L435.2 421.2L465.3 430L495.4 421.2L525.5 427.4M405.1 415.9L435.2 428.6L465.3 421.7L495.4 424L525.5 418.5M405.1 419.8L435.2 426.1L465.3 417.6L495.4 426.1L525.5 427.9M405.1 418.6L435.2 422.4L465.3 420.4L495.4 424.1L525.5 424.5M405.1 414L435.2 426.4L465.3 419.8L495.4 425.6L525.5 426.3M405.1 423.4L435.2 428L465.3 432.3L495.4 427L525.5 419.2M405.1 420L435.2 424L465.3 418.1L495.4 417.9L525.5 432.5M405.1 417.7L435.2 423.8L465.3 425.1L495.4 412.7L525.5 420.7M405.1 410.3L435.2 423L465.3 408.2L495.4 418L525.5 425.2M405.1 417.2L435.2 421.6L465.3 422.8L495.4 428.5L525.5 422.4M405.1 420.7L435.2 428.7L465.3 415.3L495.4 418.7L525.5 427.1M405.1 422.9L435.2 424.5L465.3 424.3L495.4 420.6L525.5 428.5M405.1 435.6L435.2 425.9L465.3 423.1L495.4 429L525.5 433.3M405.1 422.4L435.2 423.7L465.3 421.8L495.4 424.9L525.5 425.9M405.1 421.2L435.2 425L465.3 422.9L495.4 429.6L525.5 422.1M405.1 418.9L435.2 419.7L465.3 423.1L495.4 429.6L525.5 418.5M405.1 418.8L435.2 425.2L465.3 425L495.4 425.2L525.5 425.9M405.1 420.7L435.2 416.5L465.3 416.1L495.4 441.7L525.5 429.8M405.1 417.7L435.2 423.6L465.3 413.5L495.4 419.7L525.5 423.8M405.1 422.6L435.2 427.3L465.3 419.2L495.4 417.6L525.5 424.6M405.1 424.9L435.2 418.9L465.3 426.2L495.4 426.7L525.5 427.5M405.1 420.5L435.2 430.5L465.3 421.5L495.4 418.4L525.5 424.6M405.1 419.5L435.2 426.7L465.3 422.5L495.4 422.2L525.5 417.4M405.1 424.9L435.2 422.6L465.3 411.5L495.4 427.2L525.5 423.9M405.1 423.2L435.2 430L465.3 425.9L495.4 429.8L525.5 422.2M405.1 425.1L435.2 434.6L465.3 429.6L495.4 430.7L525.5 425.3M405.1 419.6L435.2 428.3L465.3 420.8L495.4 428.7L525.5 430.2M405.1 427.2L435.2 424.1L465.3 416.1L495.4 427.2L525.5 423M405.1 408.2L435.2 432.2L465.3 422.8L495.4 422.8L525.5 423.4M405.1 427.9L435.2 424.2L465.3 414.5L495.4 440.8L525.5 425.8M405.1 419.7L435.2 424L465.3 422.5L495.4 433.4L525.5 420.4M405.1 423.7L435.2 422L465.3 416.1L495.4 424.4L525.5 428.6M405.1 421.5L435.2 426.3L465.3 424.7L495.4 429.3L525.5 421.6M405.1 423.2L435.2 427.5L465.3 426.1L495.4 420.5L525.5 418.1M405.1 425.3L435.2 424.1L465.3 411.1L495.4 424.7L525.5 424.3M405.1 423.2L435.2 427.9L465.3 424.4L495.4 418.3L525.5 438.7M405.1 419.1L435.2 426L465.3 427.8L495.4 417.3L525.5 422.2M405.1 427L435.2 425.5L465.3 412.7L495.4 426.4L525.5 422M405.1 427.6L435.2 433.6L465.3 426.8L495.4 429.8L525.5 433.5M405.1 428.1L435.2 417.8L465.3 423.4L495.4 421.9L525.5 422.7M405.1 417.2L435.2 431.3L465.3 435.9L495.4 422.6L525.5 428.1M405.1 423.7L435.2 421.5L465.3 421.6L495.4 422.3L525.5 417.8M405.1 439.5L435.2 427.2L465.3 425L495.4 444L525.5 436.4M405.1 416.6L435.2 423.2L465.3 436.6L495.4 419.3L525.5 426.4M405.1 418.8L435.2 433L465.3 419.9L495.4 420.6L525.5 421.7M405.1 420.5L435.2 423.9L465.3 416.8L495.4 423.6L525.5 428.8M405.1 414.7L435.2 425.1L465.3 427.4L495.4 420.7L525.5 427.3M405.1 419.6L435.2 424.2L465.3 429.7L495.4 424.6L525.5 426.6M405.1 435.3L435.2 427.3L465.3 434.9L495.4 432.1L525.5 427.6M405.1 416.6L435.2 425.5L465.3 420.6L495.4 425.7L525.5 430.6M405.1 419.5L435.2 417.8L465.3 422.9L495.4 422.9L525.5 434.3M405.1 424L435.2 425.4L465.3 423.3L495.4 429.9L525.5 420.1M405.1 426.4L435.2 423.2L465.3 431L495.4 426.5L525.5 421.9M405.1 434.4L435.2 429.1L465.3 425.6L495.4 427.2L525.5 424.7M405.1 422.5L435.2 427.2L465.3 431.7L495.4 424.1L525.5 421.9M405.1 416.1L435.2 424.1L465.3 428.3L495.4 422.2L525.5 434.7M405.1 419L435.2 430.9L465.3 425L495.4 421.4L525.5 412.7M405.1 418L435.2 420.4L465.3 419.1L495.4 425.1L525.5 428.2M405.1 425.3L435.2 423.6L465.3 428.5L495.4 433.7L525.5 424.3M405.1 418.5L435.2 418.4L465.3 426.4L495.4 423.7L525.5 420.3M405.1 427.8L435.2 424.2L465.3 410.1L495.4 437.4L525.5 428.1M405.1 427.1L435.2 432.9L465.3 425.6L495.4 415.6L525.5 423.4M405.1 422.4L435.2 421.7L465.3 425.4L495.4 423.5L525.5 429.1M405.1 416.7L435.2 427.6L465.3 419.3L495.4 435.6L525.5 425.5M405.1 429.5L435.2 423.2L465.3 424.6L495.4 428.3L525.5 421.8M405.1 415.8L435.2 430.3L465.3 422.6L495.4 430.7L525.5 422.1M405.1 426.5L435.2 422.9L465.3 429L495.4 421L525.5 427.2M405.1 422.8L435.2 432.8L465.3 425.7L495.4 422.7L525.5 425M405.1 424.6L435.2 426.2L465.3 422.4L495.4 420.2L525.5 428.2M405.1 422L435.2 423.8L465.3 425.9L495.4 422.7L525.5 435.3M405.1 421.5L435.2 422.8L465.3 437.8L495.4 420.6L525.5 426.4M405.1 414.3L435.2 425.3L465.3 417.2L495.4 426L525.5 426.3M405.1 424.5L435.2 428.4L465.3 423.5L495.4 422.4L525.5 432.4M405.1 426.9L435.2 428.4L465.3 427.3L495.4 422.2L525.5 430.2M405.1 423.2L435.2 415.1L465.3 422.5L495.4 427.1L525.5 425M405.1 425.9L435.2 420.5L465.3 419.7L495.4 429.3L525.5 428.2M405.1 419L435.2 418.4L465.3 423.1L495.4 426.3L525.5 423.3M405.1 430.5L435.2 432.8L465.3 424.5L495.4 430L525.5 429.8M405.1 423.4L435.2 427L465.3 427L495.4 419.1L525.5 430.4M405.1 416.7L435.2 431.3L465.3 419.9L495.4 425.5L525.5 431M405.1 425.3L435.2 422.7L465.3 420.3L495.4 422.3L525.5 425.4M405.1 423.6L435.2 428.9L465.3 424.9L495.4 410.3L525.5 411.6M405.1 422.3L435.2 437L465.3 421.4L495.4 429.1L525.5 430.6M405.1 417.5L435.2 429.3L465.3 414.4L495.4 424.3L525.5 426.1M405.1 416.9L435.2 418.5L465.3 421.5L495.4 430.1L525.5 438.9M405.1 420.4L435.2 436.1L465.3 420.3L495.4 431.5L525.5 417.4M405.1 420.5L435.2 423.7L465.3 423.5L495.4 424.6L525.5 428.3M405.1 424.9L435.2 422L465.3 421.4L495.4 419.8L525.5 424.3M405.1 432.1L435.2 420.8L465.3 421.8L495.4 417.2L525.5 423M405.1 422.5L435.2 425.9L465.3 407.7L495.4 425.9L525.5 430.5M405.1 428.3L435.2 422.9L465.3 421.3L495.4 424.4L525.5 429.1M405.1 423.6L435.2 425.5L465.3 423L495.4 422.8L525.5 428.6M405.1 417.3L435.2 426L465.3 423L495.4 423.2L525.5 429.1M405.1 429.7L435.2 425.5L465.3 427.9L495.4 434.3L525.5 425.4M405.1 424L435.2 431.3L465.3 428L495.4 424.3L525.5 424.2M405.1 421.7L435.2 428.6L465.3 427.5L495.4 418.9L525.5 422.5M405.1 414.3L435.2 430.7L465.3 422.9L495.4 431.6L525.5 432.9M405.1 423.1L435.2 429.1L465.3 420.5L495.4 429L525.5 424.2M405.1 407.9L435.2 425.3L465.3 425.1L495.4 424.2L525.5 423.3M405.1 408.6L435.2 426.5L465.3 427.7L495.4 429.2L525.5 425.8M405.1 419.3L435.2 426.4L465.3 427.1L495.4 421.3L525.5 432.5M405.1 428L435.2 425.8L465.3 426.9L495.4 421.8L525.5 432.1M405.1 417.4L435.2 423.5L465.3 428.5L495.4 425.5L525.5 418.1M405.1 413.8L435.2 426.3L465.3 421.1L495.4 426.2L525.5 425.1M405.1 417.7L435.2 421.5L465.3 424L495.4 418.4L525.5 418.2M405.1 424.9L435.2 419.5L465.3 418.4L495.4 429.7L525.5 431.1M405.1 418.1L435.2 424.7L465.3 413.9L495.4 419.4L525.5 433.1M405.1 423.2L435.2 420.5L465.3 423L495.4 424.8L525.5 418.6M405.1 419.7L435.2 424.3L465.3 425.5L495.4 425.3L525.5 419.3M405.1 422.2L435.2 431.3L465.3 421.4L495.4 417.7L525.5 427.6M405.1 420.2L435.2 437.9L465.3 421.4L495.4 419.4L525.5 425.3M405.1 423.2L435.2 424.7L465.3 425.5L495.4 412.4L525.5 424.2M405.1 426.5L435.2 422L465.3 414.3L495.4 422.5L525.5 425.3M405.1 426.7L435.2 425.9L465.3 422L495.4 414.9L525.5 418.2M405.1 421.1L435.2 428.7L465.3 425.1L495.4 437.3L525.5 419.6M405.1 429.8L435.2 427.3L465.3 418.2L495.4 426.8L525.5 421.4M405.1 423.9L435.2 423.5L465.3 425L495.4 417.3L525.5 431.5M405.1 419.9L435.2 432.5L465.3 414.1L495.4 427.4L525.5 423.9M405.1 424.6L435.2 415.1L465.3 416.4L495.4 406.3L525.5 421.6M405.1 423.8L435.2 428.9L465.3 422.7L495.4 427.3L525.5 428.2M405.1 423.7L435.2 430.7L465.3 428.1L495.4 420.3L525.5 428.5M405.1 423L435.2 423.1L465.3 414L495.4 428.9L525.5 428.1M405.1 413.6L435.2 437.2L465.3 407.4L495.4 417.7L525.5 427M405.1 423.5L435.2 425.4L465.3 425L495.4 442.4L525.5 421.2M405.1 426.6L435.2 424.7L465.3 426.1L495.4 424.5L525.5 421.2M405.1 420.9L435.2 429.2L465.3 428.4L495.4 426.9L525.5 420.4M405.1 419.8L435.2 423L465.3 421.4L495.4 431L525.5 422.3M405.1 418L435.2 424.4L465.3 418.8L495.4 427.7L525.5 423.1M405.1 416.9L435.2 428.9L465.3 423.8L495.4 420.8L525.5 430.2M405.1 425.1L435.2 428.4L465.3 426.5L495.4 423.8L525.5 422.3M405.1 419.5L435.2 427.6L465.3 423.6L495.4 419.4L525.5 419.6M405.1 419.3L435.2 427.4L465.3 425L495.4 429L525.5 431.9M405.1 425.7L435.2 434.7L465.3 420.6L495.4 427.3L525.5 435.2M405.1 428.1L435.2 422.9L465.3 428.3L495.4 428.9L525.5 432.4M405.1 421.7L435.2 431.3L465.3 423.9L495.4 431.8L525.5 413.3M405.1 415.5L435.2 423.5L465.3 413.2L495.4 427.6L525.5 416.1M405.1 420.3L435.2 423.3L465.3 423.9L495.4 428.2L525.5 426.1M405.1 417.9L435.2 428.3L465.3 425.9L495.4 429.8L525.5 421.9M405.1 422.5L435.2 420.1L465.3 429.2L495.4 416.1L525.5 423.9M405.1 414.9L435.2 427.7L465.3 414.2L495.4 422.1L525.5 430.6M405.1 412.1L435.2 423.9L465.3 421.8L495.4 407.7L525.5 427.6M405.1 419.2L435.2 428.2L465.3 421.8L495.4 420.8L525.5 424M405.1 418.6L435.2 413.2L465.3 420.5L495.4 425.4L525.5 433.3M405.1 422.8L435.2 425.1L465.3 420.4L495.4 425.9L525.5 417.4M405.1 414.9L435.2 428.4L465.3 423.4L495.4 426.4L525.5 428M405.1 411.3L435.2 426.7L465.3 421.3L495.4 425.6L525.5 426.3M405.1 424.6L435.2 430.3L465.3 423.1L495.4 414L525.5 417.3M405.1 419.2L435.2 424.9L465.3 423.8L495.4 439.4L525.5 428.6M405.1 427.1L435.2 425.3L465.3 422.6L495.4 428L525.5 423.2M405.1 420.1L435.2 426.4L465.3 420.7L495.4 410.5L525.5 423.6M405.1 420.7L435.2 424.4L465.3 423.1L495.4 424.4L525.5 420.4M405.1 419.8L435.2 428.7L465.3 426L495.4 435L525.5 424.5M405.1 422.8L435.2 419.9L465.3 419.1L495.4 420L525.5 424.5M405.1 420.2L435.2 422.7L465.3 429.6L495.4 426.3L525.5 413.5M405.1 426.3L435.2 421.5L465.3 410.2L495.4 418.1L525.5 430.6M405.1 424.3L435.2 429.5L465.3 424.6L495.4 422.6L525.5 422.3M405.1 413.9L435.2 426.6L465.3 423.2L495.4 428.8L525.5 418.6" stroke="#cfcfcf" stroke-width="0.5" fill="none" stroke-linejoin="round"/>
<polyline points="75.8,74.7 105.8,79.3 135.9,103.4 166.1,94.6 196.2,111.5" stroke="#ab1a1a" stroke-width="2" fill="none" stroke-linejoin="round"/>
<circle cx="75.8" cy="74.7" r="2.1" fill="#921111"/>
<circle cx="105.8" cy="79.3" r="2.1" fill="#921111"/>
<circle cx="135.9" cy="103.4" r="2.1" fill="#921111"/>
<circle cx="166.1" cy="94.6" r="2.1" fill="#921111"/>
<circle cx="196.2" cy="111.5" r="2.1" fill="#921111"/>
<polyline points="240.4,82.6 270.6,88 300.6,86.2 330.8,89.5 360.9,117.9" stroke="#ab1a1a" stroke-width="2" fill="none" stroke-linejoin="round"/>
<circle cx="240.4" cy="82.6" r="2.1" fill="#921111"/>
<circle cx="270.6" cy="88" r="2.1" fill="#921111"/>
<circle cx="300.6" cy="86.2" r="2.1" fill="#921111"/>
<circle cx="330.8" cy="89.5" r="2.1" fill="#921111"/>
<circle cx="360.9" cy="117.9" r="2.1" fill="#921111"/>
<polyline points="405.1,99.2 435.2,76.8 465.3,95.2 495.4,92.2 525.5,100.7" stroke="#ab1a1a" stroke-width="2" fill="none" stroke-linejoin="round"/>
<circle cx="405.1" cy="99.2" r="2.1" fill="#921111"/>
<circle cx="435.2" cy="76.8" r="2.1" fill="#921111"/>
<circle cx="465.3" cy="95.2" r="2.1" fill="#921111"/>
<circle cx="495.4" cy="92.2" r="2.1" fill="#921111"/>
<circle cx="525.5" cy="100.7" r="2.1" fill="#921111"/>
<polyline points="75.8,242.5 105.8,261.2 135.9,262.7 166.1,259.4 196.2,265.5" stroke="#ab1a1a" stroke-width="2" fill="none" stroke-linejoin="round"/>
<circle cx="75.8" cy="242.5" r="2.1" fill="#921111"/>
<circle cx="105.8" cy="261.2" r="2.1" fill="#921111"/>
<circle cx="135.9" cy="262.7" r="2.1" fill="#921111"/>
<circle cx="166.1" cy="259.4" r="2.1" fill="#921111"/>
<circle cx="196.2" cy="265.5" r="2.1" fill="#921111"/>
<polyline points="240.4,273.3 270.6,270.9 300.6,265.5 330.8,241.3 360.9,240.1" stroke="#ab1a1a" stroke-width="2" fill="none" stroke-linejoin="round"/>
<circle cx="240.4" cy="273.3" r="2.1" fill="#921111"/>
<circle cx="270.6" cy="270.9" r="2.1" fill="#921111"/>
<circle cx="300.6" cy="265.5" r="2.1" fill="#921111"/>
<circle cx="330.8" cy="241.3" r="2.1" fill="#921111"/>
<circle cx="360.9" cy="240.1" r="2.1" fill="#921111"/>
<polyline points="405.1,249.8 435.2,258.2 465.3,278.1 495.4,252.5 525.5,252.8" stroke="#ab1a1a" stroke-width="2" fill="none" stroke-linejoin="round"/>
<circle cx="405.1" cy="249.8" r="2.1" fill="#921111"/>
<circle cx="435.2" cy="258.2" r="2.1" fill="#921111"/>
<circle cx="465.3" cy="278.1" r="2.1" fill="#921111"/>
<circle cx="495.4" cy="252.5" r="2.1" fill="#921111"/>
<circle cx="525.5" cy="252.8" r="2.1" fill="#921111"/>
<polyline points="75.8,428.3 105.8,429.9 135.9,430.5 166.1,430.2 196.2,401.5" stroke="#ab1a1a" stroke-width="2" fill="none" stroke-linejoin="round"/>
<circle cx="75.8" cy="428.3" r="2.1" fill="#921111"/>
<circle cx="105.8" cy="429.9" r="2.1" fill="#921111"/>
<circle cx="135.9" cy="430.5" r="2.1" fill="#921111"/>
<circle cx="166.1" cy="430.2" r="2.1" fill="#921111"/>
<circle cx="196.2" cy="401.5" r="2.1" fill="#921111"/>
<polyline points="240.4,427.1 270.6,426.8 300.6,420.2 330.8,410.9 360.9,434.7" stroke="#ab1a1a" stroke-width="2" fill="none" stroke-linejoin="round"/>
<circle cx="240.4" cy="427.1" r="2.1" fill="#921111"/>
<circle cx="270.6" cy="426.8" r="2.1" fill="#921111"/>
<circle cx="300.6" cy="420.2" r="2.1" fill="#921111"/>
<circle cx="330.8" cy="410.9" r="2.1" fill="#921111"/>
<circle cx="360.9" cy="434.7" r="2.1" fill="#921111"/>
<polyline points="405.1,420.8 435.2,425 465.3,424.4 495.4,423.2 525.5,426.2" stroke="#ab1a1a" stroke-width="2" fill="none" stroke-linejoin="round"/>
<circle cx="405.1" cy="420.8" r="2.1" fill="#921111"/>
<circle cx="435.2" cy="425" r="2.1" fill="#921111"/>
<circle cx="465.3" cy="424.4" r="2.1" fill="#921111"/>
<circle cx="495.4" cy="423.2" r="2.1" fill="#921111"/>
<circle cx="525.5" cy="426.2" r="2.1" fill="#921111"/>
<text x="139.5" y="11.6" font-size="10.5" fill="#1a1a1a" text-anchor="middle">Cluster 1 (n=480)</text>
<text x="304.9" y="11.6" font-size="10.5" fill="#1a1a1a" text-anchor="middle">Cluster 2 (n=526)</text>
<text x="469.9" y="11.6" font-size="10.5" fill="#1a1a1a" text-anchor="middle">Cluster 3 (n=438)</text>
<text x="138.6" y="189.6" font-size="10.5" fill="#1a1a1a" text-anchor="middle">Cluster 4 (n=823)</text>
<text x="304.6" y="189.6" font-size="10.5" fill="#1a1a1a" text-anchor="middle">Cluster 5 (n=267)</text>
<text x="472.6" y="189.6" font-size="10.5" fill="#1a1a1a" text-anchor="middle">Cluster 6 (n=253)</text>
<text x="138.4" y="350.3" font-size="10.5" fill="#1a1a1a" text-anchor="middle">Cluster 7 (n=350)</text>
<text x="304.5" y="350.3" font-size="10.5" fill="#1a1a1a" text-anchor="middle">Cluster 8 (n=317)</text>
<text x="472.8" y="350.3" font-size="10.5" fill="#1a1a1a" text-anchor="middle">Cluster 9 (n=1048)</text>
<text x="50.1" y="171.4" font-size="10.3" fill="#222" text-anchor="end" dominant-baseline="central">−15</text>
<text x="50.1" y="145.2" font-size="10.3" fill="#222" text-anchor="end" dominant-baseline="central">−10</text>
<text x="50.1" y="118.4" font-size="10.3" fill="#222" text-anchor="end" dominant-baseline="central">−5</text>
<text x="50.1" y="91.8" font-size="10.3" fill="#222" text-anchor="end" dominant-baseline="central">0</text>
<text x="50.1" y="65.3" font-size="10.3" fill="#222" text-anchor="end" dominant-baseline="central">5</text>
<text x="50.1" y="40.3" font-size="10.3" fill="#222" text-anchor="end" dominant-baseline="central">10</text>
<text x="50.1" y="337.1" font-size="10.3" fill="#222" text-anchor="end" dominant-baseline="central">−15</text>
<text x="50.1" y="310.9" font-size="10.3" fill="#222" text-anchor="end" dominant-baseline="central">−10</text>
<text x="50.1" y="284" font-size="10.3" fill="#222" text-anchor="end" dominant-baseline="central">−5</text>
<text x="50.1" y="257.5" font-size="10.3" fill="#222" text-anchor="end" dominant-baseline="central">0</text>
<text x="50.1" y="231" font-size="10.3" fill="#222" text-anchor="end" dominant-baseline="central">5</text>
<text x="50.1" y="205.9" font-size="10.3" fill="#222" text-anchor="end" dominant-baseline="central">10</text>
<text x="50.1" y="502.7" font-size="10.3" fill="#222" text-anchor="end" dominant-baseline="central">−15</text>
<text x="50.1" y="476.5" font-size="10.3" fill="#222" text-anchor="end" dominant-baseline="central">−10</text>
<text x="50.1" y="449.7" font-size="10.3" fill="#222" text-anchor="end" dominant-baseline="central">−5</text>
<text x="50.1" y="423.2" font-size="10.3" fill="#222" text-anchor="end" dominant-baseline="central">0</text>
<text x="50.1" y="396.6" font-size="10.3" fill="#222" text-anchor="end" dominant-baseline="central">5</text>
<text x="50.1" y="371.6" font-size="10.3" fill="#222" text-anchor="end" dominant-baseline="central">10</text>
<text x="76.5" y="518.5" font-size="10.4" fill="#222" text-anchor="middle">V</text>
<text x="106.6" y="518.5" font-size="10.4" fill="#222" text-anchor="middle">A</text>
<text x="136.8" y="518.5" font-size="10.4" fill="#222" text-anchor="middle">M</text>
<text x="166.9" y="518.5" font-size="10.4" fill="#222" text-anchor="middle">C</text>
<text x="197" y="518.5" font-size="10.4" fill="#222" text-anchor="middle">F</text>
<text x="239.8" y="518.5" font-size="10.4" fill="#222" text-anchor="middle">V</text>
<text x="269.9" y="518.5" font-size="10.4" fill="#222" text-anchor="middle">A</text>
<text x="300" y="518.5" font-size="10.4" fill="#222" text-anchor="middle">M</text>
<text x="330.1" y="518.5" font-size="10.4" fill="#222" text-anchor="middle">C</text>
<text x="360.2" y="518.5" font-size="10.4" fill="#222" text-anchor="middle">F</text>
<text x="405.6" y="518.5" font-size="10.4" fill="#222" text-anchor="middle">V</text>
<text x="435.8" y="518.5" font-size="10.4" fill="#222" text-anchor="middle">A</text>
<text x="465.8" y="518.5" font-size="10.4" fill="#222" text-anchor="middle">M</text>
<text x="495.9" y="518.5" font-size="10.4" fill="#222" text-anchor="middle">C</text>
<text x="526" y="518.5" font-size="10.4" fill="#222" text-anchor="middle">F</text>
<text x="302" y="539.6" font-size="13.4" fill="#111" text-anchor="middle">Stage</text>
<text transform="translate(17.3 260.7) rotate(-90)" x="0" y="0" font-size="13.4" fill="#111" text-anchor="middle">Expression (logFC)</text>
</svg></body></html>
